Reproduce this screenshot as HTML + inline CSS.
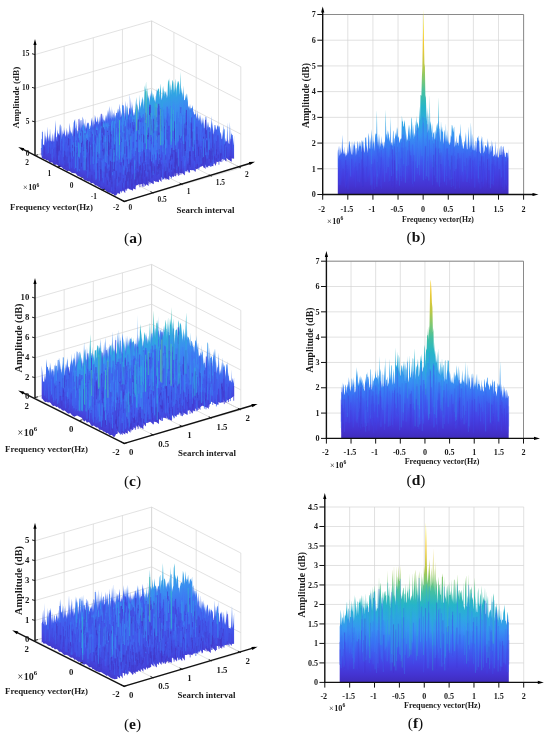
<!DOCTYPE html>
<html><head><meta charset="utf-8"><title>Figure</title>
<style>html,body{margin:0;padding:0;background:#fff}svg{display:block}text{font-family:'Liberation Serif', serif}</style>
</head><body>
<svg width="550" height="736" viewBox="0 0 550 736">
<rect width="550" height="736" fill="#fff"/>
<defs>
<linearGradient id="gb" gradientUnits="userSpaceOnUse" x1="0" y1="194.50" x2="0" y2="14.50"><stop offset="0.000" stop-color="#3f2cbc"/><stop offset="0.050" stop-color="#4434d2"/><stop offset="0.114" stop-color="#4442e4"/><stop offset="0.186" stop-color="#4058ee"/><stop offset="0.257" stop-color="#3a76f4"/><stop offset="0.329" stop-color="#3794f2"/><stop offset="0.400" stop-color="#2ea8e2"/><stop offset="0.486" stop-color="#26b5c8"/><stop offset="0.571" stop-color="#45c0a0"/><stop offset="0.643" stop-color="#80c870"/><stop offset="0.714" stop-color="#b8c848"/><stop offset="0.786" stop-color="#e0c838"/><stop offset="0.857" stop-color="#f5cc30"/><stop offset="1.000" stop-color="#f8f020"/></linearGradient>
<linearGradient id="gd" gradientUnits="userSpaceOnUse" x1="0" y1="438.40" x2="0" y2="261.20"><stop offset="0.000" stop-color="#3f2cbc"/><stop offset="0.050" stop-color="#4434d2"/><stop offset="0.114" stop-color="#4442e4"/><stop offset="0.186" stop-color="#4058ee"/><stop offset="0.257" stop-color="#3a76f4"/><stop offset="0.329" stop-color="#3794f2"/><stop offset="0.400" stop-color="#2ea8e2"/><stop offset="0.486" stop-color="#26b5c8"/><stop offset="0.571" stop-color="#45c0a0"/><stop offset="0.643" stop-color="#80c870"/><stop offset="0.714" stop-color="#b8c848"/><stop offset="0.786" stop-color="#e0c838"/><stop offset="0.857" stop-color="#f5cc30"/><stop offset="1.000" stop-color="#f8f020"/></linearGradient>
<linearGradient id="gf" gradientUnits="userSpaceOnUse" x1="0" y1="682.40" x2="0" y2="522.59"><stop offset="0.000" stop-color="#3f2cbc"/><stop offset="0.050" stop-color="#4434d2"/><stop offset="0.114" stop-color="#4442e4"/><stop offset="0.186" stop-color="#4058ee"/><stop offset="0.257" stop-color="#3a76f4"/><stop offset="0.329" stop-color="#3794f2"/><stop offset="0.400" stop-color="#2ea8e2"/><stop offset="0.486" stop-color="#26b5c8"/><stop offset="0.571" stop-color="#45c0a0"/><stop offset="0.643" stop-color="#80c870"/><stop offset="0.714" stop-color="#b8c848"/><stop offset="0.786" stop-color="#e0c838"/><stop offset="0.857" stop-color="#f5cc30"/><stop offset="1.000" stop-color="#f8f020"/></linearGradient>
<linearGradient id="ga" gradientUnits="userSpaceOnUse" x1="0" y1="0.00" x2="0" y2="-90.90"><stop offset="0.000" stop-color="#4238c8"/><stop offset="0.080" stop-color="#4444dc"/><stop offset="0.220" stop-color="#4259ec"/><stop offset="0.360" stop-color="#3e74f2"/><stop offset="0.500" stop-color="#3a8ef0"/><stop offset="0.650" stop-color="#30a6e2"/><stop offset="0.800" stop-color="#30b8cc"/><stop offset="1.000" stop-color="#60c8a0"/></linearGradient>
<linearGradient id="gc" gradientUnits="userSpaceOnUse" x1="0" y1="0.00" x2="0" y2="-89.55"><stop offset="0.000" stop-color="#4238c8"/><stop offset="0.080" stop-color="#4444dc"/><stop offset="0.220" stop-color="#4259ec"/><stop offset="0.360" stop-color="#3e74f2"/><stop offset="0.500" stop-color="#3a8ef0"/><stop offset="0.650" stop-color="#30a6e2"/><stop offset="0.800" stop-color="#30b8cc"/><stop offset="1.000" stop-color="#60c8a0"/></linearGradient>
<linearGradient id="ge" gradientUnits="userSpaceOnUse" x1="0" y1="0.00" x2="0" y2="-95.62"><stop offset="0.000" stop-color="#4238c8"/><stop offset="0.080" stop-color="#4444dc"/><stop offset="0.220" stop-color="#4259ec"/><stop offset="0.360" stop-color="#3e74f2"/><stop offset="0.500" stop-color="#3a8ef0"/><stop offset="0.650" stop-color="#30a6e2"/><stop offset="0.800" stop-color="#30b8cc"/><stop offset="1.000" stop-color="#60c8a0"/></linearGradient>
</defs>
<line x1="347.81" y1="14.50" x2="347.81" y2="194.50" stroke="#d4d4d4" stroke-width="0.7"/>
<line x1="372.93" y1="14.50" x2="372.93" y2="194.50" stroke="#d4d4d4" stroke-width="0.7"/>
<line x1="398.04" y1="14.50" x2="398.04" y2="194.50" stroke="#d4d4d4" stroke-width="0.7"/>
<line x1="423.15" y1="14.50" x2="423.15" y2="194.50" stroke="#d4d4d4" stroke-width="0.7"/>
<line x1="448.26" y1="14.50" x2="448.26" y2="194.50" stroke="#d4d4d4" stroke-width="0.7"/>
<line x1="473.38" y1="14.50" x2="473.38" y2="194.50" stroke="#d4d4d4" stroke-width="0.7"/>
<line x1="498.49" y1="14.50" x2="498.49" y2="194.50" stroke="#d4d4d4" stroke-width="0.7"/>
<line x1="523.60" y1="14.50" x2="523.60" y2="194.50" stroke="#d4d4d4" stroke-width="0.7"/>
<line x1="322.70" y1="168.79" x2="523.60" y2="168.79" stroke="#d4d4d4" stroke-width="0.7"/>
<line x1="322.70" y1="143.07" x2="523.60" y2="143.07" stroke="#d4d4d4" stroke-width="0.7"/>
<line x1="322.70" y1="117.36" x2="523.60" y2="117.36" stroke="#d4d4d4" stroke-width="0.7"/>
<line x1="322.70" y1="91.64" x2="523.60" y2="91.64" stroke="#d4d4d4" stroke-width="0.7"/>
<line x1="322.70" y1="65.93" x2="523.60" y2="65.93" stroke="#d4d4d4" stroke-width="0.7"/>
<line x1="322.70" y1="40.21" x2="523.60" y2="40.21" stroke="#d4d4d4" stroke-width="0.7"/>
<line x1="322.70" y1="14.50" x2="523.60" y2="14.50" stroke="#d4d4d4" stroke-width="0.7"/>
<line x1="322.70" y1="14.50" x2="523.60" y2="14.50" stroke="#8a8a8a" stroke-width="1.0"/>
<line x1="523.60" y1="14.50" x2="523.60" y2="194.50" stroke="#8a8a8a" stroke-width="1.0"/>
<polygon points="337.8,194.5 337.8,153.2 338.3,145.7 338.7,158.7 339.2,145.3 339.7,155.9 340.2,153.9 340.7,146.9 341.2,153.9 341.7,151.4 342.2,134.5 342.7,147.6 343.1,151.1 343.6,154.5 344.1,146.4 344.6,154.6 345.1,152.0 345.6,157.0 346.1,152.5 346.6,155.7 347.1,154.6 347.6,146.0 348.0,154.0 348.5,150.4 349.0,141.2 349.5,141.4 350.0,145.6 350.5,148.8 351.0,153.3 351.5,155.1 352.0,140.3 352.4,148.7 352.9,155.4 353.4,146.4 353.9,143.3 354.4,146.3 354.9,140.3 355.4,155.9 355.9,147.4 356.4,148.5 356.9,155.2 357.3,144.8 357.8,140.5 358.3,145.4 358.8,151.4 359.3,140.2 359.8,146.5 360.3,146.3 360.8,141.5 361.3,152.7 361.7,139.8 362.2,142.4 362.7,140.1 363.2,151.4 363.7,139.5 364.2,151.1 364.7,152.9 365.2,137.9 365.7,137.6 366.1,137.1 366.6,145.2 367.1,148.8 367.6,153.3 368.1,141.2 368.6,132.7 369.1,136.9 369.6,148.0 370.1,149.1 370.6,140.6 371.0,136.9 371.5,129.0 372.0,149.8 372.5,143.2 373.0,134.3 373.5,144.1 374.0,140.5 374.5,151.3 375.0,138.4 375.4,132.9 375.9,134.7 376.4,133.3 376.9,109.6 377.4,146.5 377.9,135.4 378.4,146.9 378.9,133.6 379.4,149.4 379.8,133.4 380.3,147.3 380.8,142.9 381.3,144.0 381.8,135.8 382.3,146.5 382.8,141.9 383.3,149.3 383.8,144.4 384.3,140.9 384.7,147.2 385.2,136.0 385.7,109.6 386.2,133.5 386.7,135.0 387.2,139.8 387.7,129.7 388.2,135.0 388.7,130.7 389.1,141.2 389.6,136.6 390.1,144.0 390.6,116.6 391.1,142.8 391.6,142.4 392.1,146.0 392.6,142.1 393.1,130.3 393.5,131.7 394.0,144.4 394.5,138.9 395.0,137.7 395.5,131.9 396.0,136.7 396.5,133.4 397.0,127.1 397.5,129.8 398.0,138.2 398.4,136.1 398.9,137.8 399.4,143.3 399.9,141.2 400.4,139.3 400.9,138.5 401.4,138.4 401.9,115.6 402.4,121.9 402.8,120.5 403.3,126.2 403.8,126.8 404.3,120.0 404.8,122.4 405.3,128.1 405.8,132.6 406.3,142.2 406.8,132.6 407.2,139.0 407.7,140.7 408.2,131.7 408.7,124.5 409.2,136.6 409.7,124.6 410.2,130.6 410.7,139.5 411.2,118.9 411.7,117.1 412.1,135.7 412.6,121.5 413.1,139.4 413.6,124.1 414.1,137.6 414.6,132.5 415.1,136.2 415.6,120.3 416.1,131.7 416.5,115.7 417.0,124.5 417.5,121.7 418.0,125.0 418.5,128.7 419.0,124.1 419.5,106.3 420.0,121.7 420.5,95.4 420.9,94.7 421.4,96.0 421.9,76.4 422.4,66.9 422.9,37.2 423.4,9.5 423.9,37.2 424.4,63.6 424.9,67.0 425.4,97.8 425.8,94.9 426.3,110.2 426.8,121.5 427.3,107.4 427.8,133.1 428.3,128.9 428.8,112.2 429.3,132.9 429.8,94.2 430.2,125.8 430.7,121.0 431.2,126.0 431.7,133.2 432.2,123.1 432.7,141.3 433.2,131.7 433.7,133.7 434.2,131.2 434.6,139.7 435.1,137.7 435.6,129.6 436.1,134.1 436.6,124.0 437.1,128.9 437.6,122.5 438.1,126.0 438.6,96.8 439.1,137.3 439.5,125.2 440.0,138.4 440.5,142.4 441.0,121.1 441.5,132.0 442.0,126.3 442.5,132.5 443.0,130.7 443.5,143.9 443.9,140.9 444.4,129.6 444.9,132.3 445.4,141.9 445.9,123.1 446.4,142.3 446.9,134.3 447.4,142.8 447.9,129.6 448.3,140.2 448.8,143.3 449.3,145.2 449.8,142.8 450.3,142.5 450.8,134.9 451.3,137.1 451.8,125.1 452.3,125.4 452.8,129.4 453.2,132.5 453.7,128.5 454.2,126.4 454.7,147.0 455.2,145.3 455.7,140.4 456.2,146.1 456.7,135.3 457.2,143.0 457.6,143.0 458.1,142.6 458.6,146.6 459.1,132.8 459.6,135.1 460.1,136.2 460.6,123.3 461.1,140.5 461.6,134.9 462.0,146.4 462.5,141.8 463.0,149.1 463.5,148.2 464.0,145.7 464.5,141.8 465.0,140.9 465.5,131.7 466.0,144.3 466.5,150.0 466.9,133.6 467.4,149.6 467.9,149.1 468.4,126.5 468.9,135.9 469.4,144.8 469.9,148.9 470.4,144.1 470.9,122.0 471.3,134.0 471.8,143.9 472.3,150.5 472.8,133.4 473.3,140.1 473.8,150.2 474.3,150.4 474.8,143.8 475.3,151.0 475.7,140.7 476.2,141.2 476.7,152.4 477.2,137.5 477.7,138.1 478.2,135.6 478.7,140.9 479.2,140.6 479.7,151.0 480.2,153.4 480.6,152.9 481.1,135.6 481.6,142.3 482.1,136.3 482.6,148.4 483.1,140.6 483.6,153.6 484.1,152.1 484.6,150.3 485.0,145.3 485.5,145.3 486.0,146.6 486.5,148.1 487.0,145.4 487.5,137.9 488.0,147.9 488.5,140.8 489.0,155.2 489.4,149.7 489.9,146.6 490.4,145.6 490.9,152.5 491.4,150.0 491.9,139.9 492.4,145.7 492.9,147.1 493.4,156.1 493.9,156.5 494.3,154.1 494.8,155.4 495.3,140.4 495.8,157.6 496.3,152.0 496.8,157.1 497.3,147.5 497.8,157.5 498.3,157.4 498.7,157.3 499.2,154.4 499.7,149.4 500.2,145.5 500.7,154.9 501.2,154.8 501.7,145.6 502.2,147.2 502.7,157.6 503.2,146.5 503.6,146.2 504.1,157.3 504.6,150.1 505.1,157.2 505.6,156.7 506.1,152.8 506.6,152.5 507.1,153.3 507.6,152.5 508.0,157.8 508.5,148.8 508.5,194.5" fill="url(#gb)"/>
<path d="M423.4,122.7V170.5M502.2,152.1V178.4M486.5,153.0V180.2M451.3,161.1V187.2M438.1,140.9V184.5M444.4,139.3V182.3M467.4,166.3V177.4M477.7,147.4V166.9M451.3,157.5V174.1M474.8,165.2V187.8M379.8,156.3V170.4M393.5,158.4V174.0M453.2,139.6V186.0M462.0,153.5V169.4M412.6,144.7V183.9M455.2,161.4V188.9M378.9,153.7V178.8M417.5,148.3V173.8M504.6,153.0V180.1M506.6,160.6V185.5M339.2,163.6V185.0M478.2,140.4V165.2M478.7,162.2V182.3M394.0,155.4V169.3M481.6,152.7V180.9M389.6,159.5V181.1M401.4,142.3V181.2M366.1,149.0V181.9M403.3,151.2V177.5M391.6,145.7V168.8M481.6,157.1V182.0M427.3,124.2V165.7M432.7,159.3V185.2M401.4,147.7V164.1M453.2,153.5V168.2M449.3,154.4V180.3M479.2,151.8V183.6M504.1,164.8V189.7M402.8,134.8V171.1M417.5,128.0V164.0M368.1,151.5V175.9M435.6,152.6V178.1M493.4,166.2V185.4M465.0,150.4V170.5M396.5,140.1V184.3M486.0,154.9V170.2M357.8,154.8V181.6M359.3,157.0V182.2M379.4,151.8V174.4M374.5,164.2V176.7M466.5,161.7V173.9M463.5,152.9V174.8M398.9,152.1V174.1M409.7,150.6V166.3M446.4,154.9V185.3M491.9,156.0V184.0M467.9,158.7V178.8M376.9,142.0V184.4M450.8,144.5V179.6M471.3,157.8V178.9M454.2,147.8V164.9M372.0,165.2V189.9M372.0,159.2V182.8M463.0,162.1V181.9M493.4,164.8V181.0M478.7,164.9V178.3M481.6,154.5V179.9M440.0,148.6V182.8M474.3,159.3V179.0M410.2,152.2V167.8M461.1,158.1V175.5M471.3,152.0V170.7M451.3,155.2V184.9" stroke="#4059ee" stroke-width="0.7" fill="none" opacity="0.5"/>
<path d="M392.1,160.3V186.5M457.2,159.3V183.2M346.6,173.0V186.6M435.6,139.7V176.9M427.8,156.3V183.3M343.1,168.8V184.0M363.2,167.5V185.5M441.0,152.7V183.1M454.7,155.9V186.5M494.8,165.8V183.3M394.5,146.4V186.0M502.2,157.1V187.1M492.9,157.7V185.0M345.6,160.1V185.0M506.1,161.5V185.4M458.1,153.1V179.1M440.0,155.5V184.3M410.7,155.4V183.3M479.7,166.4V180.4M345.6,170.8V187.4M409.2,141.0V181.0M451.3,162.1V177.2M497.3,156.6V182.7M481.6,156.9V188.5M472.8,160.3V187.0M392.6,149.3V187.3M470.4,158.2V186.3M414.1,155.1V184.4M481.6,155.5V182.4M396.5,152.7V188.2M361.7,159.5V181.1M466.5,158.2V186.1M397.5,146.7V179.1M338.7,169.8V181.7M425.4,146.1V179.7M356.9,170.6V181.3M489.0,170.8V180.6M503.2,149.5V182.2M425.8,146.4V186.6M359.3,163.1V179.4M392.1,159.5V185.1M502.7,170.9V190.9M366.6,166.9V182.1M435.1,161.3V185.3M489.0,170.1V185.1" stroke="#4437d6" stroke-width="0.7" fill="none" opacity="0.5"/>
<path d="M466.9,143.8V182.2M371.0,141.5V185.4M396.5,151.1V178.2M436.6,146.5V164.9M419.5,141.5V175.3M462.5,149.6V171.9M377.9,144.4V165.6M386.2,151.9V173.0M408.7,146.5V165.0M434.2,151.3V175.5M454.7,152.8V171.0M415.6,125.3V161.4M455.7,148.0V169.2M425.8,138.6V179.4M427.8,142.2V177.3M350.5,151.8V176.5M451.8,137.4V179.2M377.4,156.2V176.7M399.4,148.1V185.7M398.4,140.1V163.9M403.3,134.9V166.1M449.3,148.5V166.3M396.5,154.5V170.8M417.0,134.8V168.2M391.6,153.9V176.1M432.2,137.0V162.1M354.9,148.9V167.5M439.5,147.9V186.7M450.3,151.7V169.5M456.7,147.1V168.7M338.3,149.9V167.2M376.9,151.2V186.8M444.9,149.7V166.4M444.4,146.4V181.5M427.3,135.2V161.2M400.9,149.2V176.0M446.9,145.1V176.1M465.0,144.8V166.1M422.9,116.8V152.9M501.7,155.4V177.2M400.4,151.2V167.8M490.4,154.2V188.3M384.7,155.6V181.9M478.2,152.4V178.7" stroke="#3b73f3" stroke-width="0.7" fill="none" opacity="0.5"/>
<path d="M474.8,157.6V186.9M373.5,163.8V175.0M493.9,160.0V173.7M339.2,159.9V174.4M477.2,142.9V173.8M355.9,166.1V178.8M355.4,162.5V187.6M374.5,159.4V189.1M448.3,160.3V178.3M505.6,165.2V180.2M447.4,148.2V178.1M487.5,149.4V176.2M438.1,132.1V168.5M497.3,161.7V175.4M392.6,149.5V181.3M436.1,147.6V165.5M485.5,153.6V177.2M435.6,148.5V166.9M440.5,159.5V176.1M429.3,139.7V176.8M377.4,162.0V173.7M400.9,158.5V179.1M480.2,161.1V188.8M474.3,167.0V178.6M467.4,165.6V182.0M501.7,160.3V176.6M413.1,161.8V186.9M472.8,150.3V171.0M492.4,162.5V184.3M372.0,167.1V184.3M351.5,158.8V177.3M439.1,147.9V186.0M346.6,165.1V184.6M407.7,150.4V170.4M340.2,171.1V183.0M391.1,145.5V170.0M493.4,164.5V180.2M348.0,169.8V189.5M483.6,162.1V173.8M483.6,163.9V181.0M491.9,164.0V175.5M505.6,168.7V183.9M345.6,160.9V187.7M457.6,164.4V181.6M403.3,147.7V177.2M464.0,162.0V180.7M377.9,148.7V170.1M372.5,164.6V184.5M404.8,138.8V170.4M469.9,156.0V172.6M469.4,160.1V183.1M502.2,154.9V187.2M340.7,159.7V185.0M352.0,159.8V174.5M362.7,148.7V186.3M380.3,167.9V186.3M405.8,146.8V168.5M381.3,150.1V175.4M385.2,148.0V170.9M486.5,168.1V182.7M381.3,157.5V188.8M388.7,157.3V182.1M489.0,158.6V183.7M440.5,160.1V177.6M433.7,143.5V169.6M483.1,156.2V186.6M446.9,148.8V175.3M367.6,155.7V177.5M346.6,171.1V180.9M459.6,158.2V188.2M483.6,168.5V184.4" stroke="#4345e6" stroke-width="0.7" fill="none" opacity="0.5"/>
<path d="M397.0,145.0V180.5M405.3,137.5V182.8M438.6,121.5V148.8M406.8,139.7V166.0M426.3,141.2V176.2M439.5,128.7V153.3M417.5,140.2V168.0M433.2,137.7V167.3M419.0,135.1V165.2M421.9,133.4V156.2M441.0,129.8V164.2M425.4,118.0V145.2M397.0,137.4V170.7M371.5,144.0V164.2M428.8,133.8V180.5M388.2,138.9V167.1M414.6,142.8V181.5M423.4,118.4V180.3M403.8,141.2V164.3M437.1,142.4V182.3" stroke="#388df2" stroke-width="0.7" fill="none" opacity="0.5"/>
<path d="M433.7,154.8V186.2M362.7,147.4V186.9M499.2,169.2V189.5M507.6,158.1V185.4M451.8,155.6V185.7M487.5,159.2V187.6M394.5,160.4V189.1" stroke="#412fc5" stroke-width="0.7" fill="none" opacity="0.5"/>
<line x1="322.70" y1="195.20" x2="322.70" y2="10.40" stroke="#111" stroke-width="1.4"/>
<polygon points="322.70,6.40 324.30,12.40 321.10,12.40" fill="#000"/>
<line x1="322.00" y1="194.50" x2="534.50" y2="194.50" stroke="#111" stroke-width="1.4"/>
<polygon points="538.50,194.50 532.50,196.10 532.50,192.90" fill="#000"/>
<line x1="322.70" y1="194.50" x2="322.70" y2="199.70" stroke="#111" stroke-width="1.0"/>
<text x="321.7" y="211.8" font-size="8.1" text-anchor="middle" font-weight="bold" fill="#1a1a1a">-2</text>
<line x1="347.81" y1="194.50" x2="347.81" y2="199.70" stroke="#111" stroke-width="1.0"/>
<text x="346.8" y="211.8" font-size="8.1" text-anchor="middle" font-weight="bold" fill="#1a1a1a">-1.5</text>
<line x1="372.93" y1="194.50" x2="372.93" y2="199.70" stroke="#111" stroke-width="1.0"/>
<text x="371.9" y="211.8" font-size="8.1" text-anchor="middle" font-weight="bold" fill="#1a1a1a">-1</text>
<line x1="398.04" y1="194.50" x2="398.04" y2="199.70" stroke="#111" stroke-width="1.0"/>
<text x="397.0" y="211.8" font-size="8.1" text-anchor="middle" font-weight="bold" fill="#1a1a1a">-0.5</text>
<line x1="423.15" y1="194.50" x2="423.15" y2="199.70" stroke="#111" stroke-width="1.0"/>
<text x="423.1" y="211.8" font-size="8.1" text-anchor="middle" font-weight="bold" fill="#1a1a1a">0</text>
<line x1="448.26" y1="194.50" x2="448.26" y2="199.70" stroke="#111" stroke-width="1.0"/>
<text x="448.3" y="211.8" font-size="8.1" text-anchor="middle" font-weight="bold" fill="#1a1a1a">0.5</text>
<line x1="473.38" y1="194.50" x2="473.38" y2="199.70" stroke="#111" stroke-width="1.0"/>
<text x="473.4" y="211.8" font-size="8.1" text-anchor="middle" font-weight="bold" fill="#1a1a1a">1</text>
<line x1="498.49" y1="194.50" x2="498.49" y2="199.70" stroke="#111" stroke-width="1.0"/>
<text x="498.5" y="211.8" font-size="8.1" text-anchor="middle" font-weight="bold" fill="#1a1a1a">1.5</text>
<line x1="523.60" y1="194.50" x2="523.60" y2="199.70" stroke="#111" stroke-width="1.0"/>
<text x="523.6" y="211.8" font-size="8.1" text-anchor="middle" font-weight="bold" fill="#1a1a1a">2</text>
<line x1="317.30" y1="194.50" x2="322.70" y2="194.50" stroke="#111" stroke-width="1.0"/>
<text x="315.9" y="197.2" font-size="8.1" text-anchor="end" font-weight="bold" fill="#1a1a1a">0</text>
<line x1="317.30" y1="168.79" x2="322.70" y2="168.79" stroke="#111" stroke-width="1.0"/>
<text x="315.9" y="171.5" font-size="8.1" text-anchor="end" font-weight="bold" fill="#1a1a1a">1</text>
<line x1="317.30" y1="143.07" x2="322.70" y2="143.07" stroke="#111" stroke-width="1.0"/>
<text x="315.9" y="145.7" font-size="8.1" text-anchor="end" font-weight="bold" fill="#1a1a1a">2</text>
<line x1="317.30" y1="117.36" x2="322.70" y2="117.36" stroke="#111" stroke-width="1.0"/>
<text x="315.9" y="120.0" font-size="8.1" text-anchor="end" font-weight="bold" fill="#1a1a1a">3</text>
<line x1="317.30" y1="91.64" x2="322.70" y2="91.64" stroke="#111" stroke-width="1.0"/>
<text x="315.9" y="94.3" font-size="8.1" text-anchor="end" font-weight="bold" fill="#1a1a1a">4</text>
<line x1="317.30" y1="65.93" x2="322.70" y2="65.93" stroke="#111" stroke-width="1.0"/>
<text x="315.9" y="68.6" font-size="8.1" text-anchor="end" font-weight="bold" fill="#1a1a1a">5</text>
<line x1="317.30" y1="40.21" x2="322.70" y2="40.21" stroke="#111" stroke-width="1.0"/>
<text x="315.9" y="42.9" font-size="8.1" text-anchor="end" font-weight="bold" fill="#1a1a1a">6</text>
<line x1="317.30" y1="14.50" x2="322.70" y2="14.50" stroke="#111" stroke-width="1.0"/>
<text x="315.9" y="17.2" font-size="8.1" text-anchor="end" font-weight="bold" fill="#1a1a1a">7</text>
<text x="438.0" y="221.5" font-size="7.7" text-anchor="middle" font-weight="bold" fill="#1a1a1a">Frequency vector(Hz)</text>
<text x="309.2" y="95.5" font-size="9.7" text-anchor="middle" font-weight="bold" transform="rotate(-90 309.2 95.5)" fill="#1a1a1a">Amplitude (dB)</text>
<text x="327.0" y="223.8" font-size="8.2" fill="#1a1a1a">×<tspan font-weight="bold" dx="0.6">10</tspan><tspan dy="-3.7" font-size="5.6" font-weight="bold">6</tspan></text>
<text x="416.0" y="242.0" font-size="15.5" text-anchor="middle" fill="#111">(<tspan font-weight="bold">b</tspan>)</text>
<line x1="351.04" y1="261.20" x2="351.04" y2="438.40" stroke="#d4d4d4" stroke-width="0.7"/>
<line x1="375.67" y1="261.20" x2="375.67" y2="438.40" stroke="#d4d4d4" stroke-width="0.7"/>
<line x1="400.31" y1="261.20" x2="400.31" y2="438.40" stroke="#d4d4d4" stroke-width="0.7"/>
<line x1="424.95" y1="261.20" x2="424.95" y2="438.40" stroke="#d4d4d4" stroke-width="0.7"/>
<line x1="449.59" y1="261.20" x2="449.59" y2="438.40" stroke="#d4d4d4" stroke-width="0.7"/>
<line x1="474.23" y1="261.20" x2="474.23" y2="438.40" stroke="#d4d4d4" stroke-width="0.7"/>
<line x1="498.86" y1="261.20" x2="498.86" y2="438.40" stroke="#d4d4d4" stroke-width="0.7"/>
<line x1="523.50" y1="261.20" x2="523.50" y2="438.40" stroke="#d4d4d4" stroke-width="0.7"/>
<line x1="326.40" y1="413.09" x2="523.50" y2="413.09" stroke="#d4d4d4" stroke-width="0.7"/>
<line x1="326.40" y1="387.77" x2="523.50" y2="387.77" stroke="#d4d4d4" stroke-width="0.7"/>
<line x1="326.40" y1="362.46" x2="523.50" y2="362.46" stroke="#d4d4d4" stroke-width="0.7"/>
<line x1="326.40" y1="337.14" x2="523.50" y2="337.14" stroke="#d4d4d4" stroke-width="0.7"/>
<line x1="326.40" y1="311.83" x2="523.50" y2="311.83" stroke="#d4d4d4" stroke-width="0.7"/>
<line x1="326.40" y1="286.51" x2="523.50" y2="286.51" stroke="#d4d4d4" stroke-width="0.7"/>
<line x1="326.40" y1="261.20" x2="523.50" y2="261.20" stroke="#d4d4d4" stroke-width="0.7"/>
<line x1="326.40" y1="261.20" x2="523.50" y2="261.20" stroke="#8a8a8a" stroke-width="1.0"/>
<line x1="523.50" y1="261.20" x2="523.50" y2="438.40" stroke="#8a8a8a" stroke-width="1.0"/>
<polygon points="341.2,438.4 341.2,392.6 341.7,391.8 342.1,382.1 342.6,395.0 343.1,386.0 343.6,383.4 344.1,393.2 344.5,395.2 345.0,391.4 345.5,384.2 346.0,385.9 346.5,393.3 346.9,388.1 347.4,383.5 347.9,388.1 348.4,383.9 348.9,377.1 349.3,382.7 349.8,388.2 350.3,391.8 350.8,388.8 351.3,385.6 351.7,377.9 352.2,380.1 352.7,388.9 353.2,376.8 353.7,385.7 354.1,381.2 354.6,392.2 355.1,392.2 355.6,390.3 356.1,376.8 356.5,367.1 357.0,377.2 357.5,370.4 358.0,385.9 358.5,383.6 358.9,382.0 359.4,376.3 359.9,384.9 360.4,375.3 360.9,381.1 361.3,376.4 361.8,383.2 362.3,379.0 362.8,386.1 363.3,382.3 363.7,388.3 364.2,390.2 364.7,391.2 365.2,378.1 365.7,383.1 366.1,373.6 366.6,374.8 367.1,384.2 367.6,371.5 368.1,379.6 368.5,375.8 369.0,383.3 369.5,387.3 370.0,387.7 370.5,369.9 370.9,368.7 371.4,388.5 371.9,390.0 372.4,373.2 372.9,388.4 373.3,381.3 373.8,380.4 374.3,377.4 374.8,379.8 375.3,370.0 375.7,374.1 376.2,377.9 376.7,376.9 377.2,379.2 377.7,368.7 378.1,384.8 378.6,374.7 379.1,377.6 379.6,356.1 380.1,382.9 380.5,368.7 381.0,371.9 381.5,388.1 382.0,382.5 382.5,387.9 382.9,370.4 383.4,385.9 383.9,386.8 384.4,364.5 384.9,378.6 385.3,357.2 385.8,386.5 386.3,379.5 386.8,379.9 387.3,376.2 387.7,386.8 388.2,384.1 388.7,382.8 389.2,377.6 389.7,358.7 390.1,373.4 390.6,380.7 391.1,366.1 391.6,364.7 392.1,385.0 392.5,381.9 393.0,373.9 393.5,368.8 394.0,384.5 394.5,382.0 394.9,375.9 395.4,347.3 395.9,364.9 396.4,365.6 396.9,367.3 397.3,351.4 397.8,362.5 398.3,371.3 398.8,354.6 399.3,358.3 399.7,370.7 400.2,376.2 400.7,374.7 401.2,365.8 401.7,365.2 402.1,371.9 402.6,365.7 403.1,375.0 403.6,360.8 404.1,370.0 404.5,360.7 405.0,382.6 405.5,362.6 406.0,370.6 406.5,366.7 406.9,379.1 407.4,356.0 407.9,376.6 408.4,380.6 408.9,382.5 409.3,355.1 409.8,366.8 410.3,378.0 410.8,376.7 411.3,371.6 411.7,362.5 412.2,379.5 412.7,358.3 413.2,358.8 413.7,376.3 414.1,366.4 414.6,348.0 415.1,364.7 415.6,379.4 416.1,370.2 416.5,367.1 417.0,365.9 417.5,364.0 418.0,358.6 418.5,375.0 418.9,376.9 419.4,371.0 419.9,366.2 420.4,355.5 420.9,361.8 421.3,360.7 421.8,353.8 422.3,371.7 422.8,371.1 423.3,366.2 423.7,368.3 424.2,344.7 424.7,348.0 425.2,366.8 425.7,355.5 426.2,348.5 426.6,350.2 427.1,335.0 427.6,335.4 428.1,326.2 428.6,340.1 429.0,330.9 429.5,325.3 430.0,295.4 430.5,279.5 431.0,282.7 431.4,289.5 431.9,302.8 432.4,307.6 432.9,332.6 433.4,327.9 433.8,346.0 434.3,354.7 434.8,342.1 435.3,363.2 435.8,350.1 436.2,363.3 436.7,360.4 437.2,351.6 437.7,369.9 438.2,347.8 438.6,369.5 439.1,374.3 439.6,368.1 440.1,375.8 440.6,360.9 441.0,366.1 441.5,374.7 442.0,357.5 442.5,373.8 443.0,366.0 443.4,364.6 443.9,376.4 444.4,382.0 444.9,361.2 445.4,359.7 445.8,379.3 446.3,379.8 446.8,373.5 447.3,369.7 447.8,359.9 448.2,360.8 448.7,360.4 449.2,378.7 449.7,370.5 450.2,374.6 450.6,379.5 451.1,383.1 451.6,381.1 452.1,377.1 452.6,383.1 453.0,381.9 453.5,384.2 454.0,371.5 454.5,374.8 455.0,380.6 455.4,374.3 455.9,376.8 456.4,371.5 456.9,365.1 457.4,378.9 457.8,372.4 458.3,382.1 458.8,365.7 459.3,373.5 459.8,383.8 460.2,381.9 460.7,384.1 461.2,383.8 461.7,381.3 462.2,369.8 462.6,378.4 463.1,382.4 463.6,379.5 464.1,382.9 464.6,372.8 465.0,387.3 465.5,360.9 466.0,382.4 466.5,385.4 467.0,373.6 467.4,385.7 467.9,364.2 468.4,388.3 468.9,373.9 469.4,382.6 469.8,376.5 470.3,385.9 470.8,389.6 471.3,384.1 471.8,374.5 472.2,373.4 472.7,384.0 473.2,373.6 473.7,390.0 474.2,380.9 474.6,386.5 475.1,383.0 475.6,387.5 476.1,373.7 476.6,386.2 477.0,372.9 477.5,390.1 478.0,384.1 478.5,384.0 479.0,378.7 479.4,386.3 479.9,383.5 480.4,391.6 480.9,387.4 481.4,379.3 481.8,391.5 482.3,384.9 482.8,389.4 483.3,390.9 483.8,391.8 484.2,378.5 484.7,381.3 485.2,387.5 485.7,387.5 486.2,381.0 486.6,383.7 487.1,377.6 487.6,377.7 488.1,386.5 488.6,383.3 489.0,385.7 489.5,390.2 490.0,387.7 490.5,382.8 491.0,386.2 491.4,384.8 491.9,387.8 492.4,379.0 492.9,382.6 493.4,394.5 493.8,382.2 494.3,380.4 494.8,382.6 495.3,391.5 495.8,391.2 496.2,393.5 496.7,396.6 497.2,389.8 497.7,383.0 498.2,384.8 498.6,386.9 499.1,383.7 499.6,387.3 500.1,360.9 500.6,385.0 501.0,393.0 501.5,383.8 502.0,394.0 502.5,397.8 503.0,387.3 503.4,397.9 503.9,385.1 504.4,393.3 504.9,387.1 505.4,399.2 505.8,391.6 506.3,389.5 506.8,398.6 507.3,391.0 507.8,398.6 508.2,396.3 508.7,395.5 508.7,438.4" fill="url(#gd)"/>
<path d="M434.3,374.7V426.7M367.1,388.5V409.0M433.4,363.4V405.0M356.1,388.8V420.7M422.8,391.4V409.5M341.7,411.1V429.3M367.6,397.4V422.8M417.0,384.0V417.5M344.5,409.5V432.1M420.9,386.0V421.1M465.5,383.3V408.3M418.5,402.4V417.6M505.8,403.4V417.4M367.6,391.9V415.4M508.7,406.3V426.5M455.9,390.3V424.7M420.4,385.2V423.7M407.4,362.6V410.2M394.5,394.8V418.7M429.0,375.8V414.3M466.5,408.6V420.3M461.7,388.4V420.1M493.4,401.0V416.3M410.3,404.9V418.0M372.4,401.1V425.6M364.7,405.9V426.9M384.4,383.9V409.9M469.4,399.0V427.5M395.9,388.7V407.6M371.9,396.0V413.2M399.7,387.1V406.8M372.9,395.5V418.1M388.7,405.2V422.6M368.1,399.4V418.1M410.8,400.1V417.7M448.2,390.8V424.1M360.9,396.1V429.7M498.6,405.7V420.1M455.9,385.3V428.6M466.0,387.9V423.3M362.8,398.2V427.2M381.0,397.1V426.8M485.7,400.7V432.1M418.9,393.9V429.0M485.7,390.2V414.1M457.8,385.6V412.6M343.1,408.4V423.3M461.2,388.4V411.1M358.5,405.0V417.0M499.1,388.7V421.8M369.0,389.6V430.8M492.9,405.8V421.2M361.3,383.6V424.2M357.5,398.3V419.4M497.2,402.1V417.1M490.0,402.5V423.9M392.5,390.8V425.0M394.5,387.4V411.8M483.8,395.6V423.7M346.0,400.3V422.3M378.1,395.1V417.8M384.4,382.7V429.9M364.7,401.3V419.1M360.4,396.0V420.4M389.2,390.8V421.4M360.4,391.4V428.2M445.8,403.2V415.6M448.7,373.3V422.8M368.1,405.5V423.0M396.9,393.2V416.7M463.1,398.2V420.3M474.2,387.4V408.2M424.2,384.1V405.6M478.5,396.1V415.7M459.8,397.8V421.7M353.2,394.5V427.5" stroke="#4059ee" stroke-width="0.7" fill="none" opacity="0.5"/>
<path d="M441.5,379.7V402.0M375.7,387.9V407.0M480.4,397.5V421.4M357.0,399.9V422.8M413.2,371.6V397.5M366.6,393.2V426.2M464.6,397.3V415.2M390.1,393.3V425.7M419.4,379.8V417.5M482.8,396.7V411.8M341.2,398.5V428.1M343.6,389.3V411.9M443.9,380.9V417.8M365.2,385.3V422.9M436.2,382.7V415.3M433.8,381.3V427.6M399.7,395.9V430.3M460.2,389.2V418.6M374.3,392.8V411.6M436.7,370.3V424.5M422.8,380.2V419.6M367.6,377.0V412.0M365.7,396.7V431.7M485.7,392.8V431.0M395.4,375.2V404.4M441.0,385.6V405.3M433.8,366.7V392.7M463.1,385.6V405.0M377.2,387.5V417.3M501.5,390.9V408.5M423.3,389.9V423.7M468.4,396.6V432.0M437.7,392.4V409.9M468.9,378.4V426.1M370.5,390.4V418.7M414.1,389.5V409.7M418.0,390.4V408.4M408.9,388.7V407.8M444.4,386.3V424.1M384.9,388.4V407.4M440.6,386.3V408.7M428.1,362.8V415.7M454.5,393.4V412.2M358.5,397.0V412.3M466.0,392.2V411.1M459.3,395.3V414.0M388.7,387.5V426.7M422.3,394.3V431.1M413.2,387.6V408.4M462.6,391.3V418.3M455.9,385.4V413.6M406.0,393.2V421.7M348.9,381.8V422.8M402.1,383.3V411.8M434.8,385.2V407.4" stroke="#3b73f3" stroke-width="0.7" fill="none" opacity="0.5"/>
<path d="M479.4,403.6V430.9M400.2,394.4V428.4M410.8,393.3V428.6M459.3,380.0V425.8M455.9,401.7V422.8M500.6,405.0V426.5M410.3,394.2V426.9M405.0,403.5V429.1M489.0,403.0V429.3M443.9,390.2V427.4M343.1,408.1V426.2M411.3,390.9V431.1M459.3,400.7V425.8M372.9,391.2V425.4M341.7,405.0V432.1M344.1,399.2V429.8M474.6,399.1V430.3M472.2,400.2V430.4M502.0,401.8V432.6M459.8,397.6V431.1M359.9,408.5V428.7M504.4,408.6V427.1M348.4,395.6V426.5M493.4,413.7V424.0M439.1,382.3V427.7M491.9,404.9V431.2M502.0,413.6V425.0M394.5,390.4V429.9M430.0,369.3V423.3M455.0,388.6V423.8M380.1,390.7V421.9M350.8,410.1V429.2M506.8,413.1V425.7M453.0,403.9V429.3M463.6,405.9V421.3" stroke="#4437d6" stroke-width="0.7" fill="none" opacity="0.5"/>
<path d="M396.4,378.0V408.2M456.4,384.6V419.9M455.4,384.1V421.3M436.2,377.5V418.0M403.1,384.1V420.6M410.8,380.9V404.1M428.6,374.0V420.1M433.4,384.1V407.2M403.6,365.8V392.7M455.9,382.3V417.3M490.5,385.9V422.6M429.5,352.9V413.9M384.9,384.7V423.8M367.6,377.0V406.9M464.1,386.5V424.3M347.4,391.0V417.1M419.4,380.9V424.5M427.1,372.1V399.5M401.2,370.4V427.4M382.9,374.7V409.9M397.8,372.5V396.6M498.2,390.1V421.6M476.1,382.6V411.8M418.0,376.8V427.1M416.5,377.2V399.2M443.0,387.5V428.6M403.6,375.4V412.5" stroke="#388df2" stroke-width="0.7" fill="none" opacity="0.5"/>
<path d="M380.5,381.4V425.2M500.6,394.8V418.5M387.7,404.3V427.3M491.4,403.9V424.0M494.3,396.0V415.0M423.7,380.0V414.3M387.3,386.2V414.0M342.1,387.7V414.7M376.2,405.1V430.5M350.8,402.5V421.9M366.6,400.6V422.0M480.9,407.8V419.8M421.3,367.3V420.0M393.0,393.1V427.6M370.9,384.5V414.9M437.7,400.2V432.0M366.1,383.6V410.0M446.8,383.7V417.8M371.4,404.1V422.8M431.4,387.3V412.0M506.8,405.1V431.6M394.9,403.5V417.0M439.1,393.5V416.7M376.2,394.5V423.4M425.7,388.8V408.7M378.6,396.9V422.4M501.5,400.1V430.8M397.3,367.8V412.8M341.2,400.0V421.8M378.6,393.9V415.4M358.5,386.4V427.0M467.4,401.2V428.5M473.7,410.5V433.3M375.7,385.5V414.5M381.5,408.0V426.9M416.1,399.4V417.9M430.5,371.2V411.0M413.7,403.6V428.5M508.2,413.6V432.7M505.4,415.2V423.8M417.0,386.3V417.8M369.5,390.0V415.7M347.4,393.2V413.0M451.6,394.4V413.9M433.8,365.3V425.5M472.2,377.7V414.3M380.5,395.9V427.2M406.0,383.0V420.6M487.1,401.5V417.9M397.8,392.8V414.2M496.7,410.3V430.5M341.7,403.5V421.0M443.4,397.7V414.7M373.8,403.4V432.9M360.4,402.8V420.7" stroke="#4345e6" stroke-width="0.7" fill="none" opacity="0.5"/>
<path d="M415.1,374.7V426.4M434.3,370.1V414.2M419.4,377.6V409.4M429.0,361.4V418.4M378.6,378.3V404.4M448.2,379.9V407.0M414.6,370.4V409.8" stroke="#31a1e8" stroke-width="0.7" fill="none" opacity="0.5"/>
<path d="M407.4,361.5V398.5M442.0,367.2V410.6M418.0,366.8V405.0" stroke="#2aaed7" stroke-width="0.7" fill="none" opacity="0.5"/>
<path d="M425.7,360.4V394.8" stroke="#2bb7c1" stroke-width="0.7" fill="none" opacity="0.5"/>
<path d="M360.9,387.0V430.5" stroke="#412fc5" stroke-width="0.7" fill="none" opacity="0.5"/>
<line x1="326.40" y1="439.10" x2="326.40" y2="255.00" stroke="#111" stroke-width="1.4"/>
<polygon points="326.40,251.00 328.00,257.00 324.80,257.00" fill="#000"/>
<line x1="325.70" y1="438.40" x2="536.00" y2="438.40" stroke="#111" stroke-width="1.4"/>
<polygon points="540.00,438.40 534.00,440.00 534.00,436.80" fill="#000"/>
<line x1="326.40" y1="438.40" x2="326.40" y2="443.60" stroke="#111" stroke-width="1.0"/>
<text x="325.4" y="455.2" font-size="8.1" text-anchor="middle" font-weight="bold" fill="#1a1a1a">-2</text>
<line x1="351.04" y1="438.40" x2="351.04" y2="443.60" stroke="#111" stroke-width="1.0"/>
<text x="350.0" y="455.2" font-size="8.1" text-anchor="middle" font-weight="bold" fill="#1a1a1a">-1.5</text>
<line x1="375.67" y1="438.40" x2="375.67" y2="443.60" stroke="#111" stroke-width="1.0"/>
<text x="374.7" y="455.2" font-size="8.1" text-anchor="middle" font-weight="bold" fill="#1a1a1a">-1</text>
<line x1="400.31" y1="438.40" x2="400.31" y2="443.60" stroke="#111" stroke-width="1.0"/>
<text x="399.3" y="455.2" font-size="8.1" text-anchor="middle" font-weight="bold" fill="#1a1a1a">-0.5</text>
<line x1="424.95" y1="438.40" x2="424.95" y2="443.60" stroke="#111" stroke-width="1.0"/>
<text x="424.9" y="455.2" font-size="8.1" text-anchor="middle" font-weight="bold" fill="#1a1a1a">0</text>
<line x1="449.59" y1="438.40" x2="449.59" y2="443.60" stroke="#111" stroke-width="1.0"/>
<text x="449.6" y="455.2" font-size="8.1" text-anchor="middle" font-weight="bold" fill="#1a1a1a">0.5</text>
<line x1="474.23" y1="438.40" x2="474.23" y2="443.60" stroke="#111" stroke-width="1.0"/>
<text x="474.2" y="455.2" font-size="8.1" text-anchor="middle" font-weight="bold" fill="#1a1a1a">1</text>
<line x1="498.86" y1="438.40" x2="498.86" y2="443.60" stroke="#111" stroke-width="1.0"/>
<text x="498.9" y="455.2" font-size="8.1" text-anchor="middle" font-weight="bold" fill="#1a1a1a">1.5</text>
<line x1="523.50" y1="438.40" x2="523.50" y2="443.60" stroke="#111" stroke-width="1.0"/>
<text x="523.5" y="455.2" font-size="8.1" text-anchor="middle" font-weight="bold" fill="#1a1a1a">2</text>
<line x1="321.00" y1="438.40" x2="326.40" y2="438.40" stroke="#111" stroke-width="1.0"/>
<text x="319.6" y="441.1" font-size="8.1" text-anchor="end" font-weight="bold" fill="#1a1a1a">0</text>
<line x1="321.00" y1="413.09" x2="326.40" y2="413.09" stroke="#111" stroke-width="1.0"/>
<text x="319.6" y="415.8" font-size="8.1" text-anchor="end" font-weight="bold" fill="#1a1a1a">1</text>
<line x1="321.00" y1="387.77" x2="326.40" y2="387.77" stroke="#111" stroke-width="1.0"/>
<text x="319.6" y="390.4" font-size="8.1" text-anchor="end" font-weight="bold" fill="#1a1a1a">2</text>
<line x1="321.00" y1="362.46" x2="326.40" y2="362.46" stroke="#111" stroke-width="1.0"/>
<text x="319.6" y="365.1" font-size="8.1" text-anchor="end" font-weight="bold" fill="#1a1a1a">3</text>
<line x1="321.00" y1="337.14" x2="326.40" y2="337.14" stroke="#111" stroke-width="1.0"/>
<text x="319.6" y="339.8" font-size="8.1" text-anchor="end" font-weight="bold" fill="#1a1a1a">4</text>
<line x1="321.00" y1="311.83" x2="326.40" y2="311.83" stroke="#111" stroke-width="1.0"/>
<text x="319.6" y="314.5" font-size="8.1" text-anchor="end" font-weight="bold" fill="#1a1a1a">5</text>
<line x1="321.00" y1="286.51" x2="326.40" y2="286.51" stroke="#111" stroke-width="1.0"/>
<text x="319.6" y="289.2" font-size="8.1" text-anchor="end" font-weight="bold" fill="#1a1a1a">6</text>
<line x1="321.00" y1="261.20" x2="326.40" y2="261.20" stroke="#111" stroke-width="1.0"/>
<text x="319.6" y="263.9" font-size="8.1" text-anchor="end" font-weight="bold" fill="#1a1a1a">7</text>
<text x="442.0" y="464.0" font-size="8.0" text-anchor="middle" font-weight="bold" fill="#1a1a1a">Frequency vector(Hz)</text>
<text x="312.6" y="340.0" font-size="9.7" text-anchor="middle" font-weight="bold" transform="rotate(-90 312.6 340.0)" fill="#1a1a1a">Amplitude (dB)</text>
<text x="330.0" y="467.8" font-size="8.2" fill="#1a1a1a">×<tspan font-weight="bold" dx="0.6">10</tspan><tspan dy="-3.7" font-size="5.6" font-weight="bold">6</tspan></text>
<text x="416.0" y="485.0" font-size="15.5" text-anchor="middle" fill="#111">(<tspan font-weight="bold">d</tspan>)</text>
<line x1="349.66" y1="507.00" x2="349.66" y2="682.40" stroke="#d4d4d4" stroke-width="0.7"/>
<line x1="374.53" y1="507.00" x2="374.53" y2="682.40" stroke="#d4d4d4" stroke-width="0.7"/>
<line x1="399.39" y1="507.00" x2="399.39" y2="682.40" stroke="#d4d4d4" stroke-width="0.7"/>
<line x1="424.25" y1="507.00" x2="424.25" y2="682.40" stroke="#d4d4d4" stroke-width="0.7"/>
<line x1="449.11" y1="507.00" x2="449.11" y2="682.40" stroke="#d4d4d4" stroke-width="0.7"/>
<line x1="473.98" y1="507.00" x2="473.98" y2="682.40" stroke="#d4d4d4" stroke-width="0.7"/>
<line x1="498.84" y1="507.00" x2="498.84" y2="682.40" stroke="#d4d4d4" stroke-width="0.7"/>
<line x1="523.70" y1="507.00" x2="523.70" y2="682.40" stroke="#d4d4d4" stroke-width="0.7"/>
<line x1="324.80" y1="662.91" x2="523.70" y2="662.91" stroke="#d4d4d4" stroke-width="0.7"/>
<line x1="324.80" y1="643.42" x2="523.70" y2="643.42" stroke="#d4d4d4" stroke-width="0.7"/>
<line x1="324.80" y1="623.93" x2="523.70" y2="623.93" stroke="#d4d4d4" stroke-width="0.7"/>
<line x1="324.80" y1="604.44" x2="523.70" y2="604.44" stroke="#d4d4d4" stroke-width="0.7"/>
<line x1="324.80" y1="584.96" x2="523.70" y2="584.96" stroke="#d4d4d4" stroke-width="0.7"/>
<line x1="324.80" y1="565.47" x2="523.70" y2="565.47" stroke="#d4d4d4" stroke-width="0.7"/>
<line x1="324.80" y1="545.98" x2="523.70" y2="545.98" stroke="#d4d4d4" stroke-width="0.7"/>
<line x1="324.80" y1="526.49" x2="523.70" y2="526.49" stroke="#d4d4d4" stroke-width="0.7"/>
<line x1="324.80" y1="507.00" x2="523.70" y2="507.00" stroke="#d4d4d4" stroke-width="0.7"/>
<polygon points="339.7,682.4 339.7,626.7 340.2,623.7 340.7,609.5 341.2,615.1 341.7,625.7 342.1,618.3 342.6,616.9 343.1,623.8 343.6,609.6 344.1,624.2 344.6,618.0 345.0,614.6 345.5,616.6 346.0,612.3 346.5,607.8 347.0,601.0 347.5,619.1 348.0,609.5 348.4,607.9 348.9,618.2 349.4,623.4 349.9,598.6 350.4,617.3 350.9,616.7 351.3,600.3 351.8,609.2 352.3,612.0 352.8,603.1 353.3,621.4 353.8,604.6 354.3,594.8 354.7,619.8 355.2,605.2 355.7,596.5 356.2,616.8 356.7,605.3 357.2,614.2 357.6,601.4 358.1,601.8 358.6,615.4 359.1,597.9 359.6,603.0 360.1,602.0 360.5,597.4 361.0,609.0 361.5,598.9 362.0,594.7 362.5,616.3 363.0,595.1 363.5,608.9 363.9,606.2 364.4,614.6 364.9,599.1 365.4,610.8 365.9,592.9 366.4,610.8 366.8,602.5 367.3,607.0 367.8,600.4 368.3,612.0 368.8,612.2 369.3,595.4 369.8,595.0 370.2,600.8 370.7,588.7 371.2,610.6 371.7,590.7 372.2,611.1 372.7,586.2 373.1,597.7 373.6,598.0 374.1,585.2 374.6,591.5 375.1,591.2 375.6,612.3 376.0,604.4 376.5,611.4 377.0,608.8 377.5,608.1 378.0,587.5 378.5,609.9 379.0,575.8 379.4,599.3 379.9,586.9 380.4,582.4 380.9,591.6 381.4,606.8 381.9,596.7 382.3,591.1 382.8,610.0 383.3,591.6 383.8,601.6 384.3,594.3 384.8,591.4 385.3,591.2 385.7,596.0 386.2,594.8 386.7,605.5 387.2,596.4 387.7,570.4 388.2,596.6 388.6,594.6 389.1,586.0 389.6,598.9 390.1,608.4 390.6,594.2 391.1,604.0 391.6,586.4 392.0,598.3 392.5,569.3 393.0,579.5 393.5,597.8 394.0,564.2 394.5,598.9 394.9,594.5 395.4,605.6 395.9,591.9 396.4,565.9 396.9,591.1 397.4,584.3 397.8,576.3 398.3,580.3 398.8,565.5 399.3,581.1 399.8,580.7 400.3,565.5 400.8,592.8 401.2,597.3 401.7,599.6 402.2,589.3 402.7,597.7 403.2,587.4 403.7,588.5 404.1,603.3 404.6,593.2 405.1,594.8 405.6,583.5 406.1,603.3 406.6,601.2 407.1,590.2 407.5,593.8 408.0,584.5 408.5,596.0 409.0,600.0 409.5,573.6 410.0,598.4 410.4,601.1 410.9,597.2 411.4,595.2 411.9,598.7 412.4,588.4 412.9,572.7 413.4,601.1 413.8,592.3 414.3,583.1 414.8,574.4 415.3,569.5 415.8,600.3 416.3,587.6 416.7,574.2 417.2,602.2 417.7,585.4 418.2,599.0 418.7,578.2 419.2,571.0 419.6,586.5 420.1,601.7 420.6,600.3 421.1,589.4 421.6,572.2 422.1,593.2 422.6,576.6 423.0,584.1 423.5,585.7 424.0,566.1 424.5,574.6 425.0,564.8 425.5,539.6 425.9,522.2 426.4,541.4 426.9,566.6 427.4,584.0 427.9,579.4 428.4,566.2 428.9,580.5 429.3,566.3 429.8,559.1 430.3,592.1 430.8,577.1 431.3,567.1 431.8,586.0 432.2,582.4 432.7,574.2 433.2,548.3 433.7,587.3 434.2,568.3 434.7,583.2 435.1,595.3 435.6,561.3 436.1,585.4 436.6,579.0 437.1,590.5 437.6,603.7 438.1,588.7 438.5,576.5 439.0,585.1 439.5,585.1 440.0,594.1 440.5,595.3 441.0,582.5 441.4,603.3 441.9,577.0 442.4,576.7 442.9,573.3 443.4,602.3 443.9,602.9 444.4,576.5 444.8,594.8 445.3,599.0 445.8,595.7 446.3,586.1 446.8,602.4 447.3,592.5 447.7,586.5 448.2,584.3 448.7,606.0 449.2,581.2 449.7,594.9 450.2,595.0 450.7,590.8 451.1,600.1 451.6,579.0 452.1,602.3 452.6,592.1 453.1,603.8 453.6,589.8 454.0,579.2 454.5,580.2 455.0,605.1 455.5,590.1 456.0,580.3 456.5,603.8 456.9,597.6 457.4,573.9 457.9,586.8 458.4,596.9 458.9,590.7 459.4,589.8 459.9,600.5 460.3,590.8 460.8,593.5 461.3,589.5 461.8,596.1 462.3,601.7 462.8,598.9 463.2,582.0 463.7,606.3 464.2,607.5 464.7,610.3 465.2,585.4 465.7,580.5 466.2,575.2 466.6,605.2 467.1,607.2 467.6,595.3 468.1,599.2 468.6,573.5 469.1,607.5 469.5,586.3 470.0,600.6 470.5,589.3 471.0,589.7 471.5,586.0 472.0,600.3 472.5,596.9 472.9,598.7 473.4,609.6 473.9,601.0 474.4,586.8 474.9,577.3 475.4,613.7 475.8,596.6 476.3,607.1 476.8,612.1 477.3,612.2 477.8,593.1 478.3,587.6 478.7,602.4 479.2,606.7 479.7,603.2 480.2,593.1 480.7,596.1 481.2,615.1 481.7,585.1 482.1,592.7 482.6,605.0 483.1,600.1 483.6,596.5 484.1,601.3 484.6,598.4 485.0,586.8 485.5,613.3 486.0,614.5 486.5,590.8 487.0,618.2 487.5,601.2 488.0,595.4 488.4,614.5 488.9,618.5 489.4,610.7 489.9,612.7 490.4,609.4 490.9,610.6 491.3,595.3 491.8,618.4 492.3,595.8 492.8,620.1 493.3,596.5 493.8,593.3 494.2,603.7 494.7,621.5 495.2,612.2 495.7,606.0 496.2,607.7 496.7,602.7 497.2,620.1 497.6,614.6 498.1,609.1 498.6,622.9 499.1,603.2 499.6,615.2 500.1,619.5 500.5,620.2 501.0,609.7 501.5,623.9 502.0,620.4 502.5,619.3 503.0,620.6 503.5,608.8 503.9,612.9 504.4,604.4 504.9,610.5 505.4,621.0 505.9,620.6 506.4,624.9 506.8,622.9 507.3,614.5 507.8,611.4 508.3,622.5 508.8,621.7 508.8,682.4" fill="url(#gf)"/>
<path d="M440.0,608.4V666.4M508.3,649.4V672.1M438.5,609.6V647.6M490.9,631.9V650.9M428.9,612.7V668.5M476.8,626.0V649.3M459.9,613.1V644.4M489.4,626.2V661.6M496.2,619.6V653.0M339.7,641.9V664.9M403.7,608.1V670.3M498.6,639.7V658.4M419.6,618.4V659.3M403.7,617.2V660.2M468.1,623.0V666.9M446.8,627.5V649.8M459.9,634.7V655.4M452.6,615.0V657.1M492.8,641.9V663.8M491.8,641.2V656.2M464.2,635.4V664.4M466.6,630.4V651.5M500.5,644.9V671.2M362.0,605.5V654.4M507.3,629.4V672.2M352.3,617.2V647.9M491.3,630.2V661.1M353.3,632.5V652.1M344.6,641.8V663.4M391.6,592.2V658.1M344.6,640.6V664.1M498.6,626.2V655.2M378.0,630.1V668.3M443.9,633.8V661.1M353.8,637.9V663.8M362.0,619.1V650.2M441.4,613.2V660.7M421.6,606.6V648.4M348.0,619.6V669.7M500.1,641.6V656.9M472.5,631.3V656.9M473.9,617.5V646.3M423.5,616.5V672.3M492.8,644.0V674.1M428.4,601.5V662.3M476.8,616.8V662.0M413.4,622.8V664.3" stroke="#4059ee" stroke-width="0.7" fill="none" opacity="0.5"/>
<path d="M451.6,619.4V653.7M369.3,606.9V641.0M452.6,626.8V647.5M395.9,632.4V653.3M439.0,622.4V658.5M390.1,637.0V663.6M419.2,578.0V637.4M342.1,641.5V656.3M483.6,610.3V667.7M351.8,627.9V654.1M402.2,628.0V657.8M372.2,631.9V651.5M502.0,638.0V666.6M441.4,632.0V655.0M476.8,628.7V670.3M344.6,639.7V665.5M366.8,608.1V654.8M349.4,635.5V653.4M401.7,624.5V659.2M381.4,630.8V659.5M402.2,617.9V654.2M382.3,597.7V661.6M502.0,643.2V667.0M353.8,628.3V650.8M341.2,624.8V668.1M500.5,645.7V666.4M449.2,618.2V647.9M349.9,610.8V644.2M486.5,603.2V645.0M354.3,627.2V662.4M376.5,636.1V653.5M381.9,604.0V641.1M490.9,616.7V643.6M482.1,619.6V652.3M340.7,637.1V664.1M373.1,621.3V664.4M376.5,640.7V673.0M467.6,602.6V653.7M480.2,609.1V638.8M381.9,634.0V656.7M489.9,628.7V664.6M342.1,635.4V656.4M383.3,620.1V672.0M352.8,638.7V658.0M344.1,632.9V667.0M468.6,584.9V644.4M417.2,636.3V653.7M374.6,601.8V652.2M363.5,627.5V651.1M505.4,629.0V664.4M374.1,592.1V643.1M438.5,613.3V652.8" stroke="#3b73f3" stroke-width="0.7" fill="none" opacity="0.5"/>
<path d="M409.5,611.0V648.7M487.0,622.9V652.0M417.7,595.1V635.8M471.5,593.4V630.1M386.2,607.5V635.1M412.4,611.5V642.8M498.1,627.0V660.2M464.7,626.3V655.0M444.8,619.7V670.5M396.4,586.6V625.8M393.5,619.4V655.1M374.1,592.7V630.2M365.9,610.6V645.4M441.9,608.7V666.7M405.1,601.9V654.8M394.5,618.0V665.7M489.4,617.7V668.7M429.3,586.5V637.9M392.5,617.9V662.5M420.6,610.8V641.9M416.3,629.0V660.4M475.4,628.9V672.9M424.5,603.7V632.0M426.4,584.2V641.2M472.0,611.3V642.8M474.9,617.6V643.7M353.8,625.3V668.9M395.9,615.8V670.5M394.9,601.0V637.1M493.3,621.3V643.9M486.5,625.2V663.0M478.3,623.6V667.1M394.9,601.8V631.4M357.6,618.5V642.0M391.1,615.9V670.6M398.3,612.7V642.2M408.0,628.3V658.2M494.2,617.5V668.4M432.7,608.0V645.5M363.9,615.5V661.5M401.2,611.4V661.3M388.2,605.0V640.7" stroke="#31a1e8" stroke-width="0.7" fill="none" opacity="0.5"/>
<path d="M449.2,612.1V644.9M445.3,627.0V658.1M435.1,619.7V658.1M457.4,584.5V644.5M493.8,600.3V641.7M387.2,620.6V661.4M362.5,631.1V652.4M498.1,620.0V671.6M457.4,602.1V644.0M485.0,600.9V646.2M378.0,623.4V663.6M436.1,621.8V654.9M384.8,625.7V650.5M385.3,620.8V648.8M503.9,637.0V662.7M469.5,628.9V649.4M508.8,634.6V660.4M492.3,601.9V650.8M381.9,603.0V645.4M363.0,613.5V643.2M507.8,615.5V643.0M469.1,620.8V644.1M439.0,600.2V630.6M473.4,637.3V663.6M351.3,619.0V642.4M449.7,607.2V652.9M427.9,620.3V668.4M444.4,586.6V664.0M370.7,593.5V630.8M488.4,632.0V657.6M391.1,615.1V662.3M343.6,629.8V649.0M399.3,625.9V654.1M396.9,605.4V647.6M379.0,616.8V643.0M420.6,613.5V641.3M382.3,612.3V643.7M375.1,600.6V669.4M404.6,629.1V674.0M370.7,599.4V659.8M472.0,611.5V636.4M366.4,629.3V649.7M365.9,629.1V660.0M468.1,632.8V661.2M369.3,608.1V663.2M400.3,578.9V655.0" stroke="#388df2" stroke-width="0.7" fill="none" opacity="0.5"/>
<path d="M487.0,644.4V673.8M488.9,640.8V662.7M398.3,623.7V654.5M340.2,649.6V661.3M357.2,641.2V669.2M468.1,631.3V671.4M361.5,630.5V659.2M507.8,619.7V671.9M496.2,613.1V665.2M395.9,629.7V661.3M496.7,609.5V663.9M365.4,635.7V657.5M345.0,642.4V670.4M452.6,611.7V655.7M480.7,603.9V658.7M363.5,640.1V672.6M473.4,622.0V663.1M370.2,622.8V671.7" stroke="#4345e6" stroke-width="0.7" fill="none" opacity="0.5"/>
<path d="M379.0,589.0V663.7M503.0,645.5V675.2M448.2,626.0V667.7M442.9,620.3V662.6M456.9,627.6V667.4M485.0,600.8V668.0M344.6,632.5V668.8M425.5,608.1V668.5M502.5,641.1V669.4M488.9,646.7V668.3M383.8,634.8V669.2M358.6,639.0V669.8M508.8,640.2V664.7M436.6,602.6V669.0" stroke="#4437d6" stroke-width="0.7" fill="none" opacity="0.5"/>
<path d="M397.4,600.7V647.2M391.6,602.4V654.0M369.3,615.9V646.5M451.6,605.7V634.0M447.3,603.1V643.8M411.9,604.9V640.7M449.2,611.2V650.5M445.3,612.6V656.4M396.4,600.3V661.2M386.2,602.8V633.9M431.8,604.3V633.5M454.5,619.1V651.1M380.9,602.8V644.9M409.5,589.3V656.6M468.6,597.2V645.1M466.6,618.9V663.7M387.7,582.7V620.1M488.0,618.3V658.1M423.5,609.0V655.1M440.5,601.2V648.2M406.6,619.4V644.0M386.2,617.9V646.6M399.3,610.6V646.7M404.6,604.1V638.3M481.7,605.7V670.3M435.1,615.6V645.6" stroke="#2aaed7" stroke-width="0.7" fill="none" opacity="0.5"/>
<path d="M402.2,595.8V667.6M394.0,595.8V666.9M432.7,607.3V670.5M417.2,606.3V656.0M369.8,611.8V658.1M360.5,603.6V640.1M402.2,604.3V638.8M369.8,603.3V637.4M410.9,609.1V649.9M410.9,612.7V654.6" stroke="#2bb7c1" stroke-width="0.7" fill="none" opacity="0.5"/>
<path d="M493.3,602.4V643.5M389.1,596.8V634.7M447.7,596.2V631.9" stroke="#42bfa4" stroke-width="0.7" fill="none" opacity="0.5"/>
<path d="M393.5,624.4V672.8M364.9,618.5V672.3" stroke="#412fc5" stroke-width="0.7" fill="none" opacity="0.5"/>
<line x1="324.80" y1="683.10" x2="324.80" y2="497.00" stroke="#111" stroke-width="1.4"/>
<polygon points="324.80,493.00 326.40,499.00 323.20,499.00" fill="#000"/>
<line x1="324.10" y1="682.40" x2="539.80" y2="682.40" stroke="#111" stroke-width="1.4"/>
<polygon points="543.80,682.40 537.80,684.00 537.80,680.80" fill="#000"/>
<line x1="324.80" y1="682.40" x2="324.80" y2="687.60" stroke="#111" stroke-width="1.0"/>
<text x="323.8" y="699.2" font-size="8.1" text-anchor="middle" font-weight="bold" fill="#1a1a1a">-2</text>
<line x1="349.66" y1="682.40" x2="349.66" y2="687.60" stroke="#111" stroke-width="1.0"/>
<text x="348.7" y="699.2" font-size="8.1" text-anchor="middle" font-weight="bold" fill="#1a1a1a">-1.5</text>
<line x1="374.53" y1="682.40" x2="374.53" y2="687.60" stroke="#111" stroke-width="1.0"/>
<text x="373.5" y="699.2" font-size="8.1" text-anchor="middle" font-weight="bold" fill="#1a1a1a">-1</text>
<line x1="399.39" y1="682.40" x2="399.39" y2="687.60" stroke="#111" stroke-width="1.0"/>
<text x="398.4" y="699.2" font-size="8.1" text-anchor="middle" font-weight="bold" fill="#1a1a1a">-0.5</text>
<line x1="424.25" y1="682.40" x2="424.25" y2="687.60" stroke="#111" stroke-width="1.0"/>
<text x="424.2" y="699.2" font-size="8.1" text-anchor="middle" font-weight="bold" fill="#1a1a1a">0</text>
<line x1="449.11" y1="682.40" x2="449.11" y2="687.60" stroke="#111" stroke-width="1.0"/>
<text x="449.1" y="699.2" font-size="8.1" text-anchor="middle" font-weight="bold" fill="#1a1a1a">0.5</text>
<line x1="473.98" y1="682.40" x2="473.98" y2="687.60" stroke="#111" stroke-width="1.0"/>
<text x="474.0" y="699.2" font-size="8.1" text-anchor="middle" font-weight="bold" fill="#1a1a1a">1</text>
<line x1="498.84" y1="682.40" x2="498.84" y2="687.60" stroke="#111" stroke-width="1.0"/>
<text x="498.8" y="699.2" font-size="8.1" text-anchor="middle" font-weight="bold" fill="#1a1a1a">1.5</text>
<line x1="523.70" y1="682.40" x2="523.70" y2="687.60" stroke="#111" stroke-width="1.0"/>
<text x="523.7" y="699.2" font-size="8.1" text-anchor="middle" font-weight="bold" fill="#1a1a1a">2</text>
<line x1="319.40" y1="682.40" x2="324.80" y2="682.40" stroke="#111" stroke-width="1.0"/>
<text x="318.0" y="685.1" font-size="8.1" text-anchor="end" font-weight="bold" fill="#1a1a1a">0</text>
<line x1="319.40" y1="662.91" x2="324.80" y2="662.91" stroke="#111" stroke-width="1.0"/>
<text x="318.0" y="665.6" font-size="8.1" text-anchor="end" font-weight="bold" fill="#1a1a1a">0.5</text>
<line x1="319.40" y1="643.42" x2="324.80" y2="643.42" stroke="#111" stroke-width="1.0"/>
<text x="318.0" y="646.1" font-size="8.1" text-anchor="end" font-weight="bold" fill="#1a1a1a">1</text>
<line x1="319.40" y1="623.93" x2="324.80" y2="623.93" stroke="#111" stroke-width="1.0"/>
<text x="318.0" y="626.6" font-size="8.1" text-anchor="end" font-weight="bold" fill="#1a1a1a">1.5</text>
<line x1="319.40" y1="604.44" x2="324.80" y2="604.44" stroke="#111" stroke-width="1.0"/>
<text x="318.0" y="607.1" font-size="8.1" text-anchor="end" font-weight="bold" fill="#1a1a1a">2</text>
<line x1="319.40" y1="584.96" x2="324.80" y2="584.96" stroke="#111" stroke-width="1.0"/>
<text x="318.0" y="587.6" font-size="8.1" text-anchor="end" font-weight="bold" fill="#1a1a1a">2.5</text>
<line x1="319.40" y1="565.47" x2="324.80" y2="565.47" stroke="#111" stroke-width="1.0"/>
<text x="318.0" y="568.1" font-size="8.1" text-anchor="end" font-weight="bold" fill="#1a1a1a">3</text>
<line x1="319.40" y1="545.98" x2="324.80" y2="545.98" stroke="#111" stroke-width="1.0"/>
<text x="318.0" y="548.7" font-size="8.1" text-anchor="end" font-weight="bold" fill="#1a1a1a">3.5</text>
<line x1="319.40" y1="526.49" x2="324.80" y2="526.49" stroke="#111" stroke-width="1.0"/>
<text x="318.0" y="529.2" font-size="8.1" text-anchor="end" font-weight="bold" fill="#1a1a1a">4</text>
<line x1="319.40" y1="507.00" x2="324.80" y2="507.00" stroke="#111" stroke-width="1.0"/>
<text x="318.0" y="509.7" font-size="8.1" text-anchor="end" font-weight="bold" fill="#1a1a1a">4.5</text>
<text x="442.2" y="708.0" font-size="8.2" text-anchor="middle" font-weight="bold" fill="#1a1a1a">Frequency vector(Hz)</text>
<text x="304.6" y="584.8" font-size="9.8" text-anchor="middle" font-weight="bold" transform="rotate(-90 304.6 584.8)" fill="#1a1a1a">Amplitude (dB)</text>
<text x="329.0" y="710.8" font-size="8.2" fill="#1a1a1a">×<tspan font-weight="bold" dx="0.6">10</tspan><tspan dy="-3.7" font-size="5.6" font-weight="bold">6</tspan></text>
<text x="415.5" y="728.2" font-size="15.5" text-anchor="middle" fill="#111">(<tspan font-weight="bold">f</tspan>)</text>
<line x1="35.00" y1="155.60" x2="35.00" y2="54.60" stroke="#d6d6d6" stroke-width="0.7"/>
<line x1="64.15" y1="147.18" x2="64.15" y2="46.18" stroke="#d6d6d6" stroke-width="0.7"/>
<line x1="93.30" y1="138.75" x2="93.30" y2="37.75" stroke="#d6d6d6" stroke-width="0.7"/>
<line x1="122.45" y1="130.32" x2="122.45" y2="29.32" stroke="#d6d6d6" stroke-width="0.7"/>
<line x1="151.60" y1="121.90" x2="151.60" y2="20.90" stroke="#d6d6d6" stroke-width="0.7"/>
<line x1="151.60" y1="121.90" x2="151.60" y2="20.90" stroke="#d6d6d6" stroke-width="0.7"/>
<line x1="173.90" y1="133.38" x2="173.90" y2="32.38" stroke="#d6d6d6" stroke-width="0.7"/>
<line x1="196.20" y1="144.85" x2="196.20" y2="43.85" stroke="#d6d6d6" stroke-width="0.7"/>
<line x1="218.50" y1="156.33" x2="218.50" y2="55.33" stroke="#d6d6d6" stroke-width="0.7"/>
<line x1="240.80" y1="167.80" x2="240.80" y2="66.80" stroke="#d6d6d6" stroke-width="0.7"/>
<line x1="35.00" y1="155.60" x2="151.60" y2="121.90" stroke="#c4c4c4" stroke-width="0.7"/>
<line x1="151.60" y1="121.90" x2="240.80" y2="167.80" stroke="#c4c4c4" stroke-width="0.7"/>
<line x1="35.00" y1="121.93" x2="151.60" y2="88.23" stroke="#d6d6d6" stroke-width="0.7"/>
<line x1="151.60" y1="88.23" x2="240.80" y2="134.13" stroke="#d6d6d6" stroke-width="0.7"/>
<line x1="35.00" y1="88.27" x2="151.60" y2="54.57" stroke="#d6d6d6" stroke-width="0.7"/>
<line x1="151.60" y1="54.57" x2="240.80" y2="100.47" stroke="#d6d6d6" stroke-width="0.7"/>
<line x1="35.00" y1="54.60" x2="151.60" y2="20.90" stroke="#d6d6d6" stroke-width="0.7"/>
<line x1="151.60" y1="20.90" x2="240.80" y2="66.80" stroke="#d6d6d6" stroke-width="0.7"/>
<line x1="35.00" y1="155.60" x2="124.20" y2="201.50" stroke="#d6d6d6" stroke-width="0.7"/>
<line x1="64.15" y1="147.18" x2="153.35" y2="193.07" stroke="#d6d6d6" stroke-width="0.7"/>
<line x1="93.30" y1="138.75" x2="182.50" y2="184.65" stroke="#d6d6d6" stroke-width="0.7"/>
<line x1="122.45" y1="130.32" x2="211.65" y2="176.23" stroke="#d6d6d6" stroke-width="0.7"/>
<line x1="151.60" y1="121.90" x2="240.80" y2="167.80" stroke="#d6d6d6" stroke-width="0.7"/>
<line x1="35.00" y1="155.60" x2="151.60" y2="121.90" stroke="#d6d6d6" stroke-width="0.7"/>
<line x1="57.30" y1="167.07" x2="173.90" y2="133.38" stroke="#d6d6d6" stroke-width="0.7"/>
<line x1="79.60" y1="178.55" x2="196.20" y2="144.85" stroke="#d6d6d6" stroke-width="0.7"/>
<line x1="101.90" y1="190.03" x2="218.50" y2="156.33" stroke="#d6d6d6" stroke-width="0.7"/>
<line x1="124.20" y1="201.50" x2="240.80" y2="167.80" stroke="#d6d6d6" stroke-width="0.7"/>
<path transform="matrix(1,0.5146,0,1,158.29,125.34)" d="M0,-4.7L0,-19.3 0.7,-29.5 1.4,-20.3 2.1,-32.3 2.8,-20.9 3.5,-29.5 4.2,-29.1 4.9,-20.4 5.6,-19.1 6.3,-37.0 7.0,-17.5 7.7,-17.7 8.3,-18.3 9.0,-18.1 9.7,-25.0 10.4,-17.7 11.1,-18.5 11.8,-20.0 12.5,-18.4 13.2,-17.7 13.9,-17.5 14.6,-18.6 15.3,-17.5 16.0,-18.0 16.7,-19.2 17.4,-23.2 18.1,-22.5 18.8,-22.2 19.5,-27.4 20.2,-19.5 20.9,-21.7 21.6,-17.7 22.3,-18.1 23.0,-18.0 23.7,-32.6 24.3,-18.6 25.0,-18.3 25.7,-19.8 26.4,-32.4 27.1,-24.7 27.8,-21.5 28.5,-20.9 29.2,-19.9 29.9,-23.5 30.6,-31.6 31.3,-29.8 32.0,-21.2 32.7,-29.5 33.4,-22.9 34.1,-23.6 34.8,-28.6 35.5,-27.8 36.2,-29.4 36.9,-30.1 37.6,-30.7 38.3,-26.0 39.0,-32.3 39.6,-27.1 40.3,-23.8 41.0,-26.2 41.7,-22.5 42.4,-32.8 43.1,-22.4 43.8,-23.4 44.5,-21.8 45.2,-20.3 45.9,-21.0 46.6,-20.0 47.3,-33.1 48.0,-33.0 48.7,-19.7 49.4,-18.5 50.1,-21.9 50.8,-24.1 51.5,-25.1 52.2,-23.7 52.9,-18.0 53.6,-17.8 54.3,-19.4 55.0,-18.8 55.6,-19.6 56.3,-29.2 57.0,-29.7 57.7,-25.4 58.4,-26.2 59.1,-31.1 59.8,-28.9 60.5,-17.5 61.2,-19.3 61.9,-23.4 62.6,-25.7 63.3,-19.5 64.0,-17.9 64.7,-29.4 65.4,-18.5 66.1,-17.6 66.8,-21.7 67.5,-18.3 68.2,-19.6 68.9,-18.2 69.6,-22.3 70.3,-18.3 71.0,-18.0 71.6,-40.5 72.3,-20.6 73.0,-29.7 73.7,-28.5 74.4,-28.7 75.1,-18.4 75.8,-28.5 75.8,-5.5 71.6,-4.1 67.5,-4.4 63.3,-4.6 59.1,-2.9 55.0,-5.0 50.8,-3.4 46.6,-5.5 42.4,-8.1 38.3,-2.7 34.1,-7.1 29.9,-5.6 25.7,-5.8 21.6,-7.3 17.4,-4.7 13.2,-4.7 9.0,-4.4 4.9,-3.7 0.7,-3.9Z" fill="url(#ga)"/>
<path transform="matrix(1,0.5146,0,1,155.70,126.09)" d="M0,-6.1L0,-17.4 0.7,-38.8 1.4,-20.0 2.1,-17.7 2.8,-17.6 3.5,-35.2 4.2,-19.0 4.9,-33.4 5.6,-24.1 6.3,-27.9 7.0,-28.0 7.7,-17.5 8.3,-21.4 9.0,-17.7 9.7,-17.6 10.4,-20.1 11.1,-41.7 11.8,-26.4 12.5,-20.7 13.2,-18.2 13.9,-17.5 14.6,-26.7 15.3,-17.7 16.0,-18.9 16.7,-40.2 17.4,-17.6 18.1,-26.4 18.8,-17.7 19.5,-29.5 20.2,-18.1 20.9,-34.6 21.6,-25.4 22.3,-21.8 23.0,-25.2 23.7,-18.9 24.3,-25.4 25.0,-18.5 25.7,-32.7 26.4,-26.6 27.1,-19.0 27.8,-19.6 28.5,-22.1 29.2,-21.4 29.9,-23.3 30.6,-21.0 31.3,-22.3 32.0,-22.2 32.7,-32.4 33.4,-27.6 34.1,-35.8 34.8,-33.3 35.5,-28.2 36.2,-35.5 36.9,-32.1 37.6,-34.2 38.3,-31.9 39.0,-30.7 39.6,-30.0 40.3,-27.1 41.0,-26.8 41.7,-27.4 42.4,-25.3 43.1,-30.8 43.8,-29.0 44.5,-27.5 45.2,-22.7 45.9,-24.1 46.6,-27.9 47.3,-33.5 48.0,-20.7 48.7,-23.7 49.4,-21.2 50.1,-18.5 50.8,-18.7 51.5,-18.7 52.2,-23.4 52.9,-31.7 53.6,-20.0 54.3,-20.1 55.0,-17.8 55.6,-38.9 56.3,-24.9 57.0,-33.6 57.7,-18.1 58.4,-17.6 59.1,-18.6 59.8,-17.7 60.5,-17.6 61.2,-18.2 61.9,-24.5 62.6,-31.5 63.3,-33.2 64.0,-31.6 64.7,-22.1 65.4,-17.5 66.1,-20.0 66.8,-22.1 67.5,-28.2 68.2,-36.6 68.9,-19.3 69.6,-19.9 70.3,-17.4 71.0,-18.7 71.6,-40.4 72.3,-17.6 73.0,-17.6 73.7,-18.4 74.4,-17.9 75.1,-17.7 75.8,-34.5 75.8,-3.0 71.6,-4.7 67.5,-4.8 63.3,-7.3 59.1,-4.6 55.0,-3.2 50.8,-7.1 46.6,-7.3 42.4,-3.4 38.3,-8.4 34.1,-4.6 29.9,-4.8 25.7,-4.1 21.6,-4.4 17.4,-7.0 13.2,-7.6 9.0,-5.7 4.9,-4.7 0.7,-7.2Z" fill="url(#ga)"/>
<path transform="matrix(1,0.5146,0,1,153.11,126.84)" d="M0,-3.5L0,-33.4 0.7,-19.0 1.4,-18.1 2.1,-19.5 2.8,-18.5 3.5,-18.5 4.2,-17.6 4.9,-19.6 5.6,-32.0 6.3,-18.0 7.0,-38.4 7.7,-25.3 8.3,-19.2 9.0,-19.6 9.7,-28.6 10.4,-28.5 11.1,-19.5 11.8,-24.2 12.5,-17.6 13.2,-32.2 13.9,-20.6 14.6,-17.5 15.3,-27.4 16.0,-17.6 16.7,-19.3 17.4,-17.7 18.1,-24.7 18.8,-21.7 19.5,-17.6 20.2,-17.7 20.9,-23.0 21.6,-18.0 22.3,-29.7 23.0,-18.1 23.7,-18.2 24.3,-42.4 25.0,-19.8 25.7,-18.9 26.4,-19.8 27.1,-23.1 27.8,-19.7 28.5,-20.2 29.2,-20.6 29.9,-23.4 30.6,-22.1 31.3,-30.0 32.0,-28.8 32.7,-30.9 33.4,-40.7 34.1,-31.9 34.8,-36.0 35.5,-39.5 36.2,-33.4 36.9,-42.2 37.6,-35.5 38.3,-38.5 39.0,-39.2 39.6,-42.3 40.3,-33.7 41.0,-34.0 41.7,-27.5 42.4,-39.8 43.1,-25.0 43.8,-24.4 44.5,-31.0 45.2,-24.8 45.9,-21.2 46.6,-26.0 47.3,-20.2 48.0,-19.9 48.7,-19.4 49.4,-24.6 50.1,-19.6 50.8,-35.0 51.5,-18.8 52.2,-31.6 52.9,-25.0 53.6,-19.7 54.3,-33.3 55.0,-26.6 55.6,-25.9 56.3,-24.9 57.0,-18.6 57.7,-25.1 58.4,-36.3 59.1,-18.8 59.8,-17.5 60.5,-17.6 61.2,-25.9 61.9,-21.9 62.6,-23.0 63.3,-20.7 64.0,-19.8 64.7,-33.6 65.4,-17.4 66.1,-22.8 66.8,-20.6 67.5,-25.5 68.2,-17.4 68.9,-17.4 69.6,-19.9 70.3,-23.8 71.0,-33.9 71.6,-19.6 72.3,-18.5 73.0,-17.8 73.7,-17.4 74.4,-19.5 75.1,-19.9 75.8,-17.7 75.8,-5.6 71.6,-8.0 67.5,-3.3 63.3,-7.6 59.1,-4.5 55.0,-4.7 50.8,-4.9 46.6,-5.8 42.4,-3.6 38.3,-7.9 34.1,-4.4 29.9,-9.0 25.7,-4.3 21.6,-4.7 17.4,-8.3 13.2,-7.0 9.0,-5.5 4.9,-4.5 0.7,-8.1Z" fill="url(#ga)"/>
<path transform="matrix(1,0.5146,0,1,150.52,127.59)" d="M0,-7.4L0,-17.3 0.7,-37.5 1.4,-29.5 2.1,-22.9 2.8,-17.3 3.5,-19.0 4.2,-25.3 4.9,-19.2 5.6,-17.7 6.3,-17.8 7.0,-28.0 7.7,-21.1 8.3,-17.8 9.0,-17.8 9.7,-28.4 10.4,-34.4 11.1,-23.5 11.8,-17.9 12.5,-18.3 13.2,-17.5 13.9,-17.8 14.6,-20.3 15.3,-22.9 16.0,-31.4 16.7,-19.9 17.4,-18.8 18.1,-22.8 18.8,-24.6 19.5,-17.7 20.2,-17.9 20.9,-32.3 21.6,-21.4 22.3,-33.7 23.0,-18.9 23.7,-20.2 24.3,-24.9 25.0,-26.5 25.7,-30.5 26.4,-31.6 27.1,-23.1 27.8,-27.4 28.5,-27.5 29.2,-27.0 29.9,-35.6 30.6,-38.5 31.3,-48.7 32.0,-36.0 32.7,-41.1 33.4,-41.3 34.1,-28.8 34.8,-32.8 35.5,-42.4 36.2,-35.1 36.9,-53.2 37.6,-40.5 38.3,-37.5 39.0,-35.4 39.6,-39.7 40.3,-39.8 41.0,-30.6 41.7,-32.3 42.4,-28.8 43.1,-30.9 43.8,-31.8 44.5,-33.4 45.2,-30.9 45.9,-30.9 46.6,-22.3 47.3,-42.3 48.0,-28.3 48.7,-38.0 49.4,-29.7 50.1,-19.3 50.8,-21.7 51.5,-19.4 52.2,-19.1 52.9,-33.9 53.6,-20.4 54.3,-18.9 55.0,-18.1 55.6,-17.8 56.3,-22.8 57.0,-27.2 57.7,-19.7 58.4,-17.6 59.1,-28.0 59.8,-17.7 60.5,-35.6 61.2,-17.5 61.9,-20.1 62.6,-17.8 63.3,-17.5 64.0,-19.8 64.7,-21.9 65.4,-18.6 66.1,-17.4 66.8,-21.3 67.5,-17.3 68.2,-17.3 68.9,-33.3 69.6,-28.5 70.3,-18.9 71.0,-18.7 71.6,-17.4 72.3,-23.3 73.0,-29.4 73.7,-17.3 74.4,-17.3 75.1,-17.3 75.8,-17.4 75.8,-4.9 71.6,-7.7 67.5,-7.5 63.3,-8.2 59.1,-7.1 55.0,-3.8 50.8,-3.5 46.6,-7.2 42.4,-4.2 38.3,-8.9 34.1,-9.6 29.9,-4.0 25.7,-6.0 21.6,-5.5 17.4,-5.7 13.2,-4.3 9.0,-5.6 4.9,-5.1 0.7,-4.1Z" fill="url(#ga)"/>
<path transform="matrix(1,0.5146,0,1,147.93,128.34)" d="M0,-6.6L0,-22.5 0.7,-34.1 1.4,-17.6 2.1,-36.3 2.8,-32.5 3.5,-19.4 4.2,-17.3 4.9,-17.7 5.6,-22.5 6.3,-17.3 7.0,-32.2 7.7,-27.8 8.3,-29.1 9.0,-23.0 9.7,-17.7 10.4,-30.6 11.1,-39.4 11.8,-17.4 12.5,-40.3 13.2,-19.4 13.9,-18.2 14.6,-25.5 15.3,-17.5 16.0,-24.9 16.7,-18.4 17.4,-17.5 18.1,-18.0 18.8,-23.0 19.5,-17.9 20.2,-24.8 20.9,-19.8 21.6,-22.2 22.3,-24.4 23.0,-22.6 23.7,-18.4 24.3,-23.4 25.0,-19.4 25.7,-30.1 26.4,-21.2 27.1,-35.9 27.8,-20.6 28.5,-21.5 29.2,-25.0 29.9,-22.8 30.6,-23.7 31.3,-40.2 32.0,-32.6 32.7,-40.8 33.4,-42.8 34.1,-31.9 34.8,-43.0 35.5,-61.0 36.2,-47.0 36.9,-47.0 37.6,-51.0 38.3,-54.8 39.0,-50.4 39.6,-46.8 40.3,-41.6 41.0,-37.9 41.7,-44.4 42.4,-34.4 43.1,-30.6 43.8,-27.9 44.5,-25.7 45.2,-27.5 45.9,-26.5 46.6,-24.8 47.3,-31.6 48.0,-35.6 48.7,-22.4 49.4,-33.7 50.1,-21.9 50.8,-19.8 51.5,-29.2 52.2,-28.7 52.9,-28.1 53.6,-33.3 54.3,-18.1 55.0,-22.5 55.6,-17.7 56.3,-34.8 57.0,-19.2 57.7,-37.8 58.4,-21.8 59.1,-18.3 59.8,-25.5 60.5,-17.4 61.2,-20.0 61.9,-20.9 62.6,-19.2 63.3,-18.8 64.0,-18.2 64.7,-22.6 65.4,-28.7 66.1,-23.4 66.8,-22.3 67.5,-17.5 68.2,-32.7 68.9,-18.8 69.6,-17.7 70.3,-17.3 71.0,-19.4 71.6,-26.0 72.3,-27.4 73.0,-17.3 73.7,-17.3 74.4,-31.1 75.1,-17.9 75.8,-17.2 75.8,-8.2 71.6,-7.0 67.5,-7.3 63.3,-2.9 59.1,-5.2 55.0,-5.7 50.8,-8.0 46.6,-3.3 42.4,-7.0 38.3,-5.1 34.1,-8.4 29.9,-3.7 25.7,-7.9 21.6,-7.1 17.4,-5.3 13.2,-3.7 9.0,-5.8 4.9,-5.3 0.7,-6.7Z" fill="url(#ga)"/>
<path transform="matrix(1,0.5146,0,1,145.33,129.09)" d="M0,-7.1L0,-26.4 0.7,-17.4 1.4,-25.8 2.1,-17.2 2.8,-18.1 3.5,-17.3 4.2,-17.3 4.9,-18.3 5.6,-21.6 6.3,-17.3 7.0,-17.3 7.7,-17.4 8.3,-25.3 9.0,-21.8 9.7,-17.3 10.4,-22.8 11.1,-19.2 11.8,-17.7 12.5,-17.6 13.2,-17.4 13.9,-19.4 14.6,-17.5 15.3,-19.3 16.0,-17.9 16.7,-21.1 17.4,-21.5 18.1,-28.9 18.8,-28.5 19.5,-20.1 20.2,-19.2 20.9,-24.1 21.6,-23.4 22.3,-27.7 23.0,-21.4 23.7,-22.3 24.3,-20.1 25.0,-41.5 25.7,-32.0 26.4,-20.3 27.1,-20.9 27.8,-34.8 28.5,-32.7 29.2,-22.6 29.9,-34.0 30.6,-27.0 31.3,-34.2 32.0,-28.5 32.7,-34.9 33.4,-32.8 34.1,-33.1 34.8,-52.9 35.5,-37.9 36.2,-45.9 36.9,-55.8 37.6,-50.8 38.3,-44.3 39.0,-42.3 39.6,-49.6 40.3,-40.1 41.0,-41.1 41.7,-33.8 42.4,-43.6 43.1,-29.9 43.8,-46.0 44.5,-25.9 45.2,-27.9 45.9,-45.0 46.6,-29.1 47.3,-31.3 48.0,-24.7 48.7,-28.8 49.4,-20.2 50.1,-19.8 50.8,-22.5 51.5,-18.9 52.2,-23.9 52.9,-19.3 53.6,-19.6 54.3,-18.2 55.0,-34.4 55.6,-27.0 56.3,-40.3 57.0,-21.1 57.7,-17.5 58.4,-21.9 59.1,-23.9 59.8,-17.4 60.5,-25.8 61.2,-17.4 61.9,-22.4 62.6,-17.6 63.3,-26.2 64.0,-17.7 64.7,-26.3 65.4,-25.2 66.1,-24.1 66.8,-17.7 67.5,-25.6 68.2,-35.2 68.9,-17.7 69.6,-21.2 70.3,-17.5 71.0,-26.5 71.6,-22.1 72.3,-25.1 73.0,-18.4 73.7,-17.2 74.4,-24.2 75.1,-19.2 75.8,-17.4 75.8,-7.1 71.6,-4.0 67.5,-7.2 63.3,-7.7 59.1,-4.3 55.0,-4.2 50.8,-7.4 46.6,-6.6 42.4,-11.2 38.3,-11.0 34.1,-7.8 29.9,-9.8 25.7,-8.9 21.6,-8.1 17.4,-7.4 13.2,-4.1 9.0,-5.8 4.9,-5.7 0.7,-8.0Z" fill="url(#ga)"/>
<path transform="matrix(1,0.5146,0,1,142.74,129.84)" d="M0,-4.6L0,-23.1 0.7,-18.2 1.4,-17.8 2.1,-19.0 2.8,-17.9 3.5,-23.4 4.2,-18.9 4.9,-27.6 5.6,-19.5 6.3,-18.8 7.0,-17.6 7.7,-17.7 8.3,-22.7 9.0,-31.4 9.7,-17.7 10.4,-25.2 11.1,-32.8 11.8,-21.7 12.5,-19.9 13.2,-26.4 13.9,-23.7 14.6,-20.0 15.3,-17.4 16.0,-26.5 16.7,-17.5 17.4,-19.3 18.1,-28.3 18.8,-25.0 19.5,-21.9 20.2,-22.9 20.9,-21.9 21.6,-19.1 22.3,-18.4 23.0,-26.0 23.7,-42.7 24.3,-19.0 25.0,-24.3 25.7,-20.9 26.4,-30.9 27.1,-37.3 27.8,-27.5 28.5,-22.5 29.2,-31.2 29.9,-26.9 30.6,-26.8 31.3,-31.5 32.0,-29.9 32.7,-30.6 33.4,-39.4 34.1,-36.2 34.8,-46.6 35.5,-46.1 36.2,-42.5 36.9,-45.7 37.6,-77.5 38.3,-56.1 39.0,-62.7 39.6,-49.6 40.3,-45.3 41.0,-37.2 41.7,-40.7 42.4,-36.4 43.1,-30.9 43.8,-35.5 44.5,-41.2 45.2,-27.9 45.9,-24.4 46.6,-34.8 47.3,-45.8 48.0,-24.8 48.7,-21.0 49.4,-36.2 50.1,-24.0 50.8,-34.1 51.5,-20.6 52.2,-19.4 52.9,-19.5 53.6,-24.0 54.3,-34.5 55.0,-19.4 55.6,-19.1 56.3,-18.4 57.0,-19.2 57.7,-17.5 58.4,-24.5 59.1,-17.9 59.8,-18.9 60.5,-38.5 61.2,-18.2 61.9,-19.7 62.6,-17.3 63.3,-28.6 64.0,-26.8 64.7,-18.8 65.4,-17.5 66.1,-19.6 66.8,-32.4 67.5,-18.2 68.2,-17.4 68.9,-29.0 69.6,-17.3 70.3,-28.2 71.0,-19.6 71.6,-18.9 72.3,-17.2 73.0,-17.2 73.7,-18.5 74.4,-17.2 75.1,-27.2 75.8,-17.1 75.8,-6.8 71.6,-6.9 67.5,-3.6 63.3,-7.6 59.1,-6.1 55.0,-6.9 50.8,-4.4 46.6,-4.1 42.4,-9.5 38.3,-12.1 34.1,-8.5 29.9,-8.8 25.7,-7.6 21.6,-5.1 17.4,-4.6 13.2,-2.7 9.0,-5.3 4.9,-4.6 0.7,-8.0Z" fill="url(#ga)"/>
<path transform="matrix(1,0.5146,0,1,140.15,130.58)" d="M0,-7.4L0,-20.5 0.7,-17.2 1.4,-22.3 2.1,-17.5 2.8,-17.2 3.5,-21.3 4.2,-25.1 4.9,-24.2 5.6,-22.9 6.3,-19.4 7.0,-17.8 7.7,-18.2 8.3,-18.4 9.0,-17.3 9.7,-22.6 10.4,-18.7 11.1,-17.8 11.8,-21.4 12.5,-19.0 13.2,-21.7 13.9,-23.4 14.6,-39.0 15.3,-18.8 16.0,-24.1 16.7,-17.5 17.4,-17.6 18.1,-18.0 18.8,-29.7 19.5,-17.9 20.2,-18.1 20.9,-18.5 21.6,-18.1 22.3,-37.9 23.0,-18.9 23.7,-35.7 24.3,-28.7 25.0,-21.5 25.7,-20.0 26.4,-21.4 27.1,-21.2 27.8,-24.0 28.5,-38.5 29.2,-31.9 29.9,-25.4 30.6,-32.4 31.3,-28.5 32.0,-47.3 32.7,-40.4 33.4,-60.1 34.1,-39.8 34.8,-40.6 35.5,-55.4 36.2,-51.2 36.9,-63.4 37.6,-68.5 38.3,-69.0 39.0,-66.5 39.6,-57.8 40.3,-53.5 41.0,-42.2 41.7,-37.3 42.4,-62.5 43.1,-32.1 43.8,-35.8 44.5,-36.9 45.2,-46.0 45.9,-31.8 46.6,-39.3 47.3,-24.9 48.0,-29.5 48.7,-26.4 49.4,-20.5 50.1,-32.6 50.8,-19.5 51.5,-19.5 52.2,-28.1 52.9,-32.2 53.6,-18.6 54.3,-18.5 55.0,-21.8 55.6,-24.7 56.3,-27.0 57.0,-29.8 57.7,-24.8 58.4,-30.0 59.1,-21.1 59.8,-30.4 60.5,-17.4 61.2,-23.5 61.9,-23.9 62.6,-29.8 63.3,-25.3 64.0,-17.3 64.7,-19.4 65.4,-17.7 66.1,-23.0 66.8,-27.7 67.5,-17.4 68.2,-18.0 68.9,-20.6 69.6,-33.4 70.3,-18.9 71.0,-18.5 71.6,-27.8 72.3,-22.6 73.0,-17.3 73.7,-21.1 74.4,-17.1 75.1,-33.9 75.8,-17.0 75.8,-3.6 71.6,-8.0 67.5,-4.1 63.3,-5.6 59.1,-5.2 55.0,-8.3 50.8,-5.8 46.6,-8.8 42.4,-9.0 38.3,-8.1 34.1,-6.2 29.9,-10.0 25.7,-5.8 21.6,-3.9 17.4,-6.8 13.2,-6.6 9.0,-4.2 4.9,-6.5 0.7,-5.5Z" fill="url(#ga)"/>
<path transform="matrix(1,0.5146,0,1,137.56,131.33)" d="M0,-3.7L0,-25.5 0.7,-17.7 1.4,-17.7 2.1,-17.6 2.8,-21.0 3.5,-17.5 4.2,-19.8 4.9,-19.2 5.6,-19.4 6.3,-18.1 7.0,-21.1 7.7,-19.8 8.3,-28.8 9.0,-29.5 9.7,-21.2 10.4,-20.6 11.1,-32.7 11.8,-21.0 12.5,-20.2 13.2,-20.5 13.9,-17.3 14.6,-17.7 15.3,-17.8 16.0,-17.7 16.7,-32.9 17.4,-20.6 18.1,-17.8 18.8,-23.5 19.5,-17.7 20.2,-18.3 20.9,-18.1 21.6,-19.5 22.3,-18.4 23.0,-23.1 23.7,-40.0 24.3,-29.4 25.0,-27.7 25.7,-20.4 26.4,-21.3 27.1,-22.8 27.8,-39.6 28.5,-25.9 29.2,-31.4 29.9,-32.3 30.6,-28.0 31.3,-29.2 32.0,-44.5 32.7,-34.9 33.4,-51.7 34.1,-52.8 34.8,-62.5 35.5,-49.5 36.2,-49.9 36.9,-59.9 37.6,-72.2 38.3,-62.2 39.0,-52.1 39.6,-69.2 40.3,-54.4 41.0,-54.3 41.7,-40.3 42.4,-37.3 43.1,-48.6 43.8,-46.7 44.5,-43.1 45.2,-40.5 45.9,-30.8 46.6,-31.3 47.3,-26.3 48.0,-29.6 48.7,-37.8 49.4,-36.4 50.1,-39.1 50.8,-25.6 51.5,-19.3 52.2,-34.4 52.9,-32.2 53.6,-18.6 54.3,-18.2 55.0,-28.1 55.6,-20.9 56.3,-21.6 57.0,-22.4 57.7,-17.6 58.4,-27.3 59.1,-19.4 59.8,-17.5 60.5,-31.7 61.2,-17.3 61.9,-27.0 62.6,-19.8 63.3,-17.9 64.0,-18.5 64.7,-19.0 65.4,-21.2 66.1,-20.6 66.8,-31.0 67.5,-17.2 68.2,-17.2 68.9,-27.5 69.6,-18.6 70.3,-19.6 71.0,-36.5 71.6,-19.3 72.3,-17.3 73.0,-17.1 73.7,-18.8 74.4,-19.1 75.1,-20.4 75.8,-28.7 75.8,-4.2 71.6,-3.0 67.5,-7.3 63.3,-5.9 59.1,-7.6 55.0,-6.7 50.8,-4.5 46.6,-9.0 42.4,-13.2 38.3,-17.1 34.1,-9.7 29.9,-4.3 25.7,-6.2 21.6,-7.6 17.4,-3.6 13.2,-4.2 9.0,-5.0 4.9,-5.5 0.7,-6.5Z" fill="url(#ga)"/>
<path transform="matrix(1,0.5146,0,1,134.97,132.08)" d="M0,-3.5L0,-26.7 0.7,-17.5 1.4,-27.5 2.1,-29.9 2.8,-20.5 3.5,-17.9 4.2,-17.4 4.9,-17.9 5.6,-30.2 6.3,-22.1 7.0,-32.4 7.7,-33.9 8.3,-18.0 9.0,-21.6 9.7,-23.7 10.4,-17.7 11.1,-24.1 11.8,-26.0 12.5,-29.6 13.2,-17.7 13.9,-29.1 14.6,-17.6 15.3,-30.2 16.0,-17.7 16.7,-19.0 17.4,-17.7 18.1,-24.4 18.8,-32.0 19.5,-18.9 20.2,-35.2 20.9,-32.1 21.6,-18.6 22.3,-30.6 23.0,-23.5 23.7,-27.2 24.3,-19.7 25.0,-45.1 25.7,-21.7 26.4,-21.5 27.1,-22.0 27.8,-48.3 28.5,-40.2 29.2,-26.3 29.9,-26.2 30.6,-28.8 31.3,-29.5 32.0,-31.8 32.7,-54.6 33.4,-38.6 34.1,-43.2 34.8,-72.2 35.5,-60.7 36.2,-55.6 36.9,-65.5 37.6,-71.7 38.3,-69.9 39.0,-58.8 39.6,-61.6 40.3,-65.0 41.0,-50.8 41.7,-68.4 42.4,-57.9 43.1,-33.9 43.8,-31.7 44.5,-34.5 45.2,-27.7 45.9,-41.8 46.6,-34.6 47.3,-23.9 48.0,-23.2 48.7,-23.1 49.4,-26.1 50.1,-20.3 50.8,-21.8 51.5,-19.3 52.2,-19.8 52.9,-21.9 53.6,-37.4 54.3,-18.4 55.0,-19.7 55.6,-31.3 56.3,-31.2 57.0,-19.1 57.7,-29.1 58.4,-18.9 59.1,-18.0 59.8,-23.7 60.5,-17.8 61.2,-17.8 61.9,-17.5 62.6,-27.6 63.3,-17.2 64.0,-19.3 64.7,-17.1 65.4,-29.2 66.1,-29.3 66.8,-19.2 67.5,-18.3 68.2,-36.6 68.9,-32.8 69.6,-18.4 70.3,-30.6 71.0,-17.7 71.6,-32.8 72.3,-21.0 73.0,-20.7 73.7,-21.9 74.4,-34.1 75.1,-18.2 75.8,-23.6 75.8,-5.7 71.6,-2.8 67.5,-7.3 63.3,-4.4 59.1,-4.6 55.0,-4.6 50.8,-5.6 46.6,-10.4 42.4,-8.3 38.3,-7.2 34.1,-8.4 29.9,-3.5 25.7,-3.6 21.6,-7.9 17.4,-5.5 13.2,-4.5 9.0,-7.6 4.9,-6.9 0.7,-6.2Z" fill="url(#ga)"/>
<path transform="matrix(1,0.5146,0,1,132.38,132.83)" d="M0,-3.8L0,-31.4 0.7,-17.3 1.4,-17.4 2.1,-19.1 2.8,-17.9 3.5,-20.8 4.2,-18.0 4.9,-19.8 5.6,-17.4 6.3,-17.8 7.0,-18.4 7.7,-30.5 8.3,-17.5 9.0,-17.9 9.7,-22.4 10.4,-17.5 11.1,-17.9 11.8,-18.2 12.5,-21.3 13.2,-18.3 13.9,-18.2 14.6,-17.4 15.3,-22.8 16.0,-20.4 16.7,-19.1 17.4,-17.5 18.1,-33.2 18.8,-35.0 19.5,-29.8 20.2,-27.3 20.9,-41.4 21.6,-18.5 22.3,-19.3 23.0,-30.7 23.7,-20.6 24.3,-19.4 25.0,-24.5 25.7,-23.3 26.4,-26.4 27.1,-33.3 27.8,-38.2 28.5,-31.0 29.2,-24.9 29.9,-34.2 30.6,-45.4 31.3,-29.4 32.0,-31.5 32.7,-41.4 33.4,-41.6 34.1,-46.8 34.8,-55.6 35.5,-51.6 36.2,-63.9 36.9,-55.3 37.6,-55.0 38.3,-68.6 39.0,-53.0 39.6,-58.6 40.3,-54.3 41.0,-42.4 41.7,-49.9 42.4,-38.6 43.1,-41.9 43.8,-48.1 44.5,-30.9 45.2,-32.6 45.9,-46.0 46.6,-25.3 47.3,-23.7 48.0,-22.5 48.7,-23.0 49.4,-24.1 50.1,-33.4 50.8,-22.3 51.5,-19.3 52.2,-30.9 52.9,-20.0 53.6,-23.8 54.3,-25.6 55.0,-18.3 55.6,-26.0 56.3,-31.2 57.0,-27.9 57.7,-36.3 58.4,-22.8 59.1,-34.4 59.8,-17.3 60.5,-23.1 61.2,-30.5 61.9,-18.6 62.6,-17.4 63.3,-18.0 64.0,-17.3 64.7,-26.7 65.4,-23.0 66.1,-17.0 66.8,-24.8 67.5,-17.7 68.2,-23.9 68.9,-17.4 69.6,-17.0 70.3,-17.4 71.0,-18.1 71.6,-19.4 72.3,-18.0 73.0,-21.0 73.7,-18.0 74.4,-19.7 75.1,-16.9 75.8,-16.9 75.8,-4.2 71.6,-6.8 67.5,-4.9 63.3,-3.8 59.1,-5.9 55.0,-4.9 50.8,-8.2 46.6,-10.6 42.4,-11.4 38.3,-6.9 34.1,-8.4 29.9,-8.7 25.7,-9.2 21.6,-5.0 17.4,-6.4 13.2,-3.2 9.0,-6.3 4.9,-3.5 0.7,-5.0Z" fill="url(#ga)"/>
<path transform="matrix(1,0.5146,0,1,129.79,133.58)" d="M0,-3.0L0,-39.9 0.7,-28.9 1.4,-18.2 2.1,-17.5 2.8,-18.4 3.5,-17.6 4.2,-17.5 4.9,-20.7 5.6,-17.7 6.3,-30.3 7.0,-24.1 7.7,-19.3 8.3,-17.6 9.0,-22.6 9.7,-24.0 10.4,-20.4 11.1,-17.4 11.8,-41.7 12.5,-23.0 13.2,-22.7 13.9,-31.7 14.6,-17.6 15.3,-20.3 16.0,-35.5 16.7,-17.8 17.4,-23.9 18.1,-23.5 18.8,-22.2 19.5,-18.8 20.2,-17.8 20.9,-37.3 21.6,-41.3 22.3,-23.0 23.0,-30.8 23.7,-27.9 24.3,-29.6 25.0,-30.8 25.7,-20.6 26.4,-26.2 27.1,-22.1 27.8,-22.5 28.5,-39.6 29.2,-26.8 29.9,-36.6 30.6,-36.5 31.3,-50.7 32.0,-35.0 32.7,-55.2 33.4,-51.5 34.1,-39.4 34.8,-42.4 35.5,-55.0 36.2,-54.8 36.9,-53.8 37.6,-56.0 38.3,-74.0 39.0,-71.8 39.6,-64.7 40.3,-50.4 41.0,-42.7 41.7,-41.5 42.4,-40.5 43.1,-43.0 43.8,-38.7 44.5,-31.6 45.2,-27.5 45.9,-27.1 46.6,-24.9 47.3,-31.1 48.0,-22.5 48.7,-27.2 49.4,-21.1 50.1,-24.4 50.8,-30.5 51.5,-19.4 52.2,-24.2 52.9,-28.3 53.6,-32.5 54.3,-18.1 55.0,-27.9 55.6,-28.6 56.3,-18.9 57.0,-24.9 57.7,-17.7 58.4,-38.6 59.1,-19.2 59.8,-20.3 60.5,-18.5 61.2,-19.6 61.9,-19.0 62.6,-18.7 63.3,-20.9 64.0,-24.9 64.7,-18.0 65.4,-28.2 66.1,-17.1 66.8,-22.8 67.5,-18.0 68.2,-19.8 68.9,-20.3 69.6,-19.9 70.3,-19.2 71.0,-17.3 71.6,-23.2 72.3,-16.9 73.0,-22.4 73.7,-22.3 74.4,-16.8 75.1,-17.1 75.8,-17.2 75.8,-3.5 71.6,-6.0 67.5,-7.8 63.3,-3.0 59.1,-6.7 55.0,-7.9 50.8,-4.5 46.6,-7.0 42.4,-12.6 38.3,-6.6 34.1,-9.3 29.9,-7.1 25.7,-7.2 21.6,-3.9 17.4,-4.9 13.2,-7.6 9.0,-6.5 4.9,-3.8 0.7,-4.5Z" fill="url(#ga)"/>
<path transform="matrix(1,0.5146,0,1,127.20,134.33)" d="M0,-2.7L0,-32.3 0.7,-21.6 1.4,-18.7 2.1,-27.9 2.8,-26.7 3.5,-18.2 4.2,-17.7 4.9,-31.9 5.6,-17.7 6.3,-25.7 7.0,-17.6 7.7,-18.4 8.3,-23.2 9.0,-17.9 9.7,-20.6 10.4,-27.9 11.1,-18.8 11.8,-33.9 12.5,-30.9 13.2,-17.6 13.9,-34.9 14.6,-17.5 15.3,-25.7 16.0,-22.4 16.7,-17.5 17.4,-19.3 18.1,-18.0 18.8,-20.0 19.5,-22.1 20.2,-23.1 20.9,-18.0 21.6,-22.0 22.3,-18.3 23.0,-34.3 23.7,-33.2 24.3,-20.4 25.0,-19.7 25.7,-20.2 26.4,-20.8 27.1,-22.6 27.8,-23.0 28.5,-23.4 29.2,-26.2 29.9,-26.3 30.6,-29.0 31.3,-35.8 32.0,-45.3 32.7,-47.0 33.4,-50.5 34.1,-40.5 34.8,-45.2 35.5,-53.7 36.2,-67.5 36.9,-56.6 37.6,-62.9 38.3,-62.0 39.0,-59.7 39.6,-56.8 40.3,-48.9 41.0,-59.6 41.7,-39.9 42.4,-36.6 43.1,-39.4 43.8,-39.7 44.5,-46.1 45.2,-27.9 45.9,-40.4 46.6,-42.7 47.3,-39.1 48.0,-24.2 48.7,-24.3 49.4,-35.8 50.1,-28.8 50.8,-25.8 51.5,-22.0 52.2,-25.8 52.9,-19.3 53.6,-19.8 54.3,-21.4 55.0,-19.6 55.6,-17.8 56.3,-27.6 57.0,-17.5 57.7,-19.7 58.4,-19.3 59.1,-18.0 59.8,-17.3 60.5,-26.9 61.2,-19.3 61.9,-22.1 62.6,-17.1 63.3,-21.3 64.0,-31.5 64.7,-17.0 65.4,-17.5 66.1,-16.9 66.8,-16.9 67.5,-16.9 68.2,-18.1 68.9,-21.7 69.6,-18.9 70.3,-16.9 71.0,-28.9 71.6,-21.6 72.3,-19.6 73.0,-16.9 73.7,-16.9 74.4,-16.8 75.1,-16.8 75.8,-23.7 75.8,-7.5 71.6,-3.9 67.5,-7.2 63.3,-3.7 59.1,-3.5 55.0,-6.8 50.8,-8.6 46.6,-8.9 42.4,-8.3 38.3,-12.7 34.1,-6.8 29.9,-7.1 25.7,-2.9 21.6,-4.1 17.4,-5.4 13.2,-3.7 9.0,-2.8 4.9,-7.1 0.7,-5.7Z" fill="url(#ga)"/>
<path transform="matrix(1,0.5146,0,1,124.61,135.08)" d="M0,-4.0L0,-21.5 0.7,-34.8 1.4,-18.0 2.1,-21.0 2.8,-18.2 3.5,-18.8 4.2,-22.7 4.9,-17.8 5.6,-21.0 6.3,-23.2 7.0,-25.6 7.7,-29.7 8.3,-27.4 9.0,-18.0 9.7,-19.0 10.4,-17.6 11.1,-19.0 11.8,-33.4 12.5,-17.6 13.2,-17.7 13.9,-23.9 14.6,-18.6 15.3,-17.5 16.0,-20.2 16.7,-36.4 17.4,-21.3 18.1,-17.9 18.8,-21.3 19.5,-19.7 20.2,-18.4 20.9,-18.0 21.6,-32.3 22.3,-18.8 23.0,-19.7 23.7,-43.2 24.3,-26.4 25.0,-43.9 25.7,-21.0 26.4,-31.1 27.1,-28.3 27.8,-22.3 28.5,-29.3 29.2,-40.7 29.9,-44.3 30.6,-27.7 31.3,-33.0 32.0,-55.4 32.7,-37.1 33.4,-47.4 34.1,-39.5 34.8,-41.9 35.5,-54.6 36.2,-54.3 36.9,-54.1 37.6,-56.4 38.3,-68.0 39.0,-55.7 39.6,-56.7 40.3,-59.8 41.0,-52.5 41.7,-45.1 42.4,-37.2 43.1,-34.6 43.8,-38.8 44.5,-42.4 45.2,-27.7 45.9,-26.7 46.6,-29.0 47.3,-31.6 48.0,-35.2 48.7,-29.9 49.4,-38.3 50.1,-21.0 50.8,-24.8 51.5,-27.7 52.2,-28.5 52.9,-18.5 53.6,-22.4 54.3,-18.6 55.0,-18.5 55.6,-23.9 56.3,-23.9 57.0,-21.0 57.7,-23.4 58.4,-30.6 59.1,-19.5 59.8,-20.8 60.5,-21.3 61.2,-18.0 61.9,-27.9 62.6,-18.2 63.3,-23.2 64.0,-20.3 64.7,-27.2 65.4,-23.2 66.1,-17.9 66.8,-20.3 67.5,-23.8 68.2,-17.3 68.9,-31.1 69.6,-21.7 70.3,-27.8 71.0,-21.2 71.6,-22.0 72.3,-17.2 73.0,-16.7 73.7,-28.7 74.4,-22.1 75.1,-16.7 75.8,-16.7 75.8,-7.0 71.6,-2.6 67.5,-5.3 63.3,-7.2 59.1,-7.0 55.0,-4.8 50.8,-4.7 46.6,-9.7 42.4,-12.3 38.3,-15.6 34.1,-12.6 29.9,-4.7 25.7,-4.0 21.6,-8.5 17.4,-8.2 13.2,-4.6 9.0,-3.9 4.9,-8.2 0.7,-5.9Z" fill="url(#ga)"/>
<path transform="matrix(1,0.5146,0,1,122.01,135.83)" d="M0,-7.4L0,-34.8 0.7,-22.7 1.4,-20.4 2.1,-18.0 2.8,-18.0 3.5,-20.9 4.2,-18.4 4.9,-18.3 5.6,-31.3 6.3,-19.6 7.0,-19.8 7.7,-27.8 8.3,-21.3 9.0,-32.6 9.7,-22.2 10.4,-21.1 11.1,-19.6 11.8,-18.2 12.5,-19.9 13.2,-34.6 13.9,-23.0 14.6,-19.0 15.3,-19.1 16.0,-27.8 16.7,-28.8 17.4,-28.8 18.1,-17.6 18.8,-19.4 19.5,-20.9 20.2,-18.2 20.9,-26.5 21.6,-18.8 22.3,-18.4 23.0,-19.9 23.7,-22.6 24.3,-19.2 25.0,-36.2 25.7,-28.0 26.4,-22.0 27.1,-22.3 27.8,-32.7 28.5,-23.5 29.2,-24.6 29.9,-25.8 30.6,-27.8 31.3,-30.3 32.0,-40.1 32.7,-41.3 33.4,-44.6 34.1,-50.1 34.8,-60.7 35.5,-45.5 36.2,-51.8 36.9,-56.4 37.6,-53.8 38.3,-72.3 39.0,-64.4 39.6,-50.2 40.3,-56.6 41.0,-46.1 41.7,-49.8 42.4,-51.2 43.1,-35.0 43.8,-31.2 44.5,-33.0 45.2,-27.6 45.9,-45.2 46.6,-24.5 47.3,-26.5 48.0,-25.1 48.7,-21.7 49.4,-36.7 50.1,-21.4 50.8,-30.3 51.5,-34.7 52.2,-33.9 52.9,-18.7 53.6,-30.9 54.3,-18.4 55.0,-22.2 55.6,-20.7 56.3,-21.2 57.0,-21.4 57.7,-17.3 58.4,-30.1 59.1,-24.2 59.8,-17.1 60.5,-17.3 61.2,-31.7 61.9,-36.4 62.6,-18.2 63.3,-17.0 64.0,-17.2 64.7,-16.9 65.4,-26.5 66.1,-35.3 66.8,-16.9 67.5,-30.3 68.2,-17.9 68.9,-20.0 69.6,-22.2 70.3,-16.7 71.0,-32.0 71.6,-16.7 72.3,-17.3 73.0,-32.9 73.7,-21.6 74.4,-17.5 75.1,-20.9 75.8,-18.7 75.8,-7.3 71.6,-6.2 67.5,-3.6 63.3,-4.3 59.1,-4.7 55.0,-6.3 50.8,-7.4 46.6,-6.9 42.4,-9.0 38.3,-10.5 34.1,-14.1 29.9,-5.0 25.7,-5.6 21.6,-7.5 17.4,-2.6 13.2,-6.8 9.0,-3.7 4.9,-3.8 0.7,-7.0Z" fill="url(#ga)"/>
<path transform="matrix(1,0.5146,0,1,119.42,136.58)" d="M0,-7.9L0,-33.0 0.7,-28.6 1.4,-19.6 2.1,-24.9 2.8,-18.2 3.5,-33.7 4.2,-32.8 4.9,-18.4 5.6,-21.1 6.3,-19.4 7.0,-18.1 7.7,-20.8 8.3,-23.8 9.0,-18.0 9.7,-22.4 10.4,-17.9 11.1,-18.9 11.8,-21.2 12.5,-41.9 13.2,-24.5 13.9,-26.4 14.6,-25.4 15.3,-23.7 16.0,-24.8 16.7,-23.5 17.4,-18.8 18.1,-19.5 18.8,-17.9 19.5,-18.4 20.2,-20.5 20.9,-30.2 21.6,-21.8 22.3,-18.3 23.0,-23.8 23.7,-20.5 24.3,-19.2 25.0,-22.2 25.7,-20.6 26.4,-27.2 27.1,-21.5 27.8,-31.5 28.5,-37.1 29.2,-35.1 29.9,-32.3 30.6,-27.9 31.3,-36.8 32.0,-31.6 32.7,-49.8 33.4,-38.6 34.1,-54.1 34.8,-46.6 35.5,-46.0 36.2,-53.1 36.9,-55.1 37.6,-67.0 38.3,-64.7 39.0,-68.4 39.6,-68.0 40.3,-57.7 41.0,-59.2 41.7,-39.2 42.4,-56.5 43.1,-45.5 43.8,-44.0 44.5,-39.7 45.2,-44.8 45.9,-35.9 46.6,-48.4 47.3,-24.6 48.0,-26.3 48.7,-21.4 49.4,-20.9 50.1,-33.2 50.8,-21.2 51.5,-19.4 52.2,-19.2 52.9,-18.5 53.6,-41.5 54.3,-21.0 55.0,-19.0 55.6,-33.8 56.3,-19.6 57.0,-19.8 57.7,-33.2 58.4,-23.1 59.1,-32.2 59.8,-18.1 60.5,-18.6 61.2,-17.1 61.9,-20.7 62.6,-17.6 63.3,-16.9 64.0,-16.9 64.7,-19.1 65.4,-25.1 66.1,-19.3 66.8,-17.9 67.5,-17.0 68.2,-29.6 68.9,-32.9 69.6,-22.0 70.3,-18.5 71.0,-18.3 71.6,-16.7 72.3,-16.7 73.0,-16.6 73.7,-26.0 74.4,-18.1 75.1,-17.6 75.8,-17.0 75.8,-5.5 71.6,-3.3 67.5,-4.5 63.3,-5.2 59.1,-3.2 55.0,-7.9 50.8,-8.4 46.6,-8.4 42.4,-10.0 38.3,-9.2 34.1,-10.4 29.9,-4.5 25.7,-9.1 21.6,-4.5 17.4,-3.7 13.2,-3.3 9.0,-7.2 4.9,-4.3 0.7,-5.5Z" fill="url(#ga)"/>
<path transform="matrix(1,0.5146,0,1,116.83,137.32)" d="M0,-3.3L0,-21.3 0.7,-20.1 1.4,-26.6 2.1,-18.4 2.8,-18.4 3.5,-18.4 4.2,-19.5 4.9,-18.3 5.6,-35.8 6.3,-20.0 7.0,-19.4 7.7,-23.1 8.3,-27.2 9.0,-20.1 9.7,-18.7 10.4,-23.5 11.1,-19.6 11.8,-29.6 12.5,-17.9 13.2,-17.8 13.9,-19.0 14.6,-18.5 15.3,-19.6 16.0,-27.1 16.7,-17.8 17.4,-33.4 18.1,-17.7 18.8,-18.3 19.5,-25.1 20.2,-33.1 20.9,-27.6 21.6,-18.1 22.3,-18.3 23.0,-18.5 23.7,-30.6 24.3,-20.4 25.0,-28.8 25.7,-20.0 26.4,-26.8 27.1,-32.0 27.8,-37.1 28.5,-23.8 29.2,-25.8 29.9,-26.2 30.6,-29.2 31.3,-28.9 32.0,-31.2 32.7,-41.7 33.4,-55.2 34.1,-39.2 34.8,-45.9 35.5,-62.9 36.2,-57.0 36.9,-58.3 37.6,-54.9 38.3,-61.9 39.0,-53.4 39.6,-58.3 40.3,-56.0 41.0,-41.3 41.7,-38.7 42.4,-52.0 43.1,-47.9 43.8,-30.9 44.5,-45.2 45.2,-27.8 45.9,-29.1 46.6,-32.0 47.3,-24.0 48.0,-24.0 48.7,-22.5 49.4,-35.2 50.1,-27.0 50.8,-39.5 51.5,-21.0 52.2,-26.3 52.9,-43.1 53.6,-19.2 54.3,-33.5 55.0,-19.6 55.6,-34.1 56.3,-23.5 57.0,-27.0 57.7,-18.5 58.4,-17.2 59.1,-17.6 59.8,-19.9 60.5,-17.0 61.2,-17.9 61.9,-24.8 62.6,-16.9 63.3,-16.9 64.0,-16.9 64.7,-16.9 65.4,-25.5 66.1,-26.0 66.8,-18.7 67.5,-26.8 68.2,-24.6 68.9,-17.2 69.6,-19.7 70.3,-19.2 71.0,-17.9 71.6,-16.6 72.3,-16.7 73.0,-29.8 73.7,-16.8 74.4,-21.9 75.1,-17.1 75.8,-16.7 75.8,-6.7 71.6,-3.8 67.5,-7.5 63.3,-4.6 59.1,-2.6 55.0,-6.2 50.8,-5.7 46.6,-3.6 42.4,-10.3 38.3,-9.2 34.1,-13.6 29.9,-3.5 25.7,-6.0 21.6,-4.3 17.4,-2.6 13.2,-2.6 9.0,-6.9 4.9,-3.6 0.7,-4.0Z" fill="url(#ga)"/>
<path transform="matrix(1,0.5146,0,1,114.24,138.07)" d="M0,-7.1L0,-28.7 0.7,-19.1 1.4,-18.7 2.1,-19.9 2.8,-25.0 3.5,-20.5 4.2,-18.5 4.9,-19.1 5.6,-18.5 6.3,-18.6 7.0,-22.0 7.7,-18.9 8.3,-27.5 9.0,-19.1 9.7,-18.2 10.4,-18.8 11.1,-18.3 11.8,-19.9 12.5,-38.1 13.2,-17.9 13.9,-17.9 14.6,-24.7 15.3,-17.8 16.0,-18.7 16.7,-32.7 17.4,-40.3 18.1,-22.0 18.8,-20.1 19.5,-17.9 20.2,-18.2 20.9,-18.0 21.6,-25.6 22.3,-41.1 23.0,-23.7 23.7,-19.6 24.3,-22.6 25.0,-25.1 25.7,-24.4 26.4,-28.9 27.1,-21.3 27.8,-27.9 28.5,-23.3 29.2,-31.9 29.9,-40.2 30.6,-29.2 31.3,-29.8 32.0,-50.7 32.7,-33.0 33.4,-41.1 34.1,-48.2 34.8,-44.2 35.5,-56.0 36.2,-61.4 36.9,-55.4 37.6,-68.9 38.3,-57.3 39.0,-60.7 39.6,-65.0 40.3,-46.3 41.0,-44.2 41.7,-54.4 42.4,-40.1 43.1,-41.3 43.8,-32.0 44.5,-33.3 45.2,-31.8 45.9,-31.0 46.6,-28.0 47.3,-40.3 48.0,-22.8 48.7,-35.6 49.4,-20.6 50.1,-20.0 50.8,-25.4 51.5,-20.0 52.2,-18.7 52.9,-35.2 53.6,-30.3 54.3,-17.9 55.0,-17.7 55.6,-19.1 56.3,-18.5 57.0,-17.5 57.7,-20.6 58.4,-17.8 59.1,-25.4 59.8,-17.9 60.5,-20.7 61.2,-27.2 61.9,-36.6 62.6,-29.2 63.3,-18.4 64.0,-17.0 64.7,-28.4 65.4,-25.8 66.1,-19.9 66.8,-30.6 67.5,-26.0 68.2,-17.8 68.9,-26.7 69.6,-18.5 70.3,-19.6 71.0,-17.1 71.6,-24.1 72.3,-16.6 73.0,-24.2 73.7,-23.3 74.4,-17.5 75.1,-19.3 75.8,-17.3 75.8,-4.0 71.6,-6.8 67.5,-3.7 63.3,-4.5 59.1,-7.0 55.0,-7.0 50.8,-4.1 46.6,-4.8 42.4,-5.5 38.3,-9.3 34.1,-10.9 29.9,-6.6 25.7,-7.1 21.6,-7.7 17.4,-4.1 13.2,-3.4 9.0,-7.3 4.9,-3.7 0.7,-4.8Z" fill="url(#ga)"/>
<path transform="matrix(1,0.5146,0,1,111.65,138.82)" d="M0,-5.7L0,-32.7 0.7,-18.6 1.4,-18.7 2.1,-27.5 2.8,-20.1 3.5,-20.4 4.2,-25.9 4.9,-23.7 5.6,-31.5 6.3,-23.9 7.0,-34.0 7.7,-18.8 8.3,-23.6 9.0,-18.3 9.7,-18.5 10.4,-34.5 11.1,-18.1 11.8,-18.1 12.5,-18.1 13.2,-23.2 13.9,-29.4 14.6,-18.1 15.3,-28.9 16.0,-21.9 16.7,-19.0 17.4,-17.8 18.1,-17.9 18.8,-19.0 19.5,-20.6 20.2,-26.0 20.9,-31.6 21.6,-18.1 22.3,-38.9 23.0,-18.9 23.7,-18.7 24.3,-36.3 25.0,-19.5 25.7,-21.1 26.4,-20.5 27.1,-38.4 27.8,-22.7 28.5,-37.1 29.2,-28.3 29.9,-36.0 30.6,-30.8 31.3,-42.3 32.0,-31.0 32.7,-39.4 33.4,-55.2 34.1,-39.6 34.8,-51.3 35.5,-45.0 36.2,-60.1 36.9,-59.5 37.6,-56.9 38.3,-53.9 39.0,-52.0 39.6,-66.2 40.3,-58.2 41.0,-56.7 41.7,-41.7 42.4,-36.2 43.1,-50.3 43.8,-32.4 44.5,-28.9 45.2,-28.9 45.9,-25.5 46.6,-40.0 47.3,-29.0 48.0,-26.0 48.7,-21.2 49.4,-33.7 50.1,-24.3 50.8,-19.5 51.5,-20.2 52.2,-22.6 52.9,-22.7 53.6,-31.5 54.3,-17.8 55.0,-32.0 55.6,-26.7 56.3,-17.4 57.0,-20.2 57.7,-26.9 58.4,-35.7 59.1,-19.1 59.8,-17.0 60.5,-23.9 61.2,-16.9 61.9,-18.3 62.6,-17.1 63.3,-17.0 64.0,-21.4 64.7,-16.7 65.4,-26.8 66.1,-19.7 66.8,-16.8 67.5,-17.1 68.2,-23.7 68.9,-24.9 69.6,-16.6 70.3,-16.5 71.0,-18.6 71.6,-20.1 72.3,-19.3 73.0,-18.3 73.7,-30.1 74.4,-30.5 75.1,-25.7 75.8,-24.3 75.8,-6.1 71.6,-5.5 67.5,-5.2 63.3,-3.2 59.1,-3.6 55.0,-4.4 50.8,-8.8 46.6,-8.9 42.4,-9.5 38.3,-12.1 34.1,-14.0 29.9,-4.6 25.7,-3.4 21.6,-3.7 17.4,-3.7 13.2,-6.9 9.0,-6.7 4.9,-3.5 0.7,-5.4Z" fill="url(#ga)"/>
<path transform="matrix(1,0.5146,0,1,109.06,139.57)" d="M0,-3.2L0,-19.6 0.7,-19.7 1.4,-19.1 2.1,-18.7 2.8,-21.4 3.5,-24.6 4.2,-19.4 4.9,-19.4 5.6,-18.6 6.3,-22.4 7.0,-19.7 7.7,-22.1 8.3,-26.8 9.0,-18.4 9.7,-36.0 10.4,-34.4 11.1,-18.2 11.8,-21.8 12.5,-21.4 13.2,-24.6 13.9,-34.9 14.6,-19.0 15.3,-24.2 16.0,-25.8 16.7,-17.8 17.4,-18.5 18.1,-29.3 18.8,-26.3 19.5,-19.9 20.2,-17.9 20.9,-37.6 21.6,-26.3 22.3,-18.2 23.0,-19.1 23.7,-19.2 24.3,-23.7 25.0,-19.5 25.7,-20.6 26.4,-20.6 27.1,-35.5 27.8,-31.5 28.5,-29.5 29.2,-24.6 29.9,-25.7 30.6,-30.4 31.3,-31.1 32.0,-33.1 32.7,-38.5 33.4,-50.4 34.1,-58.1 34.8,-47.9 35.5,-54.6 36.2,-59.2 36.9,-69.8 37.6,-54.7 38.3,-72.1 39.0,-59.3 39.6,-64.5 40.3,-43.9 41.0,-51.6 41.7,-58.1 42.4,-39.9 43.1,-36.7 43.8,-37.6 44.5,-30.6 45.2,-39.5 45.9,-29.5 46.6,-25.4 47.3,-23.5 48.0,-22.3 48.7,-30.2 49.4,-20.8 50.1,-23.8 50.8,-24.3 51.5,-23.6 52.2,-30.4 52.9,-25.2 53.6,-21.0 54.3,-20.8 55.0,-19.8 55.6,-20.3 56.3,-33.0 57.0,-17.8 57.7,-17.2 58.4,-26.2 59.1,-21.9 59.8,-18.5 60.5,-22.8 61.2,-17.6 61.9,-16.9 62.6,-16.8 63.3,-16.7 64.0,-30.1 64.7,-28.2 65.4,-16.6 66.1,-34.9 66.8,-25.3 67.5,-28.1 68.2,-27.4 68.9,-19.8 69.6,-19.9 70.3,-16.6 71.0,-16.5 71.6,-16.4 72.3,-22.5 73.0,-18.3 73.7,-23.1 74.4,-17.6 75.1,-17.7 75.8,-19.8 75.8,-3.2 71.6,-5.0 67.5,-7.3 63.3,-6.5 59.1,-6.9 55.0,-7.5 50.8,-8.8 46.6,-9.5 42.4,-6.8 38.3,-6.4 34.1,-7.6 29.9,-8.6 25.7,-4.0 21.6,-5.1 17.4,-2.6 13.2,-7.0 9.0,-3.5 4.9,-7.3 0.7,-4.5Z" fill="url(#ga)"/>
<path transform="matrix(1,0.5146,0,1,106.47,140.32)" d="M0,-8.6L0,-24.9 0.7,-18.8 1.4,-18.7 2.1,-28.3 2.8,-35.7 3.5,-19.1 4.2,-18.9 4.9,-18.6 5.6,-18.6 6.3,-18.6 7.0,-18.5 7.7,-18.5 8.3,-31.3 9.0,-18.6 9.7,-33.2 10.4,-29.0 11.1,-20.2 11.8,-19.4 12.5,-34.2 13.2,-29.8 13.9,-22.2 14.6,-17.9 15.3,-30.0 16.0,-21.3 16.7,-22.7 17.4,-18.3 18.1,-33.7 18.8,-26.5 19.5,-18.2 20.2,-18.0 20.9,-18.4 21.6,-24.6 22.3,-21.9 23.0,-23.3 23.7,-22.8 24.3,-20.7 25.0,-27.6 25.7,-26.4 26.4,-23.8 27.1,-21.5 27.8,-23.5 28.5,-34.9 29.2,-34.4 29.9,-36.2 30.6,-26.7 31.3,-35.6 32.0,-35.4 32.7,-42.1 33.4,-34.7 34.1,-50.5 34.8,-40.8 35.5,-58.9 36.2,-62.4 36.9,-49.0 37.6,-55.8 38.3,-74.9 39.0,-67.9 39.6,-79.4 40.3,-54.1 41.0,-40.5 41.7,-40.9 42.4,-50.6 43.1,-45.4 43.8,-45.6 44.5,-53.4 45.2,-33.3 45.9,-28.7 46.6,-27.2 47.3,-22.7 48.0,-26.7 48.7,-22.1 49.4,-23.6 50.1,-26.6 50.8,-20.1 51.5,-34.9 52.2,-18.8 52.9,-33.3 53.6,-27.6 54.3,-18.2 55.0,-29.5 55.6,-26.1 56.3,-17.3 57.0,-18.3 57.7,-17.1 58.4,-28.6 59.1,-17.7 59.8,-20.5 60.5,-28.4 61.2,-16.8 61.9,-16.8 62.6,-18.0 63.3,-18.2 64.0,-21.7 64.7,-16.6 65.4,-18.0 66.1,-16.8 66.8,-16.5 67.5,-29.5 68.2,-27.4 68.9,-21.5 69.6,-16.4 70.3,-19.7 71.0,-16.5 71.6,-16.4 72.3,-16.5 73.0,-16.3 73.7,-35.3 74.4,-17.8 75.1,-29.0 75.8,-18.4 75.8,-5.9 71.6,-4.6 67.5,-3.6 63.3,-6.6 59.1,-6.6 55.0,-6.8 50.8,-4.3 46.6,-6.9 42.4,-9.5 38.3,-6.2 34.1,-8.9 29.9,-7.9 25.7,-9.0 21.6,-7.3 17.4,-3.1 13.2,-6.3 9.0,-6.8 4.9,-3.8 0.7,-7.1Z" fill="url(#ga)"/>
<path transform="matrix(1,0.5146,0,1,103.88,141.07)" d="M0,-8.2L0,-21.8 0.7,-20.6 1.4,-19.0 2.1,-27.3 2.8,-21.0 3.5,-33.1 4.2,-19.5 4.9,-32.7 5.6,-22.1 6.3,-35.1 7.0,-26.5 7.7,-24.3 8.3,-36.4 9.0,-18.3 9.7,-22.6 10.4,-19.7 11.1,-18.1 11.8,-32.7 12.5,-23.1 13.2,-24.2 13.9,-39.9 14.6,-33.6 15.3,-18.1 16.0,-18.3 16.7,-23.1 17.4,-18.6 18.1,-20.0 18.8,-17.9 19.5,-30.0 20.2,-21.1 20.9,-17.8 21.6,-19.0 22.3,-31.5 23.0,-18.8 23.7,-19.7 24.3,-19.9 25.0,-19.3 25.7,-22.1 26.4,-20.1 27.1,-21.5 27.8,-34.3 28.5,-38.4 29.2,-23.5 29.9,-28.0 30.6,-36.4 31.3,-37.7 32.0,-30.2 32.7,-32.0 33.4,-34.3 34.1,-44.1 34.8,-42.6 35.5,-65.1 36.2,-44.5 36.9,-53.1 37.6,-58.7 38.3,-55.3 39.0,-54.2 39.6,-44.3 40.3,-44.2 41.0,-51.4 41.7,-55.9 42.4,-42.6 43.1,-42.9 43.8,-29.4 44.5,-28.4 45.2,-31.2 45.9,-25.3 46.6,-29.6 47.3,-30.1 48.0,-31.6 48.7,-24.2 49.4,-20.8 50.1,-19.7 50.8,-23.1 51.5,-28.5 52.2,-20.4 52.9,-19.4 53.6,-18.0 54.3,-17.7 55.0,-19.3 55.6,-29.0 56.3,-19.8 57.0,-22.8 57.7,-18.3 58.4,-19.2 59.1,-18.7 59.8,-19.8 60.5,-30.0 61.2,-17.8 61.9,-29.2 62.6,-25.1 63.3,-23.2 64.0,-16.6 64.7,-26.8 65.4,-28.3 66.1,-18.9 66.8,-18.1 67.5,-19.5 68.2,-17.3 68.9,-16.5 69.6,-17.3 70.3,-16.6 71.0,-17.3 71.6,-16.3 72.3,-25.6 73.0,-16.3 73.7,-20.9 74.4,-30.2 75.1,-16.2 75.8,-31.0 75.8,-4.7 71.6,-7.5 67.5,-5.1 63.3,-5.7 59.1,-7.4 55.0,-6.6 50.8,-3.5 46.6,-5.4 42.4,-4.6 38.3,-7.9 34.1,-7.1 29.9,-6.0 25.7,-6.1 21.6,-6.3 17.4,-6.7 13.2,-6.7 9.0,-5.3 4.9,-7.4 0.7,-6.5Z" fill="url(#ga)"/>
<path transform="matrix(1,0.5146,0,1,101.29,141.82)" d="M0,-5.7L0,-28.8 0.7,-18.4 1.4,-29.1 2.1,-19.2 2.8,-19.1 3.5,-18.5 4.2,-18.4 4.9,-30.6 5.6,-19.0 6.3,-22.6 7.0,-18.9 7.7,-18.3 8.3,-27.4 9.0,-26.9 9.7,-23.6 10.4,-32.5 11.1,-26.6 11.8,-36.0 12.5,-24.3 13.2,-32.4 13.9,-26.1 14.6,-17.7 15.3,-18.1 16.0,-23.6 16.7,-17.7 17.4,-18.3 18.1,-17.6 18.8,-17.6 19.5,-23.9 20.2,-17.9 20.9,-22.8 21.6,-23.4 22.3,-26.9 23.0,-22.4 23.7,-28.1 24.3,-18.9 25.0,-19.0 25.7,-22.4 26.4,-20.0 27.1,-22.3 27.8,-27.5 28.5,-24.5 29.2,-23.7 29.9,-51.2 30.6,-40.1 31.3,-41.9 32.0,-43.6 32.7,-30.8 33.4,-35.7 34.1,-36.2 34.8,-47.6 35.5,-55.2 36.2,-43.6 36.9,-52.3 37.6,-48.2 38.3,-61.7 39.0,-50.6 39.6,-57.8 40.3,-44.8 41.0,-43.9 41.7,-41.9 42.4,-33.1 43.1,-41.9 43.8,-32.7 44.5,-28.2 45.2,-28.0 45.9,-24.5 46.6,-29.8 47.3,-28.2 48.0,-23.6 48.7,-33.8 49.4,-24.8 50.1,-19.8 50.8,-25.0 51.5,-18.6 52.2,-34.1 52.9,-34.2 53.6,-20.2 54.3,-31.5 55.0,-17.5 55.6,-27.4 56.3,-20.5 57.0,-17.3 57.7,-19.2 58.4,-17.6 59.1,-17.0 59.8,-18.8 60.5,-20.9 61.2,-22.3 61.9,-16.7 62.6,-16.6 63.3,-17.5 64.0,-19.5 64.7,-16.9 65.4,-26.2 66.1,-16.5 66.8,-16.8 67.5,-16.8 68.2,-16.4 68.9,-22.3 69.6,-26.3 70.3,-16.5 71.0,-16.3 71.6,-16.5 72.3,-19.7 73.0,-17.0 73.7,-16.2 74.4,-16.8 75.1,-30.0 75.8,-24.1 75.8,-7.3 71.6,-6.6 67.5,-6.6 63.3,-7.6 59.1,-2.7 55.0,-7.9 50.8,-8.1 46.6,-7.2 42.4,-6.3 38.3,-7.9 34.1,-11.2 29.9,-7.6 25.7,-5.3 21.6,-8.4 17.4,-3.7 13.2,-8.5 9.0,-8.4 4.9,-8.6 0.7,-7.3Z" fill="url(#ga)"/>
<path transform="matrix(1,0.5146,0,1,98.69,142.57)" d="M0,-6.4L0,-20.5 0.7,-21.7 1.4,-19.1 2.1,-22.6 2.8,-25.2 3.5,-18.2 4.2,-24.1 4.9,-25.6 5.6,-18.2 6.3,-18.7 7.0,-26.5 7.7,-18.9 8.3,-18.3 9.0,-18.0 9.7,-26.0 10.4,-18.2 11.1,-18.2 11.8,-21.1 12.5,-23.3 13.2,-17.7 13.9,-17.7 14.6,-29.3 15.3,-21.8 16.0,-17.5 16.7,-17.8 17.4,-34.2 18.1,-17.5 18.8,-18.5 19.5,-26.2 20.2,-24.2 20.9,-19.5 21.6,-18.1 22.3,-26.4 23.0,-18.0 23.7,-20.3 24.3,-20.7 25.0,-32.3 25.7,-19.2 26.4,-22.1 27.1,-20.3 27.8,-26.3 28.5,-21.7 29.2,-31.0 29.9,-25.5 30.6,-27.5 31.3,-26.2 32.0,-28.3 32.7,-32.8 33.4,-32.0 34.1,-36.7 34.8,-35.9 35.5,-49.0 36.2,-42.5 36.9,-56.5 37.6,-64.9 38.3,-49.9 39.0,-58.3 39.6,-49.7 40.3,-46.8 41.0,-51.2 41.7,-41.7 42.4,-31.3 43.1,-30.3 43.8,-27.7 44.5,-31.9 45.2,-25.3 45.9,-35.9 46.6,-30.6 47.3,-29.5 48.0,-21.8 48.7,-20.3 49.4,-20.1 50.1,-31.9 50.8,-19.9 51.5,-27.1 52.2,-18.2 52.9,-23.6 53.6,-20.3 54.3,-26.5 55.0,-17.4 55.6,-19.1 56.3,-27.5 57.0,-22.0 57.7,-17.1 58.4,-17.7 59.1,-22.4 59.8,-20.0 60.5,-21.0 61.2,-17.0 61.9,-26.4 62.6,-19.1 63.3,-16.8 64.0,-19.0 64.7,-25.9 65.4,-36.6 66.1,-23.1 66.8,-17.6 67.5,-17.2 68.2,-32.2 68.9,-16.3 69.6,-35.3 70.3,-23.7 71.0,-16.3 71.6,-16.2 72.3,-23.8 73.0,-16.2 73.7,-17.3 74.4,-16.1 75.1,-21.6 75.8,-16.1 75.8,-5.6 71.6,-2.9 67.5,-5.1 63.3,-7.9 59.1,-7.1 55.0,-5.9 50.8,-3.8 46.6,-3.1 42.4,-8.1 38.3,-14.2 34.1,-9.5 29.9,-8.7 25.7,-5.2 21.6,-5.8 17.4,-4.2 13.2,-7.6 9.0,-4.3 4.9,-4.0 0.7,-3.3Z" fill="url(#ga)"/>
<path transform="matrix(1,0.5146,0,1,96.10,143.32)" d="M0,-4.6L0,-17.9 0.7,-18.1 1.4,-27.8 2.1,-17.9 2.8,-21.3 3.5,-18.0 4.2,-18.3 4.9,-32.6 5.6,-24.9 6.3,-28.5 7.0,-17.9 7.7,-22.4 8.3,-17.9 9.0,-27.0 9.7,-22.4 10.4,-17.7 11.1,-19.7 11.8,-18.7 12.5,-28.1 13.2,-29.2 13.9,-20.5 14.6,-18.8 15.3,-18.0 16.0,-20.5 16.7,-32.4 17.4,-21.1 18.1,-21.4 18.8,-28.3 19.5,-17.6 20.2,-22.5 20.9,-26.2 21.6,-21.5 22.3,-30.2 23.0,-32.6 23.7,-20.1 24.3,-18.3 25.0,-25.0 25.7,-19.2 26.4,-23.3 27.1,-25.3 27.8,-20.6 28.5,-21.3 29.2,-37.7 29.9,-23.4 30.6,-30.9 31.3,-36.6 32.0,-32.5 32.7,-33.8 33.4,-44.2 34.1,-33.2 34.8,-38.6 35.5,-54.5 36.2,-43.2 36.9,-43.0 37.6,-42.0 38.3,-43.1 39.0,-44.7 39.6,-53.4 40.3,-43.4 41.0,-49.8 41.7,-33.5 42.4,-35.5 43.1,-44.1 43.8,-35.4 44.5,-25.1 45.2,-24.5 45.9,-22.9 46.6,-37.7 47.3,-45.6 48.0,-20.7 48.7,-21.4 49.4,-26.7 50.1,-35.4 50.8,-18.7 51.5,-27.0 52.2,-18.2 52.9,-17.8 53.6,-18.1 54.3,-19.8 55.0,-25.2 55.6,-19.2 56.3,-17.1 57.0,-17.6 57.7,-21.8 58.4,-31.4 59.1,-16.9 59.8,-34.6 60.5,-22.7 61.2,-16.6 61.9,-19.7 62.6,-17.0 63.3,-16.7 64.0,-16.5 64.7,-18.4 65.4,-16.4 66.1,-21.6 66.8,-18.9 67.5,-27.2 68.2,-17.9 68.9,-23.3 69.6,-24.7 70.3,-22.8 71.0,-18.6 71.6,-16.2 72.3,-16.2 73.0,-18.3 73.7,-29.4 74.4,-19.3 75.1,-16.0 75.8,-17.5 75.8,-4.6 71.6,-5.9 67.5,-3.0 63.3,-5.8 59.1,-4.2 55.0,-7.4 50.8,-6.4 46.6,-6.0 42.4,-9.7 38.3,-7.1 34.1,-8.3 29.9,-8.6 25.7,-3.1 21.6,-5.7 17.4,-5.2 13.2,-7.4 9.0,-7.7 4.9,-7.4 0.7,-2.8Z" fill="url(#ga)"/>
<path transform="matrix(1,0.5146,0,1,93.51,144.06)" d="M0,-4.3L0,-17.6 0.7,-17.6 1.4,-29.7 2.1,-27.0 2.8,-23.1 3.5,-24.9 4.2,-24.0 4.9,-20.5 5.6,-30.5 6.3,-17.8 7.0,-34.1 7.7,-17.7 8.3,-19.1 9.0,-19.2 9.7,-17.5 10.4,-34.9 11.1,-17.9 11.8,-17.5 12.5,-17.4 13.2,-25.7 13.9,-17.4 14.6,-32.3 15.3,-25.4 16.0,-17.3 16.7,-24.7 17.4,-17.7 18.1,-18.6 18.8,-25.7 19.5,-39.6 20.2,-20.1 20.9,-32.9 21.6,-27.9 22.3,-18.8 23.0,-17.8 23.7,-18.4 24.3,-31.8 25.0,-20.2 25.7,-39.2 26.4,-21.2 27.1,-41.5 27.8,-20.1 28.5,-21.0 29.2,-31.9 29.9,-31.7 30.6,-30.7 31.3,-41.2 32.0,-33.2 32.7,-31.4 33.4,-39.7 34.1,-32.9 34.8,-41.1 35.5,-48.0 36.2,-42.9 36.9,-49.3 37.6,-50.2 38.3,-39.5 39.0,-48.3 39.6,-43.7 40.3,-36.1 41.0,-54.2 41.7,-35.9 42.4,-42.8 43.1,-36.6 43.8,-32.7 44.5,-26.6 45.2,-23.9 45.9,-29.1 46.6,-24.1 47.3,-21.4 48.0,-37.4 48.7,-20.6 49.4,-36.0 50.1,-19.2 50.8,-24.7 51.5,-20.9 52.2,-22.6 52.9,-17.7 53.6,-22.4 54.3,-31.3 55.0,-32.4 55.6,-20.1 56.3,-39.0 57.0,-27.8 57.7,-37.4 58.4,-18.0 59.1,-20.6 59.8,-19.7 60.5,-18.0 61.2,-16.8 61.9,-19.8 62.6,-38.5 63.3,-18.0 64.0,-23.6 64.7,-16.4 65.4,-16.9 66.1,-16.7 66.8,-16.4 67.5,-18.9 68.2,-16.7 68.9,-23.7 69.6,-17.2 70.3,-28.5 71.0,-16.4 71.6,-18.8 72.3,-24.0 73.0,-16.0 73.7,-19.9 74.4,-18.1 75.1,-17.6 75.8,-16.8 75.8,-3.1 71.6,-3.0 67.5,-3.1 63.3,-6.7 59.1,-2.9 55.0,-8.1 50.8,-3.0 46.6,-3.6 42.4,-8.2 38.3,-8.6 34.1,-8.0 29.9,-7.7 25.7,-6.8 21.6,-5.2 17.4,-3.7 13.2,-7.4 9.0,-6.6 4.9,-4.2 0.7,-4.9Z" fill="url(#ga)"/>
<path transform="matrix(1,0.5146,0,1,90.92,144.81)" d="M0,-2.7L0,-20.3 0.7,-27.6 1.4,-21.1 2.1,-17.3 2.8,-26.6 3.5,-19.9 4.2,-18.0 4.9,-17.8 5.6,-18.0 6.3,-23.4 7.0,-26.5 7.7,-21.7 8.3,-19.1 9.0,-18.9 9.7,-27.5 10.4,-17.3 11.1,-18.4 11.8,-17.8 12.5,-17.9 13.2,-29.2 13.9,-22.2 14.6,-37.5 15.3,-18.8 16.0,-32.9 16.7,-30.8 17.4,-29.5 18.1,-17.5 18.8,-20.9 19.5,-29.1 20.2,-17.3 20.9,-31.6 21.6,-19.3 22.3,-17.6 23.0,-18.2 23.7,-18.5 24.3,-26.5 25.0,-20.0 25.7,-18.7 26.4,-23.2 27.1,-31.4 27.8,-21.5 28.5,-35.4 29.2,-21.7 29.9,-23.2 30.6,-25.0 31.3,-24.6 32.0,-39.5 32.7,-43.5 33.4,-31.1 34.1,-43.7 34.8,-42.0 35.5,-45.8 36.2,-50.1 36.9,-42.1 37.6,-42.8 38.3,-40.5 39.0,-39.4 39.6,-47.3 40.3,-40.3 41.0,-40.5 41.7,-40.9 42.4,-52.2 43.1,-43.7 43.8,-35.3 44.5,-32.4 45.2,-23.5 45.9,-22.4 46.6,-24.9 47.3,-33.1 48.0,-26.2 48.7,-20.4 49.4,-20.0 50.1,-35.0 50.8,-19.4 51.5,-24.3 52.2,-17.9 52.9,-37.6 53.6,-17.5 54.3,-19.8 55.0,-30.2 55.6,-29.6 56.3,-17.0 57.0,-26.3 57.7,-16.9 58.4,-18.4 59.1,-18.4 59.8,-22.7 60.5,-17.8 61.2,-19.3 61.9,-20.6 62.6,-30.2 63.3,-16.6 64.0,-17.1 64.7,-16.6 65.4,-32.1 66.1,-16.3 66.8,-21.7 67.5,-21.3 68.2,-25.5 68.9,-16.2 69.6,-16.2 70.3,-18.5 71.0,-23.2 71.6,-16.1 72.3,-16.0 73.0,-16.5 73.7,-24.6 74.4,-19.7 75.1,-15.9 75.8,-18.2 75.8,-7.1 71.6,-3.4 67.5,-6.1 63.3,-3.7 59.1,-5.8 55.0,-7.8 50.8,-8.3 46.6,-6.9 42.4,-8.1 38.3,-12.7 34.1,-5.6 29.9,-7.6 25.7,-8.6 21.6,-6.9 17.4,-6.3 13.2,-6.1 9.0,-8.0 4.9,-3.1 0.7,-7.3Z" fill="url(#ga)"/>
<path transform="matrix(1,0.5146,0,1,88.33,145.56)" d="M0,-4.0L0,-18.0 0.7,-17.1 1.4,-17.0 2.1,-18.4 2.8,-20.1 3.5,-17.1 4.2,-18.1 4.9,-17.3 5.6,-23.5 6.3,-18.5 7.0,-18.4 7.7,-20.3 8.3,-17.0 9.0,-33.5 9.7,-20.2 10.4,-23.9 11.1,-17.1 11.8,-18.0 12.5,-19.3 13.2,-17.8 13.9,-22.0 14.6,-17.0 15.3,-18.3 16.0,-28.7 16.7,-17.5 17.4,-17.1 18.1,-18.8 18.8,-17.8 19.5,-17.2 20.2,-17.7 20.9,-20.5 21.6,-23.0 22.3,-20.4 23.0,-19.5 23.7,-17.9 24.3,-18.7 25.0,-34.1 25.7,-26.9 26.4,-19.3 27.1,-35.7 27.8,-29.1 28.5,-23.1 29.2,-29.8 29.9,-22.3 30.6,-23.2 31.3,-24.6 32.0,-25.4 32.7,-34.7 33.4,-29.3 34.1,-37.8 34.8,-34.3 35.5,-52.9 36.2,-41.7 36.9,-42.4 37.6,-41.1 38.3,-59.7 39.0,-57.7 39.6,-37.2 40.3,-43.5 41.0,-34.4 41.7,-40.7 42.4,-28.3 43.1,-26.8 43.8,-29.2 44.5,-28.1 45.2,-23.2 45.9,-46.4 46.6,-24.9 47.3,-25.9 48.0,-24.8 48.7,-19.6 49.4,-25.1 50.1,-18.7 50.8,-18.7 51.5,-18.8 52.2,-18.0 52.9,-25.2 53.6,-21.3 54.3,-17.3 55.0,-17.5 55.6,-25.4 56.3,-17.3 57.0,-19.4 57.7,-17.4 58.4,-16.7 59.1,-16.8 59.8,-24.1 60.5,-31.7 61.2,-21.1 61.9,-17.3 62.6,-16.6 63.3,-23.0 64.0,-22.0 64.7,-19.3 65.4,-16.3 66.1,-17.7 66.8,-16.7 67.5,-28.5 68.2,-16.5 68.9,-16.2 69.6,-19.1 70.3,-18.2 71.0,-37.0 71.6,-16.0 72.3,-30.4 73.0,-38.0 73.7,-21.3 74.4,-19.2 75.1,-22.2 75.8,-15.8 75.8,-4.8 71.6,-6.6 67.5,-3.3 63.3,-5.8 59.1,-5.9 55.0,-4.3 50.8,-3.2 46.6,-5.1 42.4,-5.4 38.3,-4.7 34.1,-7.7 29.9,-6.9 25.7,-2.6 21.6,-3.3 17.4,-6.6 13.2,-6.6 9.0,-5.3 4.9,-7.2 0.7,-6.4Z" fill="url(#ga)"/>
<path transform="matrix(1,0.5146,0,1,85.74,146.31)" d="M0,-4.5L0,-28.2 0.7,-18.0 1.4,-23.1 2.1,-24.7 2.8,-24.3 3.5,-16.7 4.2,-19.3 4.9,-23.8 5.6,-22.1 6.3,-21.2 7.0,-18.3 7.7,-18.7 8.3,-17.5 9.0,-16.8 9.7,-18.4 10.4,-24.7 11.1,-17.6 11.8,-16.8 12.5,-16.9 13.2,-16.8 13.9,-37.6 14.6,-18.7 15.3,-28.9 16.0,-17.5 16.7,-16.9 17.4,-26.8 18.1,-22.6 18.8,-17.3 19.5,-24.3 20.2,-17.2 20.9,-33.5 21.6,-17.4 22.3,-25.2 23.0,-30.9 23.7,-17.8 24.3,-31.3 25.0,-19.5 25.7,-28.0 26.4,-24.0 27.1,-25.9 27.8,-20.1 28.5,-21.3 29.2,-23.9 29.9,-31.9 30.6,-23.6 31.3,-29.1 32.0,-25.5 32.7,-27.9 33.4,-35.5 34.1,-30.0 34.8,-47.3 35.5,-35.4 36.2,-49.7 36.9,-50.7 37.6,-47.2 38.3,-53.2 39.0,-40.1 39.6,-44.9 40.3,-44.4 41.0,-43.4 41.7,-38.2 42.4,-28.9 43.1,-26.8 43.8,-32.0 44.5,-24.4 45.2,-30.4 45.9,-24.1 46.6,-21.8 47.3,-21.4 48.0,-23.6 48.7,-24.4 49.4,-20.9 50.1,-25.3 50.8,-23.7 51.5,-21.5 52.2,-38.1 52.9,-17.8 53.6,-17.4 54.3,-17.4 55.0,-19.7 55.6,-32.2 56.3,-17.0 57.0,-20.3 57.7,-16.8 58.4,-20.4 59.1,-19.1 59.8,-16.9 60.5,-18.1 61.2,-23.5 61.9,-17.2 62.6,-21.7 63.3,-17.3 64.0,-16.3 64.7,-16.3 65.4,-21.2 66.1,-16.2 66.8,-16.4 67.5,-28.4 68.2,-19.8 68.9,-26.0 69.6,-16.9 70.3,-16.6 71.0,-22.9 71.6,-18.9 72.3,-27.6 73.0,-16.9 73.7,-18.8 74.4,-15.8 75.1,-15.7 75.8,-17.6 75.8,-3.4 71.6,-5.7 67.5,-7.2 63.3,-4.2 59.1,-7.0 55.0,-6.4 50.8,-3.3 46.6,-8.8 42.4,-8.0 38.3,-8.9 34.1,-3.9 29.9,-8.6 25.7,-6.9 21.6,-4.9 17.4,-7.1 13.2,-2.7 9.0,-2.5 4.9,-7.4 0.7,-4.6Z" fill="url(#ga)"/>
<path transform="matrix(1,0.5146,0,1,83.15,147.06)" d="M0,-5.5L0,-16.6 0.7,-16.4 1.4,-25.6 2.1,-19.5 2.8,-16.6 3.5,-18.8 4.2,-16.7 4.9,-16.8 5.6,-16.7 6.3,-16.6 7.0,-19.7 7.7,-18.2 8.3,-31.4 9.0,-21.7 9.7,-35.5 10.4,-19.6 11.1,-17.9 11.8,-24.8 12.5,-18.4 13.2,-17.5 13.9,-16.7 14.6,-22.8 15.3,-17.0 16.0,-17.9 16.7,-25.0 17.4,-19.8 18.1,-19.4 18.8,-17.0 19.5,-27.1 20.2,-18.3 20.9,-26.0 21.6,-20.7 22.3,-17.5 23.0,-25.7 23.7,-29.6 24.3,-25.8 25.0,-18.3 25.7,-27.6 26.4,-20.0 27.1,-23.3 27.8,-37.1 28.5,-30.7 29.2,-23.8 29.9,-45.4 30.6,-24.4 31.3,-24.2 32.0,-25.7 32.7,-28.1 33.4,-33.8 34.1,-45.0 34.8,-33.8 35.5,-34.6 36.2,-38.5 36.9,-48.0 37.6,-45.3 38.3,-42.9 39.0,-46.2 39.6,-36.4 40.3,-43.8 41.0,-32.1 41.7,-31.0 42.4,-28.2 43.1,-30.8 43.8,-37.9 44.5,-40.7 45.2,-28.7 45.9,-37.0 46.6,-23.3 47.3,-24.7 48.0,-20.2 48.7,-20.8 49.4,-20.7 50.1,-19.5 50.8,-28.0 51.5,-18.6 52.2,-17.9 52.9,-17.9 53.6,-18.8 54.3,-17.3 55.0,-20.2 55.6,-26.8 56.3,-25.7 57.0,-18.3 57.7,-21.8 58.4,-20.7 59.1,-22.5 59.8,-25.5 60.5,-18.9 61.2,-17.9 61.9,-16.5 62.6,-25.7 63.3,-19.8 64.0,-17.8 64.7,-16.5 65.4,-16.8 66.1,-16.5 66.8,-17.2 67.5,-22.4 68.2,-18.3 68.9,-25.9 69.6,-16.0 70.3,-27.1 71.0,-18.5 71.6,-18.2 72.3,-17.1 73.0,-15.8 73.7,-16.9 74.4,-29.3 75.1,-17.3 75.8,-20.7 75.8,-3.9 71.6,-2.8 67.5,-5.8 63.3,-6.6 59.1,-6.3 55.0,-3.7 50.8,-6.5 46.6,-4.8 42.4,-7.4 38.3,-5.1 34.1,-7.6 29.9,-2.9 25.7,-4.5 21.6,-5.4 17.4,-5.4 13.2,-2.7 9.0,-5.7 4.9,-2.6 0.7,-7.3Z" fill="url(#ga)"/>
<path transform="matrix(1,0.5146,0,1,80.56,147.81)" d="M0,-7.3L0,-27.3 0.7,-28.2 1.4,-16.2 2.1,-32.5 2.8,-29.5 3.5,-16.6 4.2,-16.4 4.9,-17.8 5.6,-20.0 6.3,-18.0 7.0,-16.4 7.7,-28.3 8.3,-16.5 9.0,-18.7 9.7,-16.6 10.4,-22.7 11.1,-16.5 11.8,-29.3 12.5,-16.5 13.2,-25.5 13.9,-16.7 14.6,-16.8 15.3,-35.9 16.0,-17.9 16.7,-27.6 17.4,-16.8 18.1,-20.9 18.8,-28.3 19.5,-26.8 20.2,-25.6 20.9,-17.1 21.6,-23.7 22.3,-33.3 23.0,-20.9 23.7,-34.0 24.3,-19.6 25.0,-26.2 25.7,-30.8 26.4,-35.4 27.1,-41.9 27.8,-20.7 28.5,-29.0 29.2,-21.5 29.9,-36.1 30.6,-36.4 31.3,-24.2 32.0,-39.1 32.7,-26.8 33.4,-29.1 34.1,-40.7 34.8,-36.1 35.5,-36.8 36.2,-50.7 36.9,-47.5 37.6,-48.1 38.3,-47.7 39.0,-44.1 39.6,-47.0 40.3,-49.4 41.0,-43.5 41.7,-34.9 42.4,-28.2 43.1,-26.7 43.8,-28.6 44.5,-25.5 45.2,-27.5 45.9,-23.3 46.6,-24.5 47.3,-21.8 48.0,-27.2 48.7,-20.1 49.4,-19.1 50.1,-29.3 50.8,-18.3 51.5,-18.7 52.2,-19.0 52.9,-18.2 53.6,-24.4 54.3,-17.2 55.0,-17.4 55.6,-17.3 56.3,-16.9 57.0,-26.0 57.7,-17.2 58.4,-16.8 59.1,-25.6 59.8,-16.8 60.5,-16.4 61.2,-16.4 61.9,-20.5 62.6,-23.6 63.3,-19.1 64.0,-17.9 64.7,-24.3 65.4,-31.8 66.1,-24.3 66.8,-21.3 67.5,-28.3 68.2,-21.8 68.9,-16.0 69.6,-22.3 70.3,-21.7 71.0,-17.0 71.6,-21.4 72.3,-25.0 73.0,-16.8 73.7,-20.2 74.4,-29.7 75.1,-15.6 75.8,-16.4 75.8,-4.9 71.6,-4.7 67.5,-2.9 63.3,-7.6 59.1,-6.7 55.0,-2.8 50.8,-6.9 46.6,-3.2 42.4,-8.0 38.3,-12.0 34.1,-7.0 29.9,-5.7 25.7,-7.5 21.6,-2.6 17.4,-5.4 13.2,-3.2 9.0,-2.6 4.9,-2.9 0.7,-3.4Z" fill="url(#ga)"/>
<path transform="matrix(1,0.5146,0,1,77.97,148.56)" d="M0,-4.6L0,-26.9 0.7,-15.9 1.4,-31.7 2.1,-16.0 2.8,-16.1 3.5,-17.5 4.2,-19.0 4.9,-16.2 5.6,-21.2 6.3,-21.4 7.0,-17.5 7.7,-28.4 8.3,-18.4 9.0,-17.9 9.7,-16.3 10.4,-17.6 11.1,-17.2 11.8,-16.5 12.5,-19.8 13.2,-32.3 13.9,-17.1 14.6,-16.9 15.3,-16.8 16.0,-16.6 16.7,-16.8 17.4,-17.3 18.1,-20.0 18.8,-31.9 19.5,-17.0 20.2,-22.9 20.9,-32.1 21.6,-18.0 22.3,-19.8 23.0,-26.2 23.7,-17.9 24.3,-20.8 25.0,-21.0 25.7,-19.9 26.4,-20.4 27.1,-20.9 27.8,-20.0 28.5,-30.8 29.2,-23.2 29.9,-22.2 30.6,-23.2 31.3,-24.2 32.0,-27.7 32.7,-38.2 33.4,-35.3 34.1,-29.7 34.8,-39.4 35.5,-41.9 36.2,-50.3 36.9,-37.9 37.6,-52.1 38.3,-44.0 39.0,-40.9 39.6,-49.1 40.3,-35.1 41.0,-31.5 41.7,-40.3 42.4,-39.8 43.1,-29.6 43.8,-39.5 44.5,-25.3 45.2,-23.2 45.9,-32.8 46.6,-21.6 47.3,-20.7 48.0,-29.7 48.7,-20.0 49.4,-19.3 50.1,-24.3 50.8,-20.0 51.5,-18.0 52.2,-20.2 52.9,-19.2 53.6,-21.3 54.3,-21.6 55.0,-19.7 55.6,-19.7 56.3,-21.7 57.0,-29.9 57.7,-17.9 58.4,-16.7 59.1,-37.3 59.8,-17.0 60.5,-30.0 61.2,-19.4 61.9,-25.4 62.6,-31.5 63.3,-27.4 64.0,-16.2 64.7,-17.6 65.4,-16.4 66.1,-16.7 66.8,-28.3 67.5,-16.0 68.2,-18.7 68.9,-15.9 69.6,-16.7 70.3,-19.1 71.0,-20.3 71.6,-20.1 72.3,-16.0 73.0,-18.5 73.7,-19.5 74.4,-19.2 75.1,-16.5 75.8,-15.5 75.8,-3.2 71.6,-3.4 67.5,-4.4 63.3,-4.5 59.1,-5.2 55.0,-3.4 50.8,-3.3 46.6,-6.4 42.4,-6.3 38.3,-6.3 34.1,-8.9 29.9,-6.5 25.7,-3.2 21.6,-4.6 17.4,-6.0 13.2,-3.2 9.0,-4.5 4.9,-3.3 0.7,-7.5Z" fill="url(#ga)"/>
<path transform="matrix(1,0.5146,0,1,75.37,149.31)" d="M0,-7.3L0,-18.5 0.7,-16.1 1.4,-21.4 2.1,-15.9 2.8,-18.8 3.5,-18.0 4.2,-24.8 4.9,-20.6 5.6,-24.0 6.3,-25.5 7.0,-17.0 7.7,-19.7 8.3,-16.8 9.0,-26.6 9.7,-26.2 10.4,-20.8 11.1,-17.1 11.8,-17.7 12.5,-24.6 13.2,-16.3 13.9,-17.4 14.6,-17.3 15.3,-24.9 16.0,-18.5 16.7,-16.7 17.4,-25.4 18.1,-20.6 18.8,-22.4 19.5,-16.8 20.2,-16.9 20.9,-32.2 21.6,-22.9 22.3,-17.5 23.0,-17.5 23.7,-26.5 24.3,-28.3 25.0,-20.3 25.7,-18.6 26.4,-20.1 27.1,-25.2 27.8,-20.0 28.5,-32.1 29.2,-34.8 29.9,-29.2 30.6,-31.1 31.3,-28.0 32.0,-34.3 32.7,-28.5 33.4,-31.9 34.1,-30.3 34.8,-39.9 35.5,-40.9 36.2,-44.3 36.9,-47.7 37.6,-47.3 38.3,-41.0 39.0,-38.1 39.6,-45.3 40.3,-54.4 41.0,-43.7 41.7,-29.7 42.4,-29.9 43.1,-38.9 43.8,-28.6 44.5,-30.1 45.2,-26.4 45.9,-34.3 46.6,-21.6 47.3,-33.6 48.0,-28.5 48.7,-24.1 49.4,-21.1 50.1,-18.6 50.8,-22.3 51.5,-18.0 52.2,-18.2 52.9,-25.8 53.6,-20.5 54.3,-30.1 55.0,-30.8 55.6,-18.7 56.3,-29.7 57.0,-18.5 57.7,-28.5 58.4,-37.8 59.1,-17.0 59.8,-16.5 60.5,-18.0 61.2,-26.3 61.9,-16.3 62.6,-16.4 63.3,-25.1 64.0,-17.7 64.7,-16.5 65.4,-20.5 66.1,-16.4 66.8,-21.6 67.5,-24.7 68.2,-19.0 68.9,-29.0 69.6,-23.1 70.3,-32.6 71.0,-15.8 71.6,-16.0 72.3,-15.6 73.0,-15.6 73.7,-15.6 74.4,-27.2 75.1,-17.9 75.8,-15.5 75.8,-7.1 71.6,-5.4 67.5,-3.5 63.3,-4.2 59.1,-3.0 55.0,-5.0 50.8,-5.4 46.6,-2.9 42.4,-5.7 38.3,-9.6 34.1,-10.6 29.9,-8.3 25.7,-6.1 21.6,-4.3 17.4,-5.5 13.2,-4.7 9.0,-5.8 4.9,-2.4 0.7,-5.4Z" fill="url(#ga)"/>
<path transform="matrix(1,0.5146,0,1,72.78,150.06)" d="M0,-7.1L0,-15.9 0.7,-15.6 1.4,-19.3 2.1,-27.9 2.8,-16.2 3.5,-30.9 4.2,-16.0 4.9,-16.3 5.6,-19.0 6.3,-15.9 7.0,-15.9 7.7,-27.7 8.3,-35.1 9.0,-16.1 9.7,-17.5 10.4,-17.4 11.1,-18.0 11.8,-16.4 12.5,-16.6 13.2,-20.6 13.9,-16.3 14.6,-22.6 15.3,-16.6 16.0,-16.4 16.7,-16.6 17.4,-16.6 18.1,-16.9 18.8,-17.3 19.5,-33.1 20.2,-25.3 20.9,-20.5 21.6,-17.3 22.3,-18.1 23.0,-21.5 23.7,-19.3 24.3,-18.3 25.0,-24.7 25.7,-18.7 26.4,-30.7 27.1,-20.0 27.8,-33.7 28.5,-31.9 29.2,-21.4 29.9,-23.9 30.6,-23.0 31.3,-32.9 32.0,-25.4 32.7,-29.9 33.4,-29.2 34.1,-39.8 34.8,-43.1 35.5,-46.2 36.2,-39.8 36.9,-43.2 37.6,-42.9 38.3,-44.1 39.0,-50.2 39.6,-35.1 40.3,-48.4 41.0,-33.9 41.7,-39.5 42.4,-42.4 43.1,-36.7 43.8,-35.9 44.5,-37.8 45.2,-24.8 45.9,-24.3 46.6,-35.9 47.3,-20.9 48.0,-22.0 48.7,-20.0 49.4,-19.4 50.1,-18.6 50.8,-18.2 51.5,-22.5 52.2,-18.8 52.9,-33.7 53.6,-22.8 54.3,-24.5 55.0,-18.5 55.6,-18.3 56.3,-25.4 57.0,-16.7 57.7,-18.0 58.4,-23.0 59.1,-21.0 59.8,-21.4 60.5,-17.9 61.2,-25.6 61.9,-16.5 62.6,-29.8 63.3,-31.2 64.0,-16.1 64.7,-17.6 65.4,-20.1 66.1,-16.0 66.8,-17.0 67.5,-27.7 68.2,-15.9 68.9,-16.0 69.6,-15.8 70.3,-15.9 71.0,-17.3 71.6,-22.4 72.3,-22.8 73.0,-18.2 73.7,-15.6 74.4,-15.5 75.1,-16.1 75.8,-26.9 75.8,-3.0 71.6,-3.8 67.5,-4.6 63.3,-5.3 59.1,-5.1 55.0,-3.2 50.8,-3.3 46.6,-5.4 42.4,-8.3 38.3,-5.1 34.1,-7.1 29.9,-4.2 25.7,-7.5 21.6,-3.6 17.4,-7.3 13.2,-7.7 9.0,-5.5 4.9,-3.7 0.7,-5.6Z" fill="url(#ga)"/>
<path transform="matrix(1,0.5146,0,1,70.19,150.80)" d="M0,-4.5L0,-16.4 0.7,-15.7 1.4,-19.2 2.1,-15.6 2.8,-15.6 3.5,-29.8 4.2,-32.2 4.9,-34.2 5.6,-15.8 6.3,-20.6 7.0,-19.0 7.7,-15.9 8.3,-20.3 9.0,-16.0 9.7,-16.0 10.4,-27.2 11.1,-16.2 11.8,-31.0 12.5,-18.8 13.2,-20.2 13.9,-16.2 14.6,-25.7 15.3,-33.2 16.0,-16.5 16.7,-21.8 17.4,-17.9 18.1,-17.8 18.8,-16.9 19.5,-17.6 20.2,-18.7 20.9,-17.9 21.6,-17.4 22.3,-19.2 23.0,-24.1 23.7,-17.8 24.3,-33.9 25.0,-18.3 25.7,-21.5 26.4,-33.6 27.1,-19.4 27.8,-23.5 28.5,-23.3 29.2,-21.8 29.9,-25.9 30.6,-24.9 31.3,-24.7 32.0,-40.0 32.7,-27.2 33.4,-30.3 34.1,-30.1 34.8,-33.8 35.5,-40.6 36.2,-41.5 36.9,-40.3 37.6,-39.7 38.3,-44.7 39.0,-46.3 39.6,-45.8 40.3,-41.5 41.0,-43.7 41.7,-44.6 42.4,-28.1 43.1,-27.6 43.8,-29.9 44.5,-24.1 45.2,-26.0 45.9,-34.3 46.6,-29.4 47.3,-20.6 48.0,-33.4 48.7,-28.5 49.4,-39.6 50.1,-27.9 50.8,-18.7 51.5,-22.8 52.2,-25.1 52.9,-32.2 53.6,-17.5 54.3,-22.9 55.0,-18.2 55.6,-19.2 56.3,-33.0 57.0,-17.3 57.7,-32.9 58.4,-30.3 59.1,-22.0 59.8,-23.0 60.5,-17.7 61.2,-23.4 61.9,-16.8 62.6,-21.9 63.3,-17.5 64.0,-17.7 64.7,-23.3 65.4,-16.6 66.1,-25.1 66.8,-16.0 67.5,-18.8 68.2,-20.1 68.9,-20.9 69.6,-16.1 70.3,-22.6 71.0,-15.7 71.6,-18.9 72.3,-15.6 73.0,-35.5 73.7,-20.5 74.4,-15.5 75.1,-18.7 75.8,-15.3 75.8,-4.0 71.6,-6.1 67.5,-4.7 63.3,-3.0 59.1,-4.1 55.0,-4.5 50.8,-4.2 46.6,-6.6 42.4,-10.6 38.3,-10.5 34.1,-6.5 29.9,-5.9 25.7,-6.5 21.6,-3.1 17.4,-3.6 13.2,-4.5 9.0,-4.2 4.9,-7.5 0.7,-5.0Z" fill="url(#ga)"/>
<path transform="matrix(1,0.5146,0,1,67.60,151.55)" d="M0,-5.9L0,-15.8 0.7,-17.8 1.4,-15.8 2.1,-29.9 2.8,-22.0 3.5,-15.9 4.2,-15.8 4.9,-17.6 5.6,-15.7 6.3,-25.5 7.0,-21.3 7.7,-15.8 8.3,-16.8 9.0,-15.9 9.7,-20.4 10.4,-26.9 11.1,-16.6 11.8,-16.5 12.5,-16.1 13.2,-16.3 13.9,-27.4 14.6,-16.6 15.3,-19.6 16.0,-19.1 16.7,-16.4 17.4,-20.4 18.1,-27.7 18.8,-16.6 19.5,-17.0 20.2,-22.8 20.9,-27.4 21.6,-21.2 22.3,-18.6 23.0,-23.1 23.7,-30.4 24.3,-25.1 25.0,-18.7 25.7,-27.6 26.4,-18.9 27.1,-24.4 27.8,-20.0 28.5,-21.3 29.2,-21.7 29.9,-36.3 30.6,-23.0 31.3,-24.1 32.0,-36.3 32.7,-35.9 33.4,-44.1 34.1,-42.5 34.8,-40.9 35.5,-49.1 36.2,-46.4 36.9,-45.5 37.6,-49.7 38.3,-47.5 39.0,-49.3 39.6,-39.6 40.3,-33.4 41.0,-32.1 41.7,-37.6 42.4,-36.2 43.1,-33.8 43.8,-36.0 44.5,-26.2 45.2,-24.7 45.9,-24.8 46.6,-21.4 47.3,-22.3 48.0,-33.2 48.7,-28.0 49.4,-25.6 50.1,-18.6 50.8,-30.0 51.5,-31.0 52.2,-22.2 52.9,-19.2 53.6,-25.0 54.3,-22.6 55.0,-17.5 55.6,-16.8 56.3,-16.7 57.0,-26.1 57.7,-23.8 58.4,-16.5 59.1,-16.8 59.8,-16.3 60.5,-16.3 61.2,-29.6 61.9,-31.2 62.6,-21.6 63.3,-17.9 64.0,-20.5 64.7,-28.2 65.4,-18.0 66.1,-16.1 66.8,-29.1 67.5,-15.9 68.2,-15.7 68.9,-22.8 69.6,-15.9 70.3,-28.8 71.0,-18.8 71.6,-18.2 72.3,-17.1 73.0,-16.5 73.7,-20.2 74.4,-24.8 75.1,-22.1 75.8,-23.0 75.8,-6.9 71.6,-3.8 67.5,-6.2 63.3,-4.7 59.1,-5.3 55.0,-2.9 50.8,-6.1 46.6,-3.6 42.4,-6.3 38.3,-11.5 34.1,-6.1 29.9,-5.3 25.7,-7.0 21.6,-5.7 17.4,-7.4 13.2,-2.6 9.0,-7.3 4.9,-7.3 0.7,-7.3Z" fill="url(#ga)"/>
<path transform="matrix(1,0.5146,0,1,65.01,152.30)" d="M0,-2.9L0,-15.3 0.7,-15.6 1.4,-25.4 2.1,-15.6 2.8,-16.5 3.5,-15.6 4.2,-18.6 4.9,-19.9 5.6,-15.6 6.3,-19.2 7.0,-20.0 7.7,-19.2 8.3,-19.4 9.0,-19.2 9.7,-16.2 10.4,-15.9 11.1,-34.2 11.8,-16.2 12.5,-16.0 13.2,-29.3 13.9,-16.2 14.6,-16.2 15.3,-26.9 16.0,-17.2 16.7,-17.7 17.4,-16.4 18.1,-16.5 18.8,-16.6 19.5,-30.3 20.2,-19.2 20.9,-16.9 21.6,-21.4 22.3,-21.5 23.0,-17.4 23.7,-17.9 24.3,-19.1 25.0,-27.8 25.7,-27.0 26.4,-19.2 27.1,-26.5 27.8,-23.6 28.5,-32.1 29.2,-28.8 29.9,-23.4 30.6,-23.1 31.3,-34.3 32.0,-37.0 32.7,-27.7 33.4,-28.7 34.1,-31.4 34.8,-33.0 35.5,-40.4 36.2,-38.9 36.9,-39.8 37.6,-50.0 38.3,-45.3 39.0,-50.7 39.6,-46.2 40.3,-36.8 41.0,-35.6 41.7,-44.9 42.4,-29.0 43.1,-26.8 43.8,-26.4 44.5,-36.0 45.2,-24.5 45.9,-23.3 46.6,-22.8 47.3,-20.6 48.0,-20.4 48.7,-32.5 49.4,-18.9 50.1,-18.6 50.8,-33.3 51.5,-18.9 52.2,-20.8 52.9,-27.9 53.6,-21.6 54.3,-19.3 55.0,-17.9 55.6,-20.0 56.3,-18.4 57.0,-16.8 57.7,-17.5 58.4,-17.6 59.1,-21.7 59.8,-38.4 60.5,-32.1 61.2,-19.8 61.9,-17.2 62.6,-16.5 63.3,-31.4 64.0,-17.5 64.7,-16.1 65.4,-24.7 66.1,-18.1 66.8,-18.9 67.5,-15.7 68.2,-15.7 68.9,-24.7 69.6,-16.9 70.3,-26.9 71.0,-29.6 71.6,-33.6 72.3,-15.4 73.0,-15.4 73.7,-24.6 74.4,-21.5 75.1,-15.9 75.8,-21.7 75.8,-7.3 71.6,-4.6 67.5,-4.4 63.3,-3.9 59.1,-6.0 55.0,-6.2 50.8,-8.2 46.6,-4.2 42.4,-9.6 38.3,-11.8 34.1,-6.1 29.9,-6.7 25.7,-3.9 21.6,-6.8 17.4,-7.5 13.2,-7.4 9.0,-4.7 4.9,-7.0 0.7,-2.7Z" fill="url(#ga)"/>
<path transform="matrix(1,0.5146,0,1,62.42,153.05)" d="M0,-4.3L0,-15.2 0.7,-20.0 1.4,-19.4 2.1,-24.7 2.8,-16.0 3.5,-20.4 4.2,-15.6 4.9,-25.8 5.6,-16.3 6.3,-22.6 7.0,-15.7 7.7,-16.2 8.3,-17.9 9.0,-16.3 9.7,-15.8 10.4,-15.8 11.1,-16.2 11.8,-23.1 12.5,-16.0 13.2,-22.0 13.9,-24.4 14.6,-17.7 15.3,-21.2 16.0,-18.1 16.7,-21.3 17.4,-19.3 18.1,-16.6 18.8,-19.8 19.5,-19.3 20.2,-22.1 20.9,-22.3 21.6,-23.5 22.3,-28.8 23.0,-30.0 23.7,-17.8 24.3,-31.4 25.0,-21.2 25.7,-19.4 26.4,-29.5 27.1,-33.4 27.8,-20.4 28.5,-22.3 29.2,-29.1 29.9,-23.0 30.6,-23.3 31.3,-33.2 32.0,-36.7 32.7,-30.5 33.4,-31.3 34.1,-29.6 34.8,-46.2 35.5,-37.6 36.2,-45.3 36.9,-37.3 37.6,-46.2 38.3,-42.8 39.0,-43.2 39.6,-35.0 40.3,-45.0 41.0,-44.7 41.7,-46.3 42.4,-29.0 43.1,-30.9 43.8,-27.7 44.5,-26.0 45.2,-48.1 45.9,-28.8 46.6,-22.3 47.3,-28.2 48.0,-21.0 48.7,-19.4 49.4,-19.9 50.1,-18.5 50.8,-23.1 51.5,-19.1 52.2,-28.5 52.9,-17.5 53.6,-17.9 54.3,-19.8 55.0,-22.2 55.6,-23.5 56.3,-23.7 57.0,-25.2 57.7,-19.7 58.4,-16.7 59.1,-16.4 59.8,-16.3 60.5,-22.9 61.2,-16.2 61.9,-18.7 62.6,-16.0 63.3,-18.6 64.0,-16.0 64.7,-15.8 65.4,-16.4 66.1,-16.1 66.8,-26.2 67.5,-16.1 68.2,-27.1 68.9,-22.4 69.6,-16.8 70.3,-23.6 71.0,-28.4 71.6,-15.6 72.3,-15.4 73.0,-15.3 73.7,-19.9 74.4,-29.0 75.1,-30.3 75.8,-15.7 75.8,-7.2 71.6,-4.0 67.5,-5.5 63.3,-2.9 59.1,-3.3 55.0,-6.2 50.8,-3.9 46.6,-6.8 42.4,-8.8 38.3,-12.0 34.1,-8.4 29.9,-3.7 25.7,-3.3 21.6,-7.1 17.4,-3.6 13.2,-4.8 9.0,-7.3 4.9,-6.1 0.7,-3.3Z" fill="url(#ga)"/>
<path transform="matrix(1,0.5146,0,1,59.83,153.80)" d="M0,-4.3L0,-15.1 0.7,-30.1 1.4,-28.0 2.1,-15.4 2.8,-25.6 3.5,-15.8 4.2,-29.3 4.9,-19.3 5.6,-21.5 6.3,-15.5 7.0,-16.8 7.7,-20.5 8.3,-22.4 9.0,-27.1 9.7,-20.6 10.4,-26.0 11.1,-28.0 11.8,-18.1 12.5,-16.2 13.2,-17.7 13.9,-29.4 14.6,-17.0 15.3,-16.4 16.0,-18.5 16.7,-16.6 17.4,-16.8 18.1,-17.9 18.8,-20.6 19.5,-16.6 20.2,-17.9 20.9,-21.4 21.6,-17.0 22.3,-18.5 23.0,-24.0 23.7,-25.9 24.3,-19.1 25.0,-18.6 25.7,-18.5 26.4,-34.9 27.1,-22.3 27.8,-23.1 28.5,-21.8 29.2,-30.9 29.9,-34.0 30.6,-22.9 31.3,-28.7 32.0,-25.4 32.7,-29.1 33.4,-34.7 34.1,-33.5 34.8,-40.1 35.5,-33.5 36.2,-49.2 36.9,-41.1 37.6,-40.0 38.3,-46.9 39.0,-46.4 39.6,-41.5 40.3,-33.7 41.0,-38.5 41.7,-29.8 42.4,-29.8 43.1,-29.4 43.8,-46.1 44.5,-25.4 45.2,-23.6 45.9,-22.1 46.6,-21.8 47.3,-27.0 48.0,-24.2 48.7,-23.3 49.4,-21.0 50.1,-19.1 50.8,-19.0 51.5,-21.6 52.2,-17.8 52.9,-21.3 53.6,-17.4 54.3,-31.1 55.0,-16.8 55.6,-18.3 56.3,-18.1 57.0,-16.7 57.7,-16.4 58.4,-19.8 59.1,-16.3 59.8,-16.6 60.5,-16.2 61.2,-20.9 61.9,-18.9 62.6,-16.1 63.3,-17.4 64.0,-17.6 64.7,-15.8 65.4,-19.9 66.1,-16.3 66.8,-18.3 67.5,-19.5 68.2,-17.7 68.9,-18.5 69.6,-20.0 70.3,-15.6 71.0,-30.4 71.6,-18.7 72.3,-26.8 73.0,-17.6 73.7,-17.7 74.4,-15.5 75.1,-25.4 75.8,-15.1 75.8,-3.2 71.6,-2.7 67.5,-3.1 63.3,-3.9 59.1,-4.0 55.0,-7.8 50.8,-6.3 46.6,-3.1 42.4,-10.7 38.3,-5.2 34.1,-10.2 29.9,-5.8 25.7,-3.5 21.6,-3.0 17.4,-3.2 13.2,-3.5 9.0,-6.6 4.9,-7.3 0.7,-5.1Z" fill="url(#ga)"/>
<path transform="matrix(1,0.5146,0,1,57.24,154.55)" d="M0,-6.4L0,-17.9 0.7,-17.9 1.4,-22.8 2.1,-15.2 2.8,-23.7 3.5,-18.3 4.2,-16.7 4.9,-15.3 5.6,-17.0 6.3,-15.8 7.0,-15.7 7.7,-21.9 8.3,-15.9 9.0,-22.6 9.7,-16.6 10.4,-15.7 11.1,-15.8 11.8,-15.8 12.5,-17.0 13.2,-15.9 13.9,-16.9 14.6,-16.0 15.3,-36.3 16.0,-19.5 16.7,-19.4 17.4,-20.5 18.1,-16.6 18.8,-16.5 19.5,-16.6 20.2,-16.7 20.9,-16.8 21.6,-18.0 22.3,-20.5 23.0,-18.0 23.7,-20.7 24.3,-25.0 25.0,-30.9 25.7,-18.5 26.4,-22.4 27.1,-28.8 27.8,-23.1 28.5,-20.7 29.2,-30.0 29.9,-22.9 30.6,-22.9 31.3,-32.3 32.0,-32.5 32.7,-26.6 33.4,-30.6 34.1,-30.7 34.8,-37.3 35.5,-44.9 36.2,-37.3 36.9,-49.6 37.6,-44.1 38.3,-40.9 39.0,-48.2 39.6,-45.8 40.3,-47.0 41.0,-33.2 41.7,-50.7 42.4,-34.6 43.1,-40.7 43.8,-34.3 44.5,-27.6 45.2,-41.7 45.9,-23.7 46.6,-26.0 47.3,-24.6 48.0,-31.0 48.7,-43.0 49.4,-19.8 50.1,-20.2 50.8,-18.2 51.5,-18.2 52.2,-17.5 52.9,-27.6 53.6,-17.5 54.3,-26.9 55.0,-17.2 55.6,-20.9 56.3,-18.1 57.0,-38.4 57.7,-16.4 58.4,-16.9 59.1,-26.7 59.8,-16.3 60.5,-21.8 61.2,-33.1 61.9,-16.7 62.6,-29.8 63.3,-16.3 64.0,-21.1 64.7,-16.1 65.4,-15.9 66.1,-26.1 66.8,-25.9 67.5,-16.4 68.2,-29.8 68.9,-24.9 69.6,-15.8 70.3,-15.4 71.0,-16.4 71.6,-17.0 72.3,-20.7 73.0,-15.8 73.7,-15.8 74.4,-17.5 75.1,-17.4 75.8,-15.0 75.8,-2.7 71.6,-2.9 67.5,-4.0 63.3,-5.9 59.1,-5.6 55.0,-5.9 50.8,-6.5 46.6,-5.4 42.4,-5.8 38.3,-9.8 34.1,-4.5 29.9,-3.8 25.7,-7.4 21.6,-4.6 17.4,-7.6 13.2,-7.5 9.0,-6.2 4.9,-5.9 0.7,-4.8Z" fill="url(#ga)"/>
<path transform="matrix(1,0.5146,0,1,54.65,155.30)" d="M0,-6.4L0,-17.3 0.7,-35.6 1.4,-20.2 2.1,-15.4 2.8,-27.5 3.5,-22.4 4.2,-24.2 4.9,-18.6 5.6,-15.4 6.3,-16.5 7.0,-15.8 7.7,-22.1 8.3,-21.2 9.0,-25.2 9.7,-15.6 10.4,-15.7 11.1,-16.4 11.8,-16.2 12.5,-19.3 13.2,-15.9 13.9,-21.3 14.6,-23.0 15.3,-19.3 16.0,-33.4 16.7,-31.3 17.4,-19.2 18.1,-19.3 18.8,-16.6 19.5,-16.6 20.2,-28.7 20.9,-19.1 21.6,-20.0 22.3,-22.6 23.0,-17.6 23.7,-17.5 24.3,-23.4 25.0,-19.0 25.7,-20.1 26.4,-18.8 27.1,-19.3 27.8,-20.1 28.5,-27.6 29.2,-33.3 29.9,-24.8 30.6,-23.2 31.3,-24.8 32.0,-25.2 32.7,-26.9 33.4,-30.4 34.1,-37.3 34.8,-36.3 35.5,-34.8 36.2,-36.8 36.9,-37.1 37.6,-40.0 38.3,-40.8 39.0,-38.6 39.6,-35.3 40.3,-33.6 41.0,-46.1 41.7,-36.5 42.4,-31.5 43.1,-26.9 43.8,-33.3 44.5,-25.5 45.2,-46.6 45.9,-22.6 46.6,-21.2 47.3,-22.5 48.0,-23.5 48.7,-19.3 49.4,-20.8 50.1,-27.1 50.8,-18.2 51.5,-25.4 52.2,-17.5 52.9,-17.3 53.6,-20.6 54.3,-23.6 55.0,-21.1 55.6,-30.3 56.3,-25.5 57.0,-30.7 57.7,-23.2 58.4,-19.7 59.1,-16.5 59.8,-16.1 60.5,-16.0 61.2,-18.0 61.9,-16.4 62.6,-16.9 63.3,-25.5 64.0,-15.8 64.7,-18.4 65.4,-30.7 66.1,-27.5 66.8,-22.2 67.5,-29.2 68.2,-30.4 68.9,-21.7 69.6,-15.5 70.3,-15.5 71.0,-26.0 71.6,-15.2 72.3,-24.3 73.0,-31.6 73.7,-27.1 74.4,-15.4 75.1,-15.1 75.8,-27.2 75.8,-4.2 71.6,-5.4 67.5,-4.2 63.3,-6.0 59.1,-3.0 55.0,-3.3 50.8,-3.7 46.6,-4.8 42.4,-9.6 38.3,-3.9 34.1,-5.2 29.9,-5.4 25.7,-3.0 21.6,-3.4 17.4,-4.1 13.2,-4.2 9.0,-4.2 4.9,-4.0 0.7,-3.6Z" fill="url(#ga)"/>
<path transform="matrix(1,0.5146,0,1,52.05,156.05)" d="M0,-5.0L0,-15.5 0.7,-15.0 1.4,-15.3 2.1,-25.3 2.8,-15.4 3.5,-18.7 4.2,-16.7 4.9,-16.9 5.6,-16.6 6.3,-15.3 7.0,-15.8 7.7,-35.9 8.3,-28.9 9.0,-18.1 9.7,-15.6 10.4,-15.6 11.1,-30.0 11.8,-19.5 12.5,-21.4 13.2,-25.4 13.9,-19.8 14.6,-16.5 15.3,-26.8 16.0,-17.4 16.7,-27.7 17.4,-16.3 18.1,-24.9 18.8,-18.6 19.5,-31.6 20.2,-21.6 20.9,-29.6 21.6,-21.3 22.3,-17.1 23.0,-22.4 23.7,-23.2 24.3,-21.5 25.0,-20.8 25.7,-18.5 26.4,-20.6 27.1,-35.4 27.8,-20.7 28.5,-33.5 29.2,-30.5 29.9,-26.5 30.6,-36.4 31.3,-40.3 32.0,-48.6 32.7,-26.4 33.4,-32.1 34.1,-30.9 34.8,-42.5 35.5,-42.1 36.2,-41.4 36.9,-39.3 37.6,-51.3 38.3,-40.7 39.0,-50.8 39.6,-45.0 40.3,-41.2 41.0,-44.1 41.7,-29.6 42.4,-27.9 43.1,-26.4 43.8,-36.6 44.5,-25.3 45.2,-24.2 45.9,-26.4 46.6,-22.1 47.3,-21.2 48.0,-20.1 48.7,-19.8 49.4,-18.8 50.1,-21.3 50.8,-19.1 51.5,-26.8 52.2,-24.5 52.9,-18.9 53.6,-21.3 54.3,-17.7 55.0,-30.1 55.6,-16.6 56.3,-16.6 57.0,-16.4 57.7,-17.1 58.4,-16.4 59.1,-16.2 59.8,-16.1 60.5,-30.3 61.2,-27.5 61.9,-31.1 62.6,-24.5 63.3,-16.1 64.0,-27.4 64.7,-17.3 65.4,-20.4 66.1,-15.6 66.8,-15.7 67.5,-19.4 68.2,-16.8 68.9,-21.2 69.6,-20.8 70.3,-18.1 71.0,-22.2 71.6,-27.8 72.3,-15.2 73.0,-29.3 73.7,-18.2 74.4,-24.8 75.1,-15.4 75.8,-27.8 75.8,-6.3 71.6,-3.7 67.5,-3.0 63.3,-6.8 59.1,-3.3 55.0,-6.4 50.8,-4.4 46.6,-8.3 42.4,-4.2 38.3,-7.8 34.1,-10.8 29.9,-4.3 25.7,-2.8 21.6,-5.1 17.4,-6.0 13.2,-5.2 9.0,-3.6 4.9,-3.6 0.7,-5.1Z" fill="url(#ga)"/>
<path transform="matrix(1,0.5146,0,1,49.46,156.80)" d="M0,-4.5L0,-15.1 0.7,-15.1 1.4,-16.5 2.1,-16.4 2.8,-25.6 3.5,-15.8 4.2,-17.1 4.9,-15.7 5.6,-17.3 6.3,-18.7 7.0,-19.4 7.7,-15.9 8.3,-17.6 9.0,-15.6 9.7,-29.3 10.4,-18.2 11.1,-24.7 11.8,-15.7 12.5,-19.6 13.2,-19.5 13.9,-15.9 14.6,-26.6 15.3,-24.4 16.0,-18.2 16.7,-17.6 17.4,-16.2 18.1,-24.6 18.8,-17.4 19.5,-29.4 20.2,-17.5 20.9,-17.7 21.6,-35.4 22.3,-30.6 23.0,-23.3 23.7,-19.5 24.3,-21.1 25.0,-18.8 25.7,-19.5 26.4,-24.6 27.1,-37.9 27.8,-26.2 28.5,-33.0 29.2,-21.2 29.9,-24.0 30.6,-32.4 31.3,-42.8 32.0,-33.2 32.7,-36.1 33.4,-28.5 34.1,-30.3 34.8,-38.6 35.5,-44.3 36.2,-44.7 36.9,-41.2 37.6,-41.8 38.3,-50.6 39.0,-54.0 39.6,-37.5 40.3,-35.4 41.0,-45.1 41.7,-30.7 42.4,-27.9 43.1,-28.9 43.8,-25.2 44.5,-25.8 45.2,-23.9 45.9,-26.5 46.6,-22.0 47.3,-20.7 48.0,-35.6 48.7,-19.3 49.4,-28.2 50.1,-18.4 50.8,-18.3 51.5,-17.7 52.2,-17.9 52.9,-26.8 53.6,-17.5 54.3,-18.0 55.0,-22.0 55.6,-22.8 56.3,-16.7 57.0,-16.4 57.7,-21.3 58.4,-16.2 59.1,-23.2 59.8,-18.2 60.5,-17.3 61.2,-21.1 61.9,-17.0 62.6,-15.9 63.3,-15.7 64.0,-15.7 64.7,-27.7 65.4,-24.2 66.1,-28.5 66.8,-21.9 67.5,-26.3 68.2,-15.5 68.9,-16.6 69.6,-19.6 70.3,-34.6 71.0,-28.5 71.6,-21.5 72.3,-18.7 73.0,-17.6 73.7,-15.0 74.4,-15.8 75.1,-15.3 75.8,-15.7 75.8,-2.6 71.6,-5.7 67.5,-7.0 63.3,-3.2 59.1,-3.9 55.0,-4.8 50.8,-2.8 46.6,-4.0 42.4,-6.6 38.3,-6.9 34.1,-4.5 29.9,-6.0 25.7,-6.2 21.6,-7.3 17.4,-6.7 13.2,-4.4 9.0,-3.0 4.9,-4.9 0.7,-2.3Z" fill="url(#ga)"/>
<path transform="matrix(1,0.5146,0,1,46.87,157.54)" d="M0,-7.0L0,-14.8 0.7,-31.3 1.4,-15.0 2.1,-15.6 2.8,-25.4 3.5,-17.7 4.2,-15.6 4.9,-15.9 5.6,-15.2 6.3,-15.2 7.0,-15.4 7.7,-18.6 8.3,-15.4 9.0,-15.4 9.7,-23.0 10.4,-16.6 11.1,-25.7 11.8,-18.0 12.5,-18.9 13.2,-15.7 13.9,-15.9 14.6,-20.4 15.3,-16.7 16.0,-17.3 16.7,-22.0 17.4,-17.8 18.1,-16.2 18.8,-16.6 19.5,-24.8 20.2,-16.6 20.9,-17.8 21.6,-17.9 22.3,-19.5 23.0,-19.1 23.7,-26.1 24.3,-31.5 25.0,-30.9 25.7,-30.9 26.4,-21.5 27.1,-23.1 27.8,-21.1 28.5,-20.4 29.2,-21.2 29.9,-23.7 30.6,-27.9 31.3,-24.2 32.0,-48.8 32.7,-30.4 33.4,-42.7 34.1,-30.1 34.8,-36.3 35.5,-34.0 36.2,-49.5 36.9,-53.9 37.6,-44.8 38.3,-47.7 39.0,-40.4 39.6,-44.8 40.3,-35.5 41.0,-32.2 41.7,-32.4 42.4,-35.8 43.1,-32.3 43.8,-41.0 44.5,-36.4 45.2,-36.3 45.9,-22.0 46.6,-23.3 47.3,-33.9 48.0,-29.4 48.7,-24.8 49.4,-18.8 50.1,-21.9 50.8,-18.1 51.5,-18.6 52.2,-24.5 52.9,-18.4 53.6,-30.3 54.3,-28.4 55.0,-17.5 55.6,-29.1 56.3,-27.3 57.0,-17.9 57.7,-16.2 58.4,-16.2 59.1,-19.7 59.8,-22.5 60.5,-16.9 61.2,-16.0 61.9,-15.8 62.6,-15.8 63.3,-17.7 64.0,-16.4 64.7,-15.6 65.4,-15.5 66.1,-29.6 66.8,-21.6 67.5,-16.4 68.2,-16.6 68.9,-22.1 69.6,-25.1 70.3,-15.4 71.0,-15.5 71.6,-17.5 72.3,-20.5 73.0,-15.1 73.7,-16.0 74.4,-14.9 75.1,-17.1 75.8,-29.1 75.8,-5.3 71.6,-2.8 67.5,-3.9 63.3,-3.2 59.1,-7.1 55.0,-3.3 50.8,-7.8 46.6,-3.7 42.4,-5.8 38.3,-8.8 34.1,-7.4 29.9,-5.5 25.7,-2.8 21.6,-2.4 17.4,-2.8 13.2,-3.9 9.0,-3.8 4.9,-5.5 0.7,-2.4Z" fill="url(#ga)"/>
<path transform="matrix(1,0.5146,0,1,44.28,158.29)" d="M0,-3.5L0,-14.7 0.7,-28.4 1.4,-16.2 2.1,-14.9 2.8,-14.9 3.5,-15.0 4.2,-24.6 4.9,-17.1 5.6,-15.1 6.3,-17.0 7.0,-17.5 7.7,-16.3 8.3,-18.9 9.0,-15.4 9.7,-25.0 10.4,-16.7 11.1,-17.0 11.8,-19.3 12.5,-15.7 13.2,-16.5 13.9,-26.3 14.6,-15.8 15.3,-26.7 16.0,-17.9 16.7,-24.3 17.4,-21.8 18.1,-24.9 18.8,-19.1 19.5,-16.4 20.2,-19.5 20.9,-18.2 21.6,-24.8 22.3,-20.0 23.0,-24.2 23.7,-23.1 24.3,-29.1 25.0,-18.0 25.7,-19.5 26.4,-26.3 27.1,-20.1 27.8,-25.0 28.5,-21.1 29.2,-29.5 29.9,-35.2 30.6,-28.7 31.3,-41.3 32.0,-35.6 32.7,-26.7 33.4,-27.8 34.1,-35.2 34.8,-33.8 35.5,-33.3 36.2,-49.7 36.9,-39.4 37.6,-45.0 38.3,-47.3 39.0,-43.9 39.6,-39.5 40.3,-44.3 41.0,-33.3 41.7,-39.1 42.4,-30.2 43.1,-32.9 43.8,-25.8 44.5,-29.3 45.2,-28.1 45.9,-22.7 46.6,-24.0 47.3,-21.8 48.0,-19.8 48.7,-19.6 49.4,-35.8 50.1,-18.7 50.8,-25.7 51.5,-26.6 52.2,-23.8 52.9,-34.1 53.6,-17.0 54.3,-18.5 55.0,-16.7 55.6,-21.8 56.3,-24.9 57.0,-36.7 57.7,-21.8 58.4,-28.1 59.1,-30.3 59.8,-18.8 60.5,-15.9 61.2,-15.9 61.9,-27.7 62.6,-16.7 63.3,-16.1 64.0,-15.6 64.7,-16.2 65.4,-19.6 66.1,-16.0 66.8,-19.3 67.5,-17.9 68.2,-15.3 68.9,-15.2 69.6,-15.3 70.3,-18.6 71.0,-15.1 71.6,-16.9 72.3,-15.0 73.0,-18.7 73.7,-24.6 74.4,-14.8 75.1,-15.4 75.8,-14.9 75.8,-3.2 71.6,-3.0 67.5,-4.3 63.3,-5.1 59.1,-5.1 55.0,-4.9 50.8,-5.9 46.6,-3.1 42.4,-3.7 38.3,-4.7 34.1,-9.4 29.9,-4.1 25.7,-7.1 21.6,-3.6 17.4,-5.8 13.2,-6.0 9.0,-5.3 4.9,-4.5 0.7,-4.7Z" fill="url(#ga)"/>
<path transform="matrix(1,0.5146,0,1,41.69,159.04)" d="M0,-0.9L0,-14.7 0.7,-29.8 1.4,-14.8 2.1,-15.5 2.8,-14.8 3.5,-21.4 4.2,-25.7 4.9,-22.3 5.6,-16.4 6.3,-15.2 7.0,-18.9 7.7,-15.3 8.3,-35.6 9.0,-22.6 9.7,-20.5 10.4,-19.9 11.1,-18.0 11.8,-21.9 12.5,-25.0 13.2,-15.9 13.9,-16.8 14.6,-15.8 15.3,-15.9 16.0,-22.5 16.7,-16.5 17.4,-17.4 18.1,-16.8 18.8,-29.7 19.5,-31.5 20.2,-16.8 20.9,-17.2 21.6,-17.0 22.3,-27.3 23.0,-19.3 23.7,-24.0 24.3,-18.1 25.0,-17.9 25.7,-18.3 26.4,-18.9 27.1,-28.6 27.8,-19.7 28.5,-33.1 29.2,-25.7 29.9,-21.9 30.6,-23.1 31.3,-32.5 32.0,-25.2 32.7,-30.0 33.4,-39.8 34.1,-29.3 34.8,-32.0 35.5,-33.2 36.2,-38.0 36.9,-40.1 37.6,-46.0 38.3,-49.9 39.0,-36.4 39.6,-34.8 40.3,-42.1 41.0,-35.7 41.7,-45.8 42.4,-28.3 43.1,-26.3 43.8,-26.7 44.5,-31.4 45.2,-36.3 45.9,-24.5 46.6,-22.2 47.3,-20.6 48.0,-19.7 48.7,-19.4 49.4,-31.3 50.1,-18.5 50.8,-23.4 51.5,-17.7 52.2,-18.8 52.9,-29.1 53.6,-17.0 54.3,-17.2 55.0,-18.4 55.6,-16.5 56.3,-27.0 57.0,-24.6 57.7,-16.4 58.4,-19.4 59.1,-16.7 59.8,-17.7 60.5,-18.6 61.2,-15.9 61.9,-30.5 62.6,-18.3 63.3,-24.1 64.0,-17.6 64.7,-20.2 65.4,-23.0 66.1,-15.4 66.8,-15.6 67.5,-19.7 68.2,-17.2 68.9,-15.9 69.6,-18.7 70.3,-27.9 71.0,-15.0 71.6,-15.0 72.3,-26.8 73.0,-14.9 73.7,-14.8 74.4,-17.9 75.1,-16.5 75.8,-14.7 75.8,-4.2 74.4,-2.2 73.0,-0.8 71.6,-1.8 70.3,-1.3 68.9,-1.7 67.5,-1.1 66.1,-0.7 64.7,-1.1 63.3,-1.5 61.9,-1.7 60.5,-1.1 59.1,-0.9 57.7,-1.4 56.3,-1.4 55.0,-1.8 53.6,-1.1 52.2,-2.2 50.8,-2.3 49.4,-1.0 48.0,-2.2 46.6,-1.5 45.2,-1.6 43.8,-1.1 42.4,-1.1 41.0,-2.4 39.6,-2.1 38.3,-2.1 36.9,-1.8 35.5,-1.9 34.1,-3.1 32.7,-2.7 31.3,-2.1 29.9,-1.7 28.5,-2.3 27.1,-2.3 25.7,-1.1 24.3,-1.2 23.0,-1.4 21.6,-1.1 20.2,-2.2 18.8,-1.8 17.4,-0.9 16.0,-2.0 14.6,-2.0 13.2,-0.9 11.8,-0.9 10.4,-2.2 9.0,-0.9 7.7,-1.1 6.3,-2.0 4.9,-1.1 3.5,-1.7 2.1,-1.1 0.7,-1.2Z" fill="url(#ga)"/>
<path d="M191.6,139.4v10.8M102.6,167.5v10.1M88.8,153.1v10.9M118.8,132.8v11.3M156.9,120.1v4.4M127.3,148.8v18.3M126.9,149.7v7.1M185.0,128.9v26.3M196.0,139.9v15.5M149.7,119.1v34.2M171.4,129.6v8.6M86.2,158.9v15.3M119.1,122.0v16.0M99.6,143.8v11.8M113.6,129.4v14.8M108.6,168.0v8.5M117.9,140.6v15.3M120.4,163.9v10.7M110.7,177.5v13.7M117.2,173.1v10.6M212.7,142.2v11.3M80.5,147.8v11.3M99.6,167.4v12.9M151.3,161.3v14.8M180.8,143.1v18.0M85.0,133.0v16.5M138.6,119.8v8.1M129.3,168.2v13.2M100.4,176.3v9.4M106.7,164.3v21.1M171.9,120.6v20.3M181.1,125.6v14.2M126.0,159.9v11.3M212.4,143.7v9.7M130.8,161.9v17.2M101.7,170.3v13.5M56.7,144.0v10.9M216.2,141.0v9.9M89.7,146.0v18.5M91.3,131.8v15.3M156.3,165.5v11.3M153.0,118.5v8.1M112.8,140.9v18.4M137.1,166.3v14.5M165.9,124.4v14.8M94.8,124.3v16.2M72.6,148.9v5.8M131.2,129.0v20.0M96.2,147.3v12.8M195.6,154.2v8.4M128.3,119.4v7.2M191.4,127.2v11.1M143.9,179.7v7.2M221.4,151.5v8.5M230.6,150.1v10.1M152.3,125.4v9.3M132.9,129.9v15.8M151.0,164.6v10.0M57.3,149.7v8.1M152.7,158.0v19.2M183.2,126.4v7.6M91.9,146.9v14.7M169.4,159.3v8.2M119.6,137.2v16.1M145.1,172.5v8.8M70.1,139.1v16.0M99.8,174.4v10.5M123.4,155.8v11.6M133.1,162.1v7.2M128.4,172.4v15.1M126.5,149.5v8.3M117.1,119.3v22.0M87.8,140.0v25.1M194.3,152.1v7.0M126.4,141.5v20.2M149.9,170.8v9.0M140.6,157.2v12.9M72.6,156.3v6.1M128.7,140.2v16.0M117.2,136.7v6.9M152.6,166.2v9.3M50.2,140.9v17.1M117.9,151.7v11.6M133.7,143.6v4.4M87.5,140.1v5.1M166.5,127.3v12.0M78.6,139.8v14.4M133.2,164.9v14.0M70.8,159.3v4.3M132.4,122.0v12.4M153.6,164.8v10.6M107.1,138.1v6.4M156.6,154.2v12.0M99.7,143.5v22.3M165.9,119.8v13.6M125.3,141.2v13.1M122.6,125.1v14.7M49.1,147.4v11.6M179.8,132.7v16.2M61.0,151.5v13.6M221.2,145.4v12.0M126.6,177.1v13.5M96.7,129.9v18.0M123.6,133.5v4.8M114.9,141.7v15.0M127.5,132.0v10.8M116.6,134.3v15.3M197.7,140.5v19.6M152.1,120.9v7.3M119.5,140.0v19.7M136.0,160.6v10.3M138.5,119.1v8.8M97.6,133.7v16.8M131.5,126.6v14.9M111.4,144.4v12.7M217.9,135.3v16.6M197.2,153.2v12.9M78.9,119.2v10.9M109.4,147.0v9.0M193.1,130.1v10.2M167.1,129.3v10.4M104.9,148.4v17.3M150.4,153.3v16.1M97.5,170.1v14.0M169.0,116.6v28.2M157.4,153.3v15.7M160.7,157.6v8.5M123.3,157.1v7.7M162.5,118.1v11.8M143.1,116.9v33.1M130.1,159.2v14.0M109.0,141.6v14.8M200.1,154.1v7.2M116.0,123.6v13.2M187.6,145.6v10.0M211.1,155.9v8.9M57.0,148.7v10.4M80.7,132.9v11.0M135.0,146.4v14.0M190.3,155.6v11.3M153.1,156.7v5.2M131.9,132.9v8.7M52.8,149.1v5.9M143.2,165.6v14.6M158.9,127.7v8.2M179.2,122.2v13.9M201.1,146.4v9.4M106.6,153.5v14.2M145.3,174.2v11.6M87.2,148.5v9.5M142.9,167.9v10.1M173.1,135.7v22.1M166.8,133.5v10.6M151.3,170.9v6.6M174.3,160.1v9.1M87.3,154.9v18.1M150.5,152.5v9.0M61.4,149.5v5.3M142.2,170.4v16.1M121.8,160.4v8.3M82.3,139.7v7.1M127.0,140.2v21.0M160.8,119.7v9.2M92.1,162.5v10.7M129.0,132.5v19.7M122.5,179.1v8.0M177.0,164.0v11.1M57.7,151.7v11.8M191.6,117.4v15.1M127.5,135.1v15.4M91.5,142.6v7.2M161.7,150.8v9.2M193.7,138.7v8.6M166.4,157.5v9.9M147.3,114.2v11.8M54.8,147.5v8.4M70.1,147.6v9.6M120.0,157.6v6.8M135.4,178.8v4.0M123.4,137.3v20.3M153.0,123.8v23.1M214.3,146.4v12.1M117.7,122.4v15.2M145.2,162.0v14.2M176.0,157.9v10.2M206.7,145.1v15.3M198.8,150.8v11.9M147.9,149.0v14.0M110.5,131.8v24.5M125.0,126.1v13.4M118.4,164.6v13.5M120.8,165.2v10.3M183.8,135.9v9.1M129.5,159.9v11.9M140.8,156.3v14.2M57.5,155.1v4.1M120.6,155.5v10.0M138.3,170.7v7.0M99.3,171.9v8.8M171.4,121.9v10.1M138.2,133.2v17.3M94.4,159.1v16.2M176.6,148.5v9.0M166.3,156.4v17.3M114.0,131.6v12.4M147.0,151.9v7.9M171.7,156.9v12.5M192.5,137.7v8.3M189.0,162.8v9.6M89.4,148.6v21.4M92.5,133.9v9.7M142.0,164.2v15.7M98.6,168.9v13.4M158.4,157.5v11.5M105.8,141.7v10.2M82.6,130.6v14.3M129.3,123.5v13.1M146.5,123.2v22.8M231.2,139.0v21.9M159.3,111.4v33.9M100.3,175.3v8.1M166.0,130.9v19.8M104.8,147.0v10.8" stroke="#4441d8" stroke-width="0.9" fill="none" opacity="0.85"/>
<path d="M111.9,142.9v13.4M146.3,142.3v16.8M101.3,145.5v13.1M130.0,132.4v7.5M163.8,128.7v15.1M136.6,127.9v11.2M93.9,140.6v12.7M167.1,141.4v16.3M150.6,133.4v8.1M192.6,122.8v19.2M176.5,145.9v13.5M139.6,137.8v14.2M178.7,126.6v9.1M204.0,145.6v9.4M146.1,162.6v10.9M207.2,145.6v13.4M77.2,130.7v15.5M223.7,143.0v15.8M109.6,130.9v9.5M130.2,137.7v19.0M184.9,115.3v19.8M74.4,151.6v17.7M113.2,164.6v12.3M154.2,129.0v11.2M142.4,143.8v15.7M128.0,172.8v12.4M108.2,154.7v16.6M152.4,144.6v10.7M107.3,158.2v10.0M211.9,129.1v21.4M65.4,144.6v10.5M154.4,124.7v12.5M147.2,140.4v17.3M104.7,163.3v8.9M196.8,123.9v7.7M144.9,124.0v11.1M113.9,143.3v14.6M78.1,154.4v15.9M152.2,139.8v14.8M159.1,106.0v8.0M54.7,142.6v13.4M114.0,118.5v15.2M136.6,118.8v8.9M184.1,153.9v14.1M144.4,118.7v13.9M189.5,129.8v11.9M67.4,151.4v12.2M104.3,130.4v9.9M155.9,107.2v14.0M83.0,144.1v9.3M155.7,149.8v12.6M154.6,115.8v11.3M108.7,126.1v13.8M213.5,151.8v12.3M142.3,119.5v16.1M148.8,120.8v7.0M84.7,147.1v8.9M177.0,128.2v11.9M117.9,159.3v14.2M121.1,166.9v10.0M162.6,169.1v10.6M92.6,152.3v11.4M156.4,151.1v7.7M125.0,143.3v8.4M139.8,115.4v11.0M116.4,146.2v18.5M138.5,155.5v11.9M182.6,128.9v14.6M163.2,154.9v12.9M90.7,158.4v10.6M102.6,142.8v19.4M206.6,152.0v8.4M139.9,157.2v9.5M116.3,133.2v11.9M147.4,152.5v17.6M128.3,116.8v20.8M107.0,167.4v10.0M160.2,110.6v12.2M139.9,116.9v9.2M126.8,119.6v15.2M158.3,121.5v13.3M186.8,130.5v18.8M117.2,130.6v9.4M139.4,136.3v11.9M113.7,147.4v10.6M166.4,141.9v13.9M154.2,118.5v17.2M109.0,140.1v11.8M78.5,137.6v11.9M207.6,137.3v8.9M193.0,135.1v11.5M187.4,153.9v7.1M203.2,133.7v7.7M149.5,104.8v10.1M65.6,147.5v13.8M151.2,138.4v16.2M143.2,137.6v19.8M89.6,137.2v13.1M187.6,135.6v12.2M151.7,137.5v8.0M206.9,155.6v11.5M99.0,123.9v15.4M205.1,150.4v15.9M149.5,141.8v20.4M42.6,145.9v10.3M188.3,134.6v13.6M48.5,141.7v11.3M127.5,122.6v13.6M167.2,106.7v21.3M98.5,126.7v11.5M130.9,177.5v6.7M65.2,139.8v12.8M223.6,134.9v19.5M92.6,136.1v6.8M127.5,132.1v10.3M123.6,177.0v10.5M86.6,161.7v9.3M213.0,140.6v14.6M205.8,143.7v11.9M75.6,141.9v9.8M206.1,135.5v12.1M102.0,156.4v13.9M122.4,120.5v11.4M178.9,137.0v19.8M162.4,107.3v11.7M97.8,152.7v9.8M122.4,123.4v14.6M131.0,116.4v13.8M103.4,164.8v17.8M202.9,129.0v10.8M143.3,114.5v13.7M123.1,137.8v13.0M114.8,164.7v9.1M65.5,151.6v6.7M50.5,141.7v12.2M100.4,143.2v15.8M150.4,135.3v8.6M65.4,145.8v6.4M140.0,116.5v10.9M141.9,149.4v12.5M96.1,170.5v8.1M152.0,129.3v9.3M117.8,139.2v17.0M177.4,112.2v18.9M82.1,152.5v8.3M148.9,132.8v7.6M187.0,148.1v7.5M133.3,126.3v15.0M164.8,116.4v8.3M131.8,161.8v10.6M87.9,150.2v16.7M129.2,165.0v12.0M162.4,125.7v15.4M169.5,118.7v14.4M116.8,136.9v20.6M77.5,144.8v17.9M205.4,131.6v18.2M162.1,132.6v11.1M211.9,156.5v9.0M137.3,124.6v12.0M171.7,155.1v8.6M172.6,114.1v16.8M162.3,141.5v13.4M167.9,115.8v14.7M159.6,124.1v16.2M129.7,162.5v17.5M177.0,118.0v22.0M125.5,153.4v12.4M187.7,145.7v13.4M69.6,155.5v13.5M72.5,148.0v10.9M167.0,150.0v10.6M58.5,148.9v11.0M150.0,112.1v11.3M178.6,118.0v14.5M176.8,154.5v15.6M166.5,158.5v17.1M161.0,108.9v17.7M87.4,169.6v8.4M156.5,134.5v7.9M134.6,161.0v12.6M65.0,151.9v10.2M155.6,139.9v10.0M145.0,116.2v14.5M117.4,177.1v8.9M129.2,134.2v9.7M140.8,161.7v15.5" stroke="#415fed" stroke-width="0.9" fill="none" opacity="0.85"/>
<path d="M156.1,103.7v36.2" stroke="#51c3ae" stroke-width="0.9" fill="none" opacity="0.85"/>
<path d="M170.8,159.1v10.5M210.8,147.1v9.3M115.7,169.8v6.6M105.5,146.8v7.5M116.4,141.6v8.0M81.3,130.9v12.7M62.7,156.3v7.8M58.8,146.9v12.9M210.0,151.7v8.3M106.2,126.7v11.3M120.2,141.4v5.9M171.2,154.2v11.0M106.6,129.7v10.2M146.2,126.2v8.4M132.7,141.1v14.3M159.9,130.0v13.5M100.2,140.5v7.1M145.2,137.3v9.6M153.1,165.1v5.4M130.7,156.1v8.1M105.9,156.8v9.8M138.0,133.8v15.4M179.4,145.0v6.5M124.5,120.8v11.2M112.7,162.5v10.0M148.8,127.1v12.3M104.2,150.3v11.1M169.1,125.2v9.7M61.1,150.1v14.7M111.5,171.0v9.3M78.6,138.1v14.1M150.7,121.3v10.5M164.5,149.3v9.9M117.7,165.1v12.2M174.3,153.2v7.4M96.8,130.6v8.1M95.4,136.9v12.6M113.8,145.5v7.3M113.3,175.0v10.6M113.6,131.7v5.5M131.2,152.4v12.8M181.8,129.4v10.7M95.8,152.4v8.3M59.5,150.8v13.4M79.7,151.7v16.0M83.9,153.7v10.1M196.9,149.5v14.3M114.7,145.0v13.4M130.7,132.9v13.9M196.3,151.0v8.4M181.6,123.4v7.3M194.2,157.3v13.6M138.3,123.1v4.5M163.2,124.7v7.0M82.1,154.4v8.5M144.7,162.7v7.9M175.3,147.2v11.8M71.2,151.1v10.7M130.8,120.3v11.6M104.0,162.2v11.7M158.9,146.9v11.2M124.7,157.5v8.3M108.1,128.2v12.5M161.2,145.9v7.7M136.7,129.4v5.4M166.1,120.4v10.9M111.5,180.8v10.4M115.2,170.1v10.3M150.5,165.5v12.4M214.0,140.6v17.2M128.3,137.7v7.7M107.7,163.6v12.9M99.0,167.2v11.2M163.6,111.2v12.5M103.2,135.7v11.1M141.8,154.1v14.5M175.7,143.0v11.1M144.3,131.0v8.1M120.7,165.2v11.8M209.5,139.9v9.5M117.1,135.5v10.4M79.9,152.7v13.3M149.2,159.9v6.4M102.0,128.1v9.7M129.9,130.8v11.2M108.3,133.1v7.9M174.2,158.1v11.7M82.2,156.4v12.0M60.6,148.3v6.5M173.7,167.6v9.0M123.1,138.3v9.6M168.5,114.1v12.4M177.1,163.1v9.8M135.7,156.9v8.4M132.5,140.6v6.8M155.9,157.8v9.8M137.0,139.1v13.9M198.3,147.0v10.8M118.5,167.9v7.4M203.0,128.5v15.9M185.8,129.7v10.2M91.6,152.9v10.6M198.5,143.4v9.4M205.0,147.4v10.5M189.7,151.2v9.0M178.0,139.2v15.1M149.6,128.9v10.5M124.4,153.5v11.7M171.3,166.0v12.5M88.0,159.7v15.6M141.6,118.1v10.8M198.8,162.0v7.4M227.5,147.5v9.8M120.4,131.2v5.7M118.2,164.0v9.1M94.4,162.0v10.2M171.1,115.6v12.0M173.9,122.4v11.0M53.9,149.9v7.1M197.0,148.9v13.2M121.7,141.3v8.7M206.8,156.7v10.4M139.3,119.8v8.5M113.3,169.3v10.2M114.2,136.2v10.4M120.7,130.0v5.1M57.4,146.0v6.8M210.3,143.3v13.1M76.8,147.1v7.5M68.8,148.6v14.3M209.4,134.7v13.0M118.2,132.2v11.3M130.7,139.8v12.0M94.9,148.7v12.7M142.6,122.1v10.2M166.2,119.9v11.3M139.6,123.4v8.8M120.7,165.3v7.4M210.3,159.8v6.9M91.7,127.6v13.4M109.4,160.8v9.0M181.9,128.9v11.2M174.2,121.0v9.7M65.1,151.3v13.8M211.0,151.6v15.4M103.8,141.7v12.0M173.0,159.1v11.2M129.6,119.7v15.7M111.1,151.8v11.0M110.0,124.0v9.7M149.2,157.9v6.4M101.8,127.7v10.1M124.4,139.5v11.8M191.3,143.4v9.3M121.7,136.9v15.0M121.1,177.7v12.4M86.5,148.8v6.4M81.5,153.3v7.6M96.0,129.9v9.9M138.1,158.6v8.1M182.1,150.7v7.7M126.9,160.5v11.1M138.7,135.9v8.2M152.9,134.8v9.6M103.7,145.6v13.2M100.3,148.4v13.3M133.5,138.0v10.4M118.0,171.3v7.0M164.4,125.0v11.6M167.3,153.5v8.5M152.4,122.3v8.0M106.9,133.5v6.8M190.5,161.0v5.9M203.1,146.7v12.4M162.8,128.0v5.9M149.8,138.2v5.5M148.2,171.5v7.6M73.2,152.2v11.0M203.7,136.1v8.7M65.7,152.2v9.5M138.0,120.8v12.5M179.4,149.1v7.7M166.1,156.7v5.8M149.0,116.7v14.0M130.6,166.8v7.1M138.0,151.3v17.7M134.4,122.0v7.7M116.8,164.6v10.0M134.2,179.9v6.6M133.8,125.2v14.6M198.4,152.0v11.4M168.4,113.4v12.8M173.8,151.3v11.2M159.7,141.4v14.3M136.0,123.2v9.5M139.6,168.3v7.8M120.5,131.8v11.4M159.6,119.0v9.3M123.7,137.6v7.7M132.0,139.8v7.2M212.3,149.2v6.0M92.0,156.5v14.5M119.5,136.4v10.9M163.7,156.4v7.1M182.0,160.5v8.3M160.3,108.7v9.4M111.5,155.0v14.5M132.6,133.5v13.9M163.2,117.6v12.3M96.9,135.5v12.2M122.2,159.5v13.6M161.6,162.0v8.8M130.1,159.1v9.8M102.8,135.1v16.1M173.7,156.5v14.5M76.4,148.3v11.6M98.3,160.0v12.8M68.4,147.8v15.1M129.1,140.3v9.2M140.0,119.5v8.8M218.9,155.4v9.3M202.7,139.2v12.8M225.1,143.8v12.4M122.0,173.4v10.6M118.5,162.1v6.4M171.2,118.9v9.0M121.0,125.7v7.2M194.7,161.5v9.7M118.7,120.4v13.3M203.8,150.9v7.3M129.4,121.7v9.3M136.4,131.5v13.4M47.2,147.1v6.9M138.2,122.5v7.2M197.2,151.5v8.7M91.9,141.6v6.1M129.5,177.0v9.5M223.2,151.0v9.5M160.1,123.8v15.9M70.7,148.0v5.2M136.7,163.8v8.0M155.7,118.1v7.8M149.3,126.8v11.5M129.7,171.5v10.3M122.6,176.2v12.7M148.8,127.6v9.6M105.4,153.8v15.7M71.5,155.0v12.9M111.8,173.4v5.4M102.7,141.4v9.5M170.7,128.6v12.1M180.0,142.4v14.8M111.9,165.4v6.3M52.4,143.8v9.0M74.7,152.2v8.4M142.8,137.4v6.9M103.8,168.9v7.5M118.9,163.9v11.9M168.6,144.5v10.0M146.0,115.6v14.0M172.3,116.8v11.4M77.2,147.2v11.6M170.2,115.4v11.8M148.7,120.7v14.4M132.3,154.2v11.4M56.2,137.1v12.8M174.9,127.4v11.8M224.4,146.9v12.3M207.3,142.4v12.6M177.5,151.9v8.4M90.1,131.1v13.3M170.3,146.1v14.5M73.6,138.9v13.9M198.8,145.5v6.8M169.3,164.6v7.6M65.4,142.0v12.8M124.5,135.8v11.8M215.3,139.5v11.5" stroke="#4254e8" stroke-width="0.9" fill="none" opacity="0.85"/>
<path d="M194.9,141.4v8.5M135.0,172.6v8.0M87.1,154.4v7.5M55.0,147.2v10.6M90.8,147.8v7.6M123.1,141.5v5.1M75.0,150.3v9.3M74.5,135.8v11.5M78.3,148.4v8.7M128.1,181.7v5.6M227.0,149.8v7.6M137.3,133.9v7.7M113.1,172.8v4.5M221.8,154.7v7.4M112.1,181.4v6.1M147.7,156.6v9.4M105.9,143.9v6.6M112.3,179.2v3.8M55.6,152.6v7.7M60.2,157.3v5.4M113.3,183.7v8.6M81.1,140.3v6.2M111.7,184.4v5.0M179.4,143.1v16.4M96.1,156.0v5.7M115.7,132.3v6.4M148.2,123.4v6.9M133.8,136.5v9.1M171.7,147.7v9.2M157.1,117.0v7.5M119.1,130.4v5.7M95.7,147.6v6.3M51.4,153.2v5.0M133.8,160.9v7.6M126.1,168.4v7.0M180.9,152.0v5.5M110.8,165.2v10.5M154.7,164.6v11.4M173.8,160.6v6.4M151.8,119.0v9.6M156.5,127.2v8.6M101.4,113.8v12.0M98.9,136.4v10.4M51.2,148.7v9.5M117.1,124.8v8.1M69.6,147.2v6.0M144.2,130.8v7.2M55.0,154.6v3.6M180.0,154.1v7.0M136.0,166.8v5.6M193.2,163.7v5.0M81.2,154.6v6.2M156.2,127.8v6.8M133.7,129.3v4.4M140.4,120.3v6.5M102.0,129.1v10.8M65.9,155.2v6.0M133.6,125.0v4.0M121.5,181.3v6.9M63.8,154.5v9.9M102.2,180.5v5.9M124.7,127.1v9.5M136.3,139.8v7.4M133.8,119.3v10.1M114.6,129.2v11.0M151.2,137.4v8.2M124.4,142.5v5.1M133.9,156.5v7.5M162.5,125.6v8.3M143.7,117.8v10.5M117.6,128.9v10.9M177.9,152.6v5.4M75.6,154.4v7.9M145.5,112.8v35.8M125.7,145.8v8.0M67.7,151.8v6.5M161.6,123.2v7.7M75.1,150.9v6.9M202.3,148.5v5.8M112.3,166.5v7.7M130.3,131.8v6.2M125.6,142.7v9.2M123.2,126.1v10.0M74.8,158.2v9.2M196.5,151.4v6.2M132.4,140.8v6.3M135.0,167.4v8.4M211.2,151.2v7.3M74.9,151.8v6.0M88.9,156.2v4.5M216.4,154.8v7.0M138.5,162.6v7.8M95.5,136.5v6.3M79.1,154.0v7.9M172.3,162.6v5.5M198.1,154.6v7.8M97.5,145.0v7.7M167.6,121.6v10.3M63.2,160.3v5.9M157.4,136.6v6.3M130.6,128.3v5.4M180.8,107.1v22.0M105.3,174.7v10.9M183.9,147.9v7.0M191.7,144.5v5.7M81.2,149.5v11.4M179.0,140.3v8.0M107.6,147.7v5.6M135.0,132.1v10.3M90.9,137.5v7.7M133.2,176.0v5.8M192.5,150.7v7.5M77.8,151.1v5.9M199.2,144.5v8.2M122.2,171.6v4.2M65.3,151.7v6.5M121.7,173.4v6.2M215.0,154.2v6.9M79.0,140.1v5.0M134.7,175.3v6.8M218.5,147.2v9.2M88.8,155.3v5.4M141.0,127.9v5.4M139.9,168.0v6.7M87.5,140.7v4.9M123.9,130.8v7.9M129.4,176.0v5.8M75.3,147.1v8.9M84.3,139.7v6.3M120.1,131.2v7.8M113.8,185.7v4.7M179.1,165.9v5.5M129.2,124.2v9.1M99.1,175.7v9.2M53.4,149.0v4.2M198.7,146.1v8.1M204.6,145.7v7.8M213.2,147.1v6.7M137.2,168.3v4.5M180.0,160.0v7.7M180.3,130.0v6.4M60.6,142.9v9.5M219.6,151.3v5.8M196.1,147.7v9.5M119.6,129.1v25.0M165.1,118.2v8.3M140.7,128.1v6.7M135.2,173.7v8.8M152.2,168.4v8.0M155.9,166.0v5.9M61.7,146.6v4.6M76.6,140.3v5.6M83.3,144.6v7.0M57.1,148.6v8.4M130.6,166.1v9.7M149.3,123.6v7.5M166.5,170.1v5.9M74.2,145.2v6.1M111.7,170.0v6.5M108.2,135.6v21.8M143.7,123.2v6.9M145.3,129.4v19.8M112.2,130.7v8.0M102.2,151.7v4.9M113.8,176.1v5.8M134.8,169.8v6.4M155.2,131.3v17.5M95.5,152.4v7.0M96.8,130.0v33.0M166.3,123.8v9.7M184.2,166.1v6.3M73.4,156.1v11.1M134.5,127.5v4.1M92.8,169.4v9.2M183.0,129.4v8.3M80.2,157.7v6.3M105.2,179.6v4.2M113.3,180.9v9.6M101.5,139.9v20.2M188.5,139.9v8.4M58.8,145.5v10.1M95.3,135.0v10.1M150.0,179.6v4.6M67.9,143.7v4.6M158.0,155.5v11.6M68.2,150.4v5.7M189.0,163.5v8.9M181.8,158.4v4.1M168.1,121.7v6.6M150.9,170.7v9.8M150.3,114.8v21.9M84.6,143.6v4.6M96.3,137.2v8.6M101.2,181.8v4.2M160.1,169.7v7.0M133.7,168.3v11.2M63.1,161.8v4.1M110.8,179.8v5.0M86.6,138.3v8.3M171.1,168.2v7.7M136.9,133.4v8.2M194.5,151.3v9.6M102.3,163.1v9.4M191.8,131.9v6.8M176.8,120.4v10.4M70.5,159.1v4.5M138.8,166.9v7.0M73.5,140.6v7.8M151.6,167.3v8.8M128.5,134.0v4.8M200.9,160.7v5.3M129.2,144.8v6.8M190.5,165.4v4.1M121.4,185.2v7.4M122.5,166.4v9.4M94.8,144.4v6.6M162.9,162.5v6.8M209.0,146.0v9.6M144.2,159.7v8.6M111.1,140.9v8.0M104.5,129.1v7.5M111.6,146.2v7.3M61.4,140.7v10.2M123.8,169.6v9.2M195.1,149.9v7.0M134.1,158.2v8.3M120.3,135.1v7.2M95.1,145.6v7.9M110.3,132.5v9.6M41.4,148.0v7.5" stroke="#434be1" stroke-width="0.9" fill="none" opacity="0.85"/>
<path d="M90.4,145.1v19.6M112.8,125.4v28.1M176.9,124.0v22.9M106.6,146.3v16.7M166.1,129.0v13.1M104.0,152.5v19.2M75.4,128.2v7.6M150.1,121.2v28.5M178.5,149.1v18.2M162.4,123.7v17.2M111.3,146.8v14.8M131.5,133.3v16.8M212.6,148.0v7.8M125.3,139.7v15.7M79.6,143.4v27.7M118.9,132.9v18.0M176.7,135.2v14.4M142.3,123.3v9.0M117.3,136.9v15.4M82.4,125.4v16.0M123.2,162.6v12.1M175.7,124.3v11.7M164.6,148.0v16.1M117.8,137.8v12.8M183.0,118.9v21.6M98.0,136.3v18.6M154.0,118.7v17.9M134.4,137.2v18.9M129.9,117.3v26.0M136.5,141.6v18.9M99.7,130.7v20.0M127.3,137.3v22.0M95.9,158.6v21.3M168.8,108.8v17.0M107.8,134.0v15.7M112.6,164.6v10.5M119.9,111.3v9.5M109.0,141.9v25.0M142.8,122.8v15.6M96.6,144.8v16.7M205.8,141.6v13.5M162.0,121.0v17.7M118.5,120.5v7.7M142.9,128.6v20.4M134.8,138.8v14.0M171.6,131.8v16.0M118.3,143.8v13.4M183.4,125.4v18.6M116.6,132.5v28.1M102.7,151.0v19.8M153.4,147.8v14.4M138.4,116.9v17.1M172.9,115.0v15.5M166.5,122.7v23.7M153.1,160.3v14.7M166.7,140.6v7.4M128.7,152.6v15.4M157.9,164.6v7.0M188.0,137.2v12.7M111.7,132.5v13.4M140.5,122.1v29.9M93.4,143.5v10.1M140.6,122.4v29.6M139.4,150.5v13.3M155.7,139.2v19.2M117.1,120.2v14.9M170.3,135.7v17.5M187.4,121.1v18.2" stroke="#3e77f2" stroke-width="0.9" fill="none" opacity="0.85"/>
<path d="M200.6,149.5v8.1M102.7,136.9v5.7M165.0,123.1v10.0M97.6,163.1v7.4M57.2,147.3v16.1M142.4,162.6v13.1M185.5,141.6v16.4M125.7,180.9v9.5M44.2,146.6v8.2M205.6,156.6v7.9M81.5,142.0v24.7M102.9,150.5v8.3M142.7,178.7v7.8M165.9,129.5v9.7M129.8,171.8v9.3M167.0,167.3v4.6M194.3,154.8v5.8M125.4,166.4v8.7M105.1,141.9v12.5M172.2,154.2v5.2M58.8,135.3v16.1M169.4,163.3v5.2M128.8,164.0v11.7M175.7,168.6v7.7M98.3,154.4v4.6M132.2,174.3v11.2M207.0,158.6v8.8M137.0,147.7v13.2M57.1,141.1v12.0M134.1,173.5v10.9M114.1,162.6v8.3M141.2,173.5v7.8M109.6,170.6v11.3M89.8,146.9v24.8M137.8,172.4v7.1M144.5,170.2v6.6M123.5,157.4v8.1M123.8,128.7v7.9M143.8,150.0v13.5M184.8,149.5v11.7M130.0,174.9v9.5M175.0,150.2v10.7M132.0,158.3v7.4M174.3,128.4v10.8M86.4,141.2v7.8M210.8,150.6v12.1M126.4,174.8v13.3M194.8,149.7v4.5M79.6,158.5v10.7M100.3,150.2v7.3M172.8,130.4v6.5M194.0,144.1v10.2M103.2,144.6v10.9M190.4,151.2v4.9M145.7,164.5v6.4M168.7,172.6v4.4M67.1,156.8v9.3M147.7,130.4v8.8M124.5,146.8v15.6M164.2,135.6v18.5M74.5,129.6v15.1M203.6,136.9v10.9M148.4,129.4v7.5M102.2,122.1v10.8M128.3,171.7v6.7M76.3,152.8v13.4M59.4,135.3v15.2M186.4,109.9v15.3M165.1,166.7v12.2M216.5,149.4v5.9M214.5,144.7v9.8M133.9,127.5v6.2M135.1,181.3v5.7M102.2,150.3v10.2M111.0,139.4v9.6M129.3,179.2v9.0M154.5,124.4v17.5M130.3,161.8v7.1M205.5,119.9v19.8M114.4,143.3v9.1M105.3,166.3v11.0M110.9,161.5v18.5M171.6,164.7v5.3M158.3,161.0v8.1M115.3,187.8v5.2M65.1,155.4v11.7M164.9,154.4v9.6M107.5,130.8v5.8M180.9,169.5v5.2M108.7,145.9v18.7M164.9,172.1v4.9M132.1,183.3v6.0M150.3,104.9v36.0M111.2,134.1v8.1M187.9,163.9v6.3M165.1,121.8v6.9M127.4,172.2v9.1M112.7,161.6v10.5M138.4,119.7v16.3M189.4,151.3v4.4M148.9,169.5v11.4M136.3,132.3v8.7M176.0,143.8v21.7M112.2,148.7v13.0M183.1,141.3v15.1M178.0,167.3v6.8M162.6,127.8v4.3M218.3,154.6v3.9M57.8,145.8v9.4M123.3,124.8v7.1M74.5,143.1v8.3M135.5,177.1v5.7M230.2,156.2v4.0M110.4,160.9v16.3M110.4,173.9v4.1M191.3,123.4v14.9M220.6,152.8v9.0M161.3,125.0v6.3M157.1,171.2v3.7M195.4,167.1v4.5M152.0,125.3v5.4M166.0,163.4v7.7M161.0,116.0v10.9M192.1,131.4v14.3M110.1,125.8v9.7M211.1,148.4v6.5M118.8,177.1v5.5M141.5,133.9v7.7M106.7,144.0v7.2M225.9,147.0v13.3M206.8,140.3v8.0M94.0,151.9v12.6M116.2,170.9v8.0M100.9,161.6v19.3M82.0,130.5v12.2M138.9,135.6v15.1M184.0,118.6v16.1M146.5,118.7v8.8M197.5,164.2v4.4M154.4,166.2v7.3M186.2,122.0v13.5M175.8,149.0v15.5M198.5,146.9v9.2M111.9,181.8v5.3M173.3,168.3v8.7M214.5,147.9v4.4M151.9,166.2v12.1M159.4,149.0v9.1M135.1,164.3v5.1M123.3,178.2v4.4M72.5,144.8v3.4M137.1,170.5v6.7M100.2,155.8v15.7M155.4,120.3v5.6M157.4,166.2v4.6M174.8,161.4v5.6M177.7,157.9v8.7M141.8,175.2v8.8M210.9,155.2v7.4M160.1,118.9v5.2M144.5,152.6v8.1M149.7,106.8v41.1M108.6,141.5v13.2M207.0,140.5v11.8M150.4,151.6v8.3M178.5,166.3v9.5M206.4,130.2v7.8M214.5,143.5v10.6M114.4,155.8v15.1M192.5,131.9v15.0M150.1,152.7v13.6M148.8,179.5v3.6M136.1,172.9v12.5M138.3,172.1v5.5M174.6,168.9v4.7M190.3,160.5v6.4M162.8,113.7v11.8M196.9,126.7v14.1M153.6,119.2v13.8M115.2,178.6v9.9M170.5,155.6v5.1M97.8,146.1v10.9M201.3,152.4v14.0M153.0,163.4v7.6M83.8,150.2v5.6M175.4,163.8v12.1M181.3,161.0v11.9M202.8,158.0v6.9M209.4,149.6v9.4M154.2,136.3v7.1M175.8,128.9v5.6M108.1,134.9v8.0M140.4,164.9v5.6M109.0,142.9v7.1M137.3,161.2v7.4M160.1,162.4v8.0M166.0,172.2v7.5M184.8,127.9v8.9M205.3,155.2v6.7M159.3,160.1v7.7M158.7,162.4v11.4M204.0,156.1v11.7M115.1,128.8v5.6M68.5,138.2v7.2M113.7,127.9v9.4M189.8,154.6v10.0M214.5,156.3v4.1M153.2,120.8v12.4M103.5,127.3v11.5M131.6,178.8v8.2M91.9,174.7v5.9M184.5,132.7v16.3M121.2,138.9v13.0M130.7,163.0v11.4M143.7,134.3v8.3M57.2,141.8v9.2M138.4,174.4v9.9M111.8,176.5v7.4M209.4,132.0v9.5M130.5,123.2v13.0M130.3,134.3v5.5M100.5,166.5v7.7M212.7,150.6v9.1M158.7,103.8v21.7M64.3,150.7v9.8M164.9,119.4v34.7M174.8,171.0v4.5M70.2,151.8v10.3M203.4,139.0v16.8M86.5,157.5v12.8M149.7,127.5v7.9M157.4,126.9v10.2M106.9,167.7v5.5M225.0,143.4v7.1M194.7,148.6v7.8M151.5,162.2v10.5M114.2,132.6v13.6M114.5,133.1v15.4M120.8,132.8v6.3M146.2,177.3v7.0M103.1,135.5v7.1M135.8,176.6v4.0M175.8,154.9v12.8M203.8,142.7v20.7M87.3,139.9v12.4M146.7,119.6v12.6M129.4,134.6v11.1M122.6,182.8v7.9M221.0,149.3v6.2M165.6,171.2v5.9M89.5,141.5v14.0M201.9,155.3v5.2M107.5,180.4v4.5M212.8,133.6v17.7M204.6,148.1v7.7M176.4,158.4v5.3M158.8,126.2v9.2M106.6,137.4v7.0M147.9,164.3v7.7M139.7,166.0v10.1M197.0,133.9v9.9M224.8,150.0v7.3M139.9,171.2v12.8M84.0,157.5v4.7M171.9,171.8v4.8M189.7,151.8v13.2M216.2,158.1v5.5M147.0,176.5v4.0M139.9,182.7v4.6M120.1,172.7v8.0M72.5,151.2v5.3M173.9,121.6v9.9M171.8,148.1v8.9M145.8,141.0v5.9M92.7,143.9v12.5M161.2,164.2v12.9M174.2,130.7v21.4" stroke="#4238c8" stroke-width="0.9" fill="none" opacity="0.85"/>
<path d="M174.0,141.1v8.8M101.0,145.6v23.6M113.6,155.2v13.8M164.2,128.3v12.1M94.1,146.5v23.1M165.8,159.7v11.4M122.8,105.6v22.4M139.4,136.4v17.8M131.6,119.2v11.3M95.7,143.5v22.8M115.7,128.5v10.2M185.1,113.1v9.9M105.1,121.8v8.4M132.0,133.7v13.4M162.7,123.7v11.9M132.3,129.0v24.8M119.2,133.5v24.6M183.7,139.3v17.8M77.2,153.7v17.8M176.2,133.9v18.3M158.7,152.6v11.5M187.4,129.9v11.8M164.1,144.4v14.4M187.0,140.7v12.4M126.2,156.8v11.4M96.5,165.3v13.4M163.7,109.9v19.4M188.3,150.2v7.8M118.1,112.7v13.9M185.0,159.9v12.5M195.7,121.9v18.4M130.8,127.5v18.8M74.1,136.2v10.5M122.1,121.3v16.7M220.9,139.2v14.1M63.5,140.2v8.2M134.8,154.9v12.4M71.3,133.9v19.0M209.4,138.5v11.1M106.0,127.4v13.3M145.5,129.4v13.8M113.2,122.9v12.5M88.6,126.6v17.1M109.5,130.2v12.0M84.1,137.6v9.8M150.2,116.8v23.1M102.7,151.3v14.3M119.0,128.8v18.5M60.7,134.9v15.7M124.8,157.2v13.2M170.4,119.7v21.9M149.9,148.6v10.8M135.1,127.0v11.4M200.6,127.5v13.0M100.9,144.7v13.6M208.4,143.1v12.2M116.5,145.1v12.4M198.2,121.2v18.7M176.5,124.5v16.3M99.6,143.3v23.1M115.0,118.4v21.8M155.6,123.6v22.5M156.1,141.2v17.1M154.0,120.9v24.0M201.1,148.1v15.7M42.4,131.9v18.6M193.4,124.9v17.5M163.6,125.2v18.6M114.1,137.5v11.0M85.0,137.4v12.7M170.7,139.2v14.5M150.2,124.0v25.7M98.4,142.8v17.9M106.4,137.8v15.2M118.1,131.3v10.7M142.2,134.8v17.7M176.2,130.3v18.8M99.4,167.1v13.6M116.5,113.0v24.3M71.3,136.7v20.9M176.1,115.5v16.8M95.9,148.3v15.1M202.1,132.6v8.3M139.0,139.4v12.5M131.0,116.8v17.3M42.0,139.1v9.8M52.2,148.9v11.8M143.0,122.3v12.4M110.9,149.0v11.2M195.4,136.4v18.6M155.4,115.3v13.0M154.3,132.3v16.1M113.2,135.4v12.5M160.7,136.3v17.4M129.1,149.2v14.0M214.8,137.7v16.8M173.1,122.2v19.3M185.3,151.0v10.6M63.3,135.8v21.1M88.1,122.7v11.7M81.1,147.0v15.9M120.0,117.5v18.7M139.7,112.5v13.9M120.1,140.6v21.6M120.1,120.7v13.7M167.0,117.5v12.6M148.9,119.8v13.0M98.5,142.6v10.5M164.0,148.3v15.4M107.7,154.8v14.0M102.4,165.6v12.4M111.9,136.3v25.7M194.5,133.1v11.4M184.8,156.1v10.0M119.1,144.4v18.2M128.5,142.0v17.9M157.6,107.9v13.1M124.4,153.7v16.7M85.6,143.9v14.8M205.1,134.2v13.0M183.0,115.4v9.9M225.4,145.5v12.6M195.4,140.5v16.7M77.4,156.7v14.8M134.4,132.2v24.0M114.7,124.6v11.2M140.4,129.0v8.5" stroke="#3f6bf0" stroke-width="0.9" fill="none" opacity="0.85"/>
<path d="M114.0,149.7v12.0M152.7,110.1v31.6M161.9,101.9v43.4M171.3,89.8v38.0M162.3,101.4v24.2M119.4,132.7v26.9M78.6,142.4v14.5" stroke="#32a2e4" stroke-width="0.9" fill="none" opacity="0.85"/>
<path d="M155.1,115.1v30.2M79.5,148.3v8.6M96.5,146.0v17.3M208.8,130.2v19.7M170.5,106.1v25.6M124.0,113.4v19.7M224.3,129.3v15.1M138.5,130.1v22.1M123.9,130.8v28.8M122.6,136.8v20.9M107.3,132.0v23.8M121.6,142.0v20.2M152.4,115.8v12.7M134.7,159.6v19.9M179.4,117.0v18.5M99.8,142.8v15.4M152.5,137.2v17.5M169.1,109.0v16.8M159.2,114.8v17.8M177.1,111.8v30.8M128.8,130.2v27.9M73.3,142.4v14.2M116.5,127.8v28.1M142.0,121.9v26.9M129.9,128.4v11.4M143.2,115.3v11.1M80.5,135.7v17.0M96.9,134.7v19.9M83.9,150.8v19.6M171.8,119.7v18.2M151.8,144.1v16.9M203.5,138.6v18.3M173.1,120.7v18.2M145.8,124.2v31.6M133.0,130.7v11.2M81.5,131.3v11.6M103.8,135.1v13.6M173.3,138.5v11.6M162.8,135.8v16.4M189.8,127.8v19.0M93.3,141.5v22.7M134.7,160.9v8.4M181.3,109.0v15.1M120.8,132.5v9.3M117.1,134.4v26.2" stroke="#3c82f1" stroke-width="0.9" fill="none" opacity="0.85"/>
<path d="M105.3,135.5v26.7M135.3,129.6v21.6M175.6,116.7v23.5M190.7,111.9v10.3M181.4,115.9v20.4M123.1,125.3v29.2M136.3,112.7v27.1M127.2,129.2v16.9M159.0,134.9v19.5M119.4,121.1v18.4M165.4,125.5v29.2M136.1,115.5v25.1M193.2,129.0v22.0M142.3,135.2v16.0M180.6,113.1v25.2M175.5,109.8v18.1M154.9,128.7v25.8M97.2,137.6v14.3M139.7,139.6v12.7M147.7,108.7v26.2M116.5,134.5v20.9M194.6,118.9v21.2M144.7,109.5v26.0M75.7,141.9v26.0M165.5,115.0v33.5M194.2,117.3v14.0M183.8,116.5v27.6M122.5,105.3v26.9M155.8,152.3v7.9M149.6,114.9v34.8M156.9,121.9v28.2M164.1,109.7v16.7" stroke="#3a8ef0" stroke-width="0.9" fill="none" opacity="0.85"/>
<path d="M151.0,112.8v22.3M155.0,102.9v27.7M171.4,107.5v34.0" stroke="#33b9c9" stroke-width="0.9" fill="none" opacity="0.85"/>
<path d="M171.8,100.6v23.3M175.6,123.3v22.1M130.9,136.2v23.4M178.1,95.4v46.1M114.4,121.2v23.2M139.3,121.7v12.3M184.2,106.3v17.4M145.0,120.1v23.3M99.2,133.5v20.1M163.2,110.6v33.9M85.0,135.2v35.1M162.1,111.9v33.5M175.6,97.0v41.1M156.8,120.1v10.7" stroke="#3698ea" stroke-width="0.9" fill="none" opacity="0.85"/>
<path d="M160.4,109.0v36.3M119.5,120.0v25.1" stroke="#42bebc" stroke-width="0.9" fill="none" opacity="0.85"/>
<path d="M171.1,118.6v26.2" stroke="#30aadc" stroke-width="0.9" fill="none" opacity="0.85"/>
<path d="M146.1,91.0v32.2M136.7,105.6v25.1" stroke="#60c8a0" stroke-width="0.9" fill="none" opacity="0.85"/>
<path d="M146.5,117.4v31.8M173.3,109.5v21.7M148.3,102.1v25.3" stroke="#30b2d3" stroke-width="0.9" fill="none" opacity="0.85"/>
<line x1="35.00" y1="156.10" x2="35.00" y2="43.00" stroke="#111" stroke-width="1.4"/>
<polygon points="35.00,39.00 36.60,45.00 33.40,45.00" fill="#000"/>
<line x1="124.64" y1="201.73" x2="21.76" y2="148.73" stroke="#111" stroke-width="1.4"/>
<polygon points="18.20,146.90 24.27,148.23 22.80,151.07" fill="#000"/>
<line x1="123.72" y1="201.65" x2="251.17" y2="162.96" stroke="#111" stroke-width="1.4"/>
<polygon points="255.00,161.80 249.72,165.07 248.79,162.01" fill="#000"/>
<text x="29.4" y="156.2" font-size="7.4" text-anchor="end" font-weight="bold" fill="#1a1a1a">0</text>
<line x1="32.00" y1="121.03" x2="35.00" y2="121.93" stroke="#111" stroke-width="0.9"/>
<text x="29.4" y="123.6" font-size="7.4" text-anchor="end" font-weight="bold" fill="#1a1a1a">5</text>
<line x1="32.00" y1="87.37" x2="35.00" y2="88.27" stroke="#111" stroke-width="0.9"/>
<text x="29.4" y="89.9" font-size="7.4" text-anchor="end" font-weight="bold" fill="#1a1a1a">10</text>
<line x1="32.00" y1="53.70" x2="35.00" y2="54.60" stroke="#111" stroke-width="0.9"/>
<text x="29.4" y="56.2" font-size="7.4" text-anchor="end" font-weight="bold" fill="#1a1a1a">15</text>
<line x1="35.00" y1="155.60" x2="37.91" y2="154.76" stroke="#111" stroke-width="0.9"/>
<text x="27.0" y="164.5" font-size="7.4" text-anchor="middle" font-weight="bold" fill="#1a1a1a">2</text>
<line x1="57.30" y1="167.07" x2="60.21" y2="166.23" stroke="#111" stroke-width="0.9"/>
<text x="49.3" y="176.0" font-size="7.4" text-anchor="middle" font-weight="bold" fill="#1a1a1a">1</text>
<line x1="79.60" y1="178.55" x2="82.52" y2="177.71" stroke="#111" stroke-width="0.9"/>
<text x="71.6" y="187.5" font-size="7.4" text-anchor="middle" font-weight="bold" fill="#1a1a1a">0</text>
<line x1="101.90" y1="190.03" x2="104.82" y2="189.18" stroke="#111" stroke-width="0.9"/>
<text x="93.9" y="199.0" font-size="7.4" text-anchor="middle" font-weight="bold" fill="#1a1a1a">-1</text>
<line x1="124.20" y1="201.50" x2="127.12" y2="200.66" stroke="#111" stroke-width="0.9"/>
<text x="116.2" y="210.4" font-size="7.4" text-anchor="middle" font-weight="bold" fill="#1a1a1a">-2</text>
<line x1="124.20" y1="201.50" x2="121.30" y2="200.01" stroke="#111" stroke-width="0.9"/>
<text x="128.4" y="210.4" font-size="7.4" text-anchor="start" font-weight="bold" fill="#1a1a1a">0</text>
<line x1="153.35" y1="193.07" x2="150.45" y2="191.58" stroke="#111" stroke-width="0.9"/>
<text x="157.5" y="202.0" font-size="7.4" text-anchor="start" font-weight="bold" fill="#1a1a1a">0.5</text>
<line x1="182.50" y1="184.65" x2="179.60" y2="183.16" stroke="#111" stroke-width="0.9"/>
<text x="186.7" y="193.6" font-size="7.4" text-anchor="start" font-weight="bold" fill="#1a1a1a">1</text>
<line x1="211.65" y1="176.23" x2="208.75" y2="174.73" stroke="#111" stroke-width="0.9"/>
<text x="215.8" y="185.2" font-size="7.4" text-anchor="start" font-weight="bold" fill="#1a1a1a">1.5</text>
<line x1="240.80" y1="167.80" x2="237.90" y2="166.31" stroke="#111" stroke-width="0.9"/>
<text x="245.0" y="176.7" font-size="7.4" text-anchor="start" font-weight="bold" fill="#1a1a1a">2</text>
<text x="51.5" y="209.8" font-size="8.9" text-anchor="middle" font-weight="bold" fill="#1a1a1a">Frequency vector(Hz)</text>
<text x="205.5" y="212.6" font-size="8.9" text-anchor="middle" font-weight="bold" fill="#1a1a1a">Search interval</text>
<text x="19.0" y="97.5" font-size="9.2" text-anchor="middle" font-weight="bold" transform="rotate(-90 19.0 97.5)" fill="#1a1a1a">Amplitude (dB)</text>
<text x="23.0" y="190.3" font-size="8.2" fill="#1a1a1a">×<tspan font-weight="bold" dx="0.6">10</tspan><tspan dy="-3.7" font-size="5.6" font-weight="bold">6</tspan></text>
<text x="133.0" y="242.5" font-size="15.5" text-anchor="middle" fill="#111">(<tspan font-weight="bold">a</tspan>)</text>
<line x1="35.00" y1="397.60" x2="35.00" y2="298.10" stroke="#d6d6d6" stroke-width="0.7"/>
<line x1="64.15" y1="389.18" x2="64.15" y2="289.68" stroke="#d6d6d6" stroke-width="0.7"/>
<line x1="93.30" y1="380.75" x2="93.30" y2="281.25" stroke="#d6d6d6" stroke-width="0.7"/>
<line x1="122.45" y1="372.33" x2="122.45" y2="272.83" stroke="#d6d6d6" stroke-width="0.7"/>
<line x1="151.60" y1="363.90" x2="151.60" y2="264.40" stroke="#d6d6d6" stroke-width="0.7"/>
<line x1="151.60" y1="363.90" x2="151.60" y2="264.40" stroke="#d6d6d6" stroke-width="0.7"/>
<line x1="196.20" y1="386.85" x2="196.20" y2="287.35" stroke="#d6d6d6" stroke-width="0.7"/>
<line x1="240.80" y1="409.80" x2="240.80" y2="310.30" stroke="#d6d6d6" stroke-width="0.7"/>
<line x1="35.00" y1="397.60" x2="151.60" y2="363.90" stroke="#c4c4c4" stroke-width="0.7"/>
<line x1="151.60" y1="363.90" x2="240.80" y2="409.80" stroke="#c4c4c4" stroke-width="0.7"/>
<line x1="35.00" y1="377.70" x2="151.60" y2="344.00" stroke="#d6d6d6" stroke-width="0.7"/>
<line x1="151.60" y1="344.00" x2="240.80" y2="389.90" stroke="#d6d6d6" stroke-width="0.7"/>
<line x1="35.00" y1="357.80" x2="151.60" y2="324.10" stroke="#d6d6d6" stroke-width="0.7"/>
<line x1="151.60" y1="324.10" x2="240.80" y2="370.00" stroke="#d6d6d6" stroke-width="0.7"/>
<line x1="35.00" y1="337.90" x2="151.60" y2="304.20" stroke="#d6d6d6" stroke-width="0.7"/>
<line x1="151.60" y1="304.20" x2="240.80" y2="350.10" stroke="#d6d6d6" stroke-width="0.7"/>
<line x1="35.00" y1="318.00" x2="151.60" y2="284.30" stroke="#d6d6d6" stroke-width="0.7"/>
<line x1="151.60" y1="284.30" x2="240.80" y2="330.20" stroke="#d6d6d6" stroke-width="0.7"/>
<line x1="35.00" y1="298.10" x2="151.60" y2="264.40" stroke="#d6d6d6" stroke-width="0.7"/>
<line x1="151.60" y1="264.40" x2="240.80" y2="310.30" stroke="#d6d6d6" stroke-width="0.7"/>
<line x1="35.00" y1="397.60" x2="124.20" y2="443.50" stroke="#d6d6d6" stroke-width="0.7"/>
<line x1="64.15" y1="389.18" x2="153.35" y2="435.07" stroke="#d6d6d6" stroke-width="0.7"/>
<line x1="93.30" y1="380.75" x2="182.50" y2="426.65" stroke="#d6d6d6" stroke-width="0.7"/>
<line x1="122.45" y1="372.33" x2="211.65" y2="418.23" stroke="#d6d6d6" stroke-width="0.7"/>
<line x1="151.60" y1="363.90" x2="240.80" y2="409.80" stroke="#d6d6d6" stroke-width="0.7"/>
<line x1="35.00" y1="397.60" x2="151.60" y2="363.90" stroke="#d6d6d6" stroke-width="0.7"/>
<line x1="79.60" y1="420.55" x2="196.20" y2="386.85" stroke="#d6d6d6" stroke-width="0.7"/>
<line x1="124.20" y1="443.50" x2="240.80" y2="409.80" stroke="#d6d6d6" stroke-width="0.7"/>
<path transform="matrix(1,0.5146,0,1,158.29,367.34)" d="M0,-7.5L0,-51.7 0.7,-29.1 1.4,-22.3 2.1,-39.1 2.8,-37.6 3.5,-22.9 4.2,-22.4 4.9,-42.8 5.6,-25.3 6.3,-23.8 7.0,-22.5 7.7,-22.4 8.3,-33.9 9.0,-22.4 9.7,-40.6 10.4,-40.2 11.1,-29.8 11.8,-29.3 12.5,-29.3 13.2,-44.3 13.9,-52.5 14.6,-33.3 15.3,-26.7 16.0,-28.4 16.7,-27.0 17.4,-30.5 18.1,-32.0 18.8,-28.0 19.5,-27.6 20.2,-23.3 20.9,-25.8 21.6,-31.5 22.3,-23.6 23.0,-43.0 23.7,-25.0 24.3,-24.9 25.0,-23.3 25.7,-33.4 26.4,-48.0 27.1,-37.3 27.8,-23.7 28.5,-30.5 29.2,-24.0 29.9,-33.7 30.6,-24.5 31.3,-24.9 32.0,-27.9 32.7,-26.5 33.4,-35.0 34.1,-36.8 34.8,-35.1 35.5,-31.3 36.2,-35.4 36.9,-45.0 37.6,-46.7 38.3,-37.7 39.0,-38.9 39.6,-31.6 40.3,-30.2 41.0,-33.6 41.7,-32.0 42.4,-36.8 43.1,-35.1 43.8,-29.6 44.5,-27.8 45.2,-24.5 45.9,-26.2 46.6,-24.0 47.3,-23.9 48.0,-23.8 48.7,-43.0 49.4,-30.7 50.1,-23.5 50.8,-23.3 51.5,-46.8 52.2,-25.0 52.9,-32.2 53.6,-23.3 54.3,-23.1 55.0,-44.6 55.6,-38.5 56.3,-48.1 57.0,-23.2 57.7,-35.6 58.4,-22.7 59.1,-30.3 59.8,-31.1 60.5,-45.8 61.2,-22.6 61.9,-22.6 62.6,-26.8 63.3,-22.8 64.0,-43.3 64.7,-24.1 65.4,-22.3 66.1,-30.4 66.8,-23.1 67.5,-29.2 68.2,-38.1 68.9,-38.4 69.6,-27.9 70.3,-27.3 71.0,-22.3 71.6,-23.9 72.3,-24.1 73.0,-22.3 73.7,-23.6 74.4,-27.9 75.1,-22.3 75.8,-29.2 75.8,-10.4 71.6,-5.1 67.5,-10.3 63.3,-8.5 59.1,-4.9 55.0,-9.1 50.8,-4.1 46.6,-6.4 42.4,-4.7 38.3,-10.8 34.1,-8.3 29.9,-11.0 25.7,-7.2 21.6,-5.3 17.4,-9.8 13.2,-6.5 9.0,-4.2 4.9,-10.0 0.7,-5.3Z" fill="url(#gc)"/>
<path transform="matrix(1,0.5146,0,1,155.70,368.09)" d="M0,-9.5L0,-23.4 0.7,-39.2 1.4,-23.0 2.1,-23.9 2.8,-39.6 3.5,-33.3 4.2,-22.9 4.9,-27.8 5.6,-31.7 6.3,-41.2 7.0,-38.1 7.7,-22.5 8.3,-28.5 9.0,-25.5 9.7,-22.7 10.4,-35.2 11.1,-22.3 11.8,-28.2 12.5,-23.8 13.2,-30.3 13.9,-23.6 14.6,-23.1 15.3,-28.4 16.0,-28.7 16.7,-26.0 17.4,-34.4 18.1,-36.6 18.8,-30.1 19.5,-26.7 20.2,-23.1 20.9,-23.0 21.6,-33.5 22.3,-27.6 23.0,-23.4 23.7,-26.9 24.3,-39.2 25.0,-40.6 25.7,-44.2 26.4,-23.8 27.1,-24.6 27.8,-25.7 28.5,-37.8 29.2,-32.0 29.9,-26.2 30.6,-24.5 31.3,-55.4 32.0,-25.3 32.7,-41.8 33.4,-31.2 34.1,-34.0 34.8,-28.8 35.5,-44.8 36.2,-45.9 36.9,-41.1 37.6,-41.0 38.3,-35.2 39.0,-33.1 39.6,-36.3 40.3,-34.0 41.0,-54.1 41.7,-39.0 42.4,-47.2 43.1,-28.1 43.8,-28.4 44.5,-26.2 45.2,-24.5 45.9,-24.2 46.6,-25.3 47.3,-24.8 48.0,-25.5 48.7,-23.5 49.4,-38.3 50.1,-23.4 50.8,-37.9 51.5,-28.7 52.2,-23.3 52.9,-26.2 53.6,-26.4 54.3,-45.2 55.0,-27.8 55.6,-24.0 56.3,-25.2 57.0,-22.9 57.7,-22.9 58.4,-24.8 59.1,-33.2 59.8,-39.1 60.5,-25.6 61.2,-26.5 61.9,-24.2 62.6,-23.0 63.3,-26.6 64.0,-22.9 64.7,-32.6 65.4,-25.2 66.1,-22.3 66.8,-22.3 67.5,-40.7 68.2,-35.8 68.9,-38.7 69.6,-29.6 70.3,-25.1 71.0,-26.7 71.6,-44.3 72.3,-23.7 73.0,-33.7 73.7,-22.3 74.4,-24.0 75.1,-22.3 75.8,-37.9 75.8,-9.5 71.6,-4.7 67.5,-6.2 63.3,-9.2 59.1,-3.4 55.0,-9.8 50.8,-10.7 46.6,-4.6 42.4,-10.8 38.3,-7.6 34.1,-7.4 29.9,-4.4 25.7,-9.5 21.6,-9.1 17.4,-6.7 13.2,-3.8 9.0,-9.7 4.9,-8.5 0.7,-6.9Z" fill="url(#gc)"/>
<path transform="matrix(1,0.5146,0,1,153.11,368.84)" d="M0,-9.0L0,-32.3 0.7,-31.5 1.4,-22.3 2.1,-33.1 2.8,-30.4 3.5,-37.7 4.2,-24.0 4.9,-22.3 5.6,-41.3 6.3,-35.4 7.0,-33.4 7.7,-28.5 8.3,-22.3 9.0,-36.1 9.7,-25.9 10.4,-22.8 11.1,-30.6 11.8,-24.6 12.5,-22.6 13.2,-42.9 13.9,-28.8 14.6,-41.8 15.3,-52.7 16.0,-22.6 16.7,-23.4 17.4,-22.7 18.1,-24.2 18.8,-22.9 19.5,-22.8 20.2,-28.9 20.9,-23.0 21.6,-23.1 22.3,-33.7 23.0,-23.7 23.7,-55.0 24.3,-29.2 25.0,-45.5 25.7,-23.6 26.4,-28.8 27.1,-49.7 27.8,-31.3 28.5,-37.0 29.2,-30.4 29.9,-26.3 30.6,-46.3 31.3,-26.1 32.0,-27.6 32.7,-28.1 33.4,-43.9 34.1,-28.2 34.8,-29.4 35.5,-35.4 36.2,-36.5 36.9,-38.5 37.6,-35.8 38.3,-41.0 39.0,-46.7 39.6,-32.2 40.3,-32.0 41.0,-29.4 41.7,-30.6 42.4,-28.9 43.1,-36.7 43.8,-27.0 44.5,-27.0 45.2,-31.7 45.9,-24.5 46.6,-24.8 47.3,-28.4 48.0,-48.7 48.7,-23.5 49.4,-23.4 50.1,-25.0 50.8,-23.3 51.5,-23.2 52.2,-25.7 52.9,-24.0 53.6,-23.0 54.3,-54.7 55.0,-53.5 55.6,-34.7 56.3,-25.4 57.0,-23.6 57.7,-24.4 58.4,-40.3 59.1,-22.6 59.8,-24.3 60.5,-41.9 61.2,-38.4 61.9,-24.6 62.6,-52.8 63.3,-26.4 64.0,-25.5 64.7,-29.4 65.4,-38.9 66.1,-27.6 66.8,-32.6 67.5,-23.4 68.2,-34.2 68.9,-42.6 69.6,-22.8 70.3,-25.4 71.0,-25.5 71.6,-22.9 72.3,-29.2 73.0,-22.6 73.7,-24.4 74.4,-23.9 75.1,-22.7 75.8,-30.8 75.8,-7.8 71.6,-9.0 67.5,-6.2 63.3,-8.1 59.1,-9.6 55.0,-6.8 50.8,-5.8 46.6,-5.3 42.4,-9.8 38.3,-6.1 34.1,-6.1 29.9,-5.0 25.7,-5.6 21.6,-6.9 17.4,-5.2 13.2,-7.2 9.0,-7.0 4.9,-6.6 0.7,-10.1Z" fill="url(#gc)"/>
<path transform="matrix(1,0.5146,0,1,150.52,369.59)" d="M0,-5.0L0,-22.6 0.7,-24.0 1.4,-31.7 2.1,-22.7 2.8,-30.5 3.5,-23.0 4.2,-28.1 4.9,-24.3 5.6,-22.2 6.3,-22.2 7.0,-24.2 7.7,-43.7 8.3,-40.2 9.0,-24.7 9.7,-23.1 10.4,-22.3 11.1,-48.3 11.8,-24.8 12.5,-22.3 13.2,-35.8 13.9,-22.9 14.6,-41.0 15.3,-26.8 16.0,-39.1 16.7,-24.9 17.4,-24.9 18.1,-38.7 18.8,-44.1 19.5,-22.8 20.2,-22.8 20.9,-22.9 21.6,-25.5 22.3,-38.5 23.0,-31.2 23.7,-23.6 24.3,-23.2 25.0,-26.9 25.7,-46.8 26.4,-25.2 27.1,-24.5 27.8,-40.7 28.5,-23.8 29.2,-31.2 29.9,-26.8 30.6,-24.8 31.3,-46.4 32.0,-27.0 32.7,-35.8 33.4,-28.2 34.1,-29.6 34.8,-33.4 35.5,-40.8 36.2,-44.5 36.9,-52.1 37.6,-52.2 38.3,-51.3 39.0,-49.3 39.6,-43.9 40.3,-45.0 41.0,-45.9 41.7,-31.9 42.4,-30.7 43.1,-44.9 43.8,-45.4 44.5,-25.5 45.2,-25.5 45.9,-52.0 46.6,-41.5 47.3,-44.5 48.0,-38.9 48.7,-34.0 49.4,-32.8 50.1,-24.7 50.8,-25.6 51.5,-45.5 52.2,-44.0 52.9,-27.2 53.6,-23.0 54.3,-24.5 55.0,-24.9 55.6,-22.8 56.3,-23.4 57.0,-25.2 57.7,-41.1 58.4,-31.8 59.1,-26.1 59.8,-30.2 60.5,-44.3 61.2,-44.7 61.9,-40.3 62.6,-30.8 63.3,-24.9 64.0,-23.3 64.7,-30.4 65.4,-22.3 66.1,-22.3 66.8,-39.4 67.5,-23.5 68.2,-23.1 68.9,-23.0 69.6,-27.6 70.3,-24.2 71.0,-22.9 71.6,-23.3 72.3,-32.6 73.0,-32.1 73.7,-34.7 74.4,-29.9 75.1,-22.2 75.8,-43.5 75.8,-5.4 71.6,-8.0 67.5,-3.6 63.3,-9.2 59.1,-6.8 55.0,-6.4 50.8,-5.9 46.6,-4.6 42.4,-9.1 38.3,-12.1 34.1,-10.3 29.9,-5.5 25.7,-8.1 21.6,-5.7 17.4,-10.7 13.2,-8.0 9.0,-4.3 4.9,-6.5 0.7,-7.9Z" fill="url(#gc)"/>
<path transform="matrix(1,0.5146,0,1,147.93,370.34)" d="M0,-9.7L0,-32.5 0.7,-22.5 1.4,-22.3 2.1,-29.2 2.8,-23.3 3.5,-37.8 4.2,-39.7 4.9,-33.3 5.6,-22.1 6.3,-34.6 7.0,-48.2 7.7,-41.9 8.3,-22.2 9.0,-22.2 9.7,-22.1 10.4,-28.3 11.1,-22.2 11.8,-43.0 12.5,-23.8 13.2,-25.4 13.9,-25.6 14.6,-32.0 15.3,-53.3 16.0,-22.8 16.7,-22.5 17.4,-35.0 18.1,-22.7 18.8,-24.1 19.5,-35.8 20.2,-23.2 20.9,-23.7 21.6,-22.9 22.3,-25.8 23.0,-32.5 23.7,-37.1 24.3,-35.2 25.0,-24.2 25.7,-35.0 26.4,-30.5 27.1,-25.7 27.8,-38.9 28.5,-28.8 29.2,-27.3 29.9,-39.8 30.6,-25.2 31.3,-34.0 32.0,-27.3 32.7,-28.4 33.4,-32.1 34.1,-31.9 34.8,-56.5 35.5,-39.0 36.2,-49.1 36.9,-47.7 37.6,-61.4 38.3,-77.6 39.0,-50.8 39.6,-43.9 40.3,-39.0 41.0,-35.6 41.7,-33.9 42.4,-60.0 43.1,-31.3 43.8,-26.9 44.5,-25.9 45.2,-30.3 45.9,-24.7 46.6,-36.7 47.3,-24.5 48.0,-46.1 48.7,-44.1 49.4,-31.2 50.1,-23.9 50.8,-24.3 51.5,-32.0 52.2,-23.0 52.9,-23.0 53.6,-39.3 54.3,-33.1 55.0,-23.0 55.6,-23.0 56.3,-36.6 57.0,-36.8 57.7,-22.7 58.4,-23.0 59.1,-44.7 59.8,-34.9 60.5,-23.0 61.2,-22.7 61.9,-22.3 62.6,-33.8 63.3,-22.3 64.0,-22.9 64.7,-22.2 65.4,-23.5 66.1,-25.4 66.8,-22.3 67.5,-22.1 68.2,-35.3 68.9,-22.6 69.6,-23.3 70.3,-30.5 71.0,-24.9 71.6,-22.3 72.3,-28.7 73.0,-37.7 73.7,-22.5 74.4,-22.9 75.1,-28.2 75.8,-22.8 75.8,-7.0 71.6,-4.5 67.5,-6.9 63.3,-8.9 59.1,-3.4 55.0,-6.2 50.8,-10.1 46.6,-7.5 42.4,-12.0 38.3,-5.4 34.1,-7.3 29.9,-9.2 25.7,-5.1 21.6,-8.8 17.4,-9.0 13.2,-5.5 9.0,-5.8 4.9,-8.6 0.7,-9.3Z" fill="url(#gc)"/>
<path transform="matrix(1,0.5146,0,1,145.33,371.09)" d="M0,-5.2L0,-28.6 0.7,-22.1 1.4,-23.9 2.1,-22.1 2.8,-24.9 3.5,-24.1 4.2,-23.1 4.9,-37.9 5.6,-26.1 6.3,-43.5 7.0,-26.1 7.7,-47.3 8.3,-24.0 9.0,-37.7 9.7,-37.8 10.4,-25.1 11.1,-22.1 11.8,-23.2 12.5,-29.2 13.2,-26.7 13.9,-27.0 14.6,-51.2 15.3,-32.5 16.0,-28.6 16.7,-22.8 17.4,-35.0 18.1,-22.6 18.8,-22.7 19.5,-26.2 20.2,-22.9 20.9,-25.3 21.6,-26.0 22.3,-23.2 23.0,-30.1 23.7,-33.1 24.3,-35.4 25.0,-23.7 25.7,-29.0 26.4,-30.8 27.1,-23.7 27.8,-29.5 28.5,-34.6 29.2,-26.1 29.9,-28.8 30.6,-44.2 31.3,-28.2 32.0,-49.3 32.7,-49.6 33.4,-43.8 34.1,-37.5 34.8,-39.4 35.5,-46.1 36.2,-41.6 36.9,-49.4 37.6,-52.0 38.3,-62.5 39.0,-55.8 39.6,-43.0 40.3,-48.1 41.0,-54.6 41.7,-49.6 42.4,-31.0 43.1,-28.4 43.8,-45.6 44.5,-28.8 45.2,-25.2 45.9,-24.7 46.6,-24.3 47.3,-24.1 48.0,-23.7 48.7,-44.5 49.4,-23.4 50.1,-32.3 50.8,-27.9 51.5,-23.2 52.2,-28.0 52.9,-43.3 53.6,-35.8 54.3,-22.9 55.0,-28.8 55.6,-37.7 56.3,-25.2 57.0,-34.4 57.7,-25.3 58.4,-45.0 59.1,-22.8 59.8,-25.0 60.5,-26.6 61.2,-25.3 61.9,-25.0 62.6,-48.0 63.3,-23.2 64.0,-29.7 64.7,-22.1 65.4,-40.6 66.1,-22.4 66.8,-22.1 67.5,-22.1 68.2,-22.1 68.9,-22.1 69.6,-22.2 70.3,-31.7 71.0,-34.1 71.6,-22.7 72.3,-22.3 73.0,-24.9 73.7,-22.7 74.4,-22.8 75.1,-23.2 75.8,-25.5 75.8,-8.7 71.6,-5.5 67.5,-4.1 63.3,-5.0 59.1,-5.3 55.0,-9.5 50.8,-9.4 46.6,-8.3 42.4,-9.8 38.3,-5.4 34.1,-4.8 29.9,-4.2 25.7,-5.4 21.6,-9.3 17.4,-4.9 13.2,-6.8 9.0,-3.9 4.9,-4.9 0.7,-4.1Z" fill="url(#gc)"/>
<path transform="matrix(1,0.5146,0,1,142.74,371.84)" d="M0,-10.1L0,-26.6 0.7,-22.4 1.4,-24.6 2.1,-24.6 2.8,-26.5 3.5,-41.3 4.2,-22.1 4.9,-22.2 5.6,-35.0 6.3,-23.0 7.0,-30.6 7.7,-22.2 8.3,-27.5 9.0,-22.5 9.7,-22.0 10.4,-27.6 11.1,-42.8 11.8,-29.1 12.5,-32.5 13.2,-29.6 13.9,-25.9 14.6,-26.5 15.3,-31.5 16.0,-23.9 16.7,-36.9 17.4,-26.0 18.1,-31.7 18.8,-22.9 19.5,-22.8 20.2,-23.3 20.9,-36.1 21.6,-38.4 22.3,-22.9 23.0,-28.1 23.7,-27.5 24.3,-23.9 25.0,-24.0 25.7,-25.6 26.4,-31.6 27.1,-38.3 27.8,-39.8 28.5,-41.0 29.2,-24.5 29.9,-27.8 30.6,-37.5 31.3,-27.4 32.0,-35.2 32.7,-28.6 33.4,-30.9 34.1,-32.7 34.8,-47.4 35.5,-51.6 36.2,-57.5 36.9,-62.9 37.6,-68.8 38.3,-66.7 39.0,-59.8 39.6,-52.8 40.3,-40.9 41.0,-53.3 41.7,-33.1 42.4,-33.9 43.1,-34.9 43.8,-27.2 44.5,-48.4 45.2,-36.5 45.9,-31.5 46.6,-24.3 47.3,-46.7 48.0,-35.0 48.7,-23.5 49.4,-32.1 50.1,-30.6 50.8,-27.1 51.5,-23.0 52.2,-23.0 52.9,-23.3 53.6,-24.4 54.3,-22.8 55.0,-22.7 55.6,-23.5 56.3,-22.6 57.0,-28.6 57.7,-31.4 58.4,-29.2 59.1,-39.5 59.8,-30.3 60.5,-23.1 61.2,-22.3 61.9,-22.3 62.6,-22.2 63.3,-22.2 64.0,-22.5 64.7,-23.5 65.4,-24.8 66.1,-22.3 66.8,-22.6 67.5,-22.1 68.2,-22.6 68.9,-24.8 69.6,-37.8 70.3,-27.9 71.0,-22.1 71.6,-39.4 72.3,-24.4 73.0,-28.9 73.7,-22.0 74.4,-30.3 75.1,-36.0 75.8,-23.3 75.8,-6.1 71.6,-4.9 67.5,-8.5 63.3,-10.3 59.1,-6.6 55.0,-6.8 50.8,-5.7 46.6,-9.2 42.4,-8.6 38.3,-8.6 34.1,-5.3 29.9,-10.0 25.7,-4.0 21.6,-4.0 17.4,-5.2 13.2,-4.0 9.0,-7.4 4.9,-5.9 0.7,-7.5Z" fill="url(#gc)"/>
<path transform="matrix(1,0.5146,0,1,140.15,372.58)" d="M0,-9.5L0,-22.1 0.7,-26.4 1.4,-22.2 2.1,-25.6 2.8,-26.2 3.5,-34.3 4.2,-29.5 4.9,-25.3 5.6,-41.3 6.3,-37.6 7.0,-22.1 7.7,-25.0 8.3,-25.2 9.0,-24.2 9.7,-38.1 10.4,-22.7 11.1,-22.1 11.8,-22.3 12.5,-22.6 13.2,-25.0 13.9,-42.4 14.6,-23.8 15.3,-40.3 16.0,-23.3 16.7,-22.4 17.4,-26.5 18.1,-33.5 18.8,-23.5 19.5,-25.3 20.2,-25.1 20.9,-30.9 21.6,-39.0 22.3,-36.2 23.0,-35.3 23.7,-23.8 24.3,-43.0 25.0,-26.8 25.7,-23.3 26.4,-24.0 27.1,-30.0 27.8,-41.1 28.5,-31.0 29.2,-31.5 29.9,-42.3 30.6,-46.3 31.3,-43.3 32.0,-46.5 32.7,-49.2 33.4,-30.8 34.1,-33.0 34.8,-36.5 35.5,-60.3 36.2,-62.0 36.9,-61.2 37.6,-53.3 38.3,-72.2 39.0,-69.1 39.6,-55.0 40.3,-59.8 41.0,-36.7 41.7,-34.3 42.4,-33.5 43.1,-29.0 43.8,-36.6 44.5,-34.3 45.2,-25.4 45.9,-26.5 46.6,-45.4 47.3,-28.5 48.0,-39.3 48.7,-43.7 49.4,-23.3 50.1,-45.7 50.8,-27.6 51.5,-23.1 52.2,-33.1 52.9,-25.5 53.6,-24.0 54.3,-38.8 55.0,-34.2 55.6,-35.4 56.3,-22.6 57.0,-26.2 57.7,-22.5 58.4,-24.8 59.1,-28.2 59.8,-23.3 60.5,-22.3 61.2,-22.3 61.9,-38.8 62.6,-34.2 63.3,-41.3 64.0,-42.6 64.7,-33.5 65.4,-23.6 66.1,-42.8 66.8,-32.2 67.5,-36.1 68.2,-35.6 68.9,-22.0 69.6,-24.0 70.3,-24.2 71.0,-22.5 71.6,-22.1 72.3,-35.4 73.0,-22.8 73.7,-22.0 74.4,-23.3 75.1,-24.4 75.8,-22.0 75.8,-9.8 71.6,-7.7 67.5,-5.0 63.3,-5.6 59.1,-4.8 55.0,-4.3 50.8,-11.1 46.6,-9.9 42.4,-5.3 38.3,-6.2 34.1,-11.5 29.9,-8.8 25.7,-7.6 21.6,-8.7 17.4,-4.6 13.2,-8.0 9.0,-6.0 4.9,-7.0 0.7,-4.0Z" fill="url(#gc)"/>
<path transform="matrix(1,0.5146,0,1,137.56,373.33)" d="M0,-9.0L0,-58.7 0.7,-22.0 1.4,-36.6 2.1,-25.0 2.8,-40.9 3.5,-38.6 4.2,-23.0 4.9,-22.5 5.6,-22.7 6.3,-23.0 7.0,-32.8 7.7,-22.3 8.3,-22.1 9.0,-38.3 9.7,-29.1 10.4,-22.1 11.1,-22.7 11.8,-25.3 12.5,-30.0 13.2,-22.1 13.9,-42.3 14.6,-38.0 15.3,-27.9 16.0,-22.3 16.7,-24.4 17.4,-38.5 18.1,-22.5 18.8,-23.1 19.5,-30.4 20.2,-22.6 20.9,-39.9 21.6,-24.5 22.3,-28.1 23.0,-38.3 23.7,-40.0 24.3,-32.5 25.0,-24.4 25.7,-41.0 26.4,-37.7 27.1,-23.5 27.8,-23.7 28.5,-33.7 29.2,-41.2 29.9,-28.2 30.6,-33.1 31.3,-26.4 32.0,-41.4 32.7,-36.5 33.4,-63.4 34.1,-33.6 34.8,-36.9 35.5,-45.5 36.2,-45.0 36.9,-51.5 37.6,-62.9 38.3,-55.2 39.0,-56.7 39.6,-66.8 40.3,-44.5 41.0,-46.0 41.7,-37.0 42.4,-32.9 43.1,-30.5 43.8,-51.4 44.5,-30.6 45.2,-30.9 45.9,-25.3 46.6,-33.9 47.3,-26.2 48.0,-24.7 48.7,-23.5 49.4,-36.7 50.1,-45.1 50.8,-24.6 51.5,-30.4 52.2,-23.0 52.9,-22.8 53.6,-23.2 54.3,-22.9 55.0,-40.1 55.6,-42.6 56.3,-22.7 57.0,-22.5 57.7,-22.5 58.4,-30.8 59.1,-23.8 59.8,-25.2 60.5,-35.8 61.2,-41.4 61.9,-22.9 62.6,-29.2 63.3,-38.0 64.0,-23.8 64.7,-35.2 65.4,-22.2 66.1,-22.3 66.8,-41.9 67.5,-23.2 68.2,-24.7 68.9,-22.7 69.6,-23.6 70.3,-39.8 71.0,-22.1 71.6,-42.8 72.3,-38.0 73.0,-22.2 73.7,-31.4 74.4,-37.5 75.1,-37.9 75.8,-40.0 75.8,-9.7 71.6,-10.5 67.5,-10.5 63.3,-8.0 59.1,-7.7 55.0,-9.7 50.8,-5.6 46.6,-5.3 42.4,-8.6 38.3,-6.2 34.1,-10.8 29.9,-9.9 25.7,-5.6 21.6,-7.3 17.4,-4.9 13.2,-5.4 9.0,-8.6 4.9,-6.7 0.7,-6.3Z" fill="url(#gc)"/>
<path transform="matrix(1,0.5146,0,1,134.97,374.08)" d="M0,-7.5L0,-30.6 0.7,-21.9 1.4,-32.2 2.1,-23.5 2.8,-31.8 3.5,-28.9 4.2,-21.9 4.9,-23.0 5.6,-25.0 6.3,-22.0 7.0,-21.9 7.7,-22.1 8.3,-22.2 9.0,-31.2 9.7,-22.4 10.4,-28.0 11.1,-43.3 11.8,-23.1 12.5,-28.1 13.2,-33.3 13.9,-42.0 14.6,-25.0 15.3,-25.9 16.0,-38.4 16.7,-22.9 17.4,-31.7 18.1,-25.8 18.8,-25.1 19.5,-24.9 20.2,-30.8 20.9,-23.8 21.6,-23.5 22.3,-38.1 23.0,-30.0 23.7,-29.7 24.3,-25.4 25.0,-23.0 25.7,-34.2 26.4,-24.8 27.1,-26.3 27.8,-23.6 28.5,-47.5 29.2,-26.7 29.9,-25.0 30.6,-28.6 31.3,-26.5 32.0,-27.8 32.7,-53.4 33.4,-32.4 34.1,-36.0 34.8,-48.0 35.5,-45.1 36.2,-48.3 36.9,-74.1 37.6,-58.3 38.3,-75.5 39.0,-58.6 39.6,-50.3 40.3,-42.7 41.0,-43.6 41.7,-34.2 42.4,-54.1 43.1,-34.9 43.8,-39.2 44.5,-26.5 45.2,-41.4 45.9,-45.9 46.6,-28.4 47.3,-31.3 48.0,-23.9 48.7,-27.6 49.4,-33.9 50.1,-43.2 50.8,-36.3 51.5,-23.5 52.2,-47.6 52.9,-49.0 53.6,-26.1 54.3,-25.0 55.0,-30.6 55.6,-29.5 56.3,-31.8 57.0,-33.9 57.7,-36.0 58.4,-24.7 59.1,-23.3 59.8,-47.6 60.5,-35.4 61.2,-33.5 61.9,-32.5 62.6,-22.1 63.3,-22.6 64.0,-22.0 64.7,-27.4 65.4,-33.8 66.1,-24.5 66.8,-30.5 67.5,-23.4 68.2,-42.4 68.9,-25.2 69.6,-23.8 70.3,-32.5 71.0,-37.5 71.6,-35.8 72.3,-24.2 73.0,-37.0 73.7,-30.6 74.4,-36.9 75.1,-40.9 75.8,-32.9 75.8,-9.9 71.6,-3.8 67.5,-6.4 63.3,-4.2 59.1,-3.4 55.0,-9.9 50.8,-10.7 46.6,-10.2 42.4,-9.6 38.3,-17.4 34.1,-12.4 29.9,-5.8 25.7,-6.5 21.6,-7.6 17.4,-4.8 13.2,-6.8 9.0,-9.3 4.9,-10.3 0.7,-7.6Z" fill="url(#gc)"/>
<path transform="matrix(1,0.5146,0,1,132.38,374.83)" d="M0,-6.7L0,-33.3 0.7,-32.6 1.4,-34.6 2.1,-29.8 2.8,-22.3 3.5,-34.2 4.2,-21.9 4.9,-30.1 5.6,-43.5 6.3,-29.2 7.0,-31.6 7.7,-37.6 8.3,-21.9 9.0,-43.1 9.7,-21.9 10.4,-32.0 11.1,-22.0 11.8,-23.0 12.5,-39.2 13.2,-25.1 13.9,-33.8 14.6,-26.0 15.3,-23.6 16.0,-30.0 16.7,-22.4 17.4,-36.9 18.1,-22.4 18.8,-22.4 19.5,-35.4 20.2,-23.2 20.9,-24.4 21.6,-22.6 22.3,-22.7 23.0,-31.4 23.7,-30.6 24.3,-23.0 25.0,-29.5 25.7,-42.1 26.4,-24.2 27.1,-23.5 27.8,-25.3 28.5,-24.0 29.2,-24.9 29.9,-29.3 30.6,-31.3 31.3,-50.3 32.0,-31.2 32.7,-42.3 33.4,-63.6 34.1,-63.5 34.8,-41.3 35.5,-43.7 36.2,-56.1 36.9,-59.1 37.6,-75.8 38.3,-69.4 39.0,-88.0 39.6,-47.3 40.3,-47.0 41.0,-53.7 41.7,-38.0 42.4,-47.5 43.1,-35.2 43.8,-30.3 44.5,-31.0 45.2,-28.9 45.9,-33.7 46.6,-49.3 47.3,-36.4 48.0,-23.6 48.7,-23.4 49.4,-41.3 50.1,-26.9 50.8,-23.2 51.5,-26.6 52.2,-43.0 52.9,-23.3 53.6,-23.4 54.3,-28.1 55.0,-22.6 55.6,-22.6 56.3,-23.1 57.0,-22.8 57.7,-23.3 58.4,-22.4 59.1,-22.3 59.8,-23.3 60.5,-23.2 61.2,-23.4 61.9,-38.5 62.6,-26.6 63.3,-35.9 64.0,-26.5 64.7,-37.0 65.4,-24.5 66.1,-22.0 66.8,-22.2 67.5,-38.8 68.2,-21.9 68.9,-24.7 69.6,-43.7 70.3,-21.9 71.0,-21.9 71.6,-36.8 72.3,-25.1 73.0,-23.9 73.7,-37.3 74.4,-38.4 75.1,-22.2 75.8,-24.3 75.8,-5.8 71.6,-5.2 67.5,-6.5 63.3,-9.5 59.1,-6.2 55.0,-4.4 50.8,-7.1 46.6,-10.6 42.4,-11.1 38.3,-9.2 34.1,-4.4 29.9,-8.1 25.7,-7.6 21.6,-4.9 17.4,-8.0 13.2,-4.3 9.0,-9.6 4.9,-9.5 0.7,-4.8Z" fill="url(#gc)"/>
<path transform="matrix(1,0.5146,0,1,129.79,375.58)" d="M0,-6.1L0,-39.9 0.7,-22.7 1.4,-24.3 2.1,-31.3 2.8,-23.0 3.5,-21.9 4.2,-21.8 4.9,-33.7 5.6,-24.7 6.3,-24.6 7.0,-23.2 7.7,-24.6 8.3,-31.3 9.0,-27.6 9.7,-28.4 10.4,-22.7 11.1,-24.1 11.8,-36.8 12.5,-30.9 13.2,-22.0 13.9,-22.3 14.6,-43.5 15.3,-23.2 16.0,-30.6 16.7,-35.9 17.4,-29.1 18.1,-39.1 18.8,-31.0 19.5,-22.5 20.2,-22.5 20.9,-29.6 21.6,-25.5 22.3,-22.7 23.0,-40.2 23.7,-39.1 24.3,-35.8 25.0,-32.2 25.7,-51.4 26.4,-23.2 27.1,-24.9 27.8,-25.5 28.5,-24.9 29.2,-25.7 29.9,-27.8 30.6,-27.9 31.3,-26.4 32.0,-44.3 32.7,-32.5 33.4,-46.8 34.1,-39.0 34.8,-39.7 35.5,-41.5 36.2,-63.0 36.9,-51.6 37.6,-65.9 38.3,-78.1 39.0,-51.4 39.6,-57.9 40.3,-60.6 41.0,-58.6 41.7,-34.5 42.4,-36.2 43.1,-48.3 43.8,-27.6 44.5,-48.5 45.2,-46.1 45.9,-25.8 46.6,-24.4 47.3,-29.2 48.0,-25.6 48.7,-23.4 49.4,-25.1 50.1,-26.6 50.8,-33.0 51.5,-28.4 52.2,-22.8 52.9,-24.8 53.6,-34.2 54.3,-24.0 55.0,-29.4 55.6,-35.2 56.3,-23.3 57.0,-28.9 57.7,-35.7 58.4,-32.2 59.1,-31.6 59.8,-28.4 60.5,-32.1 61.2,-23.2 61.9,-34.4 62.6,-22.8 63.3,-24.9 64.0,-22.6 64.7,-21.8 65.4,-28.9 66.1,-21.9 66.8,-39.1 67.5,-22.8 68.2,-36.5 68.9,-30.1 69.6,-25.7 70.3,-23.1 71.0,-22.2 71.6,-24.3 72.3,-32.6 73.0,-27.1 73.7,-25.5 74.4,-29.6 75.1,-22.3 75.8,-30.6 75.8,-9.9 71.6,-7.2 67.5,-7.1 63.3,-5.2 59.1,-10.1 55.0,-6.7 50.8,-4.2 46.6,-3.6 42.4,-4.4 38.3,-17.5 34.1,-7.3 29.9,-7.7 25.7,-6.7 21.6,-4.3 17.4,-4.3 13.2,-4.6 9.0,-7.6 4.9,-9.2 0.7,-5.5Z" fill="url(#gc)"/>
<path transform="matrix(1,0.5146,0,1,127.20,376.33)" d="M0,-4.8L0,-28.5 0.7,-22.0 1.4,-21.8 2.1,-34.5 2.8,-38.9 3.5,-39.7 4.2,-29.7 4.9,-22.9 5.6,-37.5 6.3,-22.7 7.0,-22.1 7.7,-38.0 8.3,-22.6 9.0,-43.5 9.7,-22.4 10.4,-22.4 11.1,-34.1 11.8,-22.3 12.5,-27.0 13.2,-22.1 13.9,-34.2 14.6,-30.9 15.3,-39.6 16.0,-32.9 16.7,-22.2 17.4,-22.5 18.1,-22.3 18.8,-36.7 19.5,-22.4 20.2,-23.3 20.9,-40.2 21.6,-22.9 22.3,-22.6 23.0,-22.7 23.7,-29.7 24.3,-42.8 25.0,-38.0 25.7,-41.0 26.4,-41.2 27.1,-36.5 27.8,-27.8 28.5,-35.2 29.2,-29.8 29.9,-25.6 30.6,-25.4 31.3,-26.3 32.0,-27.7 32.7,-34.4 33.4,-34.8 34.1,-42.8 34.8,-40.7 35.5,-43.9 36.2,-46.2 36.9,-70.6 37.6,-63.2 38.3,-76.6 39.0,-71.8 39.6,-46.4 40.3,-56.3 41.0,-42.1 41.7,-34.1 42.4,-50.3 43.1,-44.2 43.8,-49.5 44.5,-34.0 45.2,-25.4 45.9,-47.6 46.6,-24.2 47.3,-24.0 48.0,-32.8 48.7,-31.7 49.4,-23.4 50.1,-28.0 50.8,-23.4 51.5,-26.0 52.2,-26.2 52.9,-22.9 53.6,-32.5 54.3,-22.8 55.0,-35.0 55.6,-23.4 56.3,-22.6 57.0,-25.6 57.7,-46.0 58.4,-37.4 59.1,-36.3 59.8,-22.2 60.5,-22.1 61.2,-25.5 61.9,-23.3 62.6,-25.1 63.3,-23.5 64.0,-43.2 64.7,-21.8 65.4,-32.2 66.1,-28.4 66.8,-42.1 67.5,-28.0 68.2,-51.3 68.9,-28.8 69.6,-21.8 70.3,-21.8 71.0,-21.9 71.6,-35.4 72.3,-21.9 73.0,-22.3 73.7,-21.8 74.4,-28.8 75.1,-37.9 75.8,-22.1 75.8,-10.2 71.6,-5.3 67.5,-7.0 63.3,-10.1 59.1,-9.6 55.0,-7.0 50.8,-4.7 46.6,-7.8 42.4,-4.3 38.3,-8.5 34.1,-10.7 29.9,-7.7 25.7,-8.3 21.6,-3.9 17.4,-7.9 13.2,-8.9 9.0,-7.2 4.9,-5.9 0.7,-5.3Z" fill="url(#gc)"/>
<path transform="matrix(1,0.5146,0,1,124.61,377.08)" d="M0,-4.0L0,-24.3 0.7,-22.8 1.4,-42.4 2.1,-21.8 2.8,-43.2 3.5,-22.1 4.2,-21.9 4.9,-21.8 5.6,-22.0 6.3,-26.9 7.0,-22.6 7.7,-22.3 8.3,-38.5 9.0,-40.8 9.7,-23.8 10.4,-25.6 11.1,-43.5 11.8,-22.5 12.5,-36.0 13.2,-40.4 13.9,-21.9 14.6,-24.6 15.3,-49.7 16.0,-22.4 16.7,-22.2 17.4,-22.2 18.1,-22.5 18.8,-23.3 19.5,-24.4 20.2,-22.4 20.9,-30.2 21.6,-25.7 22.3,-27.9 23.0,-40.1 23.7,-24.0 24.3,-22.9 25.0,-23.3 25.7,-37.8 26.4,-23.1 27.1,-26.3 27.8,-23.6 28.5,-27.7 29.2,-32.5 29.9,-57.4 30.6,-25.4 31.3,-36.6 32.0,-27.7 32.7,-29.7 33.4,-38.2 34.1,-52.3 34.8,-38.0 35.5,-41.5 36.2,-62.7 36.9,-55.0 37.6,-60.8 38.3,-62.6 39.0,-59.2 39.6,-65.5 40.3,-42.2 41.0,-48.0 41.7,-36.5 42.4,-32.3 43.1,-29.2 43.8,-27.8 44.5,-27.4 45.2,-32.7 45.9,-29.7 46.6,-46.7 47.3,-23.8 48.0,-24.6 48.7,-24.4 49.4,-43.3 50.1,-28.5 50.8,-23.3 51.5,-23.0 52.2,-40.9 52.9,-22.8 53.6,-22.6 54.3,-28.5 55.0,-24.9 55.6,-22.4 56.3,-22.7 57.0,-23.3 57.7,-42.3 58.4,-42.8 59.1,-23.8 59.8,-22.4 60.5,-23.1 61.2,-22.1 61.9,-22.0 62.6,-39.7 63.3,-36.0 64.0,-37.1 64.7,-31.8 65.4,-22.7 66.1,-22.4 66.8,-23.5 67.5,-29.5 68.2,-22.3 68.9,-22.6 69.6,-22.0 70.3,-24.3 71.0,-22.6 71.6,-35.8 72.3,-29.1 73.0,-36.7 73.7,-22.5 74.4,-27.2 75.1,-29.8 75.8,-50.0 75.8,-6.0 71.6,-9.7 67.5,-7.4 63.3,-3.5 59.1,-5.7 55.0,-5.0 50.8,-3.9 46.6,-8.0 42.4,-5.4 38.3,-14.7 34.1,-14.1 29.9,-10.2 25.7,-8.1 21.6,-7.6 17.4,-4.3 13.2,-10.2 9.0,-3.8 4.9,-7.2 0.7,-5.7Z" fill="url(#gc)"/>
<path transform="matrix(1,0.5146,0,1,122.01,377.83)" d="M0,-10.4L0,-39.2 0.7,-45.2 1.4,-23.6 2.1,-29.2 2.8,-21.9 3.5,-21.7 4.2,-22.4 4.9,-39.3 5.6,-29.6 6.3,-35.9 7.0,-21.7 7.7,-21.7 8.3,-21.7 9.0,-34.7 9.7,-25.9 10.4,-28.3 11.1,-38.7 11.8,-24.4 12.5,-27.0 13.2,-40.4 13.9,-21.9 14.6,-22.3 15.3,-24.1 16.0,-44.0 16.7,-31.9 17.4,-23.2 18.1,-26.5 18.8,-27.7 19.5,-23.9 20.2,-23.4 20.9,-30.8 21.6,-23.9 22.3,-28.8 23.0,-44.1 23.7,-24.2 24.3,-22.8 25.0,-45.9 25.7,-23.7 26.4,-32.6 27.1,-39.7 27.8,-26.0 28.5,-23.7 29.2,-34.3 29.9,-32.6 30.6,-32.4 31.3,-28.9 32.0,-34.6 32.7,-30.8 33.4,-40.8 34.1,-50.5 34.8,-48.6 35.5,-56.5 36.2,-50.5 36.9,-60.4 37.6,-59.1 38.3,-56.4 39.0,-56.0 39.6,-66.3 40.3,-41.8 41.0,-53.8 41.7,-34.1 42.4,-32.4 43.1,-36.2 43.8,-38.2 44.5,-40.1 45.2,-25.4 45.9,-24.8 46.6,-27.4 47.3,-28.7 48.0,-33.8 48.7,-52.1 49.4,-30.9 50.1,-31.6 50.8,-24.3 51.5,-26.4 52.2,-24.5 52.9,-36.3 53.6,-24.9 54.3,-43.3 55.0,-24.1 55.6,-31.2 56.3,-31.2 57.0,-24.5 57.7,-27.9 58.4,-30.9 59.1,-23.6 59.8,-23.1 60.5,-23.1 61.2,-26.2 61.9,-24.6 62.6,-27.1 63.3,-26.0 64.0,-26.4 64.7,-21.9 65.4,-22.2 66.1,-27.7 66.8,-23.9 67.5,-27.3 68.2,-23.5 68.9,-21.7 69.6,-28.8 70.3,-32.5 71.0,-28.9 71.6,-32.5 72.3,-28.2 73.0,-22.6 73.7,-24.0 74.4,-22.1 75.1,-21.7 75.8,-40.9 75.8,-6.2 71.6,-7.6 67.5,-10.1 63.3,-5.7 59.1,-4.3 55.0,-5.6 50.8,-10.7 46.6,-7.8 42.4,-10.7 38.3,-7.5 34.1,-6.2 29.9,-10.9 25.7,-6.6 21.6,-8.4 17.4,-7.8 13.2,-3.2 9.0,-7.6 4.9,-9.2 0.7,-6.8Z" fill="url(#gc)"/>
<path transform="matrix(1,0.5146,0,1,119.42,378.58)" d="M0,-7.9L0,-21.9 0.7,-22.9 1.4,-42.9 2.1,-26.3 2.8,-24.1 3.5,-43.6 4.2,-34.4 4.9,-21.9 5.6,-21.9 6.3,-23.0 7.0,-21.7 7.7,-26.3 8.3,-21.7 9.0,-33.8 9.7,-22.3 10.4,-22.0 11.1,-21.8 11.8,-25.8 12.5,-21.8 13.2,-21.9 13.9,-24.8 14.6,-21.9 15.3,-24.8 16.0,-26.3 16.7,-32.6 17.4,-23.3 18.1,-22.2 18.8,-23.8 19.5,-24.5 20.2,-37.6 20.9,-23.6 21.6,-23.2 22.3,-22.6 23.0,-22.7 23.7,-22.8 24.3,-35.1 25.0,-32.4 25.7,-31.7 26.4,-31.1 27.1,-26.8 27.8,-26.5 28.5,-30.0 29.2,-30.2 29.9,-32.7 30.6,-48.6 31.3,-35.8 32.0,-34.6 32.7,-37.4 33.4,-33.4 34.1,-36.8 34.8,-50.8 35.5,-43.1 36.2,-56.2 36.9,-68.1 37.6,-78.1 38.3,-72.2 39.0,-52.1 39.6,-65.0 40.3,-57.4 41.0,-38.4 41.7,-34.1 42.4,-33.1 43.1,-30.2 43.8,-30.3 44.5,-36.6 45.2,-25.9 45.9,-24.9 46.6,-24.1 47.3,-47.5 48.0,-33.9 48.7,-31.6 49.4,-38.5 50.1,-23.2 50.8,-36.0 51.5,-23.1 52.2,-22.6 52.9,-23.3 53.6,-32.5 54.3,-22.9 55.0,-31.4 55.6,-41.0 56.3,-37.1 57.0,-27.7 57.7,-23.0 58.4,-25.3 59.1,-23.8 59.8,-38.0 60.5,-22.1 61.2,-41.7 61.9,-23.3 62.6,-21.8 63.3,-32.1 64.0,-36.8 64.7,-23.0 65.4,-22.8 66.1,-39.2 66.8,-25.7 67.5,-36.5 68.2,-32.0 68.9,-34.1 69.6,-21.9 70.3,-21.7 71.0,-33.3 71.6,-22.1 72.3,-27.5 73.0,-28.9 73.7,-42.2 74.4,-39.8 75.1,-21.8 75.8,-27.0 75.8,-6.1 71.6,-6.1 67.5,-3.4 63.3,-7.7 59.1,-6.2 55.0,-8.9 50.8,-5.7 46.6,-7.4 42.4,-13.1 38.3,-15.1 34.1,-9.5 29.9,-7.7 25.7,-4.5 21.6,-7.0 17.4,-8.3 13.2,-5.4 9.0,-4.0 4.9,-3.7 0.7,-10.4Z" fill="url(#gc)"/>
<path transform="matrix(1,0.5146,0,1,116.83,379.32)" d="M0,-9.3L0,-21.7 0.7,-25.6 1.4,-21.7 2.1,-50.9 2.8,-28.2 3.5,-39.3 4.2,-21.7 4.9,-22.0 5.6,-26.2 6.3,-21.7 7.0,-26.1 7.7,-23.1 8.3,-31.7 9.0,-38.2 9.7,-21.6 10.4,-22.6 11.1,-25.6 11.8,-23.6 12.5,-26.7 13.2,-21.8 13.9,-36.5 14.6,-41.8 15.3,-22.0 16.0,-24.8 16.7,-27.4 17.4,-24.5 18.1,-28.1 18.8,-22.2 19.5,-32.2 20.2,-25.1 20.9,-23.6 21.6,-52.4 22.3,-29.3 23.0,-22.5 23.7,-43.3 24.3,-22.8 25.0,-22.8 25.7,-34.4 26.4,-22.9 27.1,-27.4 27.8,-45.3 28.5,-23.8 29.2,-45.9 29.9,-28.4 30.6,-31.0 31.3,-41.3 32.0,-40.8 32.7,-47.5 33.4,-31.2 34.1,-34.2 34.8,-44.0 35.5,-53.9 36.2,-67.7 36.9,-88.0 37.6,-61.3 38.3,-71.2 39.0,-58.9 39.6,-48.3 40.3,-41.6 41.0,-49.9 41.7,-34.0 42.4,-32.6 43.1,-31.3 43.8,-57.9 44.5,-35.4 45.2,-25.8 45.9,-25.9 46.6,-36.4 47.3,-42.5 48.0,-24.3 48.7,-23.2 49.4,-24.2 50.1,-25.3 50.8,-38.9 51.5,-31.8 52.2,-22.6 52.9,-22.8 53.6,-22.4 54.3,-43.7 55.0,-22.3 55.6,-22.3 56.3,-26.6 57.0,-34.1 57.7,-44.9 58.4,-22.1 59.1,-35.0 59.8,-22.8 60.5,-23.0 61.2,-39.8 61.9,-30.8 62.6,-25.3 63.3,-35.8 64.0,-29.1 64.7,-21.8 65.4,-27.0 66.1,-32.6 66.8,-24.3 67.5,-21.7 68.2,-25.7 68.9,-22.8 69.6,-21.7 70.3,-37.0 71.0,-36.4 71.6,-21.7 72.3,-21.7 73.0,-28.3 73.7,-29.1 74.4,-21.7 75.1,-35.8 75.8,-31.2 75.8,-4.8 71.6,-7.4 67.5,-3.3 63.3,-7.3 59.1,-3.5 55.0,-5.9 50.8,-3.3 46.6,-5.7 42.4,-12.4 38.3,-16.4 34.1,-7.3 29.9,-5.7 25.7,-5.9 21.6,-7.5 17.4,-8.3 13.2,-3.7 9.0,-6.6 4.9,-7.9 0.7,-9.5Z" fill="url(#gc)"/>
<path transform="matrix(1,0.5146,0,1,114.24,380.07)" d="M0,-8.8L0,-26.2 0.7,-21.6 1.4,-37.9 2.1,-22.5 2.8,-25.1 3.5,-49.4 4.2,-38.7 4.9,-23.5 5.6,-23.5 6.3,-21.7 7.0,-21.7 7.7,-24.5 8.3,-47.2 9.0,-23.1 9.7,-21.6 10.4,-25.4 11.1,-33.8 11.8,-30.8 12.5,-49.3 13.2,-25.0 13.9,-21.8 14.6,-24.1 15.3,-24.0 16.0,-32.7 16.7,-28.3 17.4,-33.4 18.1,-22.1 18.8,-22.3 19.5,-24.6 20.2,-22.8 20.9,-25.4 21.6,-31.4 22.3,-28.7 23.0,-23.0 23.7,-23.1 24.3,-22.6 25.0,-22.8 25.7,-32.3 26.4,-24.9 27.1,-38.3 27.8,-23.3 28.5,-23.6 29.2,-33.7 29.9,-30.3 30.6,-25.2 31.3,-26.8 32.0,-37.3 32.7,-30.2 33.4,-51.4 34.1,-39.8 34.8,-37.5 35.5,-48.3 36.2,-46.6 36.9,-52.1 37.6,-63.3 38.3,-61.0 39.0,-51.7 39.6,-49.6 40.3,-48.9 41.0,-38.7 41.7,-33.9 42.4,-37.3 43.1,-37.3 43.8,-35.3 44.5,-26.6 45.2,-50.0 45.9,-30.3 46.6,-24.6 47.3,-24.4 48.0,-23.3 48.7,-34.8 49.4,-47.8 50.1,-29.4 50.8,-23.0 51.5,-27.1 52.2,-22.8 52.9,-25.6 53.6,-33.9 54.3,-38.8 55.0,-29.2 55.6,-26.4 56.3,-23.2 57.0,-40.0 57.7,-25.1 58.4,-22.3 59.1,-22.0 59.8,-25.8 60.5,-29.9 61.2,-41.9 61.9,-23.9 62.6,-31.0 63.3,-22.1 64.0,-30.2 64.7,-22.3 65.4,-26.0 66.1,-29.9 66.8,-26.1 67.5,-29.6 68.2,-21.7 68.9,-21.7 69.6,-23.1 70.3,-21.8 71.0,-36.6 71.6,-21.7 72.3,-21.9 73.0,-22.7 73.7,-22.8 74.4,-47.5 75.1,-31.8 75.8,-27.4 75.8,-9.8 71.6,-5.7 67.5,-4.1 63.3,-7.6 59.1,-8.3 55.0,-7.8 50.8,-10.2 46.6,-8.8 42.4,-11.7 38.3,-16.1 34.1,-8.6 29.9,-3.9 25.7,-5.3 21.6,-9.8 17.4,-4.4 13.2,-7.3 9.0,-9.1 4.9,-8.5 0.7,-7.8Z" fill="url(#gc)"/>
<path transform="matrix(1,0.5146,0,1,111.65,380.82)" d="M0,-7.2L0,-24.6 0.7,-50.0 1.4,-22.2 2.1,-34.6 2.8,-22.1 3.5,-46.5 4.2,-27.2 4.9,-21.8 5.6,-21.7 6.3,-25.1 7.0,-22.7 7.7,-30.1 8.3,-42.7 9.0,-23.1 9.7,-30.0 10.4,-41.7 11.1,-23.5 11.8,-45.4 12.5,-27.3 13.2,-21.7 13.9,-24.7 14.6,-25.6 15.3,-21.8 16.0,-25.2 16.7,-25.4 17.4,-22.0 18.1,-22.0 18.8,-22.2 19.5,-52.4 20.2,-42.7 20.9,-23.2 21.6,-22.5 22.3,-32.0 23.0,-43.0 23.7,-23.1 24.3,-25.5 25.0,-31.0 25.7,-35.5 26.4,-23.3 27.1,-32.1 27.8,-40.1 28.5,-23.6 29.2,-29.9 29.9,-24.9 30.6,-54.2 31.3,-26.1 32.0,-46.4 32.7,-30.3 33.4,-42.3 34.1,-47.0 34.8,-48.9 35.5,-56.0 36.2,-61.5 36.9,-53.2 37.6,-60.0 38.3,-78.2 39.0,-58.8 39.6,-52.5 40.3,-48.8 41.0,-47.9 41.7,-38.2 42.4,-35.8 43.1,-32.4 43.8,-28.2 44.5,-28.6 45.2,-42.0 45.9,-24.5 46.6,-35.1 47.3,-32.7 48.0,-28.0 48.7,-29.0 49.4,-29.1 50.1,-35.8 50.8,-26.1 51.5,-22.8 52.2,-26.7 52.9,-27.7 53.6,-22.8 54.3,-25.0 55.0,-23.0 55.6,-26.5 56.3,-22.3 57.0,-22.2 57.7,-22.1 58.4,-25.0 59.1,-21.9 59.8,-22.4 60.5,-22.1 61.2,-29.2 61.9,-22.2 62.6,-26.7 63.3,-27.6 64.0,-21.9 64.7,-34.9 65.4,-21.5 66.1,-21.8 66.8,-32.2 67.5,-22.2 68.2,-35.9 68.9,-32.8 69.6,-26.0 70.3,-21.5 71.0,-21.6 71.6,-24.3 72.3,-24.0 73.0,-21.8 73.7,-21.7 74.4,-24.4 75.1,-21.5 75.8,-29.4 75.8,-5.2 71.6,-4.9 67.5,-8.2 63.3,-8.4 59.1,-8.2 55.0,-8.6 50.8,-6.6 46.6,-9.5 42.4,-7.3 38.3,-8.1 34.1,-5.0 29.9,-8.6 25.7,-9.1 21.6,-3.7 17.4,-9.0 13.2,-10.1 9.0,-8.7 4.9,-9.0 0.7,-4.5Z" fill="url(#gc)"/>
<path transform="matrix(1,0.5146,0,1,109.06,381.57)" d="M0,-6.7L0,-21.5 0.7,-35.5 1.4,-36.4 2.1,-21.5 2.8,-39.9 3.5,-29.7 4.2,-21.7 4.9,-30.5 5.6,-21.6 6.3,-22.2 7.0,-21.6 7.7,-27.8 8.3,-23.8 9.0,-21.6 9.7,-28.5 10.4,-21.9 11.1,-29.8 11.8,-30.3 12.5,-21.6 13.2,-42.2 13.9,-22.2 14.6,-31.7 15.3,-28.6 16.0,-21.9 16.7,-26.8 17.4,-47.0 18.1,-33.5 18.8,-24.0 19.5,-22.2 20.2,-48.1 20.9,-40.0 21.6,-29.0 22.3,-22.3 23.0,-40.3 23.7,-22.4 24.3,-22.5 25.0,-24.6 25.7,-34.7 26.4,-24.2 27.1,-33.3 27.8,-25.7 28.5,-24.1 29.2,-48.5 29.9,-24.4 30.6,-35.1 31.3,-42.7 32.0,-34.9 32.7,-29.4 33.4,-50.2 34.1,-33.9 34.8,-40.8 35.5,-43.6 36.2,-67.7 36.9,-53.0 37.6,-62.2 38.3,-56.3 39.0,-54.6 39.6,-66.6 40.3,-56.9 41.0,-49.8 41.7,-43.5 42.4,-43.4 43.1,-63.2 43.8,-27.3 44.5,-35.8 45.2,-27.4 45.9,-44.9 46.6,-28.5 47.3,-33.1 48.0,-44.7 48.7,-36.6 49.4,-24.7 50.1,-34.2 50.8,-22.6 51.5,-29.8 52.2,-34.9 52.9,-36.7 53.6,-48.7 54.3,-38.3 55.0,-22.2 55.6,-23.5 56.3,-24.2 57.0,-23.6 57.7,-22.0 58.4,-22.0 59.1,-22.2 59.8,-35.5 60.5,-28.1 61.2,-26.9 61.9,-51.0 62.6,-45.1 63.3,-21.6 64.0,-21.6 64.7,-22.9 65.4,-46.7 66.1,-28.9 66.8,-22.5 67.5,-28.2 68.2,-35.2 68.9,-27.7 69.6,-22.1 70.3,-27.2 71.0,-32.5 71.6,-41.1 72.3,-22.0 73.0,-32.0 73.7,-50.3 74.4,-28.5 75.1,-38.7 75.8,-21.5 75.8,-10.0 71.6,-7.2 67.5,-9.4 63.3,-7.4 59.1,-4.4 55.0,-8.2 50.8,-8.7 46.6,-9.5 42.4,-9.7 38.3,-6.8 34.1,-9.7 29.9,-5.5 25.7,-3.6 21.6,-8.8 17.4,-5.1 13.2,-6.1 9.0,-3.2 4.9,-10.0 0.7,-9.3Z" fill="url(#gc)"/>
<path transform="matrix(1,0.5146,0,1,106.47,382.32)" d="M0,-5.3L0,-26.2 0.7,-34.9 1.4,-21.6 2.1,-21.5 2.8,-32.2 3.5,-40.6 4.2,-29.4 4.9,-22.1 5.6,-23.6 6.3,-23.3 7.0,-21.5 7.7,-21.5 8.3,-22.2 9.0,-22.4 9.7,-32.2 10.4,-29.8 11.1,-30.6 11.8,-25.3 12.5,-22.6 13.2,-42.5 13.9,-21.7 14.6,-38.5 15.3,-35.2 16.0,-24.3 16.7,-22.3 17.4,-41.2 18.1,-33.0 18.8,-22.0 19.5,-31.4 20.2,-42.9 20.9,-26.1 21.6,-22.3 22.3,-22.3 23.0,-23.0 23.7,-22.9 24.3,-26.5 25.0,-24.8 25.7,-25.1 26.4,-23.4 27.1,-22.9 27.8,-28.3 28.5,-24.7 29.2,-24.7 29.9,-25.4 30.6,-35.8 31.3,-47.9 32.0,-29.8 32.7,-63.1 33.4,-45.6 34.1,-35.5 34.8,-40.2 35.5,-63.3 36.2,-52.8 36.9,-52.8 37.6,-67.0 38.3,-70.3 39.0,-54.0 39.6,-58.4 40.3,-56.3 41.0,-37.5 41.7,-38.3 42.4,-51.3 43.1,-28.9 43.8,-31.8 44.5,-48.1 45.2,-28.1 45.9,-36.5 46.6,-30.6 47.3,-45.8 48.0,-25.5 48.7,-29.1 49.4,-22.9 50.1,-24.1 50.8,-22.7 51.5,-22.5 52.2,-36.1 52.9,-22.3 53.6,-22.3 54.3,-22.3 55.0,-22.3 55.6,-22.2 56.3,-28.1 57.0,-22.8 57.7,-22.1 58.4,-38.0 59.1,-26.2 59.8,-27.3 60.5,-25.6 61.2,-21.7 61.9,-22.9 62.6,-21.6 63.3,-22.8 64.0,-26.8 64.7,-41.0 65.4,-34.7 66.1,-22.5 66.8,-21.6 67.5,-23.6 68.2,-27.3 68.9,-34.3 69.6,-31.8 70.3,-21.5 71.0,-21.6 71.6,-21.7 72.3,-31.9 73.0,-21.5 73.7,-41.1 74.4,-21.5 75.1,-33.7 75.8,-24.8 75.8,-6.3 71.6,-8.3 67.5,-6.5 63.3,-9.0 59.1,-4.7 55.0,-10.1 50.8,-4.8 46.6,-9.9 42.4,-6.3 38.3,-15.2 34.1,-5.3 29.9,-10.1 25.7,-4.3 21.6,-10.5 17.4,-3.2 13.2,-4.7 9.0,-7.2 4.9,-5.9 0.7,-9.3Z" fill="url(#gc)"/>
<path transform="matrix(1,0.5146,0,1,103.88,383.07)" d="M0,-3.5L0,-21.9 0.7,-31.3 1.4,-46.5 2.1,-24.9 2.8,-23.7 3.5,-22.3 4.2,-21.5 4.9,-23.7 5.6,-39.3 6.3,-35.5 7.0,-21.8 7.7,-25.4 8.3,-34.1 9.0,-39.0 9.7,-31.6 10.4,-22.6 11.1,-23.6 11.8,-35.6 12.5,-36.0 13.2,-30.2 13.9,-30.8 14.6,-49.2 15.3,-23.9 16.0,-41.4 16.7,-25.0 17.4,-22.1 18.1,-31.9 18.8,-35.2 19.5,-22.3 20.2,-34.7 20.9,-32.2 21.6,-22.2 22.3,-22.3 23.0,-35.1 23.7,-24.9 24.3,-29.9 25.0,-24.8 25.7,-32.4 26.4,-25.4 27.1,-30.6 27.8,-27.9 28.5,-24.0 29.2,-42.2 29.9,-46.0 30.6,-25.0 31.3,-25.9 32.0,-27.5 32.7,-32.5 33.4,-41.5 34.1,-46.8 34.8,-48.4 35.5,-49.0 36.2,-77.7 36.9,-71.8 37.6,-67.1 38.3,-54.7 39.0,-52.3 39.6,-46.6 40.3,-50.3 41.0,-53.4 41.7,-38.7 42.4,-36.0 43.1,-28.7 43.8,-28.5 44.5,-43.1 45.2,-28.0 45.9,-24.4 46.6,-23.8 47.3,-23.7 48.0,-36.4 48.7,-22.9 49.4,-26.2 50.1,-23.7 50.8,-36.1 51.5,-27.9 52.2,-39.8 52.9,-40.8 53.6,-40.2 54.3,-22.3 55.0,-24.1 55.6,-22.1 56.3,-36.3 57.0,-36.9 57.7,-36.9 58.4,-27.4 59.1,-21.8 59.8,-28.9 60.5,-22.4 61.2,-28.3 61.9,-41.2 62.6,-41.1 63.3,-23.1 64.0,-21.5 64.7,-21.7 65.4,-21.9 66.1,-28.3 66.8,-50.2 67.5,-25.5 68.2,-24.6 68.9,-23.4 69.6,-23.3 70.3,-21.5 71.0,-35.7 71.6,-21.4 72.3,-22.1 73.0,-34.4 73.7,-29.1 74.4,-24.6 75.1,-24.7 75.8,-21.7 75.8,-9.1 71.6,-3.6 67.5,-5.0 63.3,-6.3 59.1,-10.0 55.0,-5.5 50.8,-9.4 46.6,-3.8 42.4,-11.8 38.3,-6.7 34.1,-10.4 29.9,-10.6 25.7,-4.0 21.6,-6.2 17.4,-8.9 13.2,-4.4 9.0,-4.6 4.9,-4.4 0.7,-7.1Z" fill="url(#gc)"/>
<path transform="matrix(1,0.5146,0,1,101.29,383.82)" d="M0,-5.0L0,-38.8 0.7,-21.4 1.4,-21.4 2.1,-25.1 2.8,-43.8 3.5,-21.9 4.2,-21.5 4.9,-21.4 5.6,-40.4 6.3,-29.9 7.0,-21.4 7.7,-27.1 8.3,-21.4 9.0,-30.4 9.7,-21.4 10.4,-25.2 11.1,-24.8 11.8,-25.9 12.5,-22.4 13.2,-21.5 13.9,-23.3 14.6,-37.1 15.3,-34.4 16.0,-22.0 16.7,-36.2 17.4,-29.1 18.1,-22.7 18.8,-21.9 19.5,-29.3 20.2,-22.5 20.9,-26.2 21.6,-22.1 22.3,-25.3 23.0,-29.2 23.7,-22.6 24.3,-24.7 25.0,-23.3 25.7,-22.6 26.4,-23.0 27.1,-35.2 27.8,-26.0 28.5,-25.0 29.2,-24.2 29.9,-24.8 30.6,-34.0 31.3,-27.4 32.0,-34.0 32.7,-37.4 33.4,-42.7 34.1,-33.1 34.8,-41.4 35.5,-57.8 36.2,-51.4 36.9,-58.1 37.6,-62.7 38.3,-62.9 39.0,-54.5 39.6,-44.1 40.3,-41.2 41.0,-42.4 41.7,-45.7 42.4,-30.6 43.1,-30.6 43.8,-45.4 44.5,-29.6 45.2,-25.1 45.9,-26.7 46.6,-24.1 47.3,-23.3 48.0,-26.0 48.7,-25.6 49.4,-23.7 50.1,-23.9 50.8,-46.4 51.5,-43.7 52.2,-25.1 52.9,-22.3 53.6,-29.3 54.3,-30.4 55.0,-30.3 55.6,-25.3 56.3,-32.0 57.0,-22.2 57.7,-25.9 58.4,-31.7 59.1,-22.2 59.8,-33.9 60.5,-41.5 61.2,-27.1 61.9,-28.8 62.6,-28.2 63.3,-30.8 64.0,-22.4 64.7,-21.4 65.4,-46.6 66.1,-21.4 66.8,-24.9 67.5,-27.6 68.2,-30.2 68.9,-25.1 69.6,-26.1 70.3,-36.1 71.0,-33.2 71.6,-39.6 72.3,-21.6 73.0,-36.2 73.7,-36.4 74.4,-21.6 75.1,-21.8 75.8,-38.8 75.8,-9.0 71.6,-8.0 67.5,-3.3 63.3,-3.7 59.1,-8.3 55.0,-6.5 50.8,-3.3 46.6,-8.0 42.4,-10.7 38.3,-10.2 34.1,-7.1 29.9,-4.4 25.7,-6.7 21.6,-4.5 17.4,-8.4 13.2,-5.7 9.0,-7.1 4.9,-7.2 0.7,-6.9Z" fill="url(#gc)"/>
<path transform="matrix(1,0.5146,0,1,98.69,384.57)" d="M0,-6.5L0,-21.5 0.7,-22.5 1.4,-30.6 2.1,-21.3 2.8,-29.1 3.5,-25.4 4.2,-21.3 4.9,-21.4 5.6,-21.6 6.3,-27.7 7.0,-24.3 7.7,-21.9 8.3,-21.9 9.0,-21.5 9.7,-21.3 10.4,-26.5 11.1,-28.3 11.8,-22.4 12.5,-41.8 13.2,-21.5 13.9,-33.5 14.6,-21.6 15.3,-32.8 16.0,-21.7 16.7,-22.0 17.4,-38.4 18.1,-40.9 18.8,-23.0 19.5,-24.6 20.2,-22.1 20.9,-23.0 21.6,-45.5 22.3,-22.3 23.0,-22.4 23.7,-39.5 24.3,-26.6 25.0,-23.1 25.7,-22.7 26.4,-36.8 27.1,-41.9 27.8,-41.7 28.5,-28.4 29.2,-35.0 29.9,-38.5 30.6,-25.0 31.3,-25.6 32.0,-30.4 32.7,-34.2 33.4,-46.0 34.1,-32.6 34.8,-42.1 35.5,-53.3 36.2,-47.4 36.9,-51.5 37.6,-54.5 38.3,-57.7 39.0,-50.2 39.6,-42.8 40.3,-41.3 41.0,-36.4 41.7,-37.6 42.4,-31.9 43.1,-34.8 43.8,-27.0 44.5,-43.2 45.2,-43.6 45.9,-46.9 46.6,-38.3 47.3,-23.3 48.0,-23.0 48.7,-29.6 49.4,-22.7 50.1,-22.7 50.8,-22.4 51.5,-22.9 52.2,-22.7 52.9,-22.5 53.6,-22.1 54.3,-22.3 55.0,-25.2 55.6,-23.2 56.3,-28.1 57.0,-21.9 57.7,-25.8 58.4,-30.7 59.1,-25.1 59.8,-36.9 60.5,-22.3 61.2,-30.4 61.9,-21.7 62.6,-21.5 63.3,-25.8 64.0,-22.0 64.7,-21.8 65.4,-21.3 66.1,-26.6 66.8,-23.9 67.5,-22.9 68.2,-23.2 68.9,-23.4 69.6,-22.0 70.3,-25.6 71.0,-36.6 71.6,-23.3 72.3,-22.5 73.0,-21.7 73.7,-22.0 74.4,-21.4 75.1,-42.1 75.8,-40.9 75.8,-5.3 71.6,-8.8 67.5,-6.9 63.3,-6.4 59.1,-7.5 55.0,-7.3 50.8,-4.5 46.6,-9.4 42.4,-3.9 38.3,-11.4 34.1,-5.9 29.9,-4.4 25.7,-6.0 21.6,-9.5 17.4,-8.1 13.2,-10.2 9.0,-9.5 4.9,-10.0 0.7,-4.1Z" fill="url(#gc)"/>
<path transform="matrix(1,0.5146,0,1,96.10,385.32)" d="M0,-9.3L0,-24.9 0.7,-23.5 1.4,-31.9 2.1,-21.3 2.8,-40.9 3.5,-36.2 4.2,-48.8 4.9,-21.3 5.6,-23.1 6.3,-26.5 7.0,-39.9 7.7,-21.3 8.3,-22.5 9.0,-24.0 9.7,-30.5 10.4,-22.1 11.1,-22.3 11.8,-21.4 12.5,-21.6 13.2,-23.8 13.9,-24.4 14.6,-30.0 15.3,-21.6 16.0,-27.5 16.7,-27.7 17.4,-22.9 18.1,-23.7 18.8,-21.9 19.5,-23.3 20.2,-21.9 20.9,-32.5 21.6,-23.0 22.3,-25.3 23.0,-38.8 23.7,-30.0 24.3,-25.9 25.0,-24.0 25.7,-25.0 26.4,-22.6 27.1,-25.0 27.8,-25.4 28.5,-26.7 29.2,-23.5 29.9,-42.8 30.6,-26.4 31.3,-28.7 32.0,-27.0 32.7,-28.8 33.4,-61.1 34.1,-37.1 34.8,-42.8 35.5,-51.0 36.2,-61.1 36.9,-47.2 37.6,-67.1 38.3,-54.7 39.0,-50.5 39.6,-54.2 40.3,-44.8 41.0,-35.6 41.7,-44.4 42.4,-32.1 43.1,-48.5 43.8,-49.4 44.5,-25.9 45.2,-42.4 45.9,-24.2 46.6,-23.6 47.3,-25.1 48.0,-23.1 48.7,-22.7 49.4,-27.6 50.1,-40.1 50.8,-30.3 51.5,-23.6 52.2,-26.5 52.9,-25.7 53.6,-22.4 54.3,-22.2 55.0,-31.1 55.6,-43.1 56.3,-22.6 57.0,-34.7 57.7,-21.8 58.4,-33.0 59.1,-41.2 59.8,-29.4 60.5,-28.0 61.2,-23.6 61.9,-38.5 62.6,-22.4 63.3,-23.4 64.0,-39.8 64.7,-40.6 65.4,-22.3 66.1,-21.3 66.8,-21.4 67.5,-28.4 68.2,-27.7 68.9,-25.1 69.6,-21.5 70.3,-21.3 71.0,-21.7 71.6,-28.3 72.3,-23.9 73.0,-21.3 73.7,-22.1 74.4,-21.4 75.1,-22.4 75.8,-21.5 75.8,-3.7 71.6,-3.5 67.5,-9.7 63.3,-3.4 59.1,-5.5 55.0,-7.2 50.8,-6.8 46.6,-6.1 42.4,-11.3 38.3,-9.9 34.1,-4.6 29.9,-4.3 25.7,-8.4 21.6,-10.3 17.4,-7.5 13.2,-4.2 9.0,-4.3 4.9,-7.2 0.7,-3.5Z" fill="url(#gc)"/>
<path transform="matrix(1,0.5146,0,1,93.51,386.06)" d="M0,-3.7L0,-21.7 0.7,-25.9 1.4,-21.6 2.1,-21.3 2.8,-21.3 3.5,-22.8 4.2,-34.8 4.9,-21.3 5.6,-38.8 6.3,-21.6 7.0,-25.5 7.7,-27.5 8.3,-21.3 9.0,-38.3 9.7,-32.8 10.4,-25.7 11.1,-21.3 11.8,-32.6 12.5,-32.3 13.2,-26.9 13.9,-41.0 14.6,-28.2 15.3,-29.0 16.0,-22.0 16.7,-31.4 17.4,-37.0 18.1,-28.0 18.8,-22.0 19.5,-46.1 20.2,-26.7 20.9,-23.9 21.6,-23.8 22.3,-39.4 23.0,-22.2 23.7,-39.1 24.3,-23.4 25.0,-32.1 25.7,-32.7 26.4,-23.8 27.1,-22.8 27.8,-23.2 28.5,-23.9 29.2,-23.7 29.9,-27.1 30.6,-29.3 31.3,-43.4 32.0,-28.1 32.7,-35.7 33.4,-29.8 34.1,-44.1 34.8,-43.4 35.5,-57.7 36.2,-44.6 36.9,-47.4 37.6,-62.8 38.3,-68.9 39.0,-58.6 39.6,-53.8 40.3,-39.9 41.0,-53.8 41.7,-37.5 42.4,-29.8 43.1,-28.3 43.8,-55.5 44.5,-48.1 45.2,-41.8 45.9,-27.5 46.6,-44.3 47.3,-36.8 48.0,-23.0 48.7,-25.4 49.4,-26.2 50.1,-24.2 50.8,-24.9 51.5,-24.2 52.2,-34.6 52.9,-27.8 53.6,-34.9 54.3,-49.8 55.0,-24.8 55.6,-23.6 56.3,-22.4 57.0,-24.9 57.7,-21.9 58.4,-21.8 59.1,-21.6 59.8,-21.6 60.5,-21.5 61.2,-29.9 61.9,-21.4 62.6,-22.4 63.3,-21.9 64.0,-22.0 64.7,-21.3 65.4,-22.8 66.1,-31.3 66.8,-23.7 67.5,-38.4 68.2,-25.2 68.9,-24.4 69.6,-25.3 70.3,-22.3 71.0,-26.7 71.6,-21.7 72.3,-24.0 73.0,-41.8 73.7,-30.8 74.4,-21.3 75.1,-21.8 75.8,-22.6 75.8,-8.1 71.6,-9.6 67.5,-9.7 63.3,-3.4 59.1,-6.2 55.0,-10.4 50.8,-5.5 46.6,-5.9 42.4,-4.0 38.3,-16.7 34.1,-12.7 29.9,-9.6 25.7,-9.8 21.6,-4.4 17.4,-4.4 13.2,-6.0 9.0,-8.7 4.9,-5.7 0.7,-3.8Z" fill="url(#gc)"/>
<path transform="matrix(1,0.5146,0,1,90.92,386.81)" d="M0,-9.6L0,-22.4 0.7,-34.4 1.4,-32.8 2.1,-26.1 2.8,-21.4 3.5,-22.6 4.2,-22.8 4.9,-29.1 5.6,-32.3 6.3,-32.1 7.0,-22.2 7.7,-29.1 8.3,-36.4 9.0,-34.7 9.7,-22.2 10.4,-27.8 11.1,-21.2 11.8,-22.1 12.5,-21.6 13.2,-21.4 13.9,-23.1 14.6,-26.5 15.3,-33.5 16.0,-22.9 16.7,-41.1 17.4,-49.5 18.1,-22.5 18.8,-29.1 19.5,-22.1 20.2,-37.7 20.9,-21.9 21.6,-37.3 22.3,-41.0 23.0,-43.6 23.7,-34.4 24.3,-22.3 25.0,-24.5 25.7,-23.8 26.4,-35.4 27.1,-26.5 27.8,-29.8 28.5,-26.6 29.2,-33.1 29.9,-23.9 30.6,-28.8 31.3,-45.3 32.0,-34.9 32.7,-28.0 33.4,-36.2 34.1,-53.4 34.8,-45.6 35.5,-54.0 36.2,-60.7 36.9,-56.7 37.6,-67.0 38.3,-54.9 39.0,-60.7 39.6,-51.5 40.3,-39.4 41.0,-35.9 41.7,-38.2 42.4,-29.8 43.1,-34.5 43.8,-35.2 44.5,-27.8 45.2,-40.9 45.9,-23.9 46.6,-44.6 47.3,-24.8 48.0,-27.1 48.7,-40.5 49.4,-24.1 50.1,-33.4 50.8,-33.7 51.5,-37.8 52.2,-22.1 52.9,-26.2 53.6,-22.0 54.3,-31.1 55.0,-22.1 55.6,-21.8 56.3,-28.6 57.0,-33.2 57.7,-23.0 58.4,-23.0 59.1,-23.1 59.8,-24.1 60.5,-21.5 61.2,-22.1 61.9,-29.7 62.6,-24.6 63.3,-21.3 64.0,-22.3 64.7,-21.2 65.4,-22.2 66.1,-22.9 66.8,-21.2 67.5,-34.9 68.2,-21.2 68.9,-30.7 69.6,-23.0 70.3,-21.2 71.0,-22.5 71.6,-21.5 72.3,-47.4 73.0,-21.6 73.7,-21.3 74.4,-23.1 75.1,-21.7 75.8,-23.3 75.8,-7.2 71.6,-6.3 67.5,-7.6 63.3,-7.6 59.1,-10.1 55.0,-8.3 50.8,-5.7 46.6,-7.7 42.4,-11.7 38.3,-11.3 34.1,-11.2 29.9,-10.5 25.7,-8.7 21.6,-9.4 17.4,-4.6 13.2,-9.3 9.0,-8.2 4.9,-5.7 0.7,-4.4Z" fill="url(#gc)"/>
<path transform="matrix(1,0.5146,0,1,88.33,387.56)" d="M0,-8.3L0,-23.0 0.7,-21.3 1.4,-21.5 2.1,-21.3 2.8,-34.8 3.5,-24.3 4.2,-31.8 4.9,-32.6 5.6,-30.4 6.3,-21.5 7.0,-21.8 7.7,-30.2 8.3,-21.2 9.0,-22.2 9.7,-21.3 10.4,-27.2 11.1,-22.3 11.8,-24.9 12.5,-21.4 13.2,-33.6 13.9,-22.2 14.6,-21.6 15.3,-21.7 16.0,-24.2 16.7,-25.5 17.4,-21.6 18.1,-21.7 18.8,-22.4 19.5,-22.5 20.2,-23.5 20.9,-34.6 21.6,-24.9 22.3,-22.0 23.0,-22.0 23.7,-22.1 24.3,-39.0 25.0,-27.4 25.7,-22.4 26.4,-33.9 27.1,-22.6 27.8,-27.3 28.5,-42.6 29.2,-23.4 29.9,-23.9 30.6,-25.8 31.3,-25.7 32.0,-26.6 32.7,-28.3 33.4,-51.3 34.1,-44.2 34.8,-62.3 35.5,-55.1 36.2,-65.8 36.9,-46.9 37.6,-55.5 38.3,-52.3 39.0,-52.6 39.6,-51.4 40.3,-39.0 41.0,-35.0 41.7,-32.5 42.4,-29.7 43.1,-28.1 43.8,-27.7 44.5,-40.4 45.2,-31.9 45.9,-25.9 46.6,-31.3 47.3,-23.3 48.0,-23.6 48.7,-28.9 49.4,-24.1 50.1,-43.0 50.8,-29.8 51.5,-22.5 52.2,-29.8 52.9,-22.7 53.6,-25.7 54.3,-31.5 55.0,-21.9 55.6,-21.8 56.3,-29.0 57.0,-22.4 57.7,-22.6 58.4,-32.9 59.1,-22.0 59.8,-23.6 60.5,-23.7 61.2,-22.4 61.9,-22.9 62.6,-23.2 63.3,-33.9 64.0,-21.4 64.7,-21.4 65.4,-31.5 66.1,-39.6 66.8,-35.6 67.5,-29.7 68.2,-28.4 68.9,-30.6 69.6,-31.5 70.3,-21.7 71.0,-23.0 71.6,-21.2 72.3,-23.6 73.0,-26.0 73.7,-36.2 74.4,-21.3 75.1,-31.1 75.8,-21.2 75.8,-8.9 71.6,-8.3 67.5,-9.9 63.3,-5.3 59.1,-7.0 55.0,-5.6 50.8,-8.7 46.6,-4.6 42.4,-6.3 38.3,-8.9 34.1,-8.1 29.9,-11.1 25.7,-6.9 21.6,-5.5 17.4,-3.6 13.2,-9.8 9.0,-9.7 4.9,-9.1 0.7,-7.8Z" fill="url(#gc)"/>
<path transform="matrix(1,0.5146,0,1,85.74,388.31)" d="M0,-9.7L0,-21.6 0.7,-29.3 1.4,-29.0 2.1,-30.7 2.8,-21.1 3.5,-21.1 4.2,-22.1 4.9,-21.3 5.6,-35.7 6.3,-36.0 7.0,-21.4 7.7,-23.0 8.3,-39.9 9.0,-21.4 9.7,-23.3 10.4,-30.8 11.1,-33.4 11.8,-21.5 12.5,-23.7 13.2,-21.3 13.9,-25.4 14.6,-42.6 15.3,-21.8 16.0,-30.1 16.7,-34.9 17.4,-21.6 18.1,-23.0 18.8,-26.7 19.5,-22.3 20.2,-21.8 20.9,-21.8 21.6,-24.3 22.3,-27.7 23.0,-22.0 23.7,-22.1 24.3,-23.3 25.0,-22.2 25.7,-26.7 26.4,-23.5 27.1,-23.7 27.8,-30.5 28.5,-24.7 29.2,-23.4 29.9,-25.0 30.6,-29.0 31.3,-26.2 32.0,-43.8 32.7,-38.1 33.4,-36.3 34.1,-44.1 34.8,-41.1 35.5,-48.4 36.2,-53.8 36.9,-49.4 37.6,-69.2 38.3,-55.3 39.0,-59.1 39.6,-48.1 40.3,-41.8 41.0,-36.6 41.7,-43.3 42.4,-49.5 43.1,-37.8 43.8,-35.4 44.5,-32.2 45.2,-24.7 45.9,-24.5 46.6,-23.9 47.3,-23.0 48.0,-22.8 48.7,-22.6 49.4,-23.7 50.1,-43.5 50.8,-44.1 51.5,-43.3 52.2,-43.1 52.9,-34.7 53.6,-21.9 54.3,-25.4 55.0,-29.7 55.6,-27.5 56.3,-40.4 57.0,-37.4 57.7,-34.6 58.4,-30.7 59.1,-23.8 59.8,-33.0 60.5,-27.1 61.2,-21.6 61.9,-23.4 62.6,-24.2 63.3,-21.2 64.0,-30.5 64.7,-23.5 65.4,-22.4 66.1,-26.2 66.8,-29.0 67.5,-21.1 68.2,-21.1 68.9,-24.4 69.6,-21.2 70.3,-27.6 71.0,-26.9 71.6,-30.0 72.3,-22.7 73.0,-21.9 73.7,-28.2 74.4,-22.6 75.1,-21.5 75.8,-28.6 75.8,-6.4 71.6,-7.5 67.5,-8.7 63.3,-9.4 59.1,-5.9 55.0,-5.8 50.8,-4.0 46.6,-3.4 42.4,-4.0 38.3,-14.2 34.1,-8.8 29.9,-3.5 25.7,-9.1 21.6,-9.2 17.4,-3.2 13.2,-6.2 9.0,-4.9 4.9,-8.9 0.7,-6.7Z" fill="url(#gc)"/>
<path transform="matrix(1,0.5146,0,1,83.15,389.06)" d="M0,-7.7L0,-24.9 0.7,-27.4 1.4,-34.6 2.1,-41.7 2.8,-30.0 3.5,-25.7 4.2,-38.8 4.9,-22.8 5.6,-27.6 6.3,-22.8 7.0,-48.0 7.7,-34.2 8.3,-21.2 9.0,-43.7 9.7,-29.3 10.4,-26.2 11.1,-23.0 11.8,-21.2 12.5,-21.3 13.2,-30.6 13.9,-23.3 14.6,-40.2 15.3,-27.1 16.0,-21.9 16.7,-23.6 17.4,-36.0 18.1,-35.1 18.8,-36.7 19.5,-21.9 20.2,-25.6 20.9,-22.2 21.6,-22.7 22.3,-23.0 23.0,-24.1 23.7,-22.6 24.3,-22.1 25.0,-22.2 25.7,-30.1 26.4,-28.3 27.1,-31.1 27.8,-22.7 28.5,-42.6 29.2,-33.6 29.9,-54.7 30.6,-40.1 31.3,-32.0 32.0,-45.4 32.7,-43.4 33.4,-31.6 34.1,-47.9 34.8,-35.3 35.5,-50.8 36.2,-47.1 36.9,-56.1 37.6,-52.0 38.3,-52.9 39.0,-49.9 39.6,-56.2 40.3,-42.2 41.0,-44.2 41.7,-35.0 42.4,-32.0 43.1,-37.2 43.8,-40.4 44.5,-26.9 45.2,-33.6 45.9,-31.3 46.6,-38.9 47.3,-42.1 48.0,-33.3 48.7,-35.7 49.4,-39.7 50.1,-23.0 50.8,-36.2 51.5,-43.7 52.2,-25.5 52.9,-35.3 53.6,-22.1 54.3,-25.5 55.0,-34.2 55.6,-29.1 56.3,-32.2 57.0,-25.9 57.7,-21.6 58.4,-24.4 59.1,-21.5 59.8,-21.8 60.5,-44.0 61.2,-33.0 61.9,-21.3 62.6,-21.7 63.3,-21.2 64.0,-21.6 64.7,-24.6 65.4,-21.3 66.1,-24.5 66.8,-21.4 67.5,-21.1 68.2,-49.4 68.9,-23.7 69.6,-21.1 70.3,-21.1 71.0,-21.1 71.6,-34.1 72.3,-48.2 73.0,-40.1 73.7,-24.4 74.4,-21.9 75.1,-24.5 75.8,-30.8 75.8,-4.0 71.6,-4.9 67.5,-8.6 63.3,-9.5 59.1,-5.8 55.0,-6.6 50.8,-6.6 46.6,-9.4 42.4,-9.4 38.3,-9.8 34.1,-4.7 29.9,-7.5 25.7,-8.6 21.6,-6.2 17.4,-9.9 13.2,-9.6 9.0,-7.7 4.9,-8.6 0.7,-8.5Z" fill="url(#gc)"/>
<path transform="matrix(1,0.5146,0,1,80.56,389.81)" d="M0,-8.3L0,-21.5 0.7,-28.6 1.4,-33.7 2.1,-21.1 2.8,-24.9 3.5,-49.6 4.2,-31.1 4.9,-21.1 5.6,-21.0 6.3,-23.8 7.0,-28.4 7.7,-38.7 8.3,-30.9 9.0,-25.0 9.7,-31.6 10.4,-22.5 11.1,-22.7 11.8,-29.0 12.5,-21.7 13.2,-21.2 13.9,-21.4 14.6,-22.6 15.3,-22.2 16.0,-34.8 16.7,-27.6 17.4,-21.7 18.1,-22.1 18.8,-24.1 19.5,-31.5 20.2,-37.0 20.9,-23.8 21.6,-30.8 22.3,-28.6 23.0,-32.3 23.7,-36.7 24.3,-22.2 25.0,-30.6 25.7,-22.3 26.4,-24.1 27.1,-41.8 27.8,-23.4 28.5,-37.9 29.2,-31.6 29.9,-24.1 30.6,-25.5 31.3,-25.4 32.0,-31.0 32.7,-50.0 33.4,-32.9 34.1,-31.9 34.8,-46.7 35.5,-40.9 36.2,-47.3 36.9,-67.6 37.6,-64.3 38.3,-60.3 39.0,-52.6 39.6,-57.9 40.3,-40.8 41.0,-48.8 41.7,-43.2 42.4,-39.0 43.1,-29.9 43.8,-49.1 44.5,-25.2 45.2,-24.8 45.9,-46.7 46.6,-29.8 47.3,-26.2 48.0,-32.2 48.7,-37.3 49.4,-22.5 50.1,-22.2 50.8,-32.0 51.5,-22.7 52.2,-22.1 52.9,-42.0 53.6,-24.9 54.3,-28.3 55.0,-21.7 55.6,-30.9 56.3,-21.8 57.0,-37.3 57.7,-22.6 58.4,-33.6 59.1,-22.4 59.8,-21.8 60.5,-21.4 61.2,-28.3 61.9,-40.3 62.6,-22.3 63.3,-32.1 64.0,-21.1 64.7,-41.5 65.4,-21.1 66.1,-21.7 66.8,-23.7 67.5,-21.2 68.2,-28.9 68.9,-23.9 69.6,-37.5 70.3,-21.1 71.0,-23.6 71.6,-30.8 72.3,-30.4 73.0,-23.3 73.7,-30.4 74.4,-39.5 75.1,-21.9 75.8,-21.4 75.8,-6.9 71.6,-5.1 67.5,-6.0 63.3,-9.6 59.1,-3.7 55.0,-4.3 50.8,-5.7 46.6,-9.7 42.4,-10.4 38.3,-14.4 34.1,-11.6 29.9,-5.5 25.7,-3.7 21.6,-8.8 17.4,-7.2 13.2,-6.8 9.0,-6.6 4.9,-4.4 0.7,-4.1Z" fill="url(#gc)"/>
<path transform="matrix(1,0.5146,0,1,77.97,390.56)" d="M0,-10.0L0,-23.1 0.7,-37.1 1.4,-39.9 2.1,-23.6 2.8,-33.9 3.5,-21.0 4.2,-21.3 4.9,-22.6 5.6,-21.0 6.3,-21.0 7.0,-23.5 7.7,-21.0 8.3,-21.0 9.0,-48.3 9.7,-35.2 10.4,-29.2 11.1,-37.2 11.8,-36.6 12.5,-30.5 13.2,-28.4 13.9,-41.2 14.6,-28.8 15.3,-41.6 16.0,-26.9 16.7,-21.4 17.4,-21.9 18.1,-25.0 18.8,-28.9 19.5,-23.3 20.2,-21.9 20.9,-30.6 21.6,-22.7 22.3,-23.3 23.0,-22.8 23.7,-22.7 24.3,-27.1 25.0,-28.9 25.7,-33.3 26.4,-22.3 27.1,-22.4 27.8,-26.4 28.5,-32.5 29.2,-25.4 29.9,-23.7 30.6,-35.3 31.3,-26.1 32.0,-27.3 32.7,-29.3 33.4,-29.8 34.1,-32.7 34.8,-40.6 35.5,-40.3 36.2,-44.2 36.9,-61.3 37.6,-54.1 38.3,-54.7 39.0,-60.6 39.6,-62.9 40.3,-41.4 41.0,-46.7 41.7,-45.1 42.4,-38.0 43.1,-29.0 43.8,-42.4 44.5,-29.7 45.2,-43.7 45.9,-24.0 46.6,-25.8 47.3,-36.1 48.0,-42.5 48.7,-29.8 49.4,-22.3 50.1,-22.4 50.8,-24.5 51.5,-22.2 52.2,-29.2 52.9,-26.7 53.6,-23.3 54.3,-26.2 55.0,-24.0 55.6,-24.2 56.3,-35.6 57.0,-22.3 57.7,-21.6 58.4,-22.7 59.1,-22.0 59.8,-36.5 60.5,-22.2 61.2,-31.7 61.9,-25.4 62.6,-21.2 63.3,-48.5 64.0,-22.1 64.7,-23.1 65.4,-28.5 66.1,-22.9 66.8,-38.0 67.5,-32.0 68.2,-21.3 68.9,-21.0 69.6,-31.8 70.3,-21.5 71.0,-23.2 71.6,-37.0 72.3,-24.7 73.0,-37.5 73.7,-26.3 74.4,-35.2 75.1,-29.1 75.8,-32.0 75.8,-5.1 71.6,-6.2 67.5,-4.1 63.3,-3.6 59.1,-9.6 55.0,-3.7 50.8,-8.2 46.6,-5.8 42.4,-6.3 38.3,-10.5 34.1,-7.2 29.9,-7.8 25.7,-8.7 21.6,-6.7 17.4,-9.3 13.2,-9.1 9.0,-6.0 4.9,-3.7 0.7,-3.2Z" fill="url(#gc)"/>
<path transform="matrix(1,0.5146,0,1,75.37,391.31)" d="M0,-7.1L0,-22.2 0.7,-26.6 1.4,-40.8 2.1,-40.5 2.8,-24.3 3.5,-38.6 4.2,-25.4 4.9,-26.6 5.6,-32.3 6.3,-23.3 7.0,-28.7 7.7,-24.3 8.3,-21.1 9.0,-32.9 9.7,-21.0 10.4,-31.4 11.1,-21.1 11.8,-36.2 12.5,-24.9 13.2,-37.4 13.9,-21.6 14.6,-21.7 15.3,-33.3 16.0,-21.3 16.7,-22.8 17.4,-22.3 18.1,-27.3 18.8,-24.4 19.5,-30.4 20.2,-22.6 20.9,-22.4 21.6,-21.7 22.3,-24.5 23.0,-21.9 23.7,-22.0 24.3,-31.9 25.0,-41.1 25.7,-29.1 26.4,-22.3 27.1,-22.6 27.8,-41.3 28.5,-31.2 29.2,-24.3 29.9,-26.0 30.6,-27.0 31.3,-25.3 32.0,-26.8 32.7,-29.5 33.4,-42.0 34.1,-37.7 34.8,-45.5 35.5,-42.0 36.2,-64.2 36.9,-48.5 37.6,-67.0 38.3,-59.2 39.0,-61.4 39.6,-58.7 40.3,-38.5 41.0,-34.9 41.7,-37.8 42.4,-45.1 43.1,-27.6 43.8,-30.9 44.5,-29.6 45.2,-26.5 45.9,-25.9 46.6,-26.3 47.3,-23.4 48.0,-23.4 48.7,-23.3 49.4,-22.2 50.1,-23.6 50.8,-30.0 51.5,-22.7 52.2,-35.6 52.9,-40.5 53.6,-21.8 54.3,-32.9 55.0,-29.1 55.6,-21.6 56.3,-21.6 57.0,-21.5 57.7,-29.1 58.4,-44.9 59.1,-21.4 59.8,-23.0 60.5,-24.6 61.2,-21.6 61.9,-23.1 62.6,-22.3 63.3,-27.7 64.0,-24.3 64.7,-29.1 65.4,-23.7 66.1,-21.0 66.8,-21.0 67.5,-28.7 68.2,-38.9 68.9,-21.4 69.6,-24.1 70.3,-22.2 71.0,-39.6 71.6,-21.0 72.3,-21.2 73.0,-32.6 73.7,-21.2 74.4,-25.0 75.1,-21.1 75.8,-23.1 75.8,-9.6 71.6,-5.3 67.5,-5.5 63.3,-3.7 59.1,-7.3 55.0,-7.7 50.8,-4.9 46.6,-5.9 42.4,-11.2 38.3,-11.1 34.1,-10.1 29.9,-10.1 25.7,-9.0 21.6,-7.0 17.4,-4.8 13.2,-8.0 9.0,-9.8 4.9,-6.3 0.7,-4.7Z" fill="url(#gc)"/>
<path transform="matrix(1,0.5146,0,1,72.78,392.06)" d="M0,-8.4L0,-21.2 0.7,-23.9 1.4,-25.5 2.1,-41.0 2.8,-24.6 3.5,-30.5 4.2,-21.8 4.9,-21.1 5.6,-21.8 6.3,-25.6 7.0,-20.9 7.7,-21.0 8.3,-38.8 9.0,-25.8 9.7,-20.9 10.4,-28.0 11.1,-21.0 11.8,-23.2 12.5,-21.2 13.2,-31.0 13.9,-25.8 14.6,-22.4 15.3,-43.4 16.0,-24.3 16.7,-23.2 17.4,-22.4 18.1,-27.9 18.8,-22.2 19.5,-30.5 20.2,-36.2 20.9,-39.2 21.6,-23.6 22.3,-22.0 23.0,-25.0 23.7,-39.2 24.3,-37.3 25.0,-22.5 25.7,-22.1 26.4,-22.6 27.1,-22.5 27.8,-23.1 28.5,-36.7 29.2,-26.7 29.9,-23.6 30.6,-24.4 31.3,-36.2 32.0,-30.1 32.7,-35.2 33.4,-46.9 34.1,-34.1 34.8,-41.9 35.5,-60.7 36.2,-47.4 36.9,-52.8 37.6,-65.2 38.3,-67.1 39.0,-47.7 39.6,-55.6 40.3,-60.2 41.0,-35.7 41.7,-45.3 42.4,-31.2 43.1,-29.5 43.8,-28.8 44.5,-31.6 45.2,-24.2 45.9,-28.0 46.6,-40.0 47.3,-23.1 48.0,-22.6 48.7,-32.6 49.4,-22.3 50.1,-22.7 50.8,-33.6 51.5,-22.7 52.2,-22.1 52.9,-21.9 53.6,-29.6 54.3,-22.7 55.0,-47.7 55.6,-29.3 56.3,-22.0 57.0,-34.9 57.7,-41.7 58.4,-25.3 59.1,-21.6 59.8,-47.2 60.5,-48.8 61.2,-21.2 61.9,-21.2 62.6,-40.8 63.3,-21.4 64.0,-21.0 64.7,-25.5 65.4,-45.2 66.1,-25.0 66.8,-26.0 67.5,-24.5 68.2,-21.0 68.9,-22.8 69.6,-21.0 70.3,-23.7 71.0,-26.7 71.6,-31.4 72.3,-27.1 73.0,-21.2 73.7,-23.0 74.4,-21.0 75.1,-38.1 75.8,-21.3 75.8,-8.3 71.6,-6.2 67.5,-10.0 63.3,-6.2 59.1,-5.7 55.0,-5.6 50.8,-4.8 46.6,-6.4 42.4,-9.0 38.3,-15.6 34.1,-10.1 29.9,-7.0 25.7,-3.6 21.6,-7.2 17.4,-6.1 13.2,-3.8 9.0,-7.0 4.9,-3.7 0.7,-8.7Z" fill="url(#gc)"/>
<path transform="matrix(1,0.5146,0,1,70.19,392.80)" d="M0,-3.3L0,-21.5 0.7,-21.2 1.4,-21.1 2.1,-28.2 2.8,-35.0 3.5,-21.1 4.2,-36.0 4.9,-21.6 5.6,-29.7 6.3,-24.3 7.0,-21.8 7.7,-20.9 8.3,-20.9 9.0,-20.9 9.7,-21.3 10.4,-47.5 11.1,-25.9 11.8,-28.0 12.5,-22.5 13.2,-25.4 13.9,-27.4 14.6,-34.0 15.3,-34.3 16.0,-29.7 16.7,-21.8 17.4,-36.1 18.1,-21.4 18.8,-38.3 19.5,-23.5 20.2,-21.5 20.9,-23.0 21.6,-25.5 22.3,-48.5 23.0,-25.0 23.7,-22.0 24.3,-24.2 25.0,-32.2 25.7,-22.1 26.4,-27.1 27.1,-32.0 27.8,-23.5 28.5,-24.1 29.2,-24.0 29.9,-29.4 30.6,-25.4 31.3,-25.2 32.0,-31.5 32.7,-35.6 33.4,-40.8 34.1,-52.7 34.8,-43.1 35.5,-38.2 36.2,-49.5 36.9,-52.8 37.6,-54.2 38.3,-56.2 39.0,-46.5 39.6,-42.2 40.3,-49.5 41.0,-35.3 41.7,-49.8 42.4,-29.4 43.1,-49.8 43.8,-28.2 44.5,-25.1 45.2,-46.5 45.9,-23.9 46.6,-23.1 47.3,-23.0 48.0,-31.5 48.7,-22.3 49.4,-22.3 50.1,-37.2 50.8,-22.6 51.5,-43.6 52.2,-36.1 52.9,-25.0 53.6,-27.6 54.3,-23.9 55.0,-29.7 55.6,-31.6 56.3,-32.9 57.0,-21.9 57.7,-30.2 58.4,-31.7 59.1,-30.8 59.8,-21.8 60.5,-41.5 61.2,-24.9 61.9,-24.7 62.6,-21.1 63.3,-21.0 64.0,-20.9 64.7,-28.3 65.4,-22.0 66.1,-22.8 66.8,-20.9 67.5,-21.1 68.2,-24.4 68.9,-21.5 69.6,-27.9 70.3,-23.8 71.0,-21.2 71.6,-21.0 72.3,-28.3 73.0,-20.9 73.7,-24.3 74.4,-22.1 75.1,-21.3 75.8,-31.6 75.8,-5.2 71.6,-8.1 67.5,-4.3 63.3,-4.4 59.1,-5.2 55.0,-8.7 50.8,-10.0 46.6,-6.5 42.4,-6.3 38.3,-9.8 34.1,-4.4 29.9,-8.5 25.7,-5.9 21.6,-7.7 17.4,-4.7 13.2,-6.2 9.0,-9.4 4.9,-7.6 0.7,-6.9Z" fill="url(#gc)"/>
<path transform="matrix(1,0.5146,0,1,67.60,393.55)" d="M0,-4.2L0,-28.8 0.7,-22.5 1.4,-24.5 2.1,-21.7 2.8,-29.0 3.5,-32.6 4.2,-35.6 4.9,-29.4 5.6,-36.0 6.3,-39.4 7.0,-37.5 7.7,-28.6 8.3,-25.1 9.0,-30.5 9.7,-20.8 10.4,-22.7 11.1,-20.8 11.8,-34.2 12.5,-21.9 13.2,-24.6 13.9,-27.0 14.6,-22.9 15.3,-32.2 16.0,-21.3 16.7,-21.7 17.4,-24.7 18.1,-21.5 18.8,-21.4 19.5,-22.2 20.2,-50.4 20.9,-38.8 21.6,-21.7 22.3,-22.1 23.0,-23.5 23.7,-24.3 24.3,-22.7 25.0,-24.1 25.7,-22.0 26.4,-32.6 27.1,-22.8 27.8,-23.5 28.5,-25.6 29.2,-31.5 29.9,-37.9 30.6,-30.2 31.3,-34.6 32.0,-38.7 32.7,-49.2 33.4,-38.4 34.1,-31.9 34.8,-41.3 35.5,-38.1 36.2,-57.3 36.9,-56.1 37.6,-53.3 38.3,-57.5 39.0,-64.4 39.6,-50.0 40.3,-54.6 41.0,-49.3 41.7,-37.1 42.4,-30.8 43.1,-28.2 43.8,-31.6 44.5,-25.2 45.2,-24.3 45.9,-42.0 46.6,-23.8 47.3,-24.2 48.0,-23.4 48.7,-22.5 49.4,-28.9 50.1,-34.4 50.8,-27.9 51.5,-27.0 52.2,-25.0 52.9,-24.6 53.6,-21.6 54.3,-21.6 55.0,-25.2 55.6,-30.0 56.3,-41.6 57.0,-22.6 57.7,-30.7 58.4,-28.2 59.1,-46.1 59.8,-24.7 60.5,-30.9 61.2,-31.4 61.9,-30.3 62.6,-22.3 63.3,-20.9 64.0,-24.1 64.7,-20.9 65.4,-34.8 66.1,-25.5 66.8,-20.9 67.5,-20.8 68.2,-20.9 68.9,-41.1 69.6,-21.8 70.3,-38.8 71.0,-23.3 71.6,-33.4 72.3,-33.3 73.0,-34.6 73.7,-26.0 74.4,-21.5 75.1,-25.7 75.8,-29.3 75.8,-3.3 71.6,-4.4 67.5,-6.7 63.3,-8.8 59.1,-5.4 55.0,-3.7 50.8,-9.2 46.6,-4.8 42.4,-5.0 38.3,-12.3 34.1,-5.2 29.9,-10.4 25.7,-9.3 21.6,-7.6 17.4,-9.1 13.2,-4.5 9.0,-8.5 4.9,-5.8 0.7,-9.8Z" fill="url(#gc)"/>
<path transform="matrix(1,0.5146,0,1,65.01,394.30)" d="M0,-3.8L0,-24.7 0.7,-20.8 1.4,-20.8 2.1,-24.6 2.8,-22.3 3.5,-24.6 4.2,-20.8 4.9,-22.2 5.6,-36.3 6.3,-26.0 7.0,-24.7 7.7,-20.8 8.3,-28.1 9.0,-24.2 9.7,-30.9 10.4,-28.0 11.1,-26.8 11.8,-24.5 12.5,-21.1 13.2,-29.0 13.9,-21.0 14.6,-27.2 15.3,-38.8 16.0,-43.3 16.7,-25.8 17.4,-21.7 18.1,-37.7 18.8,-22.1 19.5,-23.9 20.2,-38.4 20.9,-22.2 21.6,-28.6 22.3,-24.3 23.0,-24.7 23.7,-33.8 24.3,-28.4 25.0,-22.9 25.7,-22.0 26.4,-22.1 27.1,-24.6 27.8,-26.3 28.5,-51.8 29.2,-24.2 29.9,-29.1 30.6,-27.9 31.3,-24.9 32.0,-28.8 32.7,-34.1 33.4,-29.4 34.1,-37.0 34.8,-36.3 35.5,-47.2 36.2,-48.7 36.9,-48.1 37.6,-54.6 38.3,-55.7 39.0,-61.5 39.6,-42.5 40.3,-54.9 41.0,-40.7 41.7,-33.0 42.4,-51.0 43.1,-37.5 43.8,-29.6 44.5,-37.4 45.2,-34.3 45.9,-23.6 46.6,-24.3 47.3,-22.7 48.0,-41.2 48.7,-23.0 49.4,-22.1 50.1,-23.8 50.8,-39.1 51.5,-32.4 52.2,-21.7 52.9,-23.1 53.6,-47.9 54.3,-28.0 55.0,-41.5 55.6,-21.4 56.3,-21.6 57.0,-41.4 57.7,-21.7 58.4,-37.2 59.1,-21.2 59.8,-22.2 60.5,-22.7 61.2,-24.8 61.9,-21.2 62.6,-22.0 63.3,-22.1 64.0,-27.3 64.7,-21.5 65.4,-25.4 66.1,-35.0 66.8,-21.7 67.5,-36.9 68.2,-23.6 68.9,-29.2 69.6,-20.8 70.3,-29.6 71.0,-20.8 71.6,-46.3 72.3,-28.6 73.0,-30.3 73.7,-20.8 74.4,-49.8 75.1,-40.6 75.8,-20.8 75.8,-4.7 71.6,-9.7 67.5,-4.1 63.3,-8.9 59.1,-7.0 55.0,-9.8 50.8,-8.5 46.6,-5.7 42.4,-8.7 38.3,-15.6 34.1,-9.3 29.9,-4.4 25.7,-10.2 21.6,-5.1 17.4,-9.9 13.2,-8.5 9.0,-6.7 4.9,-8.4 0.7,-6.5Z" fill="url(#gc)"/>
<path transform="matrix(1,0.5146,0,1,62.42,395.05)" d="M0,-9.5L0,-21.6 0.7,-30.7 1.4,-21.1 2.1,-20.8 2.8,-20.8 3.5,-27.2 4.2,-32.6 4.9,-39.0 5.6,-28.8 6.3,-32.8 7.0,-21.0 7.7,-21.0 8.3,-32.2 9.0,-46.3 9.7,-21.1 10.4,-29.6 11.1,-22.5 11.8,-21.3 12.5,-43.1 13.2,-20.9 13.9,-39.2 14.6,-21.9 15.3,-21.0 16.0,-21.1 16.7,-40.6 17.4,-21.2 18.1,-21.7 18.8,-23.2 19.5,-31.8 20.2,-32.8 20.9,-21.4 21.6,-23.4 22.3,-22.8 23.0,-21.6 23.7,-28.6 24.3,-23.7 25.0,-33.3 25.7,-37.5 26.4,-34.1 27.1,-27.7 27.8,-43.4 28.5,-22.7 29.2,-42.7 29.9,-38.2 30.6,-24.1 31.3,-28.4 32.0,-36.0 32.7,-35.0 33.4,-39.4 34.1,-32.4 34.8,-50.7 35.5,-38.1 36.2,-46.0 36.9,-50.6 37.6,-69.9 38.3,-63.8 39.0,-63.5 39.6,-56.5 40.3,-48.8 41.0,-34.6 41.7,-31.7 42.4,-38.1 43.1,-44.7 43.8,-36.2 44.5,-39.9 45.2,-24.5 45.9,-38.2 46.6,-23.2 47.3,-41.0 48.0,-24.2 48.7,-43.5 49.4,-22.0 50.1,-34.2 50.8,-22.3 51.5,-27.7 52.2,-27.8 52.9,-23.7 53.6,-31.1 54.3,-21.5 55.0,-34.2 55.6,-31.5 56.3,-21.3 57.0,-23.7 57.7,-21.3 58.4,-24.4 59.1,-32.2 59.8,-24.2 60.5,-32.6 61.2,-22.4 61.9,-31.1 62.6,-21.2 63.3,-29.7 64.0,-29.5 64.7,-23.7 65.4,-29.1 66.1,-21.3 66.8,-26.5 67.5,-21.5 68.2,-21.1 68.9,-20.8 69.6,-24.6 70.3,-44.0 71.0,-22.3 71.6,-20.8 72.3,-21.2 73.0,-21.0 73.7,-28.9 74.4,-27.1 75.1,-43.1 75.8,-32.3 75.8,-6.7 71.6,-8.8 67.5,-5.5 63.3,-3.9 59.1,-6.9 55.0,-7.8 50.8,-9.2 46.6,-7.1 42.4,-9.3 38.3,-14.5 34.1,-9.7 29.9,-5.4 25.7,-7.8 21.6,-6.5 17.4,-6.8 13.2,-4.0 9.0,-9.5 4.9,-4.3 0.7,-3.8Z" fill="url(#gc)"/>
<path transform="matrix(1,0.5146,0,1,59.83,395.80)" d="M0,-4.0L0,-20.7 0.7,-30.4 1.4,-20.8 2.1,-26.0 2.8,-21.4 3.5,-41.0 4.2,-21.7 4.9,-21.1 5.6,-35.4 6.3,-25.3 7.0,-26.2 7.7,-20.8 8.3,-20.8 9.0,-20.7 9.7,-24.2 10.4,-22.2 11.1,-21.2 11.8,-43.1 12.5,-30.6 13.2,-31.6 13.9,-24.3 14.6,-21.0 15.3,-23.8 16.0,-25.3 16.7,-21.2 17.4,-25.9 18.1,-37.5 18.8,-24.1 19.5,-21.3 20.2,-21.4 20.9,-38.4 21.6,-21.5 22.3,-34.5 23.0,-22.1 23.7,-24.4 24.3,-46.0 25.0,-21.8 25.7,-23.9 26.4,-23.5 27.1,-22.2 27.8,-23.6 28.5,-23.2 29.2,-23.0 29.9,-42.2 30.6,-24.1 31.3,-30.0 32.0,-26.1 32.7,-29.9 33.4,-43.6 34.1,-34.5 34.8,-46.1 35.5,-52.1 36.2,-45.0 36.9,-64.2 37.6,-70.1 38.3,-69.2 39.0,-64.4 39.6,-55.7 40.3,-41.1 41.0,-50.7 41.7,-31.6 42.4,-29.2 43.1,-36.7 43.8,-31.7 44.5,-51.3 45.2,-42.9 45.9,-23.5 46.6,-23.7 47.3,-29.4 48.0,-30.9 48.7,-22.3 49.4,-24.4 50.1,-22.0 50.8,-39.3 51.5,-22.2 52.2,-36.2 52.9,-21.9 53.6,-21.6 54.3,-30.0 55.0,-22.7 55.6,-36.3 56.3,-40.2 57.0,-24.6 57.7,-33.8 58.4,-26.1 59.1,-23.7 59.8,-35.6 60.5,-22.6 61.2,-39.5 61.9,-24.3 62.6,-23.1 63.3,-20.8 64.0,-26.5 64.7,-20.7 65.4,-22.2 66.1,-21.0 66.8,-20.8 67.5,-23.1 68.2,-37.5 68.9,-23.4 69.6,-35.3 70.3,-21.5 71.0,-40.8 71.6,-20.7 72.3,-21.1 73.0,-42.2 73.7,-21.1 74.4,-28.3 75.1,-21.8 75.8,-22.8 75.8,-6.5 71.6,-6.1 67.5,-7.8 63.3,-6.6 59.1,-6.9 55.0,-4.0 50.8,-10.2 46.6,-8.5 42.4,-9.8 38.3,-10.0 34.1,-10.7 29.9,-4.3 25.7,-9.5 21.6,-5.7 17.4,-7.5 13.2,-8.4 9.0,-8.2 4.9,-9.7 0.7,-4.5Z" fill="url(#gc)"/>
<path transform="matrix(1,0.5146,0,1,57.24,396.55)" d="M0,-9.1L0,-20.7 0.7,-27.7 1.4,-21.0 2.1,-34.1 2.8,-20.7 3.5,-24.2 4.2,-24.5 4.9,-20.9 5.6,-29.1 6.3,-37.0 7.0,-20.8 7.7,-26.4 8.3,-20.9 9.0,-37.0 9.7,-21.0 10.4,-45.4 11.1,-21.0 11.8,-20.7 12.5,-25.2 13.2,-20.8 13.9,-20.9 14.6,-23.2 15.3,-22.2 16.0,-21.2 16.7,-21.1 17.4,-38.1 18.1,-22.5 18.8,-21.2 19.5,-27.8 20.2,-24.0 20.9,-32.2 21.6,-21.4 22.3,-35.6 23.0,-26.6 23.7,-21.6 24.3,-21.7 25.0,-25.9 25.7,-49.2 26.4,-31.0 27.1,-25.1 27.8,-25.1 28.5,-22.6 29.2,-30.2 29.9,-23.9 30.6,-31.9 31.3,-50.5 32.0,-28.0 32.7,-39.7 33.4,-38.6 34.1,-32.4 34.8,-39.1 35.5,-46.4 36.2,-61.1 36.9,-49.5 37.6,-65.6 38.3,-65.8 39.0,-66.8 39.6,-46.2 40.3,-41.0 41.0,-52.0 41.7,-44.3 42.4,-30.6 43.1,-32.6 43.8,-25.9 44.5,-25.6 45.2,-29.3 45.9,-28.0 46.6,-24.4 47.3,-24.1 48.0,-28.9 48.7,-37.5 49.4,-23.0 50.1,-31.6 50.8,-22.3 51.5,-21.9 52.2,-22.8 52.9,-22.1 53.6,-23.7 54.3,-38.2 55.0,-21.5 55.6,-37.5 56.3,-27.1 57.0,-27.2 57.7,-22.2 58.4,-22.4 59.1,-41.8 59.8,-39.4 60.5,-22.6 61.2,-34.2 61.9,-25.4 62.6,-21.0 63.3,-20.8 64.0,-28.8 64.7,-24.6 65.4,-21.2 66.1,-34.9 66.8,-26.1 67.5,-27.0 68.2,-20.7 68.9,-27.1 69.6,-20.7 70.3,-24.7 71.0,-26.4 71.6,-20.8 72.3,-31.7 73.0,-40.4 73.7,-21.1 74.4,-25.5 75.1,-32.1 75.8,-31.4 75.8,-5.3 71.6,-5.2 67.5,-5.5 63.3,-9.3 59.1,-3.1 55.0,-6.8 50.8,-7.2 46.6,-6.7 42.4,-6.5 38.3,-10.3 34.1,-8.8 29.9,-3.9 25.7,-4.4 21.6,-3.5 17.4,-8.7 13.2,-6.4 9.0,-7.9 4.9,-3.8 0.7,-4.3Z" fill="url(#gc)"/>
<path transform="matrix(1,0.5146,0,1,54.65,397.30)" d="M0,-8.7L0,-21.1 0.7,-22.5 1.4,-33.3 2.1,-23.7 2.8,-29.0 3.5,-41.0 4.2,-23.1 4.9,-42.4 5.6,-34.7 6.3,-20.6 7.0,-31.7 7.7,-20.6 8.3,-32.0 9.0,-29.2 9.7,-20.6 10.4,-20.6 11.1,-22.5 11.8,-27.0 12.5,-26.5 13.2,-23.2 13.9,-33.4 14.6,-36.5 15.3,-20.9 16.0,-21.0 16.7,-23.8 17.4,-23.1 18.1,-29.7 18.8,-21.6 19.5,-21.3 20.2,-22.4 20.9,-24.7 21.6,-43.7 22.3,-21.7 23.0,-29.9 23.7,-33.5 24.3,-23.9 25.0,-21.7 25.7,-39.9 26.4,-22.2 27.1,-31.5 27.8,-33.5 28.5,-33.1 29.2,-42.8 29.9,-31.0 30.6,-23.9 31.3,-27.9 32.0,-27.4 32.7,-40.1 33.4,-33.2 34.1,-37.2 34.8,-34.3 35.5,-49.5 36.2,-51.0 36.9,-47.8 37.6,-70.0 38.3,-55.6 39.0,-64.2 39.6,-42.9 40.3,-58.8 41.0,-34.6 41.7,-32.5 42.4,-29.1 43.1,-27.3 43.8,-29.8 44.5,-26.3 45.2,-26.1 45.9,-24.1 46.6,-24.3 47.3,-37.9 48.0,-22.3 48.7,-22.9 49.4,-21.9 50.1,-43.2 50.8,-38.4 51.5,-24.5 52.2,-21.5 52.9,-21.5 53.6,-29.6 54.3,-21.9 55.0,-30.3 55.6,-32.0 56.3,-22.4 57.0,-29.6 57.7,-22.2 58.4,-41.8 59.1,-21.0 59.8,-21.0 60.5,-44.0 61.2,-40.7 61.9,-28.6 62.6,-25.5 63.3,-27.2 64.0,-34.7 64.7,-20.9 65.4,-22.0 66.1,-20.7 66.8,-23.8 67.5,-29.6 68.2,-25.5 68.9,-20.6 69.6,-21.1 70.3,-48.0 71.0,-29.1 71.6,-25.4 72.3,-20.6 73.0,-29.8 73.7,-23.1 74.4,-39.6 75.1,-30.9 75.8,-33.2 75.8,-3.5 71.6,-5.4 67.5,-7.1 63.3,-9.4 59.1,-6.5 55.0,-3.8 50.8,-8.5 46.6,-4.1 42.4,-12.0 38.3,-16.1 34.1,-10.1 29.9,-9.4 25.7,-8.9 21.6,-3.1 17.4,-10.0 13.2,-6.3 9.0,-4.0 4.9,-7.2 0.7,-5.1Z" fill="url(#gc)"/>
<path transform="matrix(1,0.5146,0,1,52.05,398.05)" d="M0,-3.9L0,-20.9 0.7,-24.7 1.4,-20.9 2.1,-35.0 2.8,-21.7 3.5,-37.8 4.2,-20.6 4.9,-20.6 5.6,-23.6 6.3,-38.3 7.0,-21.2 7.7,-20.6 8.3,-33.0 9.0,-21.4 9.7,-28.1 10.4,-40.0 11.1,-21.0 11.8,-23.0 12.5,-38.0 13.2,-20.9 13.9,-20.8 14.6,-23.6 15.3,-21.1 16.0,-20.9 16.7,-21.0 17.4,-21.9 18.1,-22.7 18.8,-21.2 19.5,-36.7 20.2,-22.8 20.9,-21.6 21.6,-41.7 22.3,-21.5 23.0,-49.2 23.7,-27.6 24.3,-24.7 25.0,-21.7 25.7,-23.2 26.4,-23.0 27.1,-22.8 27.8,-22.3 28.5,-22.6 29.2,-22.8 29.9,-43.0 30.6,-34.7 31.3,-43.3 32.0,-38.9 32.7,-28.0 33.4,-29.8 34.1,-32.0 34.8,-54.9 35.5,-48.0 36.2,-64.3 36.9,-55.4 37.6,-68.1 38.3,-83.7 39.0,-51.6 39.6,-41.9 40.3,-38.2 41.0,-34.8 41.7,-39.8 42.4,-29.4 43.1,-41.4 43.8,-25.9 44.5,-25.7 45.2,-24.0 45.9,-26.7 46.6,-28.8 47.3,-23.6 48.0,-22.3 48.7,-32.2 49.4,-26.4 50.1,-27.5 50.8,-44.2 51.5,-37.8 52.2,-24.8 52.9,-32.3 53.6,-21.4 54.3,-21.3 55.0,-24.0 55.6,-33.9 56.3,-27.3 57.0,-31.3 57.7,-23.3 58.4,-21.1 59.1,-24.3 59.8,-38.2 60.5,-31.6 61.2,-21.0 61.9,-40.7 62.6,-23.0 63.3,-20.9 64.0,-25.1 64.7,-27.7 65.4,-20.7 66.1,-20.6 66.8,-23.5 67.5,-22.4 68.2,-22.6 68.9,-35.9 69.6,-23.1 70.3,-20.6 71.0,-39.5 71.6,-21.1 72.3,-20.8 73.0,-22.0 73.7,-21.3 74.4,-21.5 75.1,-20.6 75.8,-42.5 75.8,-3.3 71.6,-3.2 67.5,-6.2 63.3,-8.7 59.1,-6.1 55.0,-5.0 50.8,-4.2 46.6,-5.5 42.4,-6.6 38.3,-14.3 34.1,-8.5 29.9,-6.2 25.7,-6.5 21.6,-4.6 17.4,-5.0 13.2,-7.8 9.0,-7.3 4.9,-7.5 0.7,-7.8Z" fill="url(#gc)"/>
<path transform="matrix(1,0.5146,0,1,49.46,398.80)" d="M0,-3.5L0,-21.3 0.7,-32.2 1.4,-22.2 2.1,-29.1 2.8,-20.8 3.5,-25.2 4.2,-20.5 4.9,-21.2 5.6,-20.7 6.3,-36.1 7.0,-20.6 7.7,-21.2 8.3,-27.4 9.0,-22.9 9.7,-20.9 10.4,-22.8 11.1,-20.5 11.8,-20.6 12.5,-20.9 13.2,-38.4 13.9,-22.0 14.6,-22.2 15.3,-22.1 16.0,-20.9 16.7,-21.4 17.4,-38.1 18.1,-29.7 18.8,-21.7 19.5,-25.0 20.2,-30.5 20.9,-25.1 21.6,-21.3 22.3,-28.5 23.0,-21.7 23.7,-26.1 24.3,-51.3 25.0,-42.4 25.7,-41.7 26.4,-25.3 27.1,-33.2 27.8,-22.2 28.5,-29.9 29.2,-26.1 29.9,-29.8 30.6,-24.0 31.3,-25.4 32.0,-26.2 32.7,-28.1 33.4,-41.9 34.1,-33.1 34.8,-38.6 35.5,-38.4 36.2,-52.4 36.9,-47.6 37.6,-53.7 38.3,-50.5 39.0,-51.2 39.6,-59.8 40.3,-40.3 41.0,-44.6 41.7,-36.4 42.4,-48.1 43.1,-38.6 43.8,-32.5 44.5,-27.8 45.2,-23.9 45.9,-23.4 46.6,-27.5 47.3,-22.9 48.0,-35.9 48.7,-22.0 49.4,-22.4 50.1,-35.3 50.8,-22.6 51.5,-21.6 52.2,-32.4 52.9,-30.5 53.6,-39.3 54.3,-21.7 55.0,-25.6 55.6,-21.4 56.3,-38.0 57.0,-21.1 57.7,-21.5 58.4,-39.8 59.1,-22.2 59.8,-20.9 60.5,-25.9 61.2,-20.8 61.9,-29.9 62.6,-39.3 63.3,-23.1 64.0,-21.2 64.7,-20.6 65.4,-42.1 66.1,-21.7 66.8,-26.1 67.5,-28.4 68.2,-20.9 68.9,-36.9 69.6,-22.9 70.3,-28.5 71.0,-31.9 71.6,-20.5 72.3,-21.5 73.0,-33.7 73.7,-30.4 74.4,-20.7 75.1,-34.2 75.8,-22.7 75.8,-3.3 71.6,-3.9 67.5,-3.4 63.3,-4.8 59.1,-9.5 55.0,-6.1 50.8,-7.0 46.6,-3.5 42.4,-12.3 38.3,-14.5 34.1,-4.3 29.9,-9.6 25.7,-4.4 21.6,-8.1 17.4,-5.2 13.2,-4.7 9.0,-3.8 4.9,-6.1 0.7,-9.3Z" fill="url(#gc)"/>
<path transform="matrix(1,0.5146,0,1,46.87,399.54)" d="M0,-9.3L0,-23.4 0.7,-23.3 1.4,-20.9 2.1,-20.5 2.8,-21.7 3.5,-21.1 4.2,-24.2 4.9,-32.7 5.6,-33.2 6.3,-20.5 7.0,-34.8 7.7,-21.3 8.3,-35.3 9.0,-21.1 9.7,-39.7 10.4,-21.9 11.1,-25.0 11.8,-22.0 12.5,-20.6 13.2,-37.4 13.9,-37.0 14.6,-21.7 15.3,-47.2 16.0,-23.0 16.7,-20.9 17.4,-22.3 18.1,-25.2 18.8,-22.7 19.5,-21.8 20.2,-36.8 20.9,-30.2 21.6,-40.5 22.3,-21.4 23.0,-21.4 23.7,-24.4 24.3,-25.7 25.0,-21.6 25.7,-22.0 26.4,-26.3 27.1,-38.3 27.8,-37.7 28.5,-37.8 29.2,-26.4 29.9,-31.6 30.6,-29.6 31.3,-26.3 32.0,-25.9 32.7,-31.7 33.4,-30.2 34.1,-35.9 34.8,-45.2 35.5,-49.8 36.2,-42.1 36.9,-60.7 37.6,-69.7 38.3,-50.6 39.0,-62.4 39.6,-57.7 40.3,-52.1 41.0,-56.4 41.7,-40.8 42.4,-43.5 43.1,-40.0 43.8,-35.9 44.5,-33.6 45.2,-42.1 45.9,-24.9 46.6,-25.4 47.3,-43.2 48.0,-22.4 48.7,-22.5 49.4,-34.0 50.1,-32.3 50.8,-24.0 51.5,-28.3 52.2,-30.4 52.9,-35.9 53.6,-21.3 54.3,-27.9 55.0,-24.9 55.6,-21.2 56.3,-40.2 57.0,-32.8 57.7,-21.0 58.4,-20.9 59.1,-20.9 59.8,-24.2 60.5,-20.9 61.2,-20.7 61.9,-21.1 62.6,-36.5 63.3,-22.2 64.0,-20.6 64.7,-28.8 65.4,-33.8 66.1,-20.7 66.8,-30.4 67.5,-23.0 68.2,-22.4 68.9,-30.5 69.6,-21.4 70.3,-20.5 71.0,-29.9 71.6,-25.4 72.3,-35.5 73.0,-34.6 73.7,-31.2 74.4,-21.0 75.1,-21.0 75.8,-21.4 75.8,-3.3 71.6,-6.2 67.5,-9.1 63.3,-4.9 59.1,-8.7 55.0,-3.3 50.8,-9.8 46.6,-4.9 42.4,-11.2 38.3,-10.8 34.1,-4.9 29.9,-9.3 25.7,-9.3 21.6,-8.7 17.4,-4.9 13.2,-5.6 9.0,-9.4 4.9,-9.8 0.7,-3.5Z" fill="url(#gc)"/>
<path transform="matrix(1,0.5146,0,1,44.28,400.29)" d="M0,-6.0L0,-20.5 0.7,-26.9 1.4,-20.5 2.1,-42.3 2.8,-34.7 3.5,-35.3 4.2,-31.1 4.9,-35.5 5.6,-27.1 6.3,-40.7 7.0,-20.5 7.7,-35.2 8.3,-33.4 9.0,-34.0 9.7,-22.1 10.4,-22.7 11.1,-37.4 11.8,-20.9 12.5,-20.7 13.2,-21.4 13.9,-29.9 14.6,-20.8 15.3,-41.1 16.0,-26.8 16.7,-31.8 17.4,-20.9 18.1,-39.0 18.8,-33.3 19.5,-21.4 20.2,-25.7 20.9,-21.3 21.6,-21.2 22.3,-21.4 23.0,-21.3 23.7,-22.6 24.3,-41.7 25.0,-25.6 25.7,-24.2 26.4,-24.1 27.1,-26.9 27.8,-43.0 28.5,-22.7 29.2,-23.3 29.9,-23.2 30.6,-25.1 31.3,-29.2 32.0,-25.9 32.7,-28.0 33.4,-29.4 34.1,-61.0 34.8,-43.4 35.5,-37.6 36.2,-58.1 36.9,-52.2 37.6,-50.4 38.3,-57.7 39.0,-51.0 39.6,-50.7 40.3,-48.6 41.0,-34.1 41.7,-32.0 42.4,-29.0 43.1,-27.1 43.8,-30.5 44.5,-28.7 45.2,-24.6 45.9,-50.6 46.6,-24.3 47.3,-24.2 48.0,-32.1 48.7,-23.7 49.4,-36.5 50.1,-22.2 50.8,-21.5 51.5,-42.6 52.2,-23.6 52.9,-32.0 53.6,-21.7 54.3,-21.6 55.0,-22.6 55.6,-21.2 56.3,-21.3 57.0,-31.3 57.7,-21.0 58.4,-20.9 59.1,-23.5 59.8,-33.7 60.5,-23.1 61.2,-32.5 61.9,-20.7 62.6,-22.0 63.3,-27.5 64.0,-36.5 64.7,-20.5 65.4,-20.5 66.1,-20.5 66.8,-20.6 67.5,-20.5 68.2,-37.1 68.9,-20.5 69.6,-20.6 70.3,-29.2 71.0,-20.8 71.6,-27.3 72.3,-22.8 73.0,-23.0 73.7,-26.9 74.4,-30.1 75.1,-28.1 75.8,-20.5 75.8,-5.4 71.6,-8.5 67.5,-9.0 63.3,-9.1 59.1,-7.2 55.0,-4.4 50.8,-8.1 46.6,-3.6 42.4,-7.7 38.3,-12.0 34.1,-6.8 29.9,-7.2 25.7,-4.0 21.6,-6.8 17.4,-8.8 13.2,-8.9 9.0,-5.1 4.9,-3.1 0.7,-8.8Z" fill="url(#gc)"/>
<path transform="matrix(1,0.5146,0,1,41.69,401.04)" d="M0,-2.5L0,-35.5 0.7,-29.1 1.4,-20.4 2.1,-20.4 2.8,-20.6 3.5,-20.5 4.2,-20.9 4.9,-29.9 5.6,-23.6 6.3,-33.4 7.0,-30.7 7.7,-22.4 8.3,-43.6 9.0,-27.3 9.7,-20.4 10.4,-20.5 11.1,-23.3 11.8,-20.5 12.5,-37.7 13.2,-20.7 13.9,-42.5 14.6,-25.3 15.3,-30.6 16.0,-27.7 16.7,-34.6 17.4,-20.9 18.1,-27.8 18.8,-21.6 19.5,-27.8 20.2,-21.1 20.9,-21.2 21.6,-21.4 22.3,-21.2 23.0,-28.4 23.7,-36.4 24.3,-21.7 25.0,-40.6 25.7,-36.2 26.4,-31.3 27.1,-23.3 27.8,-22.1 28.5,-34.4 29.2,-39.7 29.9,-23.7 30.6,-25.8 31.3,-30.3 32.0,-53.3 32.7,-29.9 33.4,-33.0 34.1,-48.8 34.8,-34.2 35.5,-57.6 36.2,-55.1 36.9,-61.4 37.6,-58.8 38.3,-68.5 39.0,-65.2 39.6,-43.5 40.3,-39.7 41.0,-52.3 41.7,-37.1 42.4,-33.7 43.1,-36.3 43.8,-31.3 44.5,-33.8 45.2,-40.8 45.9,-33.8 46.6,-22.8 47.3,-23.1 48.0,-23.7 48.7,-26.6 49.4,-21.8 50.1,-39.7 50.8,-21.5 51.5,-30.9 52.2,-21.4 52.9,-21.4 53.6,-31.2 54.3,-27.3 55.0,-31.6 55.6,-21.3 56.3,-22.4 57.0,-34.8 57.7,-26.6 58.4,-38.0 59.1,-20.8 59.8,-34.9 60.5,-37.0 61.2,-38.2 61.9,-26.8 62.6,-20.7 63.3,-20.9 64.0,-36.8 64.7,-22.5 65.4,-22.3 66.1,-21.9 66.8,-48.2 67.5,-20.4 68.2,-23.7 68.9,-20.4 69.6,-33.3 70.3,-35.1 71.0,-20.4 71.6,-26.6 72.3,-20.7 73.0,-21.3 73.7,-20.5 74.4,-20.6 75.1,-37.7 75.8,-20.7 75.8,-6.0 74.4,-5.4 73.0,-1.8 71.6,-1.1 70.3,-2.3 68.9,-1.2 67.5,-1.0 66.1,-2.0 64.7,-0.9 63.3,-1.9 61.9,-1.1 60.5,-1.9 59.1,-1.8 57.7,-1.0 56.3,-2.6 55.0,-1.9 53.6,-1.8 52.2,-2.5 50.8,-1.1 49.4,-0.9 48.0,-3.0 46.6,-3.0 45.2,-1.5 43.8,-3.3 42.4,-1.1 41.0,-2.9 39.6,-3.8 38.3,-3.7 36.9,-3.9 35.5,-3.8 34.1,-2.6 32.7,-1.2 31.3,-1.2 29.9,-1.8 28.5,-2.6 27.1,-1.3 25.7,-1.3 24.3,-1.8 23.0,-2.5 21.6,-1.4 20.2,-1.4 18.8,-2.2 17.4,-1.5 16.0,-2.6 14.6,-1.5 13.2,-2.0 11.8,-1.2 10.4,-1.1 9.0,-2.6 7.7,-2.8 6.3,-1.8 4.9,-1.8 3.5,-0.9 2.1,-1.3 0.7,-2.7Z" fill="url(#gc)"/>
<path d="M134.3,384.2v30.2M172.7,402.3v9.3M168.1,378.3v21.8M190.3,372.5v12.2M128.7,396.5v10.6M206.6,356.5v26.0M149.8,366.1v16.3M212.4,375.6v11.5M164.4,369.9v20.0M118.9,412.7v14.1M144.9,407.0v15.0M151.8,387.0v10.7M169.5,367.2v16.4M134.5,381.4v24.6M206.4,387.8v9.0M224.3,390.5v13.6M102.7,383.8v20.8M121.1,401.8v9.6M174.3,365.6v14.4M181.6,374.9v15.3M125.3,359.6v19.2M66.4,390.1v12.6M89.7,381.2v12.9M178.3,327.4v38.8M146.3,359.3v17.4M98.7,356.8v22.7M160.1,393.3v18.6M153.0,411.8v12.4M182.9,364.3v12.1M125.7,410.5v8.0M150.3,368.5v18.1M128.2,389.8v16.4M149.6,409.4v10.8M209.1,393.9v12.9M165.1,386.6v20.6M184.9,361.4v11.1M164.8,401.9v11.5M170.3,369.4v14.8M168.9,350.9v33.7M148.5,391.6v15.6M233.7,386.2v14.5M128.1,361.8v14.0M191.2,390.4v15.5M104.1,402.1v13.4M148.8,365.4v22.6M224.0,370.1v23.4M185.6,396.0v14.2M129.4,413.2v9.4M122.2,383.6v24.3M156.0,396.1v16.8M103.6,407.6v18.5M193.7,386.9v11.9M122.4,405.3v21.7M216.8,379.6v13.2M143.4,350.5v22.9M177.1,365.9v22.6M93.6,364.6v15.4M135.9,366.8v11.5M103.3,379.9v18.6M133.3,406.6v13.3M161.6,368.7v21.4M181.3,405.2v8.8M139.4,407.3v10.1M120.3,414.5v15.6M91.5,357.8v28.3M159.2,388.4v9.3M141.6,355.6v11.8M186.9,399.9v6.0M151.3,393.9v16.6M102.1,352.6v23.2M205.8,379.6v13.8M92.7,397.6v9.0M188.3,385.5v25.3M162.2,401.8v10.5M214.9,371.9v18.9M126.2,373.0v6.2M140.6,406.7v19.4M210.2,394.9v8.5M108.5,371.9v8.6M147.2,364.9v24.1M194.8,395.3v8.7M117.7,361.9v38.1M200.1,375.8v11.7M177.9,348.5v11.1M101.8,389.6v21.4M192.2,404.3v8.9M123.6,388.8v8.7M108.4,371.5v8.9M226.5,384.1v14.8M160.4,396.3v12.7M132.5,409.5v10.1M148.4,386.6v16.0M68.4,379.0v9.4M129.2,369.0v21.9M188.8,387.5v6.4M193.3,384.9v20.2M169.8,365.5v18.1M176.4,387.7v13.0M131.7,406.4v8.7M155.8,349.1v25.4M228.5,386.8v15.3M102.8,394.4v18.8M160.7,344.3v29.0M161.9,332.1v33.3M115.4,366.2v17.5M107.2,379.6v10.0M75.0,387.2v13.6M63.5,389.5v11.4M103.4,407.8v17.9M120.5,375.1v18.1M130.1,382.7v14.4M161.8,397.2v9.2M118.2,409.3v9.6M164.9,361.1v16.7M162.4,401.3v16.9M92.6,379.1v17.9M143.7,369.3v14.5M129.5,384.2v18.2M114.7,371.2v18.2M96.3,381.7v13.0M143.6,399.3v9.0M133.7,415.0v14.2M206.9,385.2v12.4M145.0,379.8v17.1M205.9,394.3v9.2M229.4,383.3v15.5M164.7,346.2v11.1M109.4,368.9v22.3M65.7,391.0v15.0M116.9,364.1v16.2M130.0,412.2v10.7M176.4,376.2v19.6M168.6,352.8v18.5M196.9,374.4v17.6M105.0,372.6v25.7M107.2,386.0v9.9M117.7,385.0v14.9M125.4,407.9v9.7M68.2,367.5v19.0M223.8,378.8v18.7M156.6,372.6v13.3M170.3,406.7v11.8M73.5,388.2v20.1M188.7,393.6v15.6M75.3,384.9v12.0M192.3,373.2v13.6M158.5,412.1v6.6M115.0,407.4v17.9M120.7,358.2v23.9M206.2,376.3v10.1M60.3,390.4v6.6M69.6,373.6v16.0M149.1,368.5v15.4M94.9,391.4v18.7M183.6,403.8v11.0M158.4,398.1v8.0M166.3,390.2v15.8M88.8,371.8v10.7M178.6,361.4v11.2M164.4,358.7v16.6M170.8,358.0v25.8M193.3,399.9v7.0M171.3,402.4v10.3M82.5,390.8v17.5M133.0,396.7v10.5M143.2,381.7v8.8M173.6,369.5v27.5M182.3,408.4v7.8M66.6,395.1v13.7M199.4,372.2v10.4M143.0,373.2v12.1M202.9,390.3v15.4M87.3,384.6v11.7M86.0,396.9v10.9M98.1,378.6v4.9M102.6,382.2v13.8M113.1,373.6v13.3M176.4,368.9v19.6M197.2,368.3v17.7M129.4,409.2v6.7M152.1,345.7v44.6M133.1,396.5v8.8M108.8,390.6v10.3M135.4,420.1v9.7M125.3,357.6v17.4M123.7,401.2v22.2M108.7,401.1v10.2M177.9,386.7v20.3M146.9,360.3v14.9M94.2,402.1v16.3M173.5,393.1v8.0M154.1,372.2v15.9M145.7,360.3v5.8M116.6,367.3v15.2M117.2,404.6v19.9M162.3,410.4v10.4M190.0,394.0v19.9M91.3,368.3v13.4M187.0,383.5v11.8M122.9,377.4v10.4M105.5,399.4v20.7M173.4,386.1v12.5M159.3,389.6v22.2M144.6,361.2v31.9M134.8,358.0v13.0M89.1,408.7v11.4M112.7,406.4v15.6M119.5,382.3v16.9M113.7,382.1v17.1M126.1,365.7v18.5M208.5,389.8v18.8M218.5,388.8v12.8M163.3,391.3v19.1M173.6,380.1v18.7M118.9,362.0v17.3M193.7,381.8v23.7M171.7,384.5v16.2M116.2,381.6v8.5M98.2,389.1v15.7M187.6,388.9v19.5M119.6,392.4v15.3M123.9,391.5v14.4M189.1,401.2v8.4M165.9,358.7v19.4M142.0,376.8v12.0M127.7,419.3v8.8M175.3,396.6v16.0M145.9,350.1v39.3M121.9,383.6v20.4M133.6,379.2v9.9M160.9,383.4v17.6M164.6,367.4v9.6M204.7,370.3v25.2M116.0,403.1v21.0M199.4,393.1v14.2M87.4,368.8v30.6M96.0,380.2v15.0M174.8,359.0v12.8M108.2,413.1v13.0M114.6,407.5v12.9M66.4,379.6v10.5M194.0,393.6v13.7M87.8,385.7v22.6M105.5,400.8v24.5M147.3,377.1v9.9M166.1,372.1v19.0M159.1,366.2v14.5M120.7,421.6v6.5M103.0,379.1v19.1M66.8,387.5v15.2M204.6,379.5v22.9M85.2,387.6v13.7M169.8,388.9v9.0M185.8,350.1v31.9M128.4,404.8v17.2M157.6,406.4v14.1M89.9,380.3v17.1" stroke="#4441d8" stroke-width="0.9" fill="none" opacity="0.85"/>
<path d="M108.6,408.4v7.2M200.1,373.1v14.5M159.9,355.0v16.4M179.1,375.7v17.4M130.9,394.2v9.5M128.1,364.8v8.8M122.5,418.3v11.3M126.5,407.3v15.7M111.8,415.7v14.4M164.9,352.5v13.1M122.7,417.8v14.0M56.8,385.1v12.4M109.7,374.9v29.8M119.0,403.1v11.1M165.4,360.7v5.2M96.7,380.5v18.8M79.2,390.1v6.4M115.6,382.1v7.9M161.8,361.1v17.1M150.1,356.8v15.8M201.3,387.8v10.9M55.0,382.7v14.0M133.1,387.9v17.2M183.7,356.5v18.2M117.1,378.4v21.6M164.4,373.0v8.7M117.9,397.4v12.3M112.8,412.4v12.2M85.1,388.7v8.7M178.5,406.5v5.7M87.9,390.9v9.7M177.1,396.9v12.8M138.5,377.4v8.0M167.0,398.2v10.0M153.7,380.0v15.3M151.1,394.7v9.1M144.4,363.2v16.4M221.6,384.0v9.5M73.4,390.5v17.3M135.9,373.7v12.2M223.0,391.0v6.1M161.4,396.1v13.1M196.7,385.8v15.3M93.3,410.8v6.9M100.9,381.7v5.0M148.6,367.1v6.7M126.9,416.5v8.7M138.1,409.8v19.3M106.7,375.3v16.7M184.7,395.3v7.6M96.1,367.2v9.3M145.1,366.4v25.5M182.1,393.5v22.3M173.6,390.5v11.7M100.5,401.2v14.3M102.4,412.2v15.4M159.6,396.6v7.6M158.3,363.2v9.3M119.0,376.6v16.4M113.7,373.2v7.6M145.5,354.6v13.4M183.0,390.5v9.1M81.7,375.1v12.2M123.8,366.4v33.0M101.8,373.9v7.3M101.8,373.5v20.0M180.8,404.4v11.1M120.7,428.5v5.9M144.1,372.2v7.4M127.9,395.5v20.0M83.0,389.5v8.6M217.0,394.9v5.9M121.1,367.8v6.6M161.2,391.8v15.7M172.8,352.6v24.7M73.8,379.4v10.2M164.9,367.4v18.5M112.9,423.4v9.6M205.4,392.8v9.9M89.4,376.5v8.5M152.5,357.8v15.5M166.4,385.9v13.7M63.1,378.1v18.9M127.9,376.7v9.6M106.4,416.8v8.5M195.4,384.4v13.6M162.0,374.1v10.4M119.2,418.6v13.3M173.2,346.7v19.8M167.6,389.5v5.7M98.5,383.4v12.3M169.2,393.3v9.5M141.3,411.7v10.8M170.9,352.5v21.2M155.5,386.3v10.9M84.1,390.0v15.3M123.3,401.3v9.4M200.1,391.7v6.7M72.2,386.9v12.2M123.0,410.2v8.7M197.6,390.2v15.2M198.2,383.4v7.1M201.6,395.6v9.5M155.9,351.0v15.8M105.2,412.2v8.2M166.2,386.4v14.7M172.6,393.4v21.8M193.0,396.2v15.1M202.8,392.0v5.6M155.8,355.8v22.2M148.9,353.1v12.3M132.1,400.0v6.8M142.4,410.2v8.6M99.2,378.2v12.2M119.1,383.3v15.8M123.9,370.8v7.3M146.1,365.0v7.3M112.1,390.9v5.7M107.2,379.1v10.3M91.2,383.9v26.9M109.2,377.9v12.2M61.8,400.7v5.7M105.3,407.3v19.6M222.0,382.8v9.2M225.9,391.5v9.2M99.1,388.0v14.4M64.7,375.6v12.1M158.5,411.6v8.9M176.4,359.4v12.1M101.7,378.0v7.3M134.1,418.4v4.5M76.1,376.3v14.7M222.5,386.7v12.6M63.2,378.4v14.3M88.6,407.3v12.4M182.5,397.5v10.3M209.6,383.0v7.2M179.0,362.8v10.7M59.7,381.8v11.2M79.8,374.0v14.8M172.3,364.3v19.6M167.9,390.5v12.5M130.0,396.1v13.7M166.9,369.0v5.6M160.6,393.3v9.3M68.4,397.4v10.7M124.2,367.6v12.3M181.4,386.2v17.6M162.7,371.4v22.9M60.0,396.4v7.2M147.4,380.3v5.3M132.6,375.0v6.9M74.7,381.5v14.6M102.8,409.9v7.2M129.7,379.5v28.1M111.2,413.1v5.9M134.6,416.6v6.3M143.7,409.5v16.3M176.3,354.1v17.1M198.7,400.8v9.0M117.8,422.2v10.8M204.3,378.1v17.7M116.5,416.5v12.1M137.2,416.9v9.6M162.2,400.0v12.4M187.6,399.7v6.5M105.4,416.3v8.6M179.8,383.0v21.1M160.5,364.5v5.1M187.7,386.8v15.4M91.5,386.7v9.9M91.0,379.8v15.3M115.2,377.3v19.6M133.7,359.2v10.2M152.0,398.9v18.4M182.9,389.8v9.8M126.3,401.5v11.1M206.7,381.9v9.0M54.2,394.5v6.2M132.1,381.8v12.2M149.4,413.3v8.8M169.5,402.9v10.9M151.7,399.0v13.8M134.4,418.1v4.8M162.3,370.6v11.9M143.2,361.4v5.5M126.6,405.2v9.6M195.2,371.3v13.3M182.3,387.8v15.5M204.0,396.1v6.0M156.2,407.4v14.2M105.8,374.9v8.5M109.3,417.5v13.7M156.8,402.9v12.2M127.4,408.3v6.5M54.5,387.8v6.8M97.5,383.6v7.5M133.9,369.9v12.7M140.0,413.1v8.3M117.3,407.5v21.1M130.4,367.7v9.2M133.9,367.2v5.3M91.4,378.9v13.4M171.4,390.2v9.3M147.1,415.0v5.9M130.4,423.4v6.2M149.8,357.6v10.3M175.7,380.9v17.2M170.9,395.0v12.9M147.9,405.7v9.8M118.2,414.2v13.9M170.1,365.4v16.8M149.2,361.3v10.7M189.1,365.7v16.7M196.7,392.5v14.3M122.0,366.8v14.5M131.8,420.8v6.9M115.5,384.9v5.2M159.2,370.9v6.3M183.3,368.9v5.7M201.1,398.3v6.3M116.0,407.3v16.6M65.2,391.9v9.7M131.0,411.8v19.5M113.9,372.1v13.0M107.8,389.5v6.8M115.5,402.5v20.9M188.0,385.7v8.9M152.5,403.4v16.8" stroke="#4238c8" stroke-width="0.9" fill="none" opacity="0.85"/>
<path d="M79.3,377.4v9.7M105.6,410.1v10.3M127.6,380.1v11.6M57.2,384.8v6.8M79.7,395.9v10.8M117.6,404.5v11.4M195.2,376.3v12.7M168.0,406.5v6.6M123.1,364.0v9.3M208.7,388.2v12.3M164.2,395.5v7.2M114.8,375.2v16.4M164.9,393.2v12.0M98.2,389.0v10.6M123.0,400.6v9.6M184.3,395.8v9.0M135.0,357.6v13.0M95.5,380.9v7.4M150.5,409.9v8.8M110.9,393.4v7.9M67.3,394.7v8.4M114.7,369.2v12.2M63.1,375.6v14.8M122.3,419.0v12.0M206.1,385.3v9.3M192.8,378.1v9.2M191.4,379.1v12.2M73.1,399.0v10.7M140.5,377.1v7.2M73.7,395.4v6.5M113.4,380.4v8.7M82.0,375.5v12.1M97.8,379.4v8.1M191.4,382.1v7.3M160.0,406.9v8.4M80.2,375.2v15.8M171.6,408.6v10.7M99.9,374.6v9.6M82.2,394.3v15.3M123.4,383.7v8.0M169.7,395.7v11.8M202.7,376.4v10.4M98.5,408.8v7.9M107.4,376.1v15.9M105.7,368.4v12.4M116.6,387.4v5.2M88.4,374.5v12.4M136.1,364.4v9.1M107.1,384.0v9.8M147.2,394.5v11.9M126.4,413.2v14.1M147.4,396.4v10.3M212.7,394.0v10.9M176.2,405.0v12.0M213.0,383.7v8.7M170.6,410.4v8.2M203.7,379.6v12.0M114.9,374.4v9.3M50.1,387.3v8.7M110.2,391.4v8.2M145.4,357.9v9.7M166.8,364.1v14.4M142.1,369.8v13.0M165.9,396.2v11.3M156.6,367.6v8.2M191.2,400.3v5.6M145.6,354.9v15.3M161.8,397.4v8.3M89.4,371.3v11.9M149.0,397.6v11.2M91.0,387.8v12.7M130.2,365.0v11.9M141.7,409.2v9.2M154.3,374.1v14.0M93.8,383.7v14.2M124.2,402.6v14.8M62.5,380.0v14.5M145.7,410.1v10.1M95.1,377.6v6.3M199.0,368.8v13.9M124.3,371.0v11.4M172.9,399.9v5.0M167.3,394.1v14.5M139.0,358.6v12.3M118.3,384.7v11.0M107.9,406.0v6.8M117.9,367.5v11.4M74.6,376.0v11.8M98.5,407.3v8.9M109.3,387.9v14.3M73.4,391.2v14.6M113.4,388.8v8.4M207.4,381.2v11.9M70.0,389.5v14.6M75.9,387.7v9.2M101.7,400.4v10.4M163.5,362.9v10.3M156.2,388.6v14.0M112.4,415.1v13.5M143.1,386.9v14.8M95.6,390.2v12.3M93.6,409.4v8.7M143.6,382.0v10.1M112.0,367.6v12.5M153.3,407.5v10.4M104.0,387.0v5.5M66.9,375.2v15.2M114.8,408.8v12.0M148.4,378.9v11.7M146.4,402.1v14.7M135.8,373.2v10.5M162.3,412.2v8.6M160.3,394.8v9.8M136.9,380.4v11.9M121.0,408.9v7.0M120.4,421.0v13.4M144.5,415.6v6.5M132.6,395.0v12.2M93.3,379.5v7.7M209.0,374.4v13.5M158.6,383.9v12.5M77.6,392.4v10.8M110.3,390.5v10.6M108.3,377.3v7.2M49.4,389.1v10.9M196.8,400.6v10.7M114.6,385.1v10.4M179.0,390.1v9.9M151.8,399.3v7.5M190.1,375.6v12.9M152.1,377.3v11.7M148.1,398.8v10.3M115.8,406.6v12.7M92.0,388.7v10.0M178.7,405.5v9.4M129.2,418.3v12.7M44.8,384.5v10.5M106.3,350.1v23.3M156.3,394.7v12.1M122.9,373.6v10.0M221.8,390.1v11.0M146.3,361.3v11.1M104.1,371.2v10.8M131.6,407.0v5.9M177.5,365.3v12.7M206.0,400.7v8.6M107.7,361.8v41.8M73.4,375.7v16.1M125.6,373.1v16.1M77.5,388.3v11.3M167.6,366.9v5.9M142.9,361.2v13.8M93.3,375.0v12.2M138.8,398.3v10.0M187.1,403.5v11.2M181.7,380.8v11.6M108.3,407.1v10.7M69.1,394.0v10.8M120.8,371.6v10.9M104.3,375.7v12.8M106.1,410.1v8.5M120.6,372.0v10.5M69.1,396.7v13.4M120.0,404.6v14.7M185.6,367.8v12.2M93.8,370.4v10.6M159.4,350.6v9.8M149.9,406.9v13.7M166.9,402.7v11.8M117.5,420.5v6.2M113.6,364.3v9.6M69.9,384.1v12.1M173.8,387.5v11.8M46.3,389.7v8.6M147.5,401.3v13.7M212.8,386.7v11.6M201.9,386.4v12.8M130.8,408.5v14.8M128.0,410.8v10.7M139.6,354.5v12.8M117.6,412.8v11.7M71.8,386.2v9.5M195.6,379.1v14.5M76.7,402.2v7.0M113.8,379.0v12.5M120.0,409.3v12.2M70.8,380.6v7.2M124.8,400.5v6.5M161.6,360.9v10.7M85.1,391.9v5.8M125.9,366.4v10.2M181.1,401.0v10.1M57.8,388.8v13.3M110.9,401.1v13.3M165.0,401.7v9.9M143.2,361.9v11.2M161.3,355.2v8.6M161.4,374.3v9.6M60.4,388.7v6.8M143.5,356.0v9.2M153.0,388.5v9.5M110.4,406.8v11.8M130.9,386.6v8.4M152.6,399.2v13.9M77.8,388.8v13.3M122.9,413.9v9.5M137.5,410.5v12.0M162.4,383.4v13.8M201.0,385.3v6.7M79.0,380.3v11.8M176.4,370.3v12.3M195.8,381.6v12.0M154.9,377.1v8.0M150.7,380.1v6.8M78.3,392.2v12.1M182.7,395.8v8.2M162.0,408.6v10.0M73.5,381.3v12.3M67.1,387.2v11.6M132.0,366.5v9.0M180.7,366.3v13.3" stroke="#4254e8" stroke-width="0.9" fill="none" opacity="0.85"/>
<path d="M166.2,359.8v14.8M159.6,361.1v17.8M139.6,376.0v14.0M167.8,353.0v17.3M127.7,354.6v18.7M86.5,364.3v17.5M167.9,348.8v10.7M140.5,354.5v15.0M154.9,372.8v12.4M174.0,359.4v16.8M190.0,384.4v14.7M135.4,344.1v23.2M190.5,364.5v10.2M56.2,373.8v24.8M161.4,363.6v23.4M146.1,348.2v13.5M105.6,364.4v14.6M113.7,364.8v18.7M111.7,366.7v25.5M208.8,369.1v17.7M185.1,363.7v17.3M185.8,375.9v21.2M148.3,399.3v15.2M176.7,365.3v16.0M51.5,379.0v15.6M133.9,355.2v15.5M145.6,373.6v26.7M158.5,358.3v29.7M140.4,388.7v18.1M204.4,388.0v20.7M122.1,409.8v13.2M152.4,366.5v15.1M119.1,416.4v15.1M68.9,375.0v24.0M176.2,348.5v19.5M129.6,404.6v22.0M107.0,386.0v18.3M97.9,402.9v15.7M150.2,367.8v16.9M165.8,360.7v17.4M118.2,381.9v15.5M112.7,380.2v19.0M90.8,394.5v18.6M111.9,404.2v13.3M217.0,380.2v10.2M147.9,383.8v13.0M146.4,367.5v13.5M191.8,351.8v17.2M155.1,344.6v23.8M154.6,355.6v18.8M157.7,364.8v14.0M142.2,380.1v17.7M112.5,414.8v13.5M81.1,385.3v11.5M146.1,406.9v15.6M140.1,388.5v18.0M196.4,366.5v17.0M197.1,375.6v16.8M130.4,371.2v25.0M166.1,359.9v25.7M164.4,345.1v19.4M127.5,370.0v13.7M109.6,373.9v15.2M58.2,370.5v10.9M154.6,398.9v15.4M110.2,372.8v16.7M120.9,390.5v17.2M113.1,390.3v21.4M174.2,354.3v14.0M159.1,348.0v17.4M101.1,399.8v13.4M143.1,404.5v14.3M120.1,383.8v14.1M137.4,373.8v11.4M208.0,373.4v17.7M226.0,386.6v14.5M134.8,359.9v27.4M98.1,371.7v30.0M168.3,362.3v24.8M119.8,383.0v13.5M89.2,373.6v13.5M74.8,371.0v29.7M141.8,346.6v22.1M133.2,394.1v12.1M148.3,365.1v14.1M108.2,367.7v22.5M154.5,393.1v22.3M191.4,356.7v27.7M116.6,376.4v16.2M72.1,369.9v21.2M89.4,400.0v18.1M93.7,364.2v21.2M89.3,371.7v17.7M80.0,369.9v9.3M165.3,392.4v21.0M107.5,388.4v18.6M164.4,355.5v13.5M210.5,387.3v16.5M170.5,352.3v15.8M170.5,369.0v25.8M154.5,351.9v13.2M138.1,370.4v26.0M109.8,362.2v12.6M188.4,369.0v20.2M173.9,375.4v9.1M70.3,377.4v16.9M120.1,354.5v26.1M208.5,371.0v16.3M160.2,353.1v20.1M130.8,372.1v23.2M138.3,385.8v17.8M146.4,394.7v17.8M176.2,385.7v14.3M128.7,401.8v26.5M72.7,386.4v19.4" stroke="#3e77f2" stroke-width="0.9" fill="none" opacity="0.85"/>
<path d="M105.6,353.6v11.9M102.0,404.6v10.0M113.6,361.6v20.7M99.4,383.2v17.2M115.0,362.4v31.5M108.6,384.3v20.4M171.1,361.2v16.3M105.4,380.4v26.5M170.0,351.7v14.4M201.3,368.0v24.4M107.3,366.9v15.5M124.8,365.2v19.6M132.6,382.2v22.5M93.1,372.3v18.4M75.5,371.0v30.8M197.4,364.4v12.3M82.0,371.9v38.5M143.4,362.6v20.2M182.4,376.2v29.4M106.4,360.3v22.0M128.0,378.7v18.9M109.4,371.6v18.3M105.5,397.7v22.4M74.0,380.5v27.8M86.4,382.0v22.6M56.5,366.0v14.8M79.2,388.5v22.3M145.0,367.0v25.6M121.6,382.6v21.8M100.5,369.3v19.1M151.7,344.7v26.3M124.9,395.3v13.3M167.5,352.2v23.9M212.1,366.2v29.5M63.3,357.4v30.9M177.6,343.4v42.2M178.9,344.1v38.6M115.5,381.6v28.9M163.8,349.6v16.6M93.0,398.7v19.0M190.7,361.3v23.2M149.7,368.9v17.4M196.5,356.7v10.3M138.3,361.7v19.8" stroke="#3a8ef0" stroke-width="0.9" fill="none" opacity="0.85"/>
<path d="M98.7,371.4v8.0M194.2,384.7v6.2M124.0,384.4v8.0M143.7,396.0v8.6M160.3,372.9v8.6M111.4,419.6v8.0M205.2,392.6v6.1M149.9,402.5v7.3M92.5,378.5v24.9M156.1,375.2v8.4M78.7,393.2v7.1M94.4,385.1v28.4M108.8,369.0v33.2M66.4,395.5v9.0M105.5,379.4v31.8M144.6,374.5v5.4M121.4,384.8v5.9M174.5,388.2v6.8M107.9,418.9v7.2M137.9,362.8v31.6M194.7,373.7v26.5M183.7,402.3v6.2M150.9,365.6v7.5M164.4,375.6v7.8M147.7,363.9v27.9M122.8,353.4v26.4M106.7,375.4v5.8M173.5,329.2v49.3M87.8,353.4v18.1M182.2,389.3v8.1M123.9,411.7v8.0M127.3,415.5v7.9M108.1,403.3v13.0M83.7,389.0v20.8M156.9,361.1v6.7M186.7,386.9v8.1M100.8,421.1v5.3M103.8,376.0v6.0M176.8,404.4v4.9M98.0,386.5v8.9M134.8,378.9v6.3M159.6,398.3v6.3M154.8,359.4v27.3M181.6,397.7v5.6M198.4,388.8v6.3M147.6,410.4v6.9M135.7,421.3v6.3M226.5,391.9v7.0M144.7,402.2v6.9M134.2,403.8v8.4M98.5,414.1v4.9M121.0,372.5v6.0M85.4,373.9v9.3M121.9,411.1v7.0M97.1,389.9v7.6M82.5,390.1v10.2M119.2,397.7v13.4M122.4,369.9v7.1M114.2,398.7v25.8M89.1,374.8v8.1M127.2,370.7v26.3M122.8,409.2v7.5M55.6,386.6v6.2M152.4,379.3v6.5M193.6,393.5v5.6M184.4,387.1v8.7M191.1,394.5v7.3M108.9,406.8v8.8M106.9,414.6v6.3M65.9,394.2v6.0M157.4,359.8v8.0M128.6,422.5v6.0M211.3,362.8v21.0M137.8,346.7v15.5M172.7,404.0v5.3M89.1,375.5v26.6M109.8,379.3v7.6M136.4,420.5v5.4M104.8,381.5v7.3M74.3,404.0v7.9M91.9,389.9v6.7M114.4,385.3v6.3M120.9,381.9v4.9M65.3,388.5v7.1M155.0,367.5v30.1M144.4,398.7v6.2M127.0,405.4v9.4M61.7,390.0v8.2M161.7,409.2v8.7M168.9,335.3v18.9M125.4,378.4v6.1M160.4,359.0v15.7M86.3,399.2v8.6M221.6,388.8v5.7M57.5,395.3v6.9M89.6,412.8v7.7M145.5,365.3v7.1M92.4,384.0v23.4M83.1,388.7v5.6M127.5,399.7v8.6M70.9,392.0v6.3M87.3,392.5v10.2M145.7,372.2v8.0M111.3,370.7v8.9M91.7,394.2v6.7M220.7,388.9v9.3M166.3,399.6v6.0M85.0,385.6v7.5M152.8,371.0v19.3M93.1,378.8v8.0M93.1,413.3v6.9M153.5,371.3v9.2M94.9,381.8v8.3M142.8,390.1v24.4M115.7,340.2v25.2" stroke="#434be1" stroke-width="0.9" fill="none" opacity="0.85"/>
<path d="M142.1,368.3v22.4M192.4,390.4v13.4M122.8,370.5v10.9M109.1,396.5v11.9M121.4,362.7v13.9M175.8,363.8v23.1M109.0,398.8v21.7M157.1,379.6v18.9M170.2,367.2v13.6M182.3,368.7v18.8M106.5,413.4v11.6M156.7,348.5v16.9M153.7,356.6v26.0M151.1,349.3v16.8M115.4,371.8v10.2M118.4,363.1v16.1M191.8,372.6v20.5M62.1,374.9v11.8M117.5,366.2v14.9M131.9,365.2v16.4M118.0,379.1v14.1M153.5,356.8v14.4M117.3,362.0v16.5M147.4,368.1v17.5M76.2,390.0v15.4M141.8,400.1v18.0M101.6,412.2v12.4M66.8,385.8v10.8M53.6,386.1v13.9M149.6,359.2v10.9M71.9,377.0v10.4M193.9,363.3v11.6M93.4,374.9v22.7M174.0,402.2v16.2M176.6,372.3v21.5M65.8,382.0v14.2M106.2,377.5v16.0M87.9,389.2v18.9M194.9,382.5v17.4M159.4,357.0v15.9M60.0,382.9v9.2M133.5,403.2v14.9M159.0,357.5v11.4M88.0,390.6v17.6M147.8,364.8v18.7M165.2,359.5v18.5M158.1,349.9v13.9M118.9,384.9v11.1M144.6,350.4v19.4M217.2,381.4v12.7M75.1,396.4v9.5M105.8,396.4v14.0M48.7,384.3v15.5M110.2,356.9v16.3M208.2,378.2v11.1M92.2,382.8v21.9M100.6,386.6v20.9M143.2,390.6v15.9M107.6,399.4v15.3M71.2,377.6v15.8M84.0,366.0v17.4M152.0,388.6v11.6M147.1,364.0v10.9M179.9,385.2v12.9M152.5,392.6v14.2M172.1,369.4v17.4M92.3,378.7v12.7M169.0,384.0v12.3M135.6,363.2v22.6M178.1,395.0v12.8M187.7,363.6v18.7M216.4,392.6v13.8M53.8,388.4v13.8M107.4,372.0v26.4M137.1,398.3v14.2M144.0,387.2v14.9M160.9,396.2v8.7M82.8,385.1v13.1M87.1,382.6v11.6M138.3,382.9v10.0M118.5,393.4v9.7M125.9,369.3v10.7M129.2,379.1v13.6M164.0,365.2v14.1M127.9,378.7v16.7M70.4,371.8v18.2M117.9,377.0v18.4M203.0,385.2v16.5M114.8,376.7v22.7M199.7,356.3v13.2M145.7,411.9v10.8M111.6,368.1v12.0M176.5,360.1v17.5M82.6,384.3v22.4M172.4,392.6v14.5M167.4,398.0v14.7M144.7,367.5v11.4M90.2,380.9v26.4M141.8,357.7v15.0M127.3,372.2v13.7M128.0,390.8v15.8M87.0,396.5v22.3M220.4,384.6v18.0M102.0,408.3v9.9M58.5,385.7v15.0M119.3,370.3v11.5M187.2,376.7v19.1M136.9,359.3v16.8M116.0,365.2v14.8M196.7,389.4v19.3M108.5,395.7v17.5M193.6,371.4v12.1M146.4,396.3v16.1M170.2,385.7v15.0M169.3,351.9v25.8M168.4,377.1v18.7M125.7,404.3v14.2M148.2,354.9v10.5M138.6,367.1v15.8M98.9,396.8v17.2M123.6,413.0v18.8M95.2,404.8v12.2M162.1,385.2v13.6M162.4,379.9v14.5M109.7,361.6v17.4M134.2,378.7v12.9M87.1,366.5v15.6M131.9,342.7v18.8M204.6,374.1v15.6M164.1,374.9v23.2M139.2,386.3v11.7M129.5,409.5v9.8M158.1,394.2v17.8M173.3,355.8v17.9M67.4,374.1v14.4M174.2,369.0v11.1M182.5,378.5v14.2M88.3,397.2v11.8M141.4,367.3v12.5M149.2,405.3v14.2M158.6,339.4v22.6M155.1,344.9v15.6M184.8,375.2v16.8M57.5,383.7v20.2M164.4,387.5v10.9M165.0,360.6v25.3M122.0,356.6v24.5M184.2,369.3v20.2M85.3,385.0v16.6M149.4,365.8v17.0M103.8,363.8v16.0M130.1,378.1v15.1M123.3,376.5v13.1M149.9,406.7v12.1M104.9,383.4v20.5M182.3,373.6v15.2M72.8,384.3v17.3M143.7,355.3v12.0M110.9,379.6v11.7M183.9,380.5v11.1M124.2,372.8v11.4M93.5,408.1v14.3M101.6,409.0v17.9M98.8,403.9v13.2M122.7,400.1v21.1M117.1,375.3v11.2M198.5,379.4v15.6M117.4,380.6v12.6M110.7,372.5v15.2M69.8,387.6v10.3M125.6,417.5v11.4M82.2,385.1v12.7M111.1,367.7v12.9M67.6,388.2v11.2M165.6,346.6v24.4M153.8,349.9v13.9" stroke="#3f6bf0" stroke-width="0.9" fill="none" opacity="0.85"/>
<path d="M164.4,353.4v33.0M117.5,369.8v22.2M108.7,389.9v20.6M115.9,367.1v21.7M210.5,357.9v23.4M99.2,403.4v12.8M58.2,360.0v12.7M163.3,370.4v17.7M153.2,359.6v16.6M128.4,366.7v20.6M175.4,384.7v14.4M55.1,365.7v19.9M166.4,359.7v22.9M89.6,390.5v17.8M82.6,388.8v19.6M104.9,374.2v32.9M180.7,378.3v12.2M180.6,371.4v22.5M207.7,383.8v16.0M128.8,364.2v29.9M141.3,379.3v16.3M128.6,384.9v19.5M54.4,375.7v8.7M196.6,360.8v13.3M82.1,385.5v11.2M198.7,362.7v23.1M67.7,380.3v16.7M151.8,360.2v29.8M175.0,377.3v26.5M105.0,383.2v27.5M99.0,365.8v18.0M201.5,378.6v24.6M118.0,382.2v15.2M145.5,378.8v17.9M153.3,367.3v18.8M140.2,373.8v18.5M173.9,387.3v18.3M151.0,369.7v20.2M151.1,363.9v15.3M151.7,354.7v16.1M202.1,364.9v19.2M137.9,373.7v22.7M74.4,362.6v19.1M157.5,359.6v23.9M99.3,403.9v17.7M102.9,371.5v15.7M61.2,372.5v23.5M110.5,368.2v23.8M182.7,347.0v16.9M110.2,354.7v15.1M160.6,332.5v22.9M137.0,368.5v11.6M113.3,382.4v19.2M86.5,369.6v18.3M190.0,358.8v21.4M102.1,403.1v17.4M88.7,369.1v13.0M100.2,405.1v16.5M201.7,355.1v18.9M136.3,390.2v16.7M190.4,353.1v25.4M88.8,382.9v27.3M127.9,382.0v22.6M122.0,361.6v17.6M145.4,360.5v26.8M132.3,356.5v12.8M93.2,373.8v23.5M144.8,396.3v17.3M127.9,406.7v12.2M91.3,385.4v24.7M135.2,363.2v32.1M146.2,380.6v17.8M172.0,353.4v15.5M79.1,389.1v21.3" stroke="#3c82f1" stroke-width="0.9" fill="none" opacity="0.85"/>
<path d="M54.2,383.2v17.2M136.3,384.7v17.4M167.0,373.4v9.6M165.3,388.6v20.8M135.7,364.1v10.5M207.1,366.0v21.2M174.4,382.6v16.1M145.0,372.2v15.7M161.1,379.7v6.0M172.5,394.2v10.7M209.7,393.8v9.3M162.7,371.3v13.1M109.5,405.9v10.0M184.8,365.5v13.8M171.9,374.5v17.6M197.7,397.9v9.7M100.1,375.2v15.2M122.7,398.4v13.8M121.5,371.4v11.6M71.3,372.5v16.0M67.4,379.1v13.1M176.2,362.6v12.5M115.9,369.8v10.2M53.0,377.3v16.2M122.0,402.1v14.6M188.2,378.1v15.8M74.9,371.7v14.6M215.9,377.5v13.3M209.2,378.0v16.6M77.4,393.5v17.6M199.7,377.7v13.9M94.4,373.5v12.8M167.5,383.7v12.0M163.8,365.8v17.6M89.3,388.2v11.7M146.4,388.5v15.3M182.4,380.9v9.3M159.3,385.5v9.0M169.8,360.1v9.8M203.6,380.8v8.2M187.4,386.3v15.9M113.1,360.7v15.6M171.8,376.9v10.1M89.7,384.4v9.3M98.0,411.8v11.0M155.3,360.2v20.9M138.1,377.5v13.2M141.0,381.8v11.1M118.1,394.6v15.0M59.0,385.4v17.8M163.4,368.1v16.6M75.3,398.2v12.4M162.4,373.9v8.6M124.3,410.9v9.1M169.0,376.7v6.7M147.1,395.6v16.8M82.7,379.1v8.6M190.0,391.5v15.9M213.6,391.5v11.5M165.1,388.9v9.9M153.6,356.7v15.2M110.7,397.4v15.1M71.2,371.4v10.2M145.9,387.5v13.9M103.4,371.8v7.9M59.9,383.2v12.6M155.9,358.1v11.2M45.5,381.3v9.3M205.6,377.4v15.3M133.9,396.5v13.4M104.9,378.1v10.4M65.3,394.5v9.3M131.6,372.0v9.9M134.8,394.9v13.1M105.9,368.2v13.0M172.4,396.7v10.0M143.3,401.4v7.3M175.0,393.1v10.9M169.8,366.1v16.1M192.5,381.0v12.1M69.8,377.1v14.7M131.2,395.0v9.8M147.8,381.2v14.8M102.2,382.0v9.3M142.3,409.0v15.6M154.6,349.7v14.5M73.9,372.5v14.9M163.2,353.0v10.4M65.6,400.3v8.1M119.0,358.8v16.8M145.6,347.8v15.5M184.8,385.3v6.7M50.6,381.0v10.4M129.4,381.0v9.5M104.5,375.0v9.5M92.7,379.1v15.6M126.6,374.7v8.4M107.8,395.6v17.6M110.2,367.5v15.8M156.5,369.2v8.4M199.8,381.1v16.5M88.0,369.3v13.1M177.4,388.4v12.7M165.7,358.4v17.9M100.3,399.8v15.3M158.9,362.4v12.3M88.1,375.5v15.1M86.0,376.2v13.6M129.8,407.1v11.4M88.1,395.9v12.4M208.7,381.3v12.9M216.5,389.2v13.5M95.8,367.0v15.0M191.0,388.9v11.0M130.7,375.8v7.6M96.0,411.1v12.4M120.1,410.8v13.0M182.0,399.1v16.7M85.5,391.4v13.6M151.6,353.3v11.3M181.4,389.2v13.9M212.3,379.0v10.9M156.2,366.7v10.9M114.5,381.5v16.3M182.6,393.3v12.3M150.1,394.7v11.9M96.6,410.1v10.0M147.4,362.7v14.4M199.8,389.8v10.0M216.9,380.9v11.1M151.2,353.2v13.6M215.0,383.9v15.5M226.9,384.2v17.2M172.9,392.6v12.3M145.5,359.3v10.5M229.1,381.6v16.5M61.7,387.4v12.9M154.9,377.2v11.0M184.6,392.4v16.8M168.3,411.1v8.5M73.4,389.1v18.8M86.9,385.5v10.8M142.5,362.2v14.6M155.3,383.7v15.0M100.8,399.7v16.2M172.9,351.5v19.7M92.3,402.2v17.5M89.9,373.0v12.4M74.5,389.0v19.3M82.0,375.2v14.3M125.8,412.4v14.3M185.6,384.2v12.7M101.8,374.5v18.7M142.1,363.1v15.8M182.7,376.2v12.3M134.1,356.2v20.3M92.5,379.8v19.2M52.7,377.8v19.7M165.7,353.3v17.9M161.3,357.5v10.3M226.0,380.3v16.8M143.6,383.7v18.4M142.6,395.7v12.7M132.7,403.1v14.2M135.6,406.3v13.3M109.5,369.1v15.7M230.3,391.5v9.6M168.9,358.1v12.7M132.0,360.4v13.2M170.0,384.9v18.5M81.4,378.3v21.6M78.1,376.6v17.3M109.6,385.4v16.9M158.4,399.7v8.2M129.2,376.7v11.7M220.6,389.1v11.3M55.5,388.0v12.5M179.2,382.0v15.5M69.4,390.0v11.9M108.9,367.0v13.4M144.6,391.0v15.7M109.7,406.3v16.4M216.7,382.7v22.1M89.5,408.0v12.5M44.7,381.6v14.2M170.1,392.3v11.4M106.5,379.4v20.4M76.1,398.5v10.7M131.0,381.3v13.8M157.3,372.1v9.8M119.3,385.3v14.7M164.1,391.3v12.4M139.5,375.6v11.9M151.2,360.5v8.2M149.1,359.0v8.8M170.8,391.0v19.1M159.1,402.1v10.6M182.5,387.5v12.0M111.8,409.4v14.4" stroke="#415fed" stroke-width="0.9" fill="none" opacity="0.85"/>
<path d="M84.5,365.0v39.7M98.6,353.7v35.3M166.8,345.1v12.6M145.5,354.7v36.9M168.0,334.9v34.2" stroke="#33b9c9" stroke-width="0.9" fill="none" opacity="0.85"/>
<path d="M136.8,395.1v12.7M141.1,367.7v30.3M174.7,344.1v35.4M138.8,366.7v27.0M158.5,346.5v14.4M157.5,367.6v20.4M141.1,338.9v33.9M136.8,384.0v23.4M90.0,379.7v26.1M86.1,386.7v24.8M153.2,352.5v38.7M120.3,340.8v23.3M79.9,385.2v26.2M128.8,391.8v20.6M105.1,380.2v30.4M82.3,379.0v32.3M170.1,370.7v9.7M81.8,380.6v29.9" stroke="#32a2e4" stroke-width="0.9" fill="none" opacity="0.85"/>
<path d="M142.0,348.6v27.6M142.1,384.4v25.0M196.4,375.0v17.8M192.9,376.5v21.0M153.1,352.3v30.0M138.1,352.5v31.6M194.1,358.5v30.1M171.4,339.7v44.3M184.8,361.1v31.4M126.8,393.2v23.5M170.5,356.0v17.6M179.9,364.9v13.4M135.1,375.7v21.4M184.9,348.5v24.9M142.3,360.1v21.7M157.1,383.8v19.9M190.0,365.3v19.6M163.8,355.6v12.8M157.7,367.6v17.0M143.5,351.3v33.2M111.4,355.6v17.7M97.2,357.5v15.6M143.1,360.2v32.1M157.2,395.3v24.8M74.7,371.3v10.4M130.3,362.4v16.0" stroke="#3698ea" stroke-width="0.9" fill="none" opacity="0.85"/>
<path d="M99.0,354.8v32.7M107.9,360.6v37.2M171.1,343.8v42.1M160.5,349.5v32.2" stroke="#51c3ae" stroke-width="0.9" fill="none" opacity="0.85"/>
<path d="M161.8,339.5v43.2" stroke="#60c8a0" stroke-width="0.9" fill="none" opacity="0.85"/>
<path d="M178.9,335.0v49.3M173.6,328.3v31.6M194.9,367.7v28.1M99.7,348.3v16.5M145.6,363.1v28.4M141.2,365.7v19.5M156.8,323.2v52.6M135.8,360.6v34.7" stroke="#30b2d3" stroke-width="0.9" fill="none" opacity="0.85"/>
<path d="M91.7,370.0v25.8M105.5,369.9v19.4M148.3,351.5v23.5" stroke="#42bebc" stroke-width="0.9" fill="none" opacity="0.85"/>
<path d="M123.6,353.1v13.8M123.0,361.9v22.4M166.2,353.8v32.0M186.0,340.4v33.4M134.8,364.8v28.5" stroke="#30aadc" stroke-width="0.9" fill="none" opacity="0.85"/>
<line x1="35.00" y1="398.10" x2="35.00" y2="282.00" stroke="#111" stroke-width="1.4"/>
<polygon points="35.00,278.00 36.60,284.00 33.40,284.00" fill="#000"/>
<line x1="124.65" y1="443.72" x2="21.78" y2="392.19" stroke="#111" stroke-width="1.4"/>
<polygon points="18.20,390.40 24.28,391.66 22.85,394.52" fill="#000"/>
<line x1="123.72" y1="443.64" x2="253.77" y2="405.04" stroke="#111" stroke-width="1.4"/>
<polygon points="257.60,403.90 252.30,407.14 251.39,404.07" fill="#000"/>
<text x="29.4" y="398.7" font-size="8.8" text-anchor="end" font-weight="bold" fill="#1a1a1a">0</text>
<line x1="32.00" y1="376.80" x2="35.00" y2="377.70" stroke="#111" stroke-width="0.9"/>
<text x="29.4" y="379.8" font-size="8.8" text-anchor="end" font-weight="bold" fill="#1a1a1a">2</text>
<line x1="32.00" y1="356.90" x2="35.00" y2="357.80" stroke="#111" stroke-width="0.9"/>
<text x="29.4" y="359.9" font-size="8.8" text-anchor="end" font-weight="bold" fill="#1a1a1a">4</text>
<line x1="32.00" y1="337.00" x2="35.00" y2="337.90" stroke="#111" stroke-width="0.9"/>
<text x="29.4" y="340.0" font-size="8.8" text-anchor="end" font-weight="bold" fill="#1a1a1a">6</text>
<line x1="32.00" y1="317.10" x2="35.00" y2="318.00" stroke="#111" stroke-width="0.9"/>
<text x="29.4" y="320.1" font-size="8.8" text-anchor="end" font-weight="bold" fill="#1a1a1a">8</text>
<line x1="32.00" y1="297.20" x2="35.00" y2="298.10" stroke="#111" stroke-width="0.9"/>
<text x="29.4" y="300.2" font-size="8.8" text-anchor="end" font-weight="bold" fill="#1a1a1a">10</text>
<line x1="35.00" y1="397.60" x2="37.91" y2="396.76" stroke="#111" stroke-width="0.9"/>
<text x="26.7" y="408.7" font-size="8.8" text-anchor="middle" font-weight="bold" fill="#1a1a1a">2</text>
<line x1="79.60" y1="420.55" x2="82.52" y2="419.71" stroke="#111" stroke-width="0.9"/>
<text x="71.3" y="431.7" font-size="8.8" text-anchor="middle" font-weight="bold" fill="#1a1a1a">0</text>
<line x1="124.20" y1="443.50" x2="127.12" y2="442.66" stroke="#111" stroke-width="0.9"/>
<text x="115.9" y="454.6" font-size="8.8" text-anchor="middle" font-weight="bold" fill="#1a1a1a">-2</text>
<line x1="124.20" y1="443.50" x2="121.30" y2="442.01" stroke="#111" stroke-width="0.9"/>
<text x="129.0" y="455.0" font-size="8.8" text-anchor="start" font-weight="bold" fill="#1a1a1a">0</text>
<line x1="153.35" y1="435.07" x2="150.45" y2="433.58" stroke="#111" stroke-width="0.9"/>
<text x="158.2" y="446.6" font-size="8.8" text-anchor="start" font-weight="bold" fill="#1a1a1a">0.5</text>
<line x1="182.50" y1="426.65" x2="179.60" y2="425.16" stroke="#111" stroke-width="0.9"/>
<text x="187.3" y="438.2" font-size="8.8" text-anchor="start" font-weight="bold" fill="#1a1a1a">1</text>
<line x1="211.65" y1="418.23" x2="208.75" y2="416.73" stroke="#111" stroke-width="0.9"/>
<text x="216.5" y="429.7" font-size="8.8" text-anchor="start" font-weight="bold" fill="#1a1a1a">1.5</text>
<line x1="240.80" y1="409.80" x2="237.90" y2="408.31" stroke="#111" stroke-width="0.9"/>
<text x="245.6" y="421.3" font-size="8.8" text-anchor="start" font-weight="bold" fill="#1a1a1a">2</text>
<text x="46.5" y="452.0" font-size="8.9" text-anchor="middle" font-weight="bold" fill="#1a1a1a">Frequency vector(Hz)</text>
<text x="207.0" y="455.6" font-size="8.9" text-anchor="middle" font-weight="bold" fill="#1a1a1a">Search interval</text>
<text x="22.4" y="338.0" font-size="10.3" text-anchor="middle" font-weight="bold" transform="rotate(-90 22.4 338.0)" fill="#1a1a1a">Amplitude (dB)</text>
<text x="17.5" y="435.8" font-size="10" fill="#1a1a1a">×<tspan font-weight="bold" dx="0.6">10</tspan><tspan dy="-4.5" font-size="6.8" font-weight="bold">6</tspan></text>
<text x="132.5" y="485.6" font-size="15.5" text-anchor="middle" fill="#111">(<tspan font-weight="bold">c</tspan>)</text>
<line x1="35.00" y1="640.40" x2="35.00" y2="540.80" stroke="#d6d6d6" stroke-width="0.7"/>
<line x1="64.15" y1="631.98" x2="64.15" y2="532.38" stroke="#d6d6d6" stroke-width="0.7"/>
<line x1="93.30" y1="623.55" x2="93.30" y2="523.95" stroke="#d6d6d6" stroke-width="0.7"/>
<line x1="122.45" y1="615.12" x2="122.45" y2="515.52" stroke="#d6d6d6" stroke-width="0.7"/>
<line x1="151.60" y1="606.70" x2="151.60" y2="507.10" stroke="#d6d6d6" stroke-width="0.7"/>
<line x1="151.60" y1="606.70" x2="151.60" y2="507.10" stroke="#d6d6d6" stroke-width="0.7"/>
<line x1="196.20" y1="629.65" x2="196.20" y2="530.05" stroke="#d6d6d6" stroke-width="0.7"/>
<line x1="240.80" y1="652.60" x2="240.80" y2="553.00" stroke="#d6d6d6" stroke-width="0.7"/>
<line x1="35.00" y1="640.40" x2="151.60" y2="606.70" stroke="#c4c4c4" stroke-width="0.7"/>
<line x1="151.60" y1="606.70" x2="240.80" y2="652.60" stroke="#c4c4c4" stroke-width="0.7"/>
<line x1="35.00" y1="620.48" x2="151.60" y2="586.78" stroke="#d6d6d6" stroke-width="0.7"/>
<line x1="151.60" y1="586.78" x2="240.80" y2="632.68" stroke="#d6d6d6" stroke-width="0.7"/>
<line x1="35.00" y1="600.56" x2="151.60" y2="566.86" stroke="#d6d6d6" stroke-width="0.7"/>
<line x1="151.60" y1="566.86" x2="240.80" y2="612.76" stroke="#d6d6d6" stroke-width="0.7"/>
<line x1="35.00" y1="580.64" x2="151.60" y2="546.94" stroke="#d6d6d6" stroke-width="0.7"/>
<line x1="151.60" y1="546.94" x2="240.80" y2="592.84" stroke="#d6d6d6" stroke-width="0.7"/>
<line x1="35.00" y1="560.72" x2="151.60" y2="527.02" stroke="#d6d6d6" stroke-width="0.7"/>
<line x1="151.60" y1="527.02" x2="240.80" y2="572.92" stroke="#d6d6d6" stroke-width="0.7"/>
<line x1="35.00" y1="540.80" x2="151.60" y2="507.10" stroke="#d6d6d6" stroke-width="0.7"/>
<line x1="151.60" y1="507.10" x2="240.80" y2="553.00" stroke="#d6d6d6" stroke-width="0.7"/>
<line x1="35.00" y1="640.40" x2="124.20" y2="686.30" stroke="#d6d6d6" stroke-width="0.7"/>
<line x1="64.15" y1="631.98" x2="153.35" y2="677.88" stroke="#d6d6d6" stroke-width="0.7"/>
<line x1="93.30" y1="623.55" x2="182.50" y2="669.45" stroke="#d6d6d6" stroke-width="0.7"/>
<line x1="122.45" y1="615.12" x2="211.65" y2="661.02" stroke="#d6d6d6" stroke-width="0.7"/>
<line x1="151.60" y1="606.70" x2="240.80" y2="652.60" stroke="#d6d6d6" stroke-width="0.7"/>
<line x1="35.00" y1="640.40" x2="151.60" y2="606.70" stroke="#d6d6d6" stroke-width="0.7"/>
<line x1="79.60" y1="663.35" x2="196.20" y2="629.65" stroke="#d6d6d6" stroke-width="0.7"/>
<line x1="124.20" y1="686.30" x2="240.80" y2="652.60" stroke="#d6d6d6" stroke-width="0.7"/>
<path transform="matrix(1,0.5146,0,1,158.29,610.14)" d="M0,-6.3L0,-14.0 0.7,-20.4 1.4,-13.8 2.1,-13.9 2.8,-15.3 3.5,-14.3 4.2,-21.7 4.9,-15.2 5.6,-23.9 6.3,-14.8 7.0,-20.6 7.7,-27.7 8.3,-16.0 9.0,-22.2 9.7,-29.2 10.4,-34.6 11.1,-16.5 11.8,-27.8 12.5,-18.7 13.2,-18.2 13.9,-17.2 14.6,-17.4 15.3,-17.7 16.0,-26.7 16.7,-18.6 17.4,-18.4 18.1,-19.3 18.8,-18.6 19.5,-25.5 20.2,-19.7 20.9,-19.1 21.6,-27.0 22.3,-18.8 23.0,-19.4 23.7,-22.9 24.3,-26.5 25.0,-19.2 25.7,-20.2 26.4,-26.0 27.1,-34.9 27.8,-28.6 28.5,-19.8 29.2,-21.4 29.9,-20.1 30.6,-43.0 31.3,-23.1 32.0,-19.8 32.7,-20.5 33.4,-20.9 34.1,-31.7 34.8,-30.8 35.5,-32.2 36.2,-28.4 36.9,-29.0 37.6,-32.5 38.3,-37.4 39.0,-32.3 39.6,-25.0 40.3,-23.7 41.0,-24.0 41.7,-21.7 42.4,-24.5 43.1,-23.0 43.8,-21.4 44.5,-32.4 45.2,-27.0 45.9,-20.7 46.6,-25.2 47.3,-19.0 48.0,-28.9 48.7,-20.0 49.4,-19.4 50.1,-20.0 50.8,-24.0 51.5,-28.5 52.2,-19.3 52.9,-27.7 53.6,-27.1 54.3,-26.0 55.0,-18.9 55.6,-18.8 56.3,-24.4 57.0,-20.8 57.7,-30.6 58.4,-19.8 59.1,-21.6 59.8,-40.0 60.5,-18.9 61.2,-19.8 61.9,-29.7 62.6,-27.8 63.3,-31.4 64.0,-19.1 64.7,-32.3 65.4,-26.4 66.1,-19.4 66.8,-22.8 67.5,-19.4 68.2,-35.8 68.9,-21.0 69.6,-35.3 70.3,-18.7 71.0,-18.7 71.6,-18.8 72.3,-18.8 73.0,-21.2 73.7,-42.3 74.4,-19.8 75.1,-26.1 75.8,-36.3 75.8,-5.5 71.6,-3.1 67.5,-6.0 63.3,-7.5 59.1,-5.8 55.0,-6.2 50.8,-3.5 46.6,-7.0 42.4,-5.0 38.3,-6.2 34.1,-4.7 29.9,-5.2 25.7,-5.8 21.6,-4.1 17.4,-8.6 13.2,-6.5 9.0,-2.9 4.9,-6.1 0.7,-6.0Z" fill="url(#ge)"/>
<path transform="matrix(1,0.5146,0,1,155.70,610.89)" d="M0,-3.6L0,-19.2 0.7,-16.5 1.4,-21.2 2.1,-15.7 2.8,-14.6 3.5,-14.1 4.2,-19.0 4.9,-28.4 5.6,-14.5 6.3,-26.0 7.0,-18.9 7.7,-18.2 8.3,-15.3 9.0,-15.5 9.7,-17.0 10.4,-30.7 11.1,-25.8 11.8,-35.5 12.5,-23.3 13.2,-31.4 13.9,-18.9 14.6,-17.3 15.3,-18.4 16.0,-19.7 16.7,-30.8 17.4,-18.7 18.1,-19.5 18.8,-29.8 19.5,-23.3 20.2,-19.0 20.9,-21.5 21.6,-18.7 22.3,-20.1 23.0,-23.1 23.7,-18.8 24.3,-20.4 25.0,-22.4 25.7,-40.8 26.4,-18.9 27.1,-19.1 27.8,-19.9 28.5,-19.0 29.2,-30.2 29.9,-42.1 30.6,-29.8 31.3,-43.2 32.0,-31.8 32.7,-32.3 33.4,-23.2 34.1,-24.2 34.8,-25.5 35.5,-27.6 36.2,-28.8 36.9,-42.7 37.6,-45.0 38.3,-35.3 39.0,-40.2 39.6,-40.5 40.3,-34.4 41.0,-43.1 41.7,-24.3 42.4,-26.6 43.1,-40.7 43.8,-23.1 44.5,-20.0 45.2,-39.1 45.9,-19.3 46.6,-27.2 47.3,-19.1 48.0,-36.1 48.7,-21.9 49.4,-18.8 50.1,-20.7 50.8,-19.7 51.5,-32.8 52.2,-32.0 52.9,-19.5 53.6,-18.9 54.3,-19.1 55.0,-18.7 55.6,-31.6 56.3,-22.4 57.0,-29.3 57.7,-19.0 58.4,-18.9 59.1,-41.3 59.8,-19.7 60.5,-19.3 61.2,-35.6 61.9,-36.8 62.6,-28.7 63.3,-19.7 64.0,-18.9 64.7,-19.0 65.4,-21.9 66.1,-20.8 66.8,-18.7 67.5,-28.5 68.2,-20.1 68.9,-18.8 69.6,-20.3 70.3,-19.7 71.0,-19.3 71.6,-28.1 72.3,-19.3 73.0,-18.8 73.7,-19.7 74.4,-18.8 75.1,-18.8 75.8,-34.0 75.8,-4.4 71.6,-6.5 67.5,-3.3 63.3,-5.5 59.1,-7.8 55.0,-7.6 50.8,-8.5 46.6,-5.7 42.4,-9.4 38.3,-4.9 34.1,-7.9 29.9,-3.0 25.7,-4.2 21.6,-7.1 17.4,-3.4 13.2,-4.7 9.0,-6.2 4.9,-5.4 0.7,-3.5Z" fill="url(#ge)"/>
<path transform="matrix(1,0.5146,0,1,153.11,611.64)" d="M0,-5.5L0,-24.6 0.7,-19.9 1.4,-14.4 2.1,-13.9 2.8,-14.2 3.5,-14.7 4.2,-18.4 4.9,-27.1 5.6,-28.9 6.3,-23.3 7.0,-15.0 7.7,-24.9 8.3,-17.8 9.0,-15.6 9.7,-15.8 10.4,-32.0 11.1,-17.8 11.8,-16.6 12.5,-25.5 13.2,-34.9 13.9,-17.1 14.6,-17.5 15.3,-17.6 16.0,-30.8 16.7,-34.8 17.4,-18.5 18.1,-22.1 18.8,-19.3 19.5,-20.4 20.2,-19.3 20.9,-18.7 21.6,-30.8 22.3,-27.1 23.0,-19.1 23.7,-32.4 24.3,-19.2 25.0,-18.7 25.7,-20.5 26.4,-19.3 27.1,-19.0 27.8,-30.6 28.5,-36.3 29.2,-19.3 29.9,-21.4 30.6,-20.0 31.3,-36.8 32.0,-21.9 32.7,-22.7 33.4,-24.5 34.1,-26.1 34.8,-31.5 35.5,-49.6 36.2,-38.1 36.9,-52.2 37.6,-51.2 38.3,-49.5 39.0,-55.1 39.6,-34.3 40.3,-33.4 41.0,-44.3 41.7,-27.8 42.4,-24.1 43.1,-39.2 43.8,-34.5 44.5,-24.2 45.2,-21.3 45.9,-19.6 46.6,-20.7 47.3,-19.7 48.0,-19.0 48.7,-18.9 49.4,-35.4 50.1,-19.0 50.8,-22.6 51.5,-31.8 52.2,-26.7 52.9,-18.7 53.6,-20.9 54.3,-19.5 55.0,-18.9 55.6,-18.8 56.3,-24.6 57.0,-18.7 57.7,-19.3 58.4,-19.1 59.1,-24.5 59.8,-19.0 60.5,-21.6 61.2,-18.9 61.9,-37.9 62.6,-27.6 63.3,-27.6 64.0,-38.7 64.7,-31.5 65.4,-32.4 66.1,-19.0 66.8,-20.0 67.5,-22.0 68.2,-21.6 68.9,-18.9 69.6,-19.0 70.3,-24.7 71.0,-20.9 71.6,-21.0 72.3,-20.1 73.0,-21.4 73.7,-23.9 74.4,-19.0 75.1,-18.9 75.8,-19.5 75.8,-5.9 71.6,-3.7 67.5,-7.5 63.3,-8.3 59.1,-5.4 55.0,-6.9 50.8,-3.1 46.6,-5.1 42.4,-5.4 38.3,-5.9 34.1,-5.9 29.9,-7.2 25.7,-5.2 21.6,-4.1 17.4,-5.0 13.2,-6.5 9.0,-3.7 4.9,-2.2 0.7,-5.4Z" fill="url(#ge)"/>
<path transform="matrix(1,0.5146,0,1,150.52,612.39)" d="M0,-5.2L0,-16.0 0.7,-13.7 1.4,-15.0 2.1,-27.0 2.8,-13.9 3.5,-24.7 4.2,-14.1 4.9,-16.5 5.6,-15.0 6.3,-14.8 7.0,-30.6 7.7,-17.3 8.3,-31.0 9.0,-15.5 9.7,-16.2 10.4,-28.0 11.1,-17.1 11.8,-26.9 12.5,-18.7 13.2,-27.2 13.9,-18.7 14.6,-18.7 15.3,-18.0 16.0,-18.3 16.7,-25.5 17.4,-35.9 18.1,-18.8 18.8,-28.3 19.5,-25.0 20.2,-22.5 20.9,-18.6 21.6,-26.1 22.3,-18.7 23.0,-19.5 23.7,-25.7 24.3,-23.1 25.0,-23.0 25.7,-21.9 26.4,-18.8 27.1,-18.9 27.8,-19.3 28.5,-20.6 29.2,-23.2 29.9,-36.5 30.6,-22.3 31.3,-27.2 32.0,-23.6 32.7,-39.8 33.4,-29.3 34.1,-26.8 34.8,-32.6 35.5,-48.4 36.2,-52.5 36.9,-51.3 37.6,-57.0 38.3,-47.3 39.0,-49.6 39.6,-53.4 40.3,-50.5 41.0,-37.8 41.7,-33.4 42.4,-26.3 43.1,-29.6 43.8,-36.2 44.5,-28.7 45.2,-33.4 45.9,-19.9 46.6,-24.5 47.3,-19.9 48.0,-26.3 48.7,-29.6 49.4,-27.0 50.1,-19.7 50.8,-20.3 51.5,-18.7 52.2,-22.3 52.9,-19.2 53.6,-37.2 54.3,-21.7 55.0,-18.8 55.6,-18.8 56.3,-18.9 57.0,-18.7 57.7,-18.7 58.4,-25.4 59.1,-18.7 59.8,-25.9 60.5,-32.1 61.2,-25.5 61.9,-19.0 62.6,-18.8 63.3,-24.2 64.0,-20.6 64.7,-20.5 65.4,-18.9 66.1,-35.2 66.8,-32.6 67.5,-34.3 68.2,-24.9 68.9,-19.8 69.6,-18.7 70.3,-35.5 71.0,-23.3 71.6,-19.4 72.3,-19.9 73.0,-18.7 73.7,-22.4 74.4,-36.6 75.1,-19.3 75.8,-35.9 75.8,-6.4 71.6,-4.5 67.5,-8.6 63.3,-5.4 59.1,-4.3 55.0,-4.0 50.8,-4.3 46.6,-3.8 42.4,-7.3 38.3,-13.4 34.1,-5.4 29.9,-7.6 25.7,-7.5 21.6,-4.7 17.4,-3.8 13.2,-6.2 9.0,-7.1 4.9,-4.1 0.7,-5.9Z" fill="url(#ge)"/>
<path transform="matrix(1,0.5146,0,1,147.93,613.14)" d="M0,-5.4L0,-31.0 0.7,-16.2 1.4,-21.0 2.1,-27.5 2.8,-25.9 3.5,-14.0 4.2,-24.9 4.9,-23.0 5.6,-15.4 6.3,-14.7 7.0,-20.5 7.7,-16.9 8.3,-15.2 9.0,-28.0 9.7,-21.2 10.4,-27.7 11.1,-17.0 11.8,-27.1 12.5,-25.9 13.2,-17.6 13.9,-21.5 14.6,-19.7 15.3,-25.2 16.0,-28.9 16.7,-34.7 17.4,-21.9 18.1,-18.2 18.8,-21.6 19.5,-18.5 20.2,-19.0 20.9,-18.7 21.6,-33.2 22.3,-20.9 23.0,-23.2 23.7,-24.5 24.3,-24.9 25.0,-21.2 25.7,-20.8 26.4,-19.5 27.1,-34.9 27.8,-19.0 28.5,-20.5 29.2,-31.3 29.9,-23.7 30.6,-25.2 31.3,-26.7 32.0,-29.8 32.7,-24.0 33.4,-24.7 34.1,-41.4 34.8,-31.0 35.5,-32.8 36.2,-46.5 36.9,-51.5 37.6,-61.4 38.3,-47.5 39.0,-45.8 39.6,-53.3 40.3,-51.1 41.0,-37.1 41.7,-28.5 42.4,-29.6 43.1,-34.8 43.8,-24.4 44.5,-22.3 45.2,-20.3 45.9,-20.1 46.6,-19.8 47.3,-22.9 48.0,-20.2 48.7,-19.0 49.4,-30.9 50.1,-39.0 50.8,-21.6 51.5,-30.0 52.2,-22.7 52.9,-19.8 53.6,-40.4 54.3,-26.5 55.0,-18.7 55.6,-26.9 56.3,-25.3 57.0,-19.1 57.7,-30.0 58.4,-20.8 59.1,-40.0 59.8,-28.8 60.5,-34.9 61.2,-18.8 61.9,-37.0 62.6,-34.3 63.3,-18.7 64.0,-18.7 64.7,-30.5 65.4,-20.9 66.1,-18.9 66.8,-27.7 67.5,-22.9 68.2,-18.8 68.9,-18.9 69.6,-18.7 70.3,-18.7 71.0,-24.4 71.6,-18.9 72.3,-37.1 73.0,-23.9 73.7,-18.9 74.4,-20.9 75.1,-36.6 75.8,-24.0 75.8,-5.5 71.6,-4.1 67.5,-3.3 63.3,-3.0 59.1,-3.3 55.0,-4.2 50.8,-2.9 46.6,-7.6 42.4,-8.2 38.3,-9.2 34.1,-5.4 29.9,-8.3 25.7,-5.4 21.6,-7.3 17.4,-7.6 13.2,-6.1 9.0,-3.4 4.9,-3.3 0.7,-4.8Z" fill="url(#ge)"/>
<path transform="matrix(1,0.5146,0,1,145.33,613.89)" d="M0,-5.9L0,-20.6 0.7,-14.6 1.4,-14.5 2.1,-13.9 2.8,-14.8 3.5,-14.0 4.2,-25.7 4.9,-30.4 5.6,-15.6 6.3,-14.8 7.0,-15.0 7.7,-15.0 8.3,-24.8 9.0,-32.9 9.7,-15.7 10.4,-35.1 11.1,-18.0 11.8,-17.8 12.5,-19.4 13.2,-17.6 13.9,-27.8 14.6,-17.5 15.3,-18.8 16.0,-17.8 16.7,-17.9 17.4,-18.0 18.1,-18.7 18.8,-20.2 19.5,-18.9 20.2,-19.0 20.9,-18.6 21.6,-18.7 22.3,-24.7 23.0,-31.9 23.7,-19.0 24.3,-19.0 25.0,-27.4 25.7,-30.0 26.4,-32.0 27.1,-18.9 27.8,-22.5 28.5,-33.1 29.2,-19.4 29.9,-19.7 30.6,-26.4 31.3,-33.8 32.0,-21.9 32.7,-26.7 33.4,-35.5 34.1,-35.4 34.8,-34.6 35.5,-36.4 36.2,-48.1 36.9,-49.2 37.6,-62.4 38.3,-59.6 39.0,-51.5 39.6,-49.0 40.3,-43.5 41.0,-30.1 41.7,-26.6 42.4,-24.6 43.1,-24.3 43.8,-22.3 44.5,-34.1 45.2,-20.1 45.9,-21.9 46.6,-35.2 47.3,-28.1 48.0,-20.7 48.7,-21.8 49.4,-32.3 50.1,-18.8 50.8,-19.7 51.5,-18.8 52.2,-24.0 52.9,-18.7 53.6,-30.4 54.3,-36.3 55.0,-34.2 55.6,-18.8 56.3,-18.7 57.0,-39.7 57.7,-18.7 58.4,-19.3 59.1,-21.3 59.8,-21.2 60.5,-22.4 61.2,-23.5 61.9,-21.2 62.6,-31.0 63.3,-18.6 64.0,-23.0 64.7,-18.6 65.4,-19.4 66.1,-20.9 66.8,-26.3 67.5,-18.8 68.2,-19.6 68.9,-29.1 69.6,-28.6 70.3,-18.7 71.0,-20.1 71.6,-19.2 72.3,-19.1 73.0,-18.7 73.7,-18.7 74.4,-21.0 75.1,-27.3 75.8,-18.6 75.8,-6.0 71.6,-6.5 67.5,-8.5 63.3,-8.9 59.1,-3.9 55.0,-4.6 50.8,-8.5 46.6,-9.0 42.4,-10.6 38.3,-8.8 34.1,-6.9 29.9,-7.7 25.7,-7.7 21.6,-4.3 17.4,-4.9 13.2,-7.7 9.0,-3.2 4.9,-3.8 0.7,-4.4Z" fill="url(#ge)"/>
<path transform="matrix(1,0.5146,0,1,142.74,614.64)" d="M0,-5.4L0,-23.7 0.7,-27.1 1.4,-13.7 2.1,-19.9 2.8,-17.4 3.5,-14.2 4.2,-14.1 4.9,-15.0 5.6,-18.9 6.3,-15.3 7.0,-15.6 7.7,-21.4 8.3,-15.2 9.0,-20.6 9.7,-18.9 10.4,-16.7 11.1,-16.1 11.8,-32.1 12.5,-16.6 13.2,-16.8 13.9,-34.6 14.6,-27.6 15.3,-18.8 16.0,-17.8 16.7,-20.7 17.4,-22.8 18.1,-29.1 18.8,-18.3 19.5,-19.8 20.2,-24.7 20.9,-42.5 21.6,-18.8 22.3,-18.6 23.0,-18.7 23.7,-20.8 24.3,-19.1 25.0,-26.1 25.7,-31.1 26.4,-19.2 27.1,-18.9 27.8,-20.7 28.5,-20.5 29.2,-24.2 29.9,-20.8 30.6,-20.1 31.3,-21.1 32.0,-25.3 32.7,-23.1 33.4,-27.9 34.1,-39.3 34.8,-38.3 35.5,-43.2 36.2,-38.3 36.9,-45.5 37.6,-48.8 38.3,-52.4 39.0,-51.7 39.6,-51.6 40.3,-32.8 41.0,-36.8 41.7,-39.0 42.4,-37.5 43.1,-33.0 43.8,-25.1 44.5,-36.2 45.2,-21.4 45.9,-21.1 46.6,-22.0 47.3,-19.3 48.0,-18.9 48.7,-20.0 49.4,-18.8 50.1,-44.2 50.8,-19.5 51.5,-18.9 52.2,-20.0 52.9,-23.3 53.6,-18.9 54.3,-29.5 55.0,-28.0 55.6,-34.4 56.3,-18.7 57.0,-21.5 57.7,-32.2 58.4,-18.6 59.1,-19.1 59.8,-22.0 60.5,-23.0 61.2,-19.4 61.9,-18.9 62.6,-32.2 63.3,-19.0 64.0,-18.9 64.7,-18.8 65.4,-18.9 66.1,-19.7 66.8,-18.6 67.5,-29.1 68.2,-18.6 68.9,-34.1 69.6,-18.6 70.3,-18.9 71.0,-18.6 71.6,-24.9 72.3,-20.0 73.0,-18.6 73.7,-20.7 74.4,-18.6 75.1,-18.7 75.8,-18.7 75.8,-7.4 71.6,-6.3 67.5,-4.4 63.3,-3.0 59.1,-5.9 55.0,-2.9 50.8,-4.3 46.6,-4.7 42.4,-4.0 38.3,-12.5 34.1,-6.3 29.9,-7.4 25.7,-5.6 21.6,-7.4 17.4,-3.2 13.2,-5.5 9.0,-4.3 4.9,-4.4 0.7,-3.1Z" fill="url(#ge)"/>
<path transform="matrix(1,0.5146,0,1,140.15,615.38)" d="M0,-3.6L0,-27.4 0.7,-13.9 1.4,-14.0 2.1,-27.7 2.8,-33.1 3.5,-14.2 4.2,-21.9 4.9,-15.4 5.6,-15.5 6.3,-25.6 7.0,-14.9 7.7,-20.7 8.3,-21.7 9.0,-28.3 9.7,-15.9 10.4,-19.2 11.1,-16.2 11.8,-16.4 12.5,-22.5 13.2,-16.9 13.9,-20.1 14.6,-17.3 15.3,-17.7 16.0,-23.5 16.7,-26.3 17.4,-25.0 18.1,-30.0 18.8,-18.6 19.5,-18.4 20.2,-18.9 20.9,-19.5 21.6,-18.6 22.3,-18.6 23.0,-19.1 23.7,-32.6 24.3,-27.8 25.0,-19.2 25.7,-18.7 26.4,-24.7 27.1,-20.5 27.8,-20.6 28.5,-19.1 29.2,-19.4 29.9,-26.5 30.6,-36.2 31.3,-22.4 32.0,-34.7 32.7,-27.0 33.4,-42.6 34.1,-34.1 34.8,-48.3 35.5,-44.0 36.2,-53.2 36.9,-56.8 37.6,-59.7 38.3,-47.5 39.0,-47.3 39.6,-41.8 40.3,-50.4 41.0,-46.6 41.7,-43.5 42.4,-35.4 43.1,-29.2 43.8,-43.7 44.5,-22.4 45.2,-24.3 45.9,-19.6 46.6,-25.0 47.3,-27.3 48.0,-23.3 48.7,-19.2 49.4,-18.7 50.1,-27.1 50.8,-19.5 51.5,-23.5 52.2,-19.1 52.9,-25.6 53.6,-27.1 54.3,-18.6 55.0,-18.9 55.6,-30.6 56.3,-33.1 57.0,-21.6 57.7,-21.2 58.4,-19.6 59.1,-21.0 59.8,-25.1 60.5,-31.9 61.2,-20.9 61.9,-33.9 62.6,-42.4 63.3,-21.3 64.0,-22.3 64.7,-19.3 65.4,-44.2 66.1,-31.0 66.8,-24.8 67.5,-35.2 68.2,-18.7 68.9,-18.8 69.6,-26.3 70.3,-34.8 71.0,-22.2 71.6,-30.2 72.3,-18.6 73.0,-27.4 73.7,-20.5 74.4,-20.2 75.1,-27.0 75.8,-19.1 75.8,-2.9 71.6,-5.2 67.5,-4.8 63.3,-8.5 59.1,-3.9 55.0,-4.4 50.8,-4.1 46.6,-4.8 42.4,-4.9 38.3,-8.2 34.1,-4.1 29.9,-8.6 25.7,-7.7 21.6,-5.4 17.4,-5.4 13.2,-3.7 9.0,-4.7 4.9,-5.9 0.7,-3.5Z" fill="url(#ge)"/>
<path transform="matrix(1,0.5146,0,1,137.56,616.13)" d="M0,-6.1L0,-14.1 0.7,-14.2 1.4,-28.4 2.1,-15.6 2.8,-20.4 3.5,-15.0 4.2,-14.5 4.9,-15.8 5.6,-15.6 6.3,-16.0 7.0,-17.4 7.7,-15.5 8.3,-15.7 9.0,-15.7 9.7,-18.9 10.4,-16.3 11.1,-24.1 11.8,-25.7 12.5,-16.7 13.2,-17.0 13.9,-28.3 14.6,-17.6 15.3,-18.3 16.0,-18.0 16.7,-40.4 17.4,-34.2 18.1,-35.4 18.8,-18.3 19.5,-18.4 20.2,-23.6 20.9,-34.1 21.6,-33.1 22.3,-21.6 23.0,-20.3 23.7,-18.7 24.3,-35.1 25.0,-30.3 25.7,-18.7 26.4,-18.7 27.1,-18.9 27.8,-19.6 28.5,-19.0 29.2,-22.0 29.9,-34.9 30.6,-28.7 31.3,-20.7 32.0,-28.7 32.7,-22.8 33.4,-33.1 34.1,-28.7 34.8,-42.1 35.5,-35.9 36.2,-66.4 36.9,-71.8 37.6,-56.3 38.3,-61.1 39.0,-46.9 39.6,-37.0 40.3,-47.8 41.0,-34.0 41.7,-35.1 42.4,-26.1 43.1,-23.3 43.8,-21.6 44.5,-25.8 45.2,-21.4 45.9,-19.6 46.6,-26.3 47.3,-19.5 48.0,-33.5 48.7,-18.8 49.4,-21.8 50.1,-19.1 50.8,-18.7 51.5,-18.6 52.2,-35.0 52.9,-21.9 53.6,-21.7 54.3,-23.4 55.0,-25.9 55.6,-19.0 56.3,-33.0 57.0,-22.0 57.7,-21.0 58.4,-30.2 59.1,-21.4 59.8,-32.6 60.5,-18.9 61.2,-26.7 61.9,-20.6 62.6,-33.2 63.3,-18.8 64.0,-18.9 64.7,-21.5 65.4,-33.1 66.1,-18.7 66.8,-34.1 67.5,-26.6 68.2,-18.6 68.9,-25.7 69.6,-21.5 70.3,-18.6 71.0,-18.9 71.6,-24.3 72.3,-18.6 73.0,-21.6 73.7,-18.6 74.4,-20.5 75.1,-19.0 75.8,-24.3 75.8,-8.8 71.6,-8.1 67.5,-6.1 63.3,-3.2 59.1,-4.5 55.0,-3.0 50.8,-5.8 46.6,-6.8 42.4,-7.2 38.3,-10.8 34.1,-11.0 29.9,-3.6 25.7,-6.8 21.6,-8.6 17.4,-6.5 13.2,-2.5 9.0,-4.9 4.9,-6.8 0.7,-6.7Z" fill="url(#ge)"/>
<path transform="matrix(1,0.5146,0,1,134.97,616.88)" d="M0,-2.2L0,-23.1 0.7,-25.7 1.4,-15.5 2.1,-15.7 2.8,-18.7 3.5,-14.8 4.2,-14.9 4.9,-16.4 5.6,-22.5 6.3,-24.1 7.0,-24.0 7.7,-17.9 8.3,-18.8 9.0,-16.1 9.7,-21.4 10.4,-19.1 11.1,-16.7 11.8,-16.7 12.5,-18.4 13.2,-17.3 13.9,-18.0 14.6,-17.4 15.3,-25.2 16.0,-18.1 16.7,-20.5 17.4,-19.5 18.1,-32.4 18.8,-32.4 19.5,-19.8 20.2,-22.5 20.9,-25.4 21.6,-22.2 22.3,-35.9 23.0,-20.5 23.7,-18.7 24.3,-23.0 25.0,-22.1 25.7,-31.6 26.4,-18.9 27.1,-18.8 27.8,-20.6 28.5,-25.2 29.2,-24.3 29.9,-20.0 30.6,-32.1 31.3,-22.8 32.0,-22.5 32.7,-25.7 33.4,-24.5 34.1,-34.9 34.8,-29.9 35.5,-34.5 36.2,-52.8 36.9,-42.1 37.6,-47.2 38.3,-50.9 39.0,-49.9 39.6,-53.4 40.3,-32.9 41.0,-29.5 41.7,-26.6 42.4,-27.2 43.1,-23.2 43.8,-43.9 44.5,-21.2 45.2,-21.8 45.9,-19.6 46.6,-21.5 47.3,-34.3 48.0,-18.9 48.7,-29.0 49.4,-18.8 50.1,-18.7 50.8,-25.0 51.5,-18.7 52.2,-19.3 52.9,-18.6 53.6,-18.6 54.3,-20.0 55.0,-18.6 55.6,-23.0 56.3,-19.9 57.0,-27.0 57.7,-26.6 58.4,-19.6 59.1,-21.4 59.8,-18.6 60.5,-21.4 61.2,-34.6 61.9,-21.0 62.6,-22.2 63.3,-19.1 64.0,-18.9 64.7,-32.5 65.4,-20.4 66.1,-20.8 66.8,-18.6 67.5,-19.2 68.2,-27.0 68.9,-27.1 69.6,-42.6 70.3,-22.5 71.0,-19.0 71.6,-18.6 72.3,-23.4 73.0,-26.3 73.7,-19.5 74.4,-29.3 75.1,-19.2 75.8,-26.6 75.8,-2.8 71.6,-4.4 67.5,-5.1 63.3,-7.9 59.1,-6.3 55.0,-3.3 50.8,-8.2 46.6,-8.5 42.4,-4.4 38.3,-8.4 34.1,-7.6 29.9,-6.0 25.7,-3.7 21.6,-5.3 17.4,-8.4 13.2,-3.6 9.0,-6.4 4.9,-6.7 0.7,-5.3Z" fill="url(#ge)"/>
<path transform="matrix(1,0.5146,0,1,132.38,617.63)" d="M0,-6.9L0,-24.0 0.7,-15.1 1.4,-18.5 2.1,-20.4 2.8,-15.8 3.5,-17.2 4.2,-28.3 4.9,-15.4 5.6,-27.5 6.3,-15.9 7.0,-15.8 7.7,-15.9 8.3,-16.5 9.0,-16.3 9.7,-26.5 10.4,-34.1 11.1,-20.2 11.8,-17.8 12.5,-18.6 13.2,-18.1 13.9,-18.6 14.6,-28.8 15.3,-27.6 16.0,-18.5 16.7,-27.8 17.4,-18.1 18.1,-22.7 18.8,-19.8 19.5,-18.5 20.2,-18.6 20.9,-28.5 21.6,-19.4 22.3,-22.1 23.0,-27.9 23.7,-18.8 24.3,-18.6 25.0,-23.8 25.7,-23.7 26.4,-28.3 27.1,-22.3 27.8,-40.9 28.5,-19.1 29.2,-20.3 29.9,-41.1 30.6,-32.0 31.3,-22.4 32.0,-32.7 32.7,-26.5 33.4,-31.6 34.1,-32.6 34.8,-29.9 35.5,-32.7 36.2,-50.1 36.9,-59.9 37.6,-46.5 38.3,-70.7 39.0,-44.6 39.6,-42.2 40.3,-50.0 41.0,-30.3 41.7,-26.8 42.4,-32.1 43.1,-41.0 43.8,-26.1 44.5,-21.0 45.2,-20.6 45.9,-24.7 46.6,-22.5 47.3,-32.9 48.0,-28.4 48.7,-22.0 49.4,-18.8 50.1,-18.7 50.8,-18.6 51.5,-18.6 52.2,-32.1 52.9,-24.2 53.6,-18.8 54.3,-31.6 55.0,-25.4 55.6,-24.0 56.3,-20.3 57.0,-23.1 57.7,-24.1 58.4,-25.0 59.1,-18.8 59.8,-31.6 60.5,-19.3 61.2,-25.8 61.9,-18.9 62.6,-23.3 63.3,-31.5 64.0,-34.3 64.7,-19.2 65.4,-31.6 66.1,-20.6 66.8,-22.8 67.5,-19.8 68.2,-18.7 68.9,-18.6 69.6,-22.8 70.3,-25.9 71.0,-18.5 71.6,-18.6 72.3,-19.0 73.0,-24.8 73.7,-26.3 74.4,-19.3 75.1,-18.5 75.8,-19.1 75.8,-5.0 71.6,-8.5 67.5,-4.9 63.3,-2.7 59.1,-5.2 55.0,-8.9 50.8,-7.8 46.6,-7.1 42.4,-7.6 38.3,-7.3 34.1,-7.4 29.9,-8.1 25.7,-4.6 21.6,-4.4 17.4,-4.7 13.2,-8.2 9.0,-2.8 4.9,-3.8 0.7,-5.2Z" fill="url(#ge)"/>
<path transform="matrix(1,0.5146,0,1,129.79,618.38)" d="M0,-6.3L0,-25.9 0.7,-15.5 1.4,-16.6 2.1,-21.7 2.8,-16.2 3.5,-15.9 4.2,-19.4 4.9,-19.1 5.6,-18.6 6.3,-22.7 7.0,-17.2 7.7,-21.5 8.3,-18.0 9.0,-18.9 9.7,-17.2 10.4,-19.7 11.1,-25.0 11.8,-19.8 12.5,-37.6 13.2,-17.4 13.9,-17.6 14.6,-19.0 15.3,-17.8 16.0,-20.4 16.7,-18.1 17.4,-20.3 18.1,-27.8 18.8,-36.1 19.5,-25.4 20.2,-22.0 20.9,-19.0 21.6,-18.9 22.3,-21.7 23.0,-22.8 23.7,-32.8 24.3,-19.0 25.0,-21.6 25.7,-18.6 26.4,-42.6 27.1,-18.9 27.8,-20.3 28.5,-23.1 29.2,-33.3 29.9,-33.2 30.6,-26.8 31.3,-20.7 32.0,-25.6 32.7,-22.7 33.4,-27.9 34.1,-26.6 34.8,-31.0 35.5,-39.5 36.2,-51.8 36.9,-45.6 37.6,-53.4 38.3,-55.5 39.0,-44.5 39.6,-44.6 40.3,-49.2 41.0,-31.1 41.7,-36.6 42.4,-24.4 43.1,-38.3 43.8,-22.0 44.5,-23.2 45.2,-20.0 45.9,-30.7 46.6,-27.7 47.3,-19.0 48.0,-18.9 48.7,-33.9 49.4,-21.5 50.1,-23.2 50.8,-28.9 51.5,-19.8 52.2,-34.8 52.9,-19.5 53.6,-19.3 54.3,-30.1 55.0,-29.9 55.6,-26.2 56.3,-22.1 57.0,-24.6 57.7,-34.8 58.4,-20.4 59.1,-18.7 59.8,-18.5 60.5,-29.2 61.2,-34.4 61.9,-25.7 62.6,-27.5 63.3,-18.8 64.0,-30.5 64.7,-18.7 65.4,-19.3 66.1,-18.6 66.8,-25.1 67.5,-18.7 68.2,-18.6 68.9,-18.6 69.6,-18.5 70.3,-24.1 71.0,-31.0 71.6,-18.8 72.3,-23.0 73.0,-18.6 73.7,-23.0 74.4,-29.7 75.1,-18.9 75.8,-31.3 75.8,-6.1 71.6,-7.0 67.5,-4.7 63.3,-5.7 59.1,-7.3 55.0,-4.3 50.8,-5.9 46.6,-4.9 42.4,-4.8 38.3,-12.6 34.1,-3.9 29.9,-8.9 25.7,-2.8 21.6,-3.8 17.4,-5.9 13.2,-8.2 9.0,-6.0 4.9,-5.5 0.7,-6.4Z" fill="url(#ge)"/>
<path transform="matrix(1,0.5146,0,1,127.20,619.13)" d="M0,-6.7L0,-30.3 0.7,-17.9 1.4,-18.5 2.1,-19.4 2.8,-16.8 3.5,-29.2 4.2,-17.1 4.9,-16.4 5.6,-16.7 6.3,-23.1 7.0,-24.4 7.7,-32.0 8.3,-32.9 9.0,-22.8 9.7,-17.3 10.4,-17.3 11.1,-24.9 11.8,-27.5 12.5,-20.2 13.2,-17.8 13.9,-17.8 14.6,-17.8 15.3,-21.6 16.0,-26.9 16.7,-21.5 17.4,-32.1 18.1,-20.7 18.8,-18.3 19.5,-18.4 20.2,-18.9 20.9,-20.1 21.6,-21.6 22.3,-34.7 23.0,-24.0 23.7,-20.6 24.3,-18.8 25.0,-22.3 25.7,-25.0 26.4,-18.6 27.1,-18.9 27.8,-21.1 28.5,-36.6 29.2,-22.9 29.9,-20.3 30.6,-20.1 31.3,-43.3 32.0,-38.1 32.7,-30.9 33.4,-24.6 34.1,-26.6 34.8,-29.3 35.5,-32.7 36.2,-37.2 36.9,-58.6 37.6,-60.2 38.3,-56.0 39.0,-48.6 39.6,-40.3 40.3,-32.7 41.0,-38.4 41.7,-26.6 42.4,-28.9 43.1,-24.5 43.8,-29.3 44.5,-20.6 45.2,-31.5 45.9,-19.6 46.6,-19.8 47.3,-33.3 48.0,-28.9 48.7,-21.3 49.4,-19.0 50.1,-29.0 50.8,-32.9 51.5,-20.6 52.2,-19.2 52.9,-43.1 53.6,-28.2 54.3,-29.7 55.0,-19.4 55.6,-21.9 56.3,-23.7 57.0,-35.2 57.7,-28.7 58.4,-21.8 59.1,-20.1 59.8,-21.6 60.5,-28.3 61.2,-35.9 61.9,-43.9 62.6,-18.8 63.3,-36.6 64.0,-18.5 64.7,-31.0 65.4,-27.0 66.1,-18.6 66.8,-25.4 67.5,-25.5 68.2,-22.0 68.9,-20.4 69.6,-20.1 70.3,-18.5 71.0,-20.9 71.6,-19.3 72.3,-24.2 73.0,-18.7 73.7,-28.4 74.4,-25.7 75.1,-20.8 75.8,-25.7 75.8,-5.0 71.6,-8.0 67.5,-5.6 63.3,-6.2 59.1,-6.3 55.0,-7.0 50.8,-3.2 46.6,-3.8 42.4,-7.1 38.3,-7.0 34.1,-7.4 29.9,-3.0 25.7,-8.5 21.6,-3.9 17.4,-3.3 13.2,-2.6 9.0,-3.7 4.9,-5.2 0.7,-4.6Z" fill="url(#ge)"/>
<path transform="matrix(1,0.5146,0,1,124.61,619.88)" d="M0,-6.8L0,-16.7 0.7,-19.2 1.4,-16.7 2.1,-22.9 2.8,-28.1 3.5,-17.1 4.2,-19.9 4.9,-17.1 5.6,-20.8 6.3,-17.3 7.0,-17.2 7.7,-19.1 8.3,-25.7 9.0,-22.7 9.7,-30.6 10.4,-18.0 11.1,-33.3 11.8,-17.7 12.5,-33.6 13.2,-17.8 13.9,-41.0 14.6,-23.6 15.3,-23.5 16.0,-22.2 16.7,-18.2 17.4,-27.5 18.1,-18.3 18.8,-35.0 19.5,-18.9 20.2,-19.2 20.9,-25.7 21.6,-21.6 22.3,-26.2 23.0,-19.6 23.7,-28.5 24.3,-21.6 25.0,-19.2 25.7,-26.6 26.4,-19.1 27.1,-23.6 27.8,-22.9 28.5,-18.9 29.2,-19.3 29.9,-19.8 30.6,-20.0 31.3,-39.1 32.0,-22.6 32.7,-36.1 33.4,-36.7 34.1,-27.0 34.8,-35.1 35.5,-43.6 36.2,-51.1 36.9,-58.2 37.6,-59.2 38.3,-76.7 39.0,-55.5 39.6,-42.7 40.3,-50.6 41.0,-46.4 41.7,-26.5 42.4,-24.4 43.1,-26.1 43.8,-28.0 44.5,-28.0 45.2,-23.9 45.9,-19.8 46.6,-19.3 47.3,-22.3 48.0,-28.9 48.7,-31.5 49.4,-21.8 50.1,-27.4 50.8,-23.3 51.5,-19.4 52.2,-18.6 52.9,-19.0 53.6,-18.5 54.3,-18.5 55.0,-28.8 55.6,-19.6 56.3,-18.5 57.0,-20.0 57.7,-31.5 58.4,-19.1 59.1,-18.7 59.8,-18.5 60.5,-25.8 61.2,-36.4 61.9,-18.7 62.6,-24.5 63.3,-18.9 64.0,-20.5 64.7,-36.4 65.4,-37.7 66.1,-26.3 66.8,-18.5 67.5,-31.6 68.2,-18.7 68.9,-35.8 69.6,-20.7 70.3,-18.6 71.0,-19.4 71.6,-29.0 72.3,-20.5 73.0,-40.5 73.7,-26.7 74.4,-30.7 75.1,-18.7 75.8,-18.7 75.8,-8.0 71.6,-4.4 67.5,-3.1 63.3,-3.5 59.1,-5.0 55.0,-7.7 50.8,-3.0 46.6,-6.2 42.4,-5.0 38.3,-14.7 34.1,-4.6 29.9,-8.1 25.7,-8.5 21.6,-8.6 17.4,-8.6 13.2,-3.8 9.0,-6.1 4.9,-6.4 0.7,-3.4Z" fill="url(#ge)"/>
<path transform="matrix(1,0.5146,0,1,122.01,620.63)" d="M0,-7.9L0,-17.2 0.7,-20.5 1.4,-30.6 2.1,-26.2 2.8,-24.6 3.5,-21.8 4.2,-20.9 4.9,-17.4 5.6,-17.4 6.3,-19.6 7.0,-27.7 7.7,-25.6 8.3,-17.7 9.0,-18.1 9.7,-26.1 10.4,-26.1 11.1,-17.9 11.8,-19.5 12.5,-31.3 13.2,-18.5 13.9,-18.1 14.6,-33.0 15.3,-43.4 16.0,-35.1 16.7,-23.1 17.4,-22.4 18.1,-26.9 18.8,-25.9 19.5,-18.7 20.2,-21.1 20.9,-22.6 21.6,-21.0 22.3,-18.7 23.0,-19.0 23.7,-28.8 24.3,-24.7 25.0,-23.8 25.7,-20.1 26.4,-18.9 27.1,-18.7 27.8,-20.1 28.5,-31.6 29.2,-28.6 29.9,-22.4 30.6,-21.8 31.3,-24.2 32.0,-21.8 32.7,-23.0 33.4,-33.1 34.1,-52.6 34.8,-43.8 35.5,-45.9 36.2,-41.4 36.9,-51.5 37.6,-62.4 38.3,-65.5 39.0,-43.3 39.6,-38.3 40.3,-43.6 41.0,-29.2 41.7,-31.8 42.4,-43.5 43.1,-26.9 43.8,-25.1 44.5,-37.7 45.2,-31.9 45.9,-36.0 46.6,-21.2 47.3,-19.3 48.0,-36.4 48.7,-29.4 49.4,-33.6 50.1,-25.8 50.8,-29.3 51.5,-20.6 52.2,-18.8 52.9,-18.5 53.6,-18.5 54.3,-42.2 55.0,-31.5 55.6,-19.0 56.3,-18.5 57.0,-34.3 57.7,-31.0 58.4,-34.7 59.1,-23.3 59.8,-18.5 60.5,-23.2 61.2,-18.5 61.9,-25.8 62.6,-23.6 63.3,-19.1 64.0,-19.5 64.7,-22.9 65.4,-18.8 66.1,-35.4 66.8,-18.6 67.5,-19.4 68.2,-23.4 68.9,-20.2 69.6,-30.7 70.3,-18.8 71.0,-27.1 71.6,-18.9 72.3,-19.1 73.0,-20.6 73.7,-18.5 74.4,-36.3 75.1,-18.8 75.8,-19.5 75.8,-6.0 71.6,-5.4 67.5,-2.7 63.3,-8.8 59.1,-3.8 55.0,-8.8 50.8,-7.4 46.6,-4.9 42.4,-10.4 38.3,-14.0 34.1,-6.2 29.9,-6.1 25.7,-5.0 21.6,-7.5 17.4,-5.1 13.2,-5.5 9.0,-8.3 4.9,-6.6 0.7,-5.8Z" fill="url(#ge)"/>
<path transform="matrix(1,0.5146,0,1,119.42,621.38)" d="M0,-7.2L0,-32.9 0.7,-19.6 1.4,-18.3 2.1,-23.4 2.8,-27.9 3.5,-17.8 4.2,-38.6 4.9,-26.9 5.6,-35.7 6.3,-28.4 7.0,-18.7 7.7,-23.2 8.3,-32.7 9.0,-26.0 9.7,-30.7 10.4,-21.0 11.1,-18.1 11.8,-23.9 12.5,-32.9 13.2,-19.2 13.9,-35.2 14.6,-25.9 15.3,-32.4 16.0,-33.9 16.7,-22.3 17.4,-30.5 18.1,-20.9 18.8,-25.2 19.5,-23.7 20.2,-21.6 20.9,-30.9 21.6,-32.5 22.3,-19.1 23.0,-39.2 23.7,-25.2 24.3,-33.0 25.0,-31.0 25.7,-18.5 26.4,-18.6 27.1,-30.3 27.8,-20.8 28.5,-32.0 29.2,-19.1 29.9,-21.9 30.6,-36.0 31.3,-27.1 32.0,-22.3 32.7,-29.1 33.4,-26.2 34.1,-48.9 34.8,-30.7 35.5,-43.7 36.2,-41.4 36.9,-47.8 37.6,-46.4 38.3,-51.1 39.0,-55.8 39.6,-43.8 40.3,-32.6 41.0,-31.1 41.7,-31.7 42.4,-24.8 43.1,-30.3 43.8,-21.5 44.5,-25.1 45.2,-22.9 45.9,-22.3 46.6,-19.4 47.3,-19.0 48.0,-24.9 48.7,-19.8 49.4,-19.6 50.1,-30.0 50.8,-28.7 51.5,-24.9 52.2,-32.3 52.9,-19.1 53.6,-19.4 54.3,-30.4 55.0,-18.5 55.6,-35.7 56.3,-27.3 57.0,-26.1 57.7,-27.3 58.4,-31.0 59.1,-18.6 59.8,-19.2 60.5,-19.3 61.2,-24.7 61.9,-37.2 62.6,-18.5 63.3,-21.1 64.0,-29.4 64.7,-35.8 65.4,-18.5 66.1,-19.2 66.8,-29.6 67.5,-21.7 68.2,-18.4 68.9,-19.4 69.6,-34.4 70.3,-23.6 71.0,-31.4 71.6,-40.4 72.3,-25.6 73.0,-19.7 73.7,-22.6 74.4,-43.1 75.1,-23.1 75.8,-18.4 75.8,-7.1 71.6,-4.1 67.5,-3.0 63.3,-6.9 59.1,-5.1 55.0,-7.3 50.8,-6.6 46.6,-8.9 42.4,-4.8 38.3,-12.2 34.1,-8.0 29.9,-7.7 25.7,-4.2 21.6,-6.6 17.4,-4.3 13.2,-2.7 9.0,-7.1 4.9,-7.5 0.7,-7.8Z" fill="url(#ge)"/>
<path transform="matrix(1,0.5146,0,1,116.83,622.12)" d="M0,-3.8L0,-18.1 0.7,-28.9 1.4,-23.4 2.1,-21.9 2.8,-34.7 3.5,-23.2 4.2,-21.1 4.9,-23.3 5.6,-19.0 6.3,-20.3 7.0,-23.8 7.7,-27.2 8.3,-28.8 9.0,-18.2 9.7,-21.2 10.4,-31.5 11.1,-43.2 11.8,-25.7 12.5,-18.9 13.2,-20.2 13.9,-18.6 14.6,-19.2 15.3,-21.9 16.0,-22.0 16.7,-18.7 17.4,-18.5 18.1,-32.1 18.8,-18.4 19.5,-29.4 20.2,-31.7 20.9,-34.9 21.6,-20.2 22.3,-21.0 23.0,-19.6 23.7,-36.0 24.3,-22.8 25.0,-35.8 25.7,-34.2 26.4,-35.3 27.1,-21.7 27.8,-19.0 28.5,-32.0 29.2,-19.4 29.9,-19.8 30.6,-29.3 31.3,-24.4 32.0,-24.4 32.7,-35.9 33.4,-33.3 34.1,-45.9 34.8,-40.5 35.5,-35.2 36.2,-55.3 36.9,-51.6 37.6,-63.3 38.3,-55.3 39.0,-56.8 39.6,-48.4 40.3,-38.9 41.0,-44.0 41.7,-45.7 42.4,-51.1 43.1,-22.7 43.8,-21.4 44.5,-25.1 45.2,-20.4 45.9,-20.1 46.6,-19.6 47.3,-21.9 48.0,-25.8 48.7,-20.6 49.4,-28.1 50.1,-18.5 50.8,-26.4 51.5,-21.1 52.2,-18.9 52.9,-23.2 53.6,-19.0 54.3,-42.2 55.0,-20.5 55.6,-28.7 56.3,-18.5 57.0,-37.4 57.7,-31.0 58.4,-19.0 59.1,-23.3 59.8,-36.3 60.5,-18.4 61.2,-42.9 61.9,-25.2 62.6,-32.7 63.3,-18.4 64.0,-34.1 64.7,-19.3 65.4,-20.5 66.1,-21.7 66.8,-23.2 67.5,-30.5 68.2,-27.2 68.9,-22.5 69.6,-20.0 70.3,-18.8 71.0,-22.8 71.6,-19.2 72.3,-21.4 73.0,-41.9 73.7,-21.3 74.4,-18.5 75.1,-18.4 75.8,-22.1 75.8,-5.9 71.6,-5.2 67.5,-5.7 63.3,-8.8 59.1,-7.0 55.0,-5.4 50.8,-3.4 46.6,-4.6 42.4,-4.0 38.3,-11.4 34.1,-10.5 29.9,-3.8 25.7,-4.3 21.6,-2.8 17.4,-6.2 13.2,-8.0 9.0,-4.9 4.9,-4.4 0.7,-7.8Z" fill="url(#ge)"/>
<path transform="matrix(1,0.5146,0,1,114.24,622.87)" d="M0,-6.9L0,-21.3 0.7,-20.2 1.4,-18.4 2.1,-18.8 2.8,-20.4 3.5,-19.6 4.2,-18.4 4.9,-30.8 5.6,-18.3 6.3,-23.1 7.0,-27.9 7.7,-18.3 8.3,-18.8 9.0,-18.3 9.7,-35.1 10.4,-18.4 11.1,-20.0 11.8,-18.8 12.5,-23.0 13.2,-18.4 13.9,-18.5 14.6,-27.2 15.3,-18.5 16.0,-24.7 16.7,-28.2 17.4,-19.1 18.1,-19.9 18.8,-19.6 19.5,-18.4 20.2,-30.0 20.9,-24.5 21.6,-18.6 22.3,-36.8 23.0,-19.2 23.7,-29.7 24.3,-27.1 25.0,-25.3 25.7,-19.9 26.4,-20.1 27.1,-26.0 27.8,-19.3 28.5,-19.0 29.2,-36.3 29.9,-19.4 30.6,-23.5 31.3,-24.4 32.0,-28.9 32.7,-26.8 33.4,-25.4 34.1,-30.5 34.8,-36.7 35.5,-38.9 36.2,-44.1 36.9,-52.5 37.6,-54.8 38.3,-63.7 39.0,-46.4 39.6,-44.3 40.3,-43.4 41.0,-29.2 41.7,-27.2 42.4,-24.4 43.1,-27.9 43.8,-22.9 44.5,-28.4 45.2,-22.0 45.9,-41.7 46.6,-19.1 47.3,-18.9 48.0,-19.0 48.7,-28.8 49.4,-19.0 50.1,-20.4 50.8,-19.8 51.5,-18.8 52.2,-27.7 52.9,-27.7 53.6,-19.3 54.3,-19.3 55.0,-20.2 55.6,-23.2 56.3,-43.7 57.0,-19.9 57.7,-20.5 58.4,-18.5 59.1,-21.3 59.8,-18.5 60.5,-18.9 61.2,-23.7 61.9,-18.5 62.6,-21.6 63.3,-19.9 64.0,-26.6 64.7,-36.2 65.4,-18.4 66.1,-24.6 66.8,-31.4 67.5,-21.6 68.2,-34.4 68.9,-18.9 69.6,-21.3 70.3,-36.5 71.0,-26.1 71.6,-20.5 72.3,-21.1 73.0,-31.0 73.7,-27.4 74.4,-23.4 75.1,-43.6 75.8,-20.4 75.8,-7.2 71.6,-5.7 67.5,-8.2 63.3,-5.4 59.1,-3.1 55.0,-3.0 50.8,-8.1 46.6,-3.7 42.4,-8.0 38.3,-8.6 34.1,-3.5 29.9,-5.5 25.7,-3.5 21.6,-3.7 17.4,-4.0 13.2,-5.5 9.0,-6.9 4.9,-8.1 0.7,-8.1Z" fill="url(#ge)"/>
<path transform="matrix(1,0.5146,0,1,111.65,623.62)" d="M0,-6.6L0,-36.2 0.7,-18.4 1.4,-40.0 2.1,-19.3 2.8,-18.8 3.5,-20.7 4.2,-18.6 4.9,-34.0 5.6,-19.9 6.3,-19.9 7.0,-31.6 7.7,-35.5 8.3,-26.2 9.0,-18.5 9.7,-20.0 10.4,-31.8 11.1,-18.4 11.8,-19.5 12.5,-18.5 13.2,-22.1 13.9,-20.4 14.6,-44.1 15.3,-33.0 16.0,-31.7 16.7,-36.8 17.4,-18.5 18.1,-19.8 18.8,-24.1 19.5,-21.0 20.2,-33.2 20.9,-28.2 21.6,-39.7 22.3,-18.4 23.0,-23.4 23.7,-41.7 24.3,-19.9 25.0,-18.7 25.7,-26.0 26.4,-27.6 27.1,-35.0 27.8,-18.8 28.5,-32.7 29.2,-24.5 29.9,-29.1 30.6,-42.3 31.3,-21.5 32.0,-21.8 32.7,-24.6 33.4,-38.4 34.1,-35.4 34.8,-31.9 35.5,-37.6 36.2,-49.7 36.9,-44.2 37.6,-60.3 38.3,-73.7 39.0,-46.5 39.6,-39.7 40.3,-32.6 41.0,-29.4 41.7,-29.5 42.4,-35.6 43.1,-47.1 43.8,-28.6 44.5,-35.8 45.2,-19.9 45.9,-31.7 46.6,-28.4 47.3,-22.7 48.0,-36.4 48.7,-20.9 49.4,-19.1 50.1,-20.8 50.8,-18.6 51.5,-20.0 52.2,-18.7 52.9,-20.8 53.6,-18.6 54.3,-20.8 55.0,-18.5 55.6,-19.2 56.3,-18.4 57.0,-28.6 57.7,-19.2 58.4,-28.1 59.1,-18.8 59.8,-26.0 60.5,-28.2 61.2,-20.5 61.9,-18.4 62.6,-22.4 63.3,-20.8 64.0,-28.4 64.7,-26.2 65.4,-30.5 66.1,-23.4 66.8,-18.9 67.5,-36.4 68.2,-23.4 68.9,-18.5 69.6,-19.0 70.3,-18.9 71.0,-21.5 71.6,-19.0 72.3,-18.4 73.0,-21.1 73.7,-19.9 74.4,-29.4 75.1,-19.3 75.8,-19.7 75.8,-7.7 71.6,-5.5 67.5,-6.6 63.3,-8.8 59.1,-6.1 55.0,-8.8 50.8,-3.2 46.6,-4.5 42.4,-7.1 38.3,-5.1 34.1,-3.8 29.9,-7.9 25.7,-6.0 21.6,-7.1 17.4,-6.8 13.2,-7.3 9.0,-7.2 4.9,-3.7 0.7,-8.5Z" fill="url(#ge)"/>
<path transform="matrix(1,0.5146,0,1,109.06,624.37)" d="M0,-3.2L0,-20.6 0.7,-36.2 1.4,-18.5 2.1,-18.4 2.8,-18.6 3.5,-28.3 4.2,-24.8 4.9,-20.5 5.6,-23.5 6.3,-27.2 7.0,-18.9 7.7,-29.6 8.3,-21.6 9.0,-19.1 9.7,-30.1 10.4,-26.7 11.1,-18.4 11.8,-18.4 12.5,-30.2 13.2,-20.6 13.9,-18.9 14.6,-20.2 15.3,-18.7 16.0,-29.2 16.7,-18.5 17.4,-18.9 18.1,-27.5 18.8,-24.6 19.5,-18.6 20.2,-26.2 20.9,-34.8 21.6,-18.6 22.3,-27.3 23.0,-26.9 23.7,-18.4 24.3,-20.7 25.0,-30.1 25.7,-18.4 26.4,-18.5 27.1,-41.4 27.8,-19.8 28.5,-19.4 29.2,-22.5 29.9,-19.3 30.6,-19.7 31.3,-25.8 32.0,-22.0 32.7,-26.2 33.4,-32.1 34.1,-25.5 34.8,-28.5 35.5,-38.9 36.2,-34.9 36.9,-43.6 37.6,-57.0 38.3,-43.2 39.0,-47.7 39.6,-34.5 40.3,-38.6 41.0,-38.7 41.7,-27.9 42.4,-33.4 43.1,-22.2 43.8,-21.2 44.5,-24.4 45.2,-34.3 45.9,-29.2 46.6,-36.5 47.3,-19.7 48.0,-35.5 48.7,-18.6 49.4,-27.9 50.1,-33.7 50.8,-31.4 51.5,-18.5 52.2,-31.5 52.9,-19.3 53.6,-20.0 54.3,-27.6 55.0,-19.6 55.6,-33.3 56.3,-18.6 57.0,-18.4 57.7,-30.6 58.4,-18.4 59.1,-18.4 59.8,-18.4 60.5,-30.2 61.2,-37.5 61.9,-18.7 62.6,-31.8 63.3,-18.4 64.0,-26.9 64.7,-19.6 65.4,-28.8 66.1,-24.5 66.8,-32.5 67.5,-21.4 68.2,-19.0 68.9,-18.7 69.6,-20.1 70.3,-18.7 71.0,-18.4 71.6,-20.8 72.3,-19.6 73.0,-18.5 73.7,-26.1 74.4,-21.9 75.1,-23.3 75.8,-19.6 75.8,-2.7 71.6,-6.5 67.5,-7.6 63.3,-8.4 59.1,-7.7 55.0,-7.3 50.8,-7.1 46.6,-3.6 42.4,-7.4 38.3,-9.6 34.1,-4.5 29.9,-3.3 25.7,-5.0 21.6,-2.8 17.4,-3.7 13.2,-5.5 9.0,-8.1 4.9,-4.3 0.7,-3.2Z" fill="url(#ge)"/>
<path transform="matrix(1,0.5146,0,1,106.47,625.12)" d="M0,-7.2L0,-31.5 0.7,-23.7 1.4,-33.0 2.1,-18.8 2.8,-18.8 3.5,-20.6 4.2,-18.8 4.9,-18.3 5.6,-23.5 6.3,-19.1 7.0,-28.5 7.7,-28.2 8.3,-19.6 9.0,-20.9 9.7,-25.6 10.4,-21.9 11.1,-20.2 11.8,-22.1 12.5,-30.4 13.2,-18.5 13.9,-19.2 14.6,-18.7 15.3,-21.4 16.0,-31.5 16.7,-36.2 17.4,-18.4 18.1,-21.9 18.8,-30.5 19.5,-32.0 20.2,-32.8 20.9,-18.6 21.6,-18.3 22.3,-19.0 23.0,-23.8 23.7,-19.9 24.3,-18.6 25.0,-18.9 25.7,-20.6 26.4,-34.1 27.1,-25.2 27.8,-18.8 28.5,-41.6 29.2,-34.4 29.9,-19.4 30.6,-33.5 31.3,-33.2 32.0,-27.8 32.7,-34.6 33.4,-23.0 34.1,-26.6 34.8,-40.8 35.5,-40.5 36.2,-56.6 36.9,-47.6 37.6,-39.9 38.3,-53.2 39.0,-50.1 39.6,-38.0 40.3,-32.8 41.0,-31.5 41.7,-24.5 42.4,-38.6 43.1,-36.0 43.8,-36.6 44.5,-20.2 45.2,-19.9 45.9,-20.5 46.6,-19.7 47.3,-23.8 48.0,-30.4 48.7,-30.1 49.4,-18.4 50.1,-27.9 50.8,-21.5 51.5,-33.6 52.2,-18.4 52.9,-18.4 53.6,-27.1 54.3,-20.7 55.0,-21.2 55.6,-26.2 56.3,-25.6 57.0,-18.6 57.7,-24.2 58.4,-24.1 59.1,-18.4 59.8,-20.3 60.5,-26.2 61.2,-33.7 61.9,-26.3 62.6,-30.6 63.3,-32.2 64.0,-20.0 64.7,-18.5 65.4,-20.8 66.1,-22.1 66.8,-18.6 67.5,-19.9 68.2,-18.4 68.9,-19.0 69.6,-20.5 70.3,-19.7 71.0,-22.5 71.6,-31.7 72.3,-18.3 73.0,-25.5 73.7,-20.7 74.4,-18.4 75.1,-18.3 75.8,-24.5 75.8,-3.0 71.6,-5.8 67.5,-7.3 63.3,-6.9 59.1,-4.1 55.0,-5.0 50.8,-7.0 46.6,-6.8 42.4,-4.3 38.3,-12.4 34.1,-6.9 29.9,-7.2 25.7,-4.3 21.6,-6.3 17.4,-5.0 13.2,-2.8 9.0,-5.9 4.9,-4.7 0.7,-5.6Z" fill="url(#ge)"/>
<path transform="matrix(1,0.5146,0,1,103.88,625.87)" d="M0,-3.7L0,-20.8 0.7,-21.9 1.4,-34.9 2.1,-23.8 2.8,-28.9 3.5,-18.4 4.2,-18.6 4.9,-18.5 5.6,-19.7 6.3,-26.6 7.0,-18.6 7.7,-18.5 8.3,-42.6 9.0,-20.1 9.7,-18.8 10.4,-18.3 11.1,-43.4 11.8,-18.4 12.5,-26.9 13.2,-38.5 13.9,-18.3 14.6,-18.3 15.3,-20.0 16.0,-27.1 16.7,-20.4 17.4,-21.3 18.1,-19.4 18.8,-36.8 19.5,-18.4 20.2,-31.9 20.9,-18.6 21.6,-26.6 22.3,-21.9 23.0,-21.0 23.7,-22.6 24.3,-22.7 25.0,-26.8 25.7,-22.5 26.4,-19.8 27.1,-31.3 27.8,-19.6 28.5,-20.1 29.2,-18.9 29.9,-19.3 30.6,-21.5 31.3,-34.1 32.0,-22.9 32.7,-23.5 33.4,-32.5 34.1,-37.6 34.8,-33.5 35.5,-30.7 36.2,-43.7 36.9,-41.3 37.6,-42.3 38.3,-48.3 39.0,-44.4 39.6,-47.9 40.3,-40.7 41.0,-26.5 41.7,-30.9 42.4,-22.8 43.1,-25.6 43.8,-20.6 44.5,-36.4 45.2,-21.3 45.9,-23.7 46.6,-21.6 47.3,-19.5 48.0,-19.9 48.7,-25.7 49.4,-18.8 50.1,-20.4 50.8,-22.8 51.5,-18.4 52.2,-20.0 52.9,-20.2 53.6,-18.3 54.3,-27.2 55.0,-23.4 55.6,-18.8 56.3,-30.7 57.0,-18.5 57.7,-20.2 58.4,-30.6 59.1,-32.8 59.8,-22.3 60.5,-31.5 61.2,-18.6 61.9,-35.0 62.6,-20.7 63.3,-24.5 64.0,-18.3 64.7,-19.0 65.4,-18.5 66.1,-22.0 66.8,-21.2 67.5,-18.3 68.2,-20.1 68.9,-18.6 69.6,-25.9 70.3,-18.3 71.0,-30.2 71.6,-29.3 72.3,-18.3 73.0,-24.9 73.7,-23.4 74.4,-18.6 75.1,-18.6 75.8,-43.3 75.8,-4.8 71.6,-7.3 67.5,-7.7 63.3,-5.2 59.1,-7.9 55.0,-3.0 50.8,-4.8 46.6,-5.4 42.4,-5.0 38.3,-7.5 34.1,-5.0 29.9,-7.6 25.7,-4.8 21.6,-6.5 17.4,-5.9 13.2,-3.5 9.0,-4.7 4.9,-8.1 0.7,-3.1Z" fill="url(#ge)"/>
<path transform="matrix(1,0.5146,0,1,101.29,626.62)" d="M0,-4.7L0,-28.7 0.7,-24.1 1.4,-19.4 2.1,-18.4 2.8,-22.5 3.5,-24.4 4.2,-18.6 4.9,-18.4 5.6,-20.4 6.3,-19.6 7.0,-21.5 7.7,-21.1 8.3,-18.3 9.0,-19.0 9.7,-31.3 10.4,-35.5 11.1,-32.0 11.8,-29.9 12.5,-26.4 13.2,-28.6 13.9,-20.4 14.6,-18.6 15.3,-19.0 16.0,-18.3 16.7,-18.4 17.4,-19.0 18.1,-33.7 18.8,-34.3 19.5,-34.6 20.2,-18.7 20.9,-21.6 21.6,-21.4 22.3,-20.2 23.0,-18.3 23.7,-22.9 24.3,-18.3 25.0,-24.4 25.7,-22.8 26.4,-23.0 27.1,-18.6 27.8,-20.6 28.5,-20.2 29.2,-27.0 29.9,-19.1 30.6,-20.8 31.3,-23.1 32.0,-21.3 32.7,-29.1 33.4,-22.8 34.1,-36.1 34.8,-40.4 35.5,-34.5 36.2,-33.5 36.9,-35.9 37.6,-46.2 38.3,-52.0 39.0,-39.3 39.6,-31.7 40.3,-32.7 41.0,-26.9 41.7,-24.6 42.4,-23.0 43.1,-38.4 43.8,-20.7 44.5,-20.0 45.2,-19.4 45.9,-26.2 46.6,-35.0 47.3,-37.6 48.0,-18.5 48.7,-23.8 49.4,-18.5 50.1,-30.0 50.8,-41.4 51.5,-22.7 52.2,-18.3 52.9,-19.5 53.6,-24.3 54.3,-20.5 55.0,-24.9 55.6,-28.4 56.3,-18.3 57.0,-28.9 57.7,-25.8 58.4,-18.9 59.1,-18.9 59.8,-30.7 60.5,-18.5 61.2,-24.5 61.9,-18.7 62.6,-27.4 63.3,-21.5 64.0,-18.5 64.7,-19.1 65.4,-18.3 66.1,-19.2 66.8,-19.2 67.5,-19.7 68.2,-18.3 68.9,-24.3 69.6,-36.2 70.3,-25.5 71.0,-19.8 71.6,-36.6 72.3,-29.8 73.0,-23.6 73.7,-18.3 74.4,-34.1 75.1,-18.3 75.8,-18.3 75.8,-4.9 71.6,-5.9 67.5,-3.8 63.3,-8.0 59.1,-3.3 55.0,-4.8 50.8,-4.5 46.6,-4.4 42.4,-3.6 38.3,-4.0 34.1,-9.6 29.9,-7.1 25.7,-3.3 21.6,-5.7 17.4,-8.3 13.2,-4.2 9.0,-2.6 4.9,-6.8 0.7,-5.0Z" fill="url(#ge)"/>
<path transform="matrix(1,0.5146,0,1,98.69,627.37)" d="M0,-3.4L0,-18.6 0.7,-24.4 1.4,-27.9 2.1,-24.5 2.8,-18.4 3.5,-26.9 4.2,-32.1 4.9,-33.9 5.6,-18.5 6.3,-26.8 7.0,-24.8 7.7,-28.9 8.3,-29.1 9.0,-18.3 9.7,-29.7 10.4,-18.3 11.1,-33.7 11.8,-18.3 12.5,-18.3 13.2,-26.6 13.9,-18.3 14.6,-18.3 15.3,-18.3 16.0,-19.6 16.7,-20.2 17.4,-18.3 18.1,-18.4 18.8,-43.6 19.5,-24.4 20.2,-18.6 20.9,-22.4 21.6,-18.3 22.3,-22.0 23.0,-18.7 23.7,-18.4 24.3,-18.3 25.0,-19.1 25.7,-32.1 26.4,-36.6 27.1,-18.5 27.8,-19.4 28.5,-18.6 29.2,-35.3 29.9,-19.1 30.6,-21.5 31.3,-20.5 32.0,-20.8 32.7,-23.7 33.4,-41.3 34.1,-24.3 34.8,-28.8 35.5,-43.8 36.2,-31.7 36.9,-39.3 37.6,-44.8 38.3,-40.0 39.0,-44.1 39.6,-39.1 40.3,-36.6 41.0,-39.0 41.7,-35.9 42.4,-24.0 43.1,-36.0 43.8,-35.6 44.5,-20.3 45.2,-19.5 45.9,-19.4 46.6,-19.4 47.3,-26.8 48.0,-21.1 48.7,-23.8 49.4,-19.1 50.1,-24.4 50.8,-18.3 51.5,-23.9 52.2,-18.3 52.9,-19.0 53.6,-21.2 54.3,-33.3 55.0,-18.3 55.6,-30.8 56.3,-18.6 57.0,-27.1 57.7,-22.6 58.4,-20.2 59.1,-20.2 59.8,-18.3 60.5,-23.9 61.2,-19.8 61.9,-18.3 62.6,-36.4 63.3,-20.0 64.0,-23.2 64.7,-23.6 65.4,-43.5 66.1,-20.2 66.8,-28.7 67.5,-18.6 68.2,-19.3 68.9,-25.8 69.6,-25.2 70.3,-21.0 71.0,-28.8 71.6,-18.3 72.3,-36.6 73.0,-21.1 73.7,-18.5 74.4,-18.3 75.1,-22.1 75.8,-33.7 75.8,-7.1 71.6,-8.4 67.5,-4.6 63.3,-7.3 59.1,-4.3 55.0,-7.5 50.8,-8.3 46.6,-4.6 42.4,-3.6 38.3,-6.7 34.1,-5.3 29.9,-8.8 25.7,-3.8 21.6,-3.7 17.4,-2.9 13.2,-8.3 9.0,-4.2 4.9,-3.9 0.7,-5.3Z" fill="url(#ge)"/>
<path transform="matrix(1,0.5146,0,1,96.10,628.12)" d="M0,-3.4L0,-36.2 0.7,-18.9 1.4,-18.8 2.1,-19.4 2.8,-39.7 3.5,-19.2 4.2,-18.3 4.9,-20.4 5.6,-39.9 6.3,-18.3 7.0,-35.8 7.7,-20.9 8.3,-21.3 9.0,-21.6 9.7,-25.4 10.4,-20.7 11.1,-26.0 11.8,-23.0 12.5,-18.6 13.2,-30.9 13.9,-20.8 14.6,-23.1 15.3,-25.8 16.0,-37.1 16.7,-20.5 17.4,-18.3 18.1,-19.7 18.8,-18.8 19.5,-18.3 20.2,-19.7 20.9,-19.0 21.6,-25.7 22.3,-40.6 23.0,-24.5 23.7,-18.4 24.3,-18.4 25.0,-18.9 25.7,-39.6 26.4,-18.7 27.1,-40.0 27.8,-18.7 28.5,-18.6 29.2,-31.2 29.9,-19.0 30.6,-19.4 31.3,-23.1 32.0,-22.4 32.7,-27.7 33.4,-22.8 34.1,-25.7 34.8,-33.0 35.5,-29.6 36.2,-40.1 36.9,-49.7 37.6,-43.4 38.3,-39.1 39.0,-37.4 39.6,-31.6 40.3,-34.5 41.0,-31.7 41.7,-24.3 42.4,-25.1 43.1,-28.2 43.8,-21.3 44.5,-21.0 45.2,-34.4 45.9,-21.7 46.6,-26.2 47.3,-38.5 48.0,-24.5 48.7,-18.4 49.4,-18.4 50.1,-18.6 50.8,-18.6 51.5,-18.4 52.2,-33.3 52.9,-22.8 53.6,-19.1 54.3,-20.1 55.0,-28.4 55.6,-28.8 56.3,-43.5 57.0,-18.5 57.7,-18.3 58.4,-19.7 59.1,-23.2 59.8,-18.4 60.5,-21.6 61.2,-18.3 61.9,-22.3 62.6,-28.4 63.3,-33.2 64.0,-22.3 64.7,-18.5 65.4,-31.0 66.1,-18.8 66.8,-19.2 67.5,-18.3 68.2,-30.4 68.9,-24.7 69.6,-20.0 70.3,-19.0 71.0,-28.6 71.6,-24.0 72.3,-31.3 73.0,-18.7 73.7,-18.5 74.4,-21.2 75.1,-23.5 75.8,-20.3 75.8,-4.3 71.6,-3.6 67.5,-4.2 63.3,-8.6 59.1,-6.9 55.0,-8.0 50.8,-3.6 46.6,-8.9 42.4,-4.6 38.3,-12.1 34.1,-6.9 29.9,-4.6 25.7,-4.7 21.6,-7.4 17.4,-5.0 13.2,-4.1 9.0,-5.8 4.9,-8.0 0.7,-3.6Z" fill="url(#ge)"/>
<path transform="matrix(1,0.5146,0,1,93.51,628.86)" d="M0,-7.9L0,-29.5 0.7,-29.4 1.4,-22.5 2.1,-40.4 2.8,-19.9 3.5,-18.3 4.2,-18.4 4.9,-22.7 5.6,-33.2 6.3,-18.3 7.0,-23.2 7.7,-22.7 8.3,-18.3 9.0,-18.4 9.7,-33.1 10.4,-18.3 11.1,-18.3 11.8,-22.5 12.5,-32.7 13.2,-18.3 13.9,-31.3 14.6,-21.9 15.3,-28.5 16.0,-27.9 16.7,-18.3 17.4,-33.6 18.1,-18.3 18.8,-18.4 19.5,-21.2 20.2,-18.8 20.9,-18.3 21.6,-29.2 22.3,-18.3 23.0,-18.3 23.7,-38.8 24.3,-20.3 25.0,-21.7 25.7,-21.5 26.4,-25.7 27.1,-19.4 27.8,-18.5 28.5,-18.6 29.2,-21.3 29.9,-19.1 30.6,-19.3 31.3,-30.8 32.0,-23.9 32.7,-22.2 33.4,-31.4 34.1,-37.8 34.8,-39.9 35.5,-34.0 36.2,-38.2 36.9,-45.5 37.6,-42.8 38.3,-49.9 39.0,-49.3 39.6,-40.5 40.3,-30.9 41.0,-49.5 41.7,-27.5 42.4,-30.3 43.1,-23.5 43.8,-20.5 44.5,-31.5 45.2,-25.0 45.9,-22.4 46.6,-34.3 47.3,-18.9 48.0,-20.0 48.7,-20.2 49.4,-18.5 50.1,-20.0 50.8,-34.3 51.5,-35.9 52.2,-19.9 52.9,-18.8 53.6,-18.3 54.3,-18.3 55.0,-30.0 55.6,-34.2 56.3,-22.0 57.0,-18.3 57.7,-19.1 58.4,-18.4 59.1,-18.3 59.8,-18.2 60.5,-18.5 61.2,-18.3 61.9,-18.2 62.6,-22.5 63.3,-34.6 64.0,-21.5 64.7,-18.2 65.4,-19.0 66.1,-21.2 66.8,-21.6 67.5,-21.4 68.2,-20.6 68.9,-18.3 69.6,-21.8 70.3,-25.1 71.0,-29.3 71.6,-30.5 72.3,-22.8 73.0,-20.7 73.7,-23.9 74.4,-22.4 75.1,-19.6 75.8,-22.4 75.8,-8.7 71.6,-5.2 67.5,-7.4 63.3,-4.9 59.1,-7.3 55.0,-4.4 50.8,-4.6 46.6,-7.3 42.4,-7.9 38.3,-11.5 34.1,-6.5 29.9,-3.8 25.7,-8.6 21.6,-3.4 17.4,-3.7 13.2,-6.6 9.0,-8.7 4.9,-3.7 0.7,-7.8Z" fill="url(#ge)"/>
<path transform="matrix(1,0.5146,0,1,90.92,629.61)" d="M0,-8.6L0,-20.0 0.7,-24.2 1.4,-18.5 2.1,-18.2 2.8,-21.7 3.5,-25.1 4.2,-29.4 4.9,-28.5 5.6,-18.2 6.3,-38.8 7.0,-21.1 7.7,-22.0 8.3,-18.4 9.0,-19.3 9.7,-23.6 10.4,-18.4 11.1,-28.1 11.8,-18.2 12.5,-35.9 13.2,-29.9 13.9,-19.0 14.6,-20.1 15.3,-18.6 16.0,-18.2 16.7,-18.3 17.4,-34.8 18.1,-19.0 18.8,-18.8 19.5,-18.5 20.2,-26.6 20.9,-18.5 21.6,-18.7 22.3,-32.5 23.0,-18.9 23.7,-18.3 24.3,-18.5 25.0,-21.0 25.7,-19.4 26.4,-25.6 27.1,-18.4 27.8,-18.5 28.5,-18.7 29.2,-21.5 29.9,-28.4 30.6,-20.0 31.3,-28.6 32.0,-20.5 32.7,-30.1 33.4,-28.2 34.1,-24.2 34.8,-32.4 35.5,-28.7 36.2,-41.8 36.9,-37.6 37.6,-51.1 38.3,-49.2 39.0,-41.4 39.6,-33.0 40.3,-30.0 41.0,-31.8 41.7,-38.7 42.4,-24.7 43.1,-21.4 43.8,-36.6 44.5,-20.9 45.2,-20.1 45.9,-28.0 46.6,-18.9 47.3,-18.7 48.0,-20.7 48.7,-18.4 49.4,-18.8 50.1,-34.9 50.8,-21.4 51.5,-30.3 52.2,-40.6 52.9,-26.8 53.6,-18.7 54.3,-20.1 55.0,-22.3 55.6,-18.3 56.3,-27.6 57.0,-21.3 57.7,-20.7 58.4,-31.5 59.1,-24.0 59.8,-31.2 60.5,-25.5 61.2,-18.7 61.9,-21.5 62.6,-25.5 63.3,-21.1 64.0,-18.3 64.7,-19.3 65.4,-26.3 66.1,-19.0 66.8,-30.9 67.5,-18.2 68.2,-18.2 68.9,-30.3 69.6,-18.3 70.3,-26.9 71.0,-21.3 71.6,-18.2 72.3,-18.3 73.0,-18.9 73.7,-18.2 74.4,-18.3 75.1,-25.0 75.8,-18.6 75.8,-6.2 71.6,-5.3 67.5,-3.6 63.3,-6.3 59.1,-2.8 55.0,-5.4 50.8,-6.7 46.6,-7.1 42.4,-6.6 38.3,-11.7 34.1,-5.6 29.9,-3.9 25.7,-4.0 21.6,-5.8 17.4,-2.8 13.2,-4.8 9.0,-8.6 4.9,-8.6 0.7,-5.4Z" fill="url(#ge)"/>
<path transform="matrix(1,0.5146,0,1,88.33,630.36)" d="M0,-7.1L0,-18.2 0.7,-18.9 1.4,-20.0 2.1,-24.8 2.8,-21.8 3.5,-18.5 4.2,-20.2 4.9,-18.3 5.6,-18.2 6.3,-29.8 7.0,-18.3 7.7,-25.0 8.3,-36.4 9.0,-22.5 9.7,-31.7 10.4,-18.2 11.1,-22.0 11.8,-18.2 12.5,-35.7 13.2,-20.0 13.9,-18.4 14.6,-19.0 15.3,-24.0 16.0,-18.5 16.7,-28.0 17.4,-29.7 18.1,-25.7 18.8,-31.7 19.5,-33.4 20.2,-26.8 20.9,-23.1 21.6,-35.2 22.3,-27.8 23.0,-19.7 23.7,-35.4 24.3,-19.6 25.0,-33.8 25.7,-23.1 26.4,-18.6 27.1,-33.8 27.8,-34.1 28.5,-30.9 29.2,-35.7 29.9,-22.0 30.6,-20.7 31.3,-32.6 32.0,-20.5 32.7,-21.5 33.4,-23.6 34.1,-35.2 34.8,-27.2 35.5,-45.4 36.2,-45.2 36.9,-37.1 37.6,-39.1 38.3,-47.3 39.0,-36.0 39.6,-37.9 40.3,-30.2 41.0,-26.1 41.7,-37.7 42.4,-25.9 43.1,-21.3 43.8,-35.1 44.5,-19.8 45.2,-20.1 45.9,-19.0 46.6,-19.0 47.3,-20.5 48.0,-18.4 48.7,-20.7 49.4,-23.4 50.1,-29.2 50.8,-18.9 51.5,-34.1 52.2,-29.4 52.9,-18.5 53.6,-21.0 54.3,-18.5 55.0,-18.9 55.6,-29.9 56.3,-34.7 57.0,-20.1 57.7,-20.0 58.4,-26.1 59.1,-28.4 59.8,-36.0 60.5,-33.4 61.2,-35.5 61.9,-19.3 62.6,-22.7 63.3,-18.3 64.0,-21.4 64.7,-29.3 65.4,-23.1 66.1,-34.2 66.8,-32.3 67.5,-20.4 68.2,-18.2 68.9,-19.2 69.6,-31.7 70.3,-25.8 71.0,-18.4 71.6,-22.4 72.3,-18.6 73.0,-25.6 73.7,-20.5 74.4,-19.2 75.1,-29.7 75.8,-33.9 75.8,-5.4 71.6,-8.4 67.5,-6.0 63.3,-6.1 59.1,-6.2 55.0,-8.5 50.8,-7.9 46.6,-7.2 42.4,-6.8 38.3,-6.0 34.1,-3.8 29.9,-6.2 25.7,-8.6 21.6,-2.7 17.4,-8.0 13.2,-7.1 9.0,-6.0 4.9,-3.5 0.7,-4.8Z" fill="url(#ge)"/>
<path transform="matrix(1,0.5146,0,1,85.74,631.11)" d="M0,-4.2L0,-20.0 0.7,-20.1 1.4,-31.3 2.1,-20.3 2.8,-27.0 3.5,-21.1 4.2,-19.7 4.9,-18.8 5.6,-18.2 6.3,-33.6 7.0,-18.2 7.7,-18.5 8.3,-22.9 9.0,-33.0 9.7,-23.4 10.4,-32.7 11.1,-21.8 11.8,-21.3 12.5,-19.0 13.2,-18.2 13.9,-23.6 14.6,-42.8 15.3,-33.5 16.0,-18.3 16.7,-18.2 17.4,-18.3 18.1,-18.7 18.8,-18.2 19.5,-19.4 20.2,-22.1 20.9,-18.4 21.6,-18.3 22.3,-35.3 23.0,-18.7 23.7,-32.3 24.3,-19.0 25.0,-28.9 25.7,-19.9 26.4,-33.2 27.1,-22.6 27.8,-19.2 28.5,-23.6 29.2,-19.3 29.9,-23.2 30.6,-31.3 31.3,-22.9 32.0,-20.4 32.7,-25.9 33.4,-23.2 34.1,-25.9 34.8,-26.5 35.5,-36.3 36.2,-43.1 36.9,-38.0 37.6,-52.3 38.3,-44.3 39.0,-39.8 39.6,-32.0 40.3,-29.4 41.0,-31.9 41.7,-26.7 42.4,-32.6 43.1,-36.2 43.8,-21.0 44.5,-20.1 45.2,-19.4 45.9,-24.9 46.6,-19.2 47.3,-30.5 48.0,-18.6 48.7,-18.3 49.4,-29.1 50.1,-27.5 50.8,-22.7 51.5,-25.7 52.2,-32.2 52.9,-18.3 53.6,-18.2 54.3,-25.4 55.0,-29.9 55.6,-20.3 56.3,-20.1 57.0,-30.6 57.7,-18.2 58.4,-18.3 59.1,-19.6 59.8,-30.0 60.5,-24.4 61.2,-18.2 61.9,-35.2 62.6,-19.3 63.3,-19.8 64.0,-23.8 64.7,-29.9 65.4,-35.1 66.1,-20.1 66.8,-18.8 67.5,-20.4 68.2,-18.4 68.9,-25.0 69.6,-18.2 70.3,-18.2 71.0,-40.8 71.6,-23.9 72.3,-20.0 73.0,-18.2 73.7,-19.6 74.4,-21.2 75.1,-18.3 75.8,-18.2 75.8,-5.1 71.6,-8.1 67.5,-6.2 63.3,-6.5 59.1,-5.8 55.0,-7.0 50.8,-2.8 46.6,-3.5 42.4,-9.2 38.3,-12.2 34.1,-8.2 29.9,-4.0 25.7,-2.7 21.6,-8.6 17.4,-3.0 13.2,-6.7 9.0,-6.7 4.9,-3.8 0.7,-4.7Z" fill="url(#ge)"/>
<path transform="matrix(1,0.5146,0,1,83.15,631.86)" d="M0,-5.9L0,-24.3 0.7,-18.7 1.4,-27.9 2.1,-25.6 2.8,-18.3 3.5,-35.0 4.2,-33.0 4.9,-18.2 5.6,-18.5 6.3,-22.4 7.0,-18.2 7.7,-18.8 8.3,-20.2 9.0,-21.9 9.7,-34.3 10.4,-25.0 11.1,-19.2 11.8,-24.4 12.5,-19.1 13.2,-33.5 13.9,-18.3 14.6,-18.5 15.3,-22.7 16.0,-19.4 16.7,-29.1 17.4,-18.2 18.1,-21.3 18.8,-18.3 19.5,-18.7 20.2,-19.5 20.9,-18.2 21.6,-23.1 22.3,-22.9 23.0,-30.0 23.7,-19.4 24.3,-18.2 25.0,-30.3 25.7,-21.1 26.4,-19.2 27.1,-24.8 27.8,-23.5 28.5,-31.4 29.2,-32.0 29.9,-18.9 30.6,-19.3 31.3,-21.5 32.0,-25.8 32.7,-34.9 33.4,-47.5 34.1,-27.3 34.8,-26.7 35.5,-41.2 36.2,-33.2 36.9,-46.1 37.6,-49.9 38.3,-48.4 39.0,-36.0 39.6,-37.7 40.3,-29.0 41.0,-30.1 41.7,-35.7 42.4,-29.0 43.1,-32.0 43.8,-23.3 44.5,-26.6 45.2,-32.9 45.9,-19.0 46.6,-33.2 47.3,-23.1 48.0,-23.8 48.7,-18.4 49.4,-18.6 50.1,-35.9 50.8,-29.3 51.5,-20.9 52.2,-19.2 52.9,-18.3 53.6,-18.5 54.3,-34.7 55.0,-19.3 55.6,-25.5 56.3,-18.3 57.0,-18.2 57.7,-18.2 58.4,-27.3 59.1,-22.7 59.8,-19.9 60.5,-23.4 61.2,-19.2 61.9,-27.5 62.6,-21.5 63.3,-42.4 64.0,-19.0 64.7,-24.5 65.4,-43.3 66.1,-20.4 66.8,-22.3 67.5,-33.6 68.2,-30.8 68.9,-19.6 69.6,-18.9 70.3,-18.2 71.0,-22.8 71.6,-19.0 72.3,-31.8 73.0,-28.2 73.7,-32.9 74.4,-26.2 75.1,-26.7 75.8,-21.3 75.8,-5.9 71.6,-7.2 67.5,-8.2 63.3,-4.6 59.1,-7.7 55.0,-6.1 50.8,-6.4 46.6,-2.9 42.4,-5.4 38.3,-12.3 34.1,-7.3 29.9,-7.6 25.7,-4.6 21.6,-8.7 17.4,-5.5 13.2,-5.6 9.0,-3.7 4.9,-6.7 0.7,-4.2Z" fill="url(#ge)"/>
<path transform="matrix(1,0.5146,0,1,80.56,632.61)" d="M0,-5.2L0,-18.4 0.7,-18.2 1.4,-18.5 2.1,-26.7 2.8,-18.2 3.5,-18.2 4.2,-26.6 4.9,-18.2 5.6,-23.5 6.3,-29.0 7.0,-18.2 7.7,-18.6 8.3,-18.5 9.0,-18.2 9.7,-18.5 10.4,-18.2 11.1,-18.2 11.8,-20.0 12.5,-18.2 13.2,-21.7 13.9,-28.1 14.6,-21.8 15.3,-19.1 16.0,-18.9 16.7,-23.6 17.4,-18.7 18.1,-18.2 18.8,-19.1 19.5,-18.5 20.2,-36.3 20.9,-26.8 21.6,-33.5 22.3,-18.2 23.0,-29.1 23.7,-20.2 24.3,-19.2 25.0,-21.1 25.7,-18.8 26.4,-33.2 27.1,-21.9 27.8,-23.0 28.5,-43.1 29.2,-21.0 29.9,-19.8 30.6,-20.8 31.3,-28.6 32.0,-20.4 32.7,-28.3 33.4,-25.9 34.1,-24.0 34.8,-41.6 35.5,-30.6 36.2,-42.0 36.9,-40.0 37.6,-37.9 38.3,-43.1 39.0,-40.6 39.6,-41.6 40.3,-35.4 41.0,-25.9 41.7,-24.3 42.4,-23.4 43.1,-36.0 43.8,-26.0 44.5,-21.1 45.2,-35.1 45.9,-20.0 46.6,-19.0 47.3,-18.5 48.0,-18.5 48.7,-21.2 49.4,-28.1 50.1,-20.5 50.8,-18.4 51.5,-18.2 52.2,-30.5 52.9,-28.5 53.6,-18.2 54.3,-29.4 55.0,-18.2 55.6,-18.1 56.3,-18.6 57.0,-22.8 57.7,-21.7 58.4,-22.5 59.1,-19.9 59.8,-18.9 60.5,-32.3 61.2,-24.1 61.9,-31.5 62.6,-18.9 63.3,-30.0 64.0,-22.4 64.7,-26.9 65.4,-18.1 66.1,-19.0 66.8,-27.1 67.5,-29.8 68.2,-19.6 68.9,-21.2 69.6,-18.3 70.3,-37.6 71.0,-18.1 71.6,-29.4 72.3,-24.5 73.0,-35.9 73.7,-21.4 74.4,-18.8 75.1,-18.8 75.8,-18.9 75.8,-4.7 71.6,-8.7 67.5,-4.0 63.3,-8.2 59.1,-8.2 55.0,-3.0 50.8,-6.2 46.6,-3.6 42.4,-3.6 38.3,-5.7 34.1,-6.3 29.9,-5.6 25.7,-7.2 21.6,-8.2 17.4,-7.5 13.2,-7.3 9.0,-7.4 4.9,-8.3 0.7,-3.9Z" fill="url(#ge)"/>
<path transform="matrix(1,0.5146,0,1,77.97,633.36)" d="M0,-7.4L0,-18.2 0.7,-25.2 1.4,-32.2 2.1,-37.8 2.8,-19.2 3.5,-39.4 4.2,-19.6 4.9,-18.2 5.6,-20.7 6.3,-18.1 7.0,-18.2 7.7,-28.0 8.3,-19.1 9.0,-18.1 9.7,-18.1 10.4,-38.0 11.1,-18.9 11.8,-18.2 12.5,-26.5 13.2,-31.3 13.9,-22.9 14.6,-19.2 15.3,-30.2 16.0,-18.1 16.7,-18.2 17.4,-18.2 18.1,-30.2 18.8,-19.8 19.5,-19.5 20.2,-18.1 20.9,-20.2 21.6,-37.1 22.3,-22.0 23.0,-26.1 23.7,-18.1 24.3,-21.2 25.0,-35.9 25.7,-23.8 26.4,-26.7 27.1,-23.6 27.8,-18.5 28.5,-19.9 29.2,-21.3 29.9,-19.1 30.6,-19.2 31.3,-36.2 32.0,-20.5 32.7,-21.4 33.4,-30.4 34.1,-39.8 34.8,-33.3 35.5,-40.9 36.2,-34.5 36.9,-34.4 37.6,-47.5 38.3,-48.9 39.0,-56.8 39.6,-37.4 40.3,-29.7 41.0,-34.1 41.7,-30.3 42.4,-23.9 43.1,-21.2 43.8,-34.5 44.5,-21.0 45.2,-20.4 45.9,-21.2 46.6,-20.3 47.3,-19.9 48.0,-27.8 48.7,-19.0 49.4,-26.4 50.1,-26.9 50.8,-18.2 51.5,-18.9 52.2,-24.2 52.9,-23.5 53.6,-22.8 54.3,-29.0 55.0,-18.1 55.6,-23.5 56.3,-18.4 57.0,-24.5 57.7,-18.3 58.4,-25.0 59.1,-31.7 59.8,-21.3 60.5,-18.4 61.2,-23.4 61.9,-20.3 62.6,-19.6 63.3,-23.6 64.0,-31.4 64.7,-37.8 65.4,-18.1 66.1,-18.3 66.8,-18.1 67.5,-18.1 68.2,-18.8 68.9,-18.4 69.6,-22.4 70.3,-27.0 71.0,-19.8 71.6,-35.5 72.3,-18.3 73.0,-18.2 73.7,-24.4 74.4,-18.1 75.1,-19.4 75.8,-31.7 75.8,-5.8 71.6,-7.6 67.5,-8.0 63.3,-4.2 59.1,-6.0 55.0,-3.2 50.8,-4.1 46.6,-6.6 42.4,-7.2 38.3,-9.2 34.1,-7.2 29.9,-3.9 25.7,-6.8 21.6,-3.6 17.4,-8.6 13.2,-4.0 9.0,-5.8 4.9,-6.4 0.7,-6.4Z" fill="url(#ge)"/>
<path transform="matrix(1,0.5146,0,1,75.37,634.11)" d="M0,-4.7L0,-18.3 0.7,-30.1 1.4,-37.9 2.1,-18.3 2.8,-18.1 3.5,-20.0 4.2,-18.1 4.9,-19.2 5.6,-18.7 6.3,-21.7 7.0,-33.5 7.7,-43.0 8.3,-23.4 9.0,-18.3 9.7,-23.8 10.4,-19.4 11.1,-21.9 11.8,-19.8 12.5,-18.1 13.2,-23.2 13.9,-18.3 14.6,-21.2 15.3,-31.0 16.0,-33.7 16.7,-21.1 17.4,-23.2 18.1,-18.2 18.8,-35.3 19.5,-18.8 20.2,-21.3 20.9,-18.1 21.6,-18.8 22.3,-25.6 23.0,-18.3 23.7,-18.1 24.3,-30.1 25.0,-21.4 25.7,-18.3 26.4,-18.2 27.1,-18.6 27.8,-18.3 28.5,-38.8 29.2,-19.1 29.9,-31.2 30.6,-20.1 31.3,-23.0 32.0,-38.7 32.7,-40.5 33.4,-22.6 34.1,-27.8 34.8,-25.9 35.5,-32.0 36.2,-34.2 36.9,-36.3 37.6,-44.4 38.3,-47.5 39.0,-38.4 39.6,-45.9 40.3,-33.7 41.0,-38.0 41.7,-40.9 42.4,-22.8 43.1,-22.9 43.8,-20.8 44.5,-20.4 45.2,-43.9 45.9,-19.2 46.6,-18.6 47.3,-25.5 48.0,-29.4 48.7,-19.6 49.4,-24.8 50.1,-26.7 50.8,-18.2 51.5,-18.3 52.2,-26.4 52.9,-18.8 53.6,-18.1 54.3,-18.5 55.0,-35.5 55.6,-18.1 56.3,-27.8 57.0,-18.6 57.7,-27.0 58.4,-20.9 59.1,-21.2 59.8,-18.4 60.5,-22.1 61.2,-18.1 61.9,-19.8 62.6,-18.2 63.3,-18.6 64.0,-23.4 64.7,-18.2 65.4,-18.1 66.1,-18.1 66.8,-18.2 67.5,-19.4 68.2,-25.8 68.9,-18.4 69.6,-25.9 70.3,-35.6 71.0,-19.1 71.6,-29.0 72.3,-22.5 73.0,-18.1 73.7,-18.1 74.4,-18.1 75.1,-32.6 75.8,-26.6 75.8,-6.1 71.6,-2.6 67.5,-7.2 63.3,-4.3 59.1,-8.2 55.0,-6.6 50.8,-6.8 46.6,-3.2 42.4,-9.5 38.3,-8.4 34.1,-9.3 29.9,-5.4 25.7,-3.6 21.6,-3.1 17.4,-6.7 13.2,-3.3 9.0,-4.3 4.9,-4.3 0.7,-3.6Z" fill="url(#ge)"/>
<path transform="matrix(1,0.5146,0,1,72.78,634.86)" d="M0,-4.1L0,-35.1 0.7,-18.2 1.4,-20.4 2.1,-23.9 2.8,-23.0 3.5,-18.2 4.2,-37.3 4.9,-18.1 5.6,-18.1 6.3,-23.9 7.0,-18.2 7.7,-23.5 8.3,-30.3 9.0,-29.4 9.7,-18.2 10.4,-23.5 11.1,-40.1 11.8,-23.0 12.5,-34.9 13.2,-18.4 13.9,-41.6 14.6,-18.8 15.3,-21.8 16.0,-18.1 16.7,-29.7 17.4,-33.5 18.1,-22.2 18.8,-20.0 19.5,-30.4 20.2,-36.3 20.9,-18.1 21.6,-30.7 22.3,-19.5 23.0,-22.8 23.7,-18.1 24.3,-19.0 25.0,-18.4 25.7,-32.1 26.4,-23.4 27.1,-25.7 27.8,-21.1 28.5,-25.0 29.2,-18.7 29.9,-25.0 30.6,-29.4 31.3,-27.2 32.0,-20.3 32.7,-23.2 33.4,-39.0 34.1,-34.9 34.8,-33.6 35.5,-36.3 36.2,-45.6 36.9,-35.2 37.6,-37.4 38.3,-38.1 39.0,-46.7 39.6,-35.6 40.3,-42.0 41.0,-26.6 41.7,-26.5 42.4,-32.3 43.1,-28.2 43.8,-26.9 44.5,-26.7 45.2,-19.2 45.9,-19.1 46.6,-22.6 47.3,-40.3 48.0,-24.7 48.7,-18.4 49.4,-18.8 50.1,-19.6 50.8,-24.9 51.5,-18.1 52.2,-18.2 52.9,-18.1 53.6,-18.1 54.3,-18.3 55.0,-18.1 55.6,-20.2 56.3,-18.2 57.0,-23.3 57.7,-28.0 58.4,-25.6 59.1,-21.4 59.8,-19.0 60.5,-26.2 61.2,-22.5 61.9,-22.7 62.6,-26.8 63.3,-19.3 64.0,-21.7 64.7,-19.9 65.4,-20.4 66.1,-27.0 66.8,-20.5 67.5,-30.7 68.2,-25.1 68.9,-18.6 69.6,-30.4 70.3,-22.2 71.0,-18.1 71.6,-18.9 72.3,-26.4 73.0,-19.4 73.7,-18.1 74.4,-30.7 75.1,-28.4 75.8,-19.3 75.8,-7.2 71.6,-4.6 67.5,-4.1 63.3,-4.5 59.1,-6.7 55.0,-6.3 50.8,-5.9 46.6,-5.4 42.4,-4.9 38.3,-8.8 34.1,-9.7 29.9,-3.4 25.7,-5.4 21.6,-5.8 17.4,-4.8 13.2,-4.0 9.0,-2.7 4.9,-5.2 0.7,-5.8Z" fill="url(#ge)"/>
<path transform="matrix(1,0.5146,0,1,70.19,635.60)" d="M0,-2.7L0,-31.0 0.7,-21.6 1.4,-37.8 2.1,-23.6 2.8,-28.6 3.5,-18.8 4.2,-21.4 4.9,-26.4 5.6,-42.4 6.3,-18.3 7.0,-39.3 7.7,-18.1 8.3,-18.1 9.0,-22.4 9.7,-37.7 10.4,-18.4 11.1,-41.3 11.8,-19.5 12.5,-18.1 13.2,-18.1 13.9,-19.8 14.6,-18.3 15.3,-24.0 16.0,-18.1 16.7,-20.1 17.4,-28.4 18.1,-21.6 18.8,-19.8 19.5,-21.8 20.2,-18.1 20.9,-35.1 21.6,-18.1 22.3,-20.0 23.0,-24.6 23.7,-19.4 24.3,-18.1 25.0,-18.5 25.7,-24.0 26.4,-18.3 27.1,-18.2 27.8,-23.9 28.5,-18.9 29.2,-26.9 29.9,-18.8 30.6,-31.0 31.3,-19.6 32.0,-43.6 32.7,-23.1 33.4,-32.6 34.1,-24.0 34.8,-25.9 35.5,-36.6 36.2,-45.1 36.9,-57.5 37.6,-46.6 38.3,-47.5 39.0,-34.4 39.6,-34.9 40.3,-28.3 41.0,-28.2 41.7,-28.2 42.4,-22.6 43.1,-21.3 43.8,-20.5 44.5,-21.3 45.2,-33.8 45.9,-20.1 46.6,-20.6 47.3,-31.8 48.0,-22.5 48.7,-24.1 49.4,-18.5 50.1,-18.2 50.8,-18.1 51.5,-31.2 52.2,-18.5 52.9,-18.1 53.6,-18.1 54.3,-20.5 55.0,-18.1 55.6,-19.3 56.3,-20.6 57.0,-18.1 57.7,-27.9 58.4,-18.2 59.1,-22.8 59.8,-18.6 60.5,-23.1 61.2,-25.7 61.9,-18.4 62.6,-20.9 63.3,-43.0 64.0,-21.1 64.7,-26.9 65.4,-23.0 66.1,-30.7 66.8,-19.8 67.5,-18.8 68.2,-18.1 68.9,-28.4 69.6,-24.3 70.3,-22.0 71.0,-32.3 71.6,-18.2 72.3,-18.1 73.0,-18.9 73.7,-18.1 74.4,-18.2 75.1,-18.1 75.8,-18.9 75.8,-5.1 71.6,-5.0 67.5,-7.1 63.3,-7.8 59.1,-6.9 55.0,-6.9 50.8,-3.4 46.6,-5.8 42.4,-8.9 38.3,-11.8 34.1,-8.8 29.9,-5.9 25.7,-8.1 21.6,-8.3 17.4,-3.5 13.2,-2.9 9.0,-5.5 4.9,-3.8 0.7,-8.3Z" fill="url(#ge)"/>
<path transform="matrix(1,0.5146,0,1,67.60,636.35)" d="M0,-2.9L0,-18.5 0.7,-22.0 1.4,-41.8 2.1,-19.1 2.8,-19.7 3.5,-19.5 4.2,-18.4 4.9,-25.4 5.6,-18.1 6.3,-20.2 7.0,-18.2 7.7,-29.7 8.3,-21.4 9.0,-28.5 9.7,-26.5 10.4,-30.1 11.1,-18.7 11.8,-21.4 12.5,-31.9 13.2,-21.3 13.9,-28.5 14.6,-18.8 15.3,-28.0 16.0,-20.0 16.7,-41.9 17.4,-27.5 18.1,-21.4 18.8,-25.9 19.5,-18.3 20.2,-21.2 20.9,-18.0 21.6,-18.1 22.3,-21.7 23.0,-21.4 23.7,-23.7 24.3,-35.8 25.0,-23.8 25.7,-19.6 26.4,-20.7 27.1,-34.7 27.8,-22.9 28.5,-25.8 29.2,-21.9 29.9,-19.7 30.6,-19.8 31.3,-31.1 32.0,-27.7 32.7,-27.0 33.4,-25.3 34.1,-46.4 34.8,-37.9 35.5,-43.1 36.2,-35.2 36.9,-43.7 37.6,-44.7 38.3,-37.7 39.0,-44.2 39.6,-32.6 40.3,-29.5 41.0,-32.6 41.7,-39.4 42.4,-24.5 43.1,-30.4 43.8,-24.5 44.5,-26.9 45.2,-25.5 45.9,-19.7 46.6,-19.8 47.3,-26.6 48.0,-20.7 48.7,-18.7 49.4,-18.3 50.1,-23.4 50.8,-18.4 51.5,-19.0 52.2,-24.9 52.9,-26.6 53.6,-20.4 54.3,-20.7 55.0,-18.2 55.6,-18.4 56.3,-21.2 57.0,-19.1 57.7,-23.5 58.4,-27.4 59.1,-33.4 59.8,-23.5 60.5,-35.7 61.2,-18.5 61.9,-18.1 62.6,-23.1 63.3,-22.1 64.0,-31.4 64.7,-30.8 65.4,-19.7 66.1,-37.4 66.8,-28.4 67.5,-32.3 68.2,-24.4 68.9,-18.1 69.6,-35.0 70.3,-18.3 71.0,-26.8 71.6,-26.0 72.3,-20.5 73.0,-18.1 73.7,-31.8 74.4,-27.6 75.1,-35.2 75.8,-18.1 75.8,-3.6 71.6,-6.4 67.5,-4.1 63.3,-3.8 59.1,-3.9 55.0,-5.3 50.8,-8.5 46.6,-4.5 42.4,-3.2 38.3,-4.8 34.1,-8.1 29.9,-8.4 25.7,-7.8 21.6,-3.7 17.4,-5.1 13.2,-7.1 9.0,-5.0 4.9,-4.7 0.7,-6.0Z" fill="url(#ge)"/>
<path transform="matrix(1,0.5146,0,1,65.01,637.10)" d="M0,-2.7L0,-32.2 0.7,-22.9 1.4,-18.0 2.1,-25.9 2.8,-20.0 3.5,-20.0 4.2,-34.9 4.9,-22.7 5.6,-18.1 6.3,-18.8 7.0,-19.8 7.7,-25.0 8.3,-23.2 9.0,-35.7 9.7,-18.6 10.4,-18.0 11.1,-23.0 11.8,-18.0 12.5,-35.7 13.2,-29.0 13.9,-19.0 14.6,-28.7 15.3,-18.1 16.0,-24.6 16.7,-21.0 17.4,-25.6 18.1,-18.2 18.8,-24.3 19.5,-27.4 20.2,-18.2 20.9,-26.2 21.6,-22.7 22.3,-27.0 23.0,-31.4 23.7,-18.0 24.3,-20.9 25.0,-20.5 25.7,-35.9 26.4,-27.3 27.1,-29.9 27.8,-18.3 28.5,-26.1 29.2,-21.5 29.9,-18.8 30.6,-20.0 31.3,-19.6 32.0,-23.0 32.7,-27.2 33.4,-22.3 34.1,-23.8 34.8,-25.8 35.5,-28.3 36.2,-42.1 36.9,-38.8 37.6,-41.7 38.3,-42.2 39.0,-42.2 39.6,-31.0 40.3,-28.4 41.0,-27.5 41.7,-24.4 42.4,-34.6 43.1,-21.9 43.8,-20.3 44.5,-38.3 45.2,-28.4 45.9,-33.3 46.6,-19.6 47.3,-36.9 48.0,-18.3 48.7,-18.9 49.4,-18.3 50.1,-26.3 50.8,-24.9 51.5,-18.4 52.2,-18.0 52.9,-18.7 53.6,-19.6 54.3,-35.0 55.0,-23.2 55.6,-32.6 56.3,-23.6 57.0,-18.5 57.7,-19.0 58.4,-27.3 59.1,-27.0 59.8,-34.3 60.5,-20.4 61.2,-18.2 61.9,-18.2 62.6,-19.0 63.3,-31.5 64.0,-26.6 64.7,-18.0 65.4,-18.2 66.1,-30.6 66.8,-19.8 67.5,-18.8 68.2,-26.9 68.9,-24.9 69.6,-18.2 70.3,-29.8 71.0,-18.3 71.6,-31.9 72.3,-18.0 73.0,-18.2 73.7,-23.7 74.4,-18.0 75.1,-23.4 75.8,-24.6 75.8,-4.3 71.6,-5.0 67.5,-8.0 63.3,-3.9 59.1,-3.4 55.0,-5.3 50.8,-7.9 46.6,-5.7 42.4,-8.6 38.3,-10.9 34.1,-9.5 29.9,-3.3 25.7,-2.8 21.6,-3.5 17.4,-6.4 13.2,-3.7 9.0,-4.3 4.9,-4.9 0.7,-4.2Z" fill="url(#ge)"/>
<path transform="matrix(1,0.5146,0,1,62.42,637.85)" d="M0,-6.1L0,-20.4 0.7,-32.9 1.4,-18.0 2.1,-31.8 2.8,-18.0 3.5,-20.4 4.2,-18.5 4.9,-30.1 5.6,-18.0 6.3,-27.6 7.0,-24.8 7.7,-18.8 8.3,-27.7 9.0,-20.0 9.7,-18.9 10.4,-18.5 11.1,-29.4 11.8,-18.6 12.5,-18.2 13.2,-37.3 13.9,-33.2 14.6,-18.7 15.3,-18.1 16.0,-18.8 16.7,-18.2 17.4,-32.2 18.1,-18.9 18.8,-33.7 19.5,-33.8 20.2,-21.2 20.9,-18.2 21.6,-22.2 22.3,-25.5 23.0,-18.6 23.7,-25.1 24.3,-34.1 25.0,-37.8 25.7,-23.4 26.4,-31.7 27.1,-33.5 27.8,-18.2 28.5,-18.5 29.2,-21.8 29.9,-31.3 30.6,-20.5 31.3,-23.1 32.0,-24.7 32.7,-30.0 33.4,-24.1 34.1,-29.2 34.8,-25.9 35.5,-42.0 36.2,-37.3 36.9,-41.9 37.6,-48.1 38.3,-56.7 39.0,-41.7 39.6,-31.5 40.3,-28.2 41.0,-28.3 41.7,-28.0 42.4,-25.4 43.1,-21.4 43.8,-20.3 44.5,-19.6 45.2,-21.0 45.9,-18.7 46.6,-19.7 47.3,-28.4 48.0,-42.6 48.7,-18.8 49.4,-21.7 50.1,-36.8 50.8,-41.2 51.5,-18.1 52.2,-25.8 52.9,-18.2 53.6,-18.0 54.3,-18.2 55.0,-24.3 55.6,-18.9 56.3,-22.6 57.0,-22.1 57.7,-18.2 58.4,-19.0 59.1,-26.3 59.8,-18.1 60.5,-20.6 61.2,-20.9 61.9,-21.3 62.6,-20.0 63.3,-20.2 64.0,-21.4 64.7,-31.0 65.4,-18.4 66.1,-23.0 66.8,-18.3 67.5,-20.3 68.2,-18.0 68.9,-18.2 69.6,-22.2 70.3,-18.3 71.0,-19.7 71.6,-18.0 72.3,-33.4 73.0,-18.0 73.7,-19.1 74.4,-18.6 75.1,-21.2 75.8,-20.8 75.8,-5.1 71.6,-3.0 67.5,-7.8 63.3,-5.4 59.1,-6.1 55.0,-6.0 50.8,-7.2 46.6,-4.0 42.4,-9.4 38.3,-10.7 34.1,-8.1 29.9,-6.2 25.7,-5.5 21.6,-3.1 17.4,-8.6 13.2,-6.8 9.0,-6.0 4.9,-4.2 0.7,-6.0Z" fill="url(#ge)"/>
<path transform="matrix(1,0.5146,0,1,59.83,638.60)" d="M0,-5.5L0,-18.0 0.7,-18.4 1.4,-28.1 2.1,-27.0 2.8,-18.0 3.5,-23.9 4.2,-18.0 4.9,-21.3 5.6,-26.3 6.3,-18.0 7.0,-18.1 7.7,-20.7 8.3,-18.5 9.0,-18.0 9.7,-18.6 10.4,-27.3 11.1,-18.0 11.8,-20.4 12.5,-18.0 13.2,-18.7 13.9,-18.0 14.6,-25.4 15.3,-19.3 16.0,-19.8 16.7,-18.0 17.4,-26.7 18.1,-28.8 18.8,-18.0 19.5,-42.9 20.2,-21.0 20.9,-18.0 21.6,-29.0 22.3,-18.7 23.0,-18.0 23.7,-18.0 24.3,-38.0 25.0,-19.3 25.7,-18.6 26.4,-28.0 27.1,-20.8 27.8,-18.4 28.5,-21.7 29.2,-31.2 29.9,-25.3 30.6,-26.9 31.3,-31.0 32.0,-25.7 32.7,-21.1 33.4,-26.4 34.1,-24.6 34.8,-35.4 35.5,-28.1 36.2,-55.8 36.9,-42.2 37.6,-36.8 38.3,-49.9 39.0,-47.3 39.6,-40.7 40.3,-39.2 41.0,-28.9 41.7,-30.4 42.4,-41.0 43.1,-27.9 43.8,-20.2 44.5,-23.3 45.2,-26.1 45.9,-18.7 46.6,-20.1 47.3,-22.9 48.0,-28.4 48.7,-25.6 49.4,-24.2 50.1,-18.8 50.8,-28.7 51.5,-18.7 52.2,-33.1 52.9,-21.9 53.6,-31.8 54.3,-18.2 55.0,-32.9 55.6,-18.1 56.3,-29.3 57.0,-28.3 57.7,-19.3 58.4,-23.3 59.1,-23.1 59.8,-18.7 60.5,-18.0 61.2,-20.2 61.9,-18.0 62.6,-24.0 63.3,-21.5 64.0,-18.0 64.7,-18.1 65.4,-21.7 66.1,-18.3 66.8,-20.0 67.5,-20.5 68.2,-19.4 68.9,-27.3 69.6,-19.6 70.3,-19.1 71.0,-19.6 71.6,-18.4 72.3,-18.1 73.0,-18.2 73.7,-18.0 74.4,-21.4 75.1,-33.4 75.8,-35.4 75.8,-3.5 71.6,-5.2 67.5,-7.5 63.3,-4.2 59.1,-3.6 55.0,-7.6 50.8,-4.4 46.6,-5.1 42.4,-7.0 38.3,-6.5 34.1,-4.9 29.9,-5.7 25.7,-6.6 21.6,-4.4 17.4,-5.6 13.2,-7.2 9.0,-4.2 4.9,-7.4 0.7,-8.4Z" fill="url(#ge)"/>
<path transform="matrix(1,0.5146,0,1,57.24,639.35)" d="M0,-3.4L0,-18.3 0.7,-18.8 1.4,-18.2 2.1,-21.3 2.8,-41.7 3.5,-34.2 4.2,-19.6 4.9,-32.1 5.6,-25.3 6.3,-22.8 7.0,-18.0 7.7,-22.0 8.3,-20.3 9.0,-18.0 9.7,-18.0 10.4,-23.0 11.1,-18.0 11.8,-20.4 12.5,-32.8 13.2,-30.4 13.9,-24.4 14.6,-22.6 15.3,-30.5 16.0,-27.5 16.7,-19.2 17.4,-18.0 18.1,-19.6 18.8,-24.6 19.5,-18.0 20.2,-29.0 20.9,-19.0 21.6,-23.5 22.3,-18.0 23.0,-18.6 23.7,-25.7 24.3,-19.4 25.0,-23.9 25.7,-32.0 26.4,-22.1 27.1,-19.0 27.8,-31.9 28.5,-18.3 29.2,-26.2 29.9,-24.0 30.6,-19.7 31.3,-22.3 32.0,-22.2 32.7,-21.7 33.4,-41.8 34.1,-25.9 34.8,-29.5 35.5,-28.0 36.2,-37.4 36.9,-35.7 37.6,-47.3 38.3,-36.8 39.0,-34.9 39.6,-44.3 40.3,-33.2 41.0,-25.6 41.7,-31.9 42.4,-23.2 43.1,-28.3 43.8,-20.6 44.5,-20.3 45.2,-20.5 45.9,-24.3 46.6,-40.9 47.3,-18.4 48.0,-31.1 48.7,-32.1 49.4,-18.4 50.1,-18.0 50.8,-25.7 51.5,-27.5 52.2,-35.5 52.9,-18.0 53.6,-39.1 54.3,-18.0 55.0,-18.6 55.6,-18.3 56.3,-24.6 57.0,-18.0 57.7,-19.8 58.4,-18.7 59.1,-20.9 59.8,-18.1 60.5,-21.5 61.2,-18.5 61.9,-18.0 62.6,-27.2 63.3,-43.1 64.0,-34.5 64.7,-21.6 65.4,-18.9 66.1,-23.5 66.8,-18.0 67.5,-20.3 68.2,-18.3 68.9,-25.3 69.6,-33.3 70.3,-20.6 71.0,-18.0 71.6,-19.6 72.3,-22.5 73.0,-19.8 73.7,-21.4 74.4,-23.0 75.1,-20.2 75.8,-22.9 75.8,-3.0 71.6,-6.1 67.5,-4.5 63.3,-7.4 59.1,-5.7 55.0,-3.5 50.8,-6.8 46.6,-7.5 42.4,-7.3 38.3,-11.8 34.1,-9.5 29.9,-6.1 25.7,-7.9 21.6,-4.6 17.4,-4.3 13.2,-4.6 9.0,-8.4 4.9,-4.7 0.7,-6.8Z" fill="url(#ge)"/>
<path transform="matrix(1,0.5146,0,1,54.65,640.10)" d="M0,-5.7L0,-18.5 0.7,-18.3 1.4,-23.3 2.1,-24.8 2.8,-18.9 3.5,-32.4 4.2,-17.9 4.9,-18.0 5.6,-19.1 6.3,-18.6 7.0,-20.2 7.7,-24.6 8.3,-20.4 9.0,-18.2 9.7,-20.4 10.4,-20.4 11.1,-20.8 11.8,-31.9 12.5,-23.7 13.2,-18.5 13.9,-34.5 14.6,-19.1 15.3,-18.0 16.0,-28.9 16.7,-20.4 17.4,-24.4 18.1,-17.9 18.8,-23.9 19.5,-20.8 20.2,-23.6 20.9,-27.5 21.6,-19.2 22.3,-18.0 23.0,-32.2 23.7,-19.9 24.3,-23.3 25.0,-23.6 25.7,-19.3 26.4,-18.3 27.1,-18.2 27.8,-18.2 28.5,-19.0 29.2,-33.9 29.9,-33.3 30.6,-21.3 31.3,-22.8 32.0,-23.5 32.7,-26.3 33.4,-34.8 34.1,-25.8 34.8,-26.5 35.5,-32.6 36.2,-44.3 36.9,-43.2 37.6,-45.0 38.3,-43.4 39.0,-46.6 39.6,-30.8 40.3,-37.0 41.0,-35.9 41.7,-23.8 42.4,-25.8 43.1,-29.2 43.8,-41.2 44.5,-19.8 45.2,-27.9 45.9,-31.6 46.6,-18.4 47.3,-19.0 48.0,-18.2 48.7,-22.7 49.4,-26.0 50.1,-18.4 50.8,-18.0 51.5,-24.7 52.2,-37.9 52.9,-18.0 53.6,-19.6 54.3,-25.6 55.0,-22.9 55.6,-18.0 56.3,-22.0 57.0,-24.1 57.7,-18.7 58.4,-19.0 59.1,-18.2 59.8,-18.7 60.5,-18.1 61.2,-22.2 61.9,-18.0 62.6,-18.6 63.3,-27.2 64.0,-29.7 64.7,-19.9 65.4,-28.0 66.1,-23.4 66.8,-28.9 67.5,-18.0 68.2,-22.8 68.9,-28.1 69.6,-27.0 70.3,-22.2 71.0,-18.0 71.6,-22.5 72.3,-30.6 73.0,-18.0 73.7,-17.9 74.4,-21.4 75.1,-27.6 75.8,-40.4 75.8,-6.7 71.6,-8.5 67.5,-6.7 63.3,-5.9 59.1,-8.4 55.0,-5.6 50.8,-3.3 46.6,-3.6 42.4,-5.4 38.3,-10.6 34.1,-8.3 29.9,-6.6 25.7,-3.5 21.6,-4.6 17.4,-4.5 13.2,-4.8 9.0,-2.7 4.9,-7.3 0.7,-8.0Z" fill="url(#ge)"/>
<path transform="matrix(1,0.5146,0,1,52.05,640.85)" d="M0,-3.6L0,-17.9 0.7,-18.4 1.4,-18.1 2.1,-22.4 2.8,-17.9 3.5,-18.0 4.2,-29.1 4.9,-26.5 5.6,-18.5 6.3,-17.9 7.0,-28.4 7.7,-18.1 8.3,-18.0 9.0,-28.6 9.7,-20.7 10.4,-42.9 11.1,-17.9 11.8,-23.8 12.5,-17.9 13.2,-25.1 13.9,-20.1 14.6,-23.1 15.3,-22.3 16.0,-18.0 16.7,-22.2 17.4,-26.3 18.1,-18.3 18.8,-18.3 19.5,-18.1 20.2,-18.6 20.9,-33.0 21.6,-30.0 22.3,-22.6 23.0,-20.8 23.7,-18.7 24.3,-31.4 25.0,-25.7 25.7,-24.9 26.4,-18.0 27.1,-18.7 27.8,-21.6 28.5,-18.3 29.2,-19.3 29.9,-18.7 30.6,-19.1 31.3,-19.5 32.0,-33.6 32.7,-24.9 33.4,-24.2 34.1,-36.1 34.8,-28.9 35.5,-28.0 36.2,-33.3 36.9,-44.8 37.6,-40.1 38.3,-40.5 39.0,-43.4 39.6,-38.3 40.3,-33.6 41.0,-37.3 41.7,-32.2 42.4,-39.8 43.1,-21.8 43.8,-23.7 44.5,-24.1 45.2,-27.0 45.9,-18.7 46.6,-19.6 47.3,-19.5 48.0,-20.9 48.7,-18.3 49.4,-19.4 50.1,-18.4 50.8,-18.0 51.5,-18.3 52.2,-18.5 52.9,-17.9 53.6,-18.0 54.3,-29.2 55.0,-22.3 55.6,-17.9 56.3,-18.6 57.0,-28.8 57.7,-18.3 58.4,-20.4 59.1,-21.4 59.8,-19.4 60.5,-20.8 61.2,-21.4 61.9,-21.2 62.6,-24.6 63.3,-22.8 64.0,-18.0 64.7,-20.5 65.4,-21.1 66.1,-22.0 66.8,-17.9 67.5,-26.3 68.2,-18.1 68.9,-18.9 69.6,-19.3 70.3,-18.2 71.0,-17.9 71.6,-25.5 72.3,-18.2 73.0,-26.9 73.7,-38.9 74.4,-18.0 75.1,-19.0 75.8,-19.9 75.8,-5.7 71.6,-5.4 67.5,-5.5 63.3,-8.2 59.1,-5.4 55.0,-3.2 50.8,-7.0 46.6,-6.7 42.4,-3.6 38.3,-9.0 34.1,-7.9 29.9,-4.9 25.7,-6.6 21.6,-5.0 17.4,-6.4 13.2,-6.7 9.0,-6.5 4.9,-3.2 0.7,-5.7Z" fill="url(#ge)"/>
<path transform="matrix(1,0.5146,0,1,49.46,641.60)" d="M0,-4.0L0,-27.1 0.7,-29.7 1.4,-34.5 2.1,-17.9 2.8,-17.9 3.5,-23.4 4.2,-18.5 4.9,-18.8 5.6,-25.1 6.3,-17.9 7.0,-19.0 7.7,-29.5 8.3,-22.7 9.0,-22.4 9.7,-17.9 10.4,-21.4 11.1,-23.6 11.8,-30.4 12.5,-17.9 13.2,-28.6 13.9,-31.3 14.6,-19.2 15.3,-31.3 16.0,-19.9 16.7,-31.6 17.4,-17.9 18.1,-23.1 18.8,-24.8 19.5,-19.7 20.2,-18.0 20.9,-18.6 21.6,-23.0 22.3,-17.9 23.0,-19.9 23.7,-29.2 24.3,-31.2 25.0,-18.5 25.7,-38.5 26.4,-19.4 27.1,-34.2 27.8,-18.2 28.5,-20.2 29.2,-18.8 29.9,-18.6 30.6,-19.3 31.3,-19.6 32.0,-21.4 32.7,-36.3 33.4,-22.1 34.1,-33.8 34.8,-41.8 35.5,-34.8 36.2,-33.3 36.9,-40.4 37.6,-39.4 38.3,-39.5 39.0,-35.5 39.6,-31.9 40.3,-28.9 41.0,-35.5 41.7,-32.8 42.4,-28.0 43.1,-21.4 43.8,-21.6 44.5,-24.8 45.2,-19.0 45.9,-33.6 46.6,-18.9 47.3,-18.3 48.0,-18.1 48.7,-22.7 49.4,-35.8 50.1,-24.1 50.8,-20.0 51.5,-19.7 52.2,-18.2 52.9,-19.0 53.6,-20.0 54.3,-18.3 55.0,-17.9 55.6,-18.2 56.3,-30.8 57.0,-19.3 57.7,-17.9 58.4,-22.5 59.1,-31.7 59.8,-18.0 60.5,-22.5 61.2,-18.4 61.9,-17.9 62.6,-19.6 63.3,-17.9 64.0,-20.6 64.7,-26.2 65.4,-20.0 66.1,-35.0 66.8,-17.9 67.5,-19.8 68.2,-17.9 68.9,-18.2 69.6,-18.2 70.3,-17.9 71.0,-24.9 71.6,-18.1 72.3,-24.1 73.0,-26.5 73.7,-33.6 74.4,-18.6 75.1,-18.0 75.8,-29.5 75.8,-7.0 71.6,-5.9 67.5,-5.0 63.3,-4.1 59.1,-5.5 55.0,-6.9 50.8,-4.5 46.6,-5.1 42.4,-5.5 38.3,-11.6 34.1,-9.0 29.9,-5.2 25.7,-8.0 21.6,-8.0 17.4,-3.7 13.2,-2.9 9.0,-6.6 4.9,-7.9 0.7,-6.0Z" fill="url(#ge)"/>
<path transform="matrix(1,0.5146,0,1,46.87,642.34)" d="M0,-7.4L0,-27.5 0.7,-18.3 1.4,-32.9 2.1,-17.9 2.8,-33.9 3.5,-33.3 4.2,-17.9 4.9,-28.0 5.6,-18.3 6.3,-19.7 7.0,-30.0 7.7,-31.1 8.3,-18.2 9.0,-23.9 9.7,-30.0 10.4,-17.9 11.1,-23.1 11.8,-19.2 12.5,-32.2 13.2,-17.9 13.9,-19.8 14.6,-19.2 15.3,-18.9 16.0,-20.6 16.7,-23.8 17.4,-17.9 18.1,-23.9 18.8,-18.1 19.5,-17.9 20.2,-22.5 20.9,-26.2 21.6,-19.7 22.3,-17.9 23.0,-20.9 23.7,-21.6 24.3,-18.2 25.0,-22.4 25.7,-30.2 26.4,-18.0 27.1,-35.9 27.8,-18.6 28.5,-21.5 29.2,-30.1 29.9,-28.6 30.6,-19.0 31.3,-20.7 32.0,-23.2 32.7,-23.7 33.4,-23.4 34.1,-24.0 34.8,-29.6 35.5,-28.1 36.2,-31.1 36.9,-34.7 37.6,-48.8 38.3,-42.6 39.0,-38.9 39.6,-42.5 40.3,-30.7 41.0,-26.5 41.7,-23.9 42.4,-38.2 43.1,-30.8 43.8,-27.2 44.5,-20.0 45.2,-27.0 45.9,-18.7 46.6,-19.5 47.3,-31.1 48.0,-23.5 48.7,-20.3 49.4,-18.0 50.1,-19.2 50.8,-20.0 51.5,-32.7 52.2,-17.9 52.9,-17.9 53.6,-26.0 54.3,-19.5 55.0,-19.0 55.6,-20.3 56.3,-17.9 57.0,-23.9 57.7,-17.9 58.4,-29.3 59.1,-21.0 59.8,-24.7 60.5,-20.4 61.2,-18.6 61.9,-29.6 62.6,-25.3 63.3,-25.1 64.0,-18.1 64.7,-18.1 65.4,-18.0 66.1,-19.4 66.8,-20.4 67.5,-18.0 68.2,-24.2 68.9,-20.1 69.6,-35.7 70.3,-18.2 71.0,-18.1 71.6,-18.0 72.3,-20.4 73.0,-21.2 73.7,-20.0 74.4,-18.9 75.1,-20.7 75.8,-20.1 75.8,-2.8 71.6,-7.7 67.5,-8.1 63.3,-7.3 59.1,-7.1 55.0,-6.7 50.8,-8.3 46.6,-8.6 42.4,-7.3 38.3,-4.5 34.1,-4.2 29.9,-8.6 25.7,-7.5 21.6,-5.2 17.4,-8.2 13.2,-5.8 9.0,-4.7 4.9,-7.1 0.7,-4.3Z" fill="url(#ge)"/>
<path transform="matrix(1,0.5146,0,1,44.28,643.09)" d="M0,-6.0L0,-40.0 0.7,-19.4 1.4,-17.9 2.1,-19.9 2.8,-18.9 3.5,-37.1 4.2,-18.1 4.9,-20.6 5.6,-22.5 6.3,-17.9 7.0,-28.0 7.7,-17.9 8.3,-35.4 9.0,-21.6 9.7,-25.2 10.4,-18.4 11.1,-27.1 11.8,-18.3 12.5,-17.9 13.2,-18.2 13.9,-30.8 14.6,-33.0 15.3,-27.4 16.0,-37.5 16.7,-22.0 17.4,-25.0 18.1,-20.6 18.8,-18.5 19.5,-27.5 20.2,-27.7 20.9,-39.8 21.6,-23.5 22.3,-18.6 23.0,-18.0 23.7,-19.2 24.3,-18.2 25.0,-17.9 25.7,-18.0 26.4,-27.7 27.1,-41.5 27.8,-18.9 28.5,-20.2 29.2,-22.7 29.9,-22.5 30.6,-19.1 31.3,-30.9 32.0,-38.0 32.7,-22.1 33.4,-24.1 34.1,-36.3 34.8,-31.9 35.5,-29.8 36.2,-31.1 36.9,-42.2 37.6,-51.2 38.3,-50.2 39.0,-38.7 39.6,-39.6 40.3,-45.1 41.0,-29.9 41.7,-30.0 42.4,-27.8 43.1,-20.9 43.8,-34.8 44.5,-27.4 45.2,-43.7 45.9,-18.6 46.6,-18.4 47.3,-41.9 48.0,-18.1 48.7,-18.4 49.4,-20.7 50.1,-32.2 50.8,-18.4 51.5,-17.9 52.2,-18.2 52.9,-19.2 53.6,-17.9 54.3,-20.1 55.0,-18.3 55.6,-26.2 56.3,-31.3 57.0,-25.4 57.7,-18.0 58.4,-17.9 59.1,-18.2 59.8,-25.2 60.5,-17.9 61.2,-34.6 61.9,-19.1 62.6,-21.4 63.3,-40.9 64.0,-40.4 64.7,-33.3 65.4,-18.6 66.1,-22.5 66.8,-18.2 67.5,-20.6 68.2,-18.0 68.9,-19.7 69.6,-30.6 70.3,-19.8 71.0,-18.7 71.6,-18.4 72.3,-18.4 73.0,-26.0 73.7,-24.2 74.4,-33.7 75.1,-24.2 75.8,-18.3 75.8,-3.6 71.6,-5.0 67.5,-5.9 63.3,-5.6 59.1,-5.3 55.0,-3.4 50.8,-7.2 46.6,-6.0 42.4,-6.1 38.3,-12.0 34.1,-7.0 29.9,-4.8 25.7,-7.5 21.6,-6.3 17.4,-5.2 13.2,-8.1 9.0,-6.4 4.9,-4.1 0.7,-4.2Z" fill="url(#ge)"/>
<path transform="matrix(1,0.5146,0,1,41.69,643.84)" d="M0,-1.0L0,-20.4 0.7,-22.7 1.4,-34.8 2.1,-21.3 2.8,-19.0 3.5,-26.6 4.2,-18.0 4.9,-18.9 5.6,-25.4 6.3,-18.8 7.0,-19.6 7.7,-20.6 8.3,-19.8 9.0,-25.8 9.7,-18.3 10.4,-28.3 11.1,-23.6 11.8,-19.5 12.5,-25.0 13.2,-24.8 13.9,-26.4 14.6,-18.8 15.3,-31.6 16.0,-20.2 16.7,-20.2 17.4,-27.3 18.1,-35.1 18.8,-19.0 19.5,-18.6 20.2,-20.9 20.9,-17.9 21.6,-28.1 22.3,-27.9 23.0,-18.7 23.7,-17.9 24.3,-18.4 25.0,-19.6 25.7,-19.3 26.4,-23.3 27.1,-18.6 27.8,-18.1 28.5,-27.1 29.2,-18.5 29.9,-22.6 30.6,-32.4 31.3,-33.8 32.0,-20.0 32.7,-37.0 33.4,-23.8 34.1,-25.8 34.8,-25.4 35.5,-31.4 36.2,-37.0 36.9,-35.0 37.6,-45.8 38.3,-43.9 39.0,-36.3 39.6,-33.9 40.3,-40.9 41.0,-40.8 41.7,-38.3 42.4,-26.0 43.1,-29.0 43.8,-28.0 44.5,-23.7 45.2,-18.9 45.9,-20.7 46.6,-25.5 47.3,-19.9 48.0,-23.3 48.7,-33.7 49.4,-17.9 50.1,-18.5 50.8,-38.4 51.5,-17.9 52.2,-20.8 52.9,-20.9 53.6,-24.6 54.3,-20.8 55.0,-18.0 55.6,-17.9 56.3,-34.0 57.0,-21.7 57.7,-17.8 58.4,-35.3 59.1,-25.0 59.8,-20.6 60.5,-34.6 61.2,-26.2 61.9,-18.1 62.6,-20.1 63.3,-27.5 64.0,-17.9 64.7,-20.3 65.4,-19.1 66.1,-27.6 66.8,-19.4 67.5,-17.9 68.2,-27.5 68.9,-18.3 69.6,-34.9 70.3,-31.3 71.0,-17.8 71.6,-22.0 72.3,-33.0 73.0,-17.9 73.7,-18.2 74.4,-27.4 75.1,-29.0 75.8,-29.4 75.8,-3.9 74.4,-3.1 73.0,-2.1 71.6,-1.9 70.3,-1.6 68.9,-1.5 67.5,-1.9 66.1,-2.3 64.7,-1.4 63.3,-1.9 61.9,-2.0 60.5,-2.2 59.1,-2.2 57.7,-1.3 56.3,-1.4 55.0,-0.8 53.6,-0.8 52.2,-1.4 50.8,-1.1 49.4,-2.3 48.0,-1.0 46.6,-1.6 45.2,-2.3 43.8,-2.4 42.4,-1.0 41.0,-1.0 39.6,-1.1 38.3,-1.8 36.9,-1.1 35.5,-1.4 34.1,-1.8 32.7,-0.9 31.3,-2.1 29.9,-1.6 28.5,-1.3 27.1,-1.7 25.7,-1.8 24.3,-1.7 23.0,-0.8 21.6,-0.8 20.2,-1.7 18.8,-1.7 17.4,-1.1 16.0,-2.2 14.6,-2.4 13.2,-1.1 11.8,-2.1 10.4,-1.3 9.0,-2.3 7.7,-1.7 6.3,-1.7 4.9,-2.2 3.5,-2.1 2.1,-1.2 0.7,-2.1Z" fill="url(#ge)"/>
<path d="M96.5,648.9v12.7M158.0,596.1v16.9M175.5,623.8v13.2M189.4,608.9v15.1M198.8,601.4v27.0M149.9,616.1v18.7M152.7,611.9v12.0M121.5,632.3v18.4M155.4,589.0v14.7M188.7,625.4v7.6M159.0,595.0v14.2M109.8,613.1v17.3M110.4,643.6v18.4M120.0,633.5v14.7M157.6,634.5v14.9M172.1,611.7v16.9M156.5,603.4v20.8M116.9,639.4v13.4M197.1,619.0v17.1M156.8,603.0v28.7M107.2,629.9v16.0M73.9,631.2v12.4M171.7,605.7v21.3M197.1,615.2v17.6M168.1,646.8v13.8M90.6,628.2v13.2M144.8,608.2v23.7M116.7,622.6v11.5M131.2,606.7v16.4M59.8,606.0v13.0M150.5,628.7v9.9M96.0,653.9v7.6M171.5,632.7v8.4M130.2,614.1v25.1M100.2,635.6v14.3M143.8,635.2v13.2M91.0,628.3v13.9M133.8,637.7v16.0M165.9,618.4v17.4M162.3,608.6v13.4M199.8,619.0v10.4M138.5,645.0v13.0M164.1,613.3v17.1M118.6,617.2v14.0M159.7,625.5v8.4M193.3,604.6v14.8M189.9,606.9v15.2M212.0,627.1v18.5M171.6,603.4v13.5M191.6,621.5v21.7M108.9,619.0v8.3M118.3,630.7v13.8M97.1,649.0v13.0M129.5,632.6v8.8M192.6,625.9v14.4M111.2,601.2v25.9M145.8,639.1v21.6M89.5,634.7v9.9M164.8,601.7v11.8M180.3,643.3v15.4M125.3,598.7v17.8M135.4,607.2v9.4M128.9,620.3v13.5M102.6,642.2v10.2M90.6,615.8v17.3M201.9,612.9v11.4M172.2,606.9v18.2M96.6,650.2v13.3M212.0,634.7v15.3M201.7,615.1v10.7M153.4,607.2v8.6M187.7,603.4v19.3M111.5,610.0v11.4M70.4,623.0v12.9M126.3,630.3v12.0M101.0,635.1v9.7M113.8,622.2v24.0M129.1,608.0v18.0M137.8,605.3v9.7M125.3,660.0v14.1M158.4,605.2v25.3M102.4,650.3v8.4M186.4,600.7v23.5M72.1,636.9v17.9M203.0,634.2v13.3M183.7,608.4v24.1M113.9,637.9v11.0M134.5,599.1v6.9M146.2,616.9v18.8M79.7,624.1v11.8M86.3,602.9v23.9M105.0,651.2v9.8M136.3,612.7v9.0M147.0,626.3v17.0M175.5,599.0v8.9M155.3,611.3v14.0M148.0,621.0v12.5M177.3,620.5v12.3M101.9,627.8v15.9M115.5,619.8v18.3M175.6,610.0v24.7M217.9,626.4v8.2M112.0,605.3v16.4M71.2,643.5v11.4" stroke="#3f6bf0" stroke-width="0.9" fill="none" opacity="0.85"/>
<path d="M124.9,601.9v20.2M176.6,649.5v11.7M199.2,617.3v11.2M101.0,635.0v8.0M114.5,657.9v10.8M102.3,646.7v13.4M106.9,626.9v17.1M128.6,653.1v10.5M133.3,607.2v18.3M194.4,611.4v9.8M168.1,596.1v14.5M188.2,605.4v12.5M170.9,618.4v14.8M108.0,621.1v12.8M72.4,631.2v7.7M175.6,598.9v17.6M167.5,591.5v7.7M108.8,657.9v10.2M208.7,638.0v8.0M128.5,647.1v22.7M111.6,663.9v5.3M97.8,633.6v14.2M195.4,605.4v20.6M206.8,626.0v12.3M147.1,651.1v15.9M60.1,622.7v24.3M219.5,630.7v8.2M82.7,633.1v14.0M163.7,644.8v11.2M150.5,604.8v12.1M219.7,631.2v9.9M169.1,644.9v9.9M99.6,641.4v8.0M196.6,640.2v6.3M122.6,632.2v10.8M181.6,613.9v6.1M145.5,653.2v8.2M115.5,614.7v10.7M112.7,625.5v24.0M129.7,627.1v9.2M203.5,637.6v12.4M96.2,640.5v9.7M173.6,648.0v9.6M165.5,654.2v9.4M145.9,642.1v9.6M99.8,627.2v4.9M101.6,614.6v7.4M65.1,621.6v7.5M138.0,624.4v8.5M204.8,629.0v11.2M123.6,641.5v13.3M195.7,610.7v13.5M163.9,599.5v13.6M163.4,606.7v12.1M142.9,613.5v15.3M207.7,622.4v10.8M80.6,640.1v9.3M138.0,628.2v19.0M205.4,620.9v9.3M87.9,632.5v5.5M157.9,627.6v15.1M182.6,627.6v14.0M104.0,651.6v15.8M158.3,608.9v15.5M113.2,624.5v21.6M150.6,600.7v35.8M143.0,631.6v23.8M120.4,639.9v19.3M72.4,630.8v16.5M80.8,623.3v5.3M69.6,624.6v10.5M112.7,665.7v8.2M109.8,636.0v19.9M158.7,643.2v9.9M222.5,632.9v5.7M198.2,615.7v15.2M130.1,623.3v18.4M149.7,653.4v10.7M73.2,633.2v7.8M141.9,658.6v5.5M199.7,629.9v13.7M168.2,627.9v9.9M146.3,601.1v10.2M188.1,618.6v10.8M179.1,636.9v8.0M135.0,622.2v7.6M63.3,626.7v15.9M189.6,608.1v23.9M163.8,652.8v9.7M86.4,627.1v18.0M84.6,608.9v17.9M140.3,614.1v5.6M124.7,655.6v3.9M173.3,618.9v16.6M132.8,608.6v15.6M185.4,639.6v13.5M186.5,624.4v7.9M125.7,655.6v8.3M121.1,606.2v19.6M146.3,653.1v8.8M81.3,631.1v9.0M67.9,626.2v11.0M163.6,607.5v7.8M138.9,649.3v15.2M99.0,628.4v15.3M196.6,625.3v16.9M139.5,626.3v16.3M161.4,632.0v17.0M108.3,642.2v16.8M146.9,620.6v14.1M170.5,626.3v9.9M161.7,629.3v11.0M171.7,638.6v19.8M115.7,658.1v15.4M191.1,597.2v13.0M184.6,626.5v24.4M207.9,630.9v12.9M176.8,624.2v11.6M112.2,600.8v14.6M161.0,653.8v7.2M184.4,630.2v5.7M165.9,629.5v11.4M168.7,649.5v9.6M121.1,633.5v8.9M92.0,629.7v4.3M196.4,639.8v12.9M140.3,650.9v12.1M186.7,624.1v8.2M131.1,649.1v7.5M193.6,636.5v6.4M159.4,616.5v8.4M155.5,633.3v15.0M99.7,647.7v11.2M142.2,627.1v6.0M143.6,606.9v19.8M154.3,639.4v11.7M164.3,646.2v12.6M179.8,630.0v5.1M98.3,633.9v22.3M156.7,647.8v14.9M192.3,618.2v21.1M163.2,620.7v15.9M170.9,612.0v12.8M112.8,627.2v22.6M125.3,611.0v21.4M77.6,619.1v9.9M63.5,629.0v17.7M166.3,610.3v12.0M160.1,603.2v14.4M174.9,608.0v14.6M115.6,662.5v11.0M161.2,643.0v8.5M73.3,628.8v12.2M152.3,636.4v8.1M116.2,650.1v11.4M75.2,622.1v10.7M128.4,621.0v20.6M183.7,646.1v10.0M138.6,641.2v10.5M89.1,619.4v11.3M152.2,647.8v10.3M190.2,648.7v8.7M197.9,640.4v10.8M85.6,610.1v18.2M94.0,625.6v15.6M164.3,613.3v17.1M162.5,629.0v15.3M150.4,646.7v11.2M119.6,618.6v10.6M205.6,622.0v12.0M150.0,627.0v12.2M212.3,633.8v10.3M192.3,622.1v16.8M130.3,610.8v15.9M147.4,613.6v8.6M166.1,598.1v11.6M122.1,647.5v18.9M96.5,654.2v13.2M203.9,623.1v12.1M160.3,637.8v19.6M179.8,622.7v12.4M202.0,641.8v11.5M117.4,628.3v19.7M213.0,640.1v8.4M163.4,629.4v20.2M130.3,657.8v13.0M209.9,633.0v9.7M101.6,640.5v5.0M166.5,636.6v13.0M71.6,629.3v4.8M111.3,634.1v19.8M177.1,614.4v19.0M119.8,639.3v13.1M149.5,614.9v12.3M67.9,646.2v4.7M95.5,629.9v25.6M101.2,651.9v14.1M157.7,620.8v8.0M96.0,618.4v15.9M120.2,638.5v20.7M173.6,637.6v13.8M170.7,620.5v15.8M164.5,636.4v20.2M90.6,636.5v17.9M175.4,638.6v12.6M151.0,616.5v16.5M111.4,657.8v13.2M176.7,640.7v9.5M140.2,655.0v14.3M174.1,645.1v16.6M67.3,632.0v10.2M185.6,604.9v10.1M125.5,596.6v11.4M80.9,629.6v11.0M150.1,653.4v4.5M145.7,657.6v10.5M96.3,642.9v5.8M74.3,633.3v14.7M147.6,647.3v21.9M101.7,621.0v10.7M138.2,604.8v8.3M227.5,614.2v13.4M92.7,617.5v8.9M148.5,627.0v19.2M157.3,608.7v16.1M151.4,615.3v5.8M161.7,648.0v13.8M108.1,659.7v13.7M208.3,634.9v13.3M52.4,628.3v10.8M107.0,612.7v8.4M164.5,630.7v15.7M155.9,639.9v7.4M182.7,637.9v8.6M105.6,615.5v19.1M68.3,637.7v13.6M128.6,643.8v11.0M81.2,621.2v21.7M183.0,634.4v4.6" stroke="#4441d8" stroke-width="0.9" fill="none" opacity="0.85"/>
<path d="M108.1,652.3v15.0M201.5,633.3v11.3M192.5,639.5v9.2M168.8,648.3v14.8M133.2,664.9v9.2M180.9,651.5v5.3M133.6,626.2v4.5M87.2,637.6v11.0M97.1,655.3v10.7M131.5,646.7v8.0M126.9,661.5v11.9M183.1,637.0v8.5M96.9,661.9v6.3M120.5,644.9v5.9M149.5,610.1v24.8M121.5,616.5v11.7M202.2,619.6v12.6M131.4,614.6v14.6M218.4,632.5v6.4M128.3,646.0v15.0M105.3,640.3v15.1M114.9,657.9v6.8M128.0,665.0v6.1M60.7,635.1v14.1M67.4,625.8v10.6M109.4,654.5v17.6M150.0,647.3v6.2M143.4,644.2v14.1M153.6,648.4v13.0M202.3,636.7v12.3M216.3,642.8v7.2M215.8,638.1v11.8M138.5,642.9v15.4M184.5,632.0v10.5M155.5,658.2v4.4M128.2,669.7v4.0M198.5,622.9v7.3M155.1,655.3v7.2M145.6,631.0v15.0M205.6,632.2v10.6M95.9,622.8v5.3M186.4,603.6v8.8M165.4,658.8v4.8M124.5,667.2v8.4M199.1,634.3v8.8M65.4,630.6v8.4M96.7,629.9v24.1M143.5,626.2v8.8M180.1,613.4v9.4M171.3,641.1v8.5M157.2,636.3v5.9M133.0,660.2v7.3M111.5,649.0v9.6M155.6,643.6v4.4M99.7,654.7v8.3M129.4,659.9v6.2M68.6,627.2v11.3M223.3,628.6v14.7M93.8,651.3v10.6M113.7,654.6v15.6M199.7,625.2v10.3M191.3,634.7v11.3M181.1,645.5v5.5M161.9,654.2v9.3M131.4,622.3v13.5M135.1,664.8v6.3M112.0,660.6v9.0M163.6,617.8v7.5M111.4,630.6v5.4M122.5,609.1v7.4M212.9,637.6v6.5M211.7,643.4v6.5M128.4,622.3v20.4M95.0,638.0v10.4M200.7,643.8v4.4M127.5,612.5v5.1M160.6,609.8v21.2M89.6,637.4v15.5M133.2,631.6v4.8M178.8,614.4v11.4M116.0,622.8v4.8M151.6,655.9v7.1M141.8,656.5v9.3M145.9,646.9v4.8M90.1,612.4v14.7M119.8,613.4v11.1M133.7,615.5v13.0M116.0,649.0v7.7M68.3,644.2v6.8M162.0,642.3v4.8M143.3,606.4v7.4M57.5,626.0v9.4M118.8,662.7v6.4M104.0,605.4v13.6M117.5,656.7v9.9M112.8,662.5v9.6M220.5,639.2v8.8M130.2,624.1v15.1M128.3,647.7v10.9M85.0,634.1v9.2M164.6,643.7v10.9M148.8,625.9v6.3M137.7,659.9v6.1M138.5,646.3v7.6M128.2,645.8v9.3M92.9,639.3v11.4M206.9,646.2v5.3M151.4,651.4v7.1M167.8,630.0v11.6M134.3,641.9v5.2M105.3,625.6v9.3M176.1,635.5v6.4M212.4,634.0v12.0M95.7,634.2v10.3M150.6,651.6v6.6M178.4,636.8v10.1M135.4,614.4v6.6M197.6,645.1v6.1M211.2,636.6v11.2M154.5,616.8v19.3M175.3,642.9v11.1M151.9,635.0v9.2M180.5,650.4v6.5M83.0,629.4v6.2M141.8,614.7v8.4M212.7,621.8v14.0M196.6,619.6v15.3M194.2,632.0v9.0M166.8,652.5v9.6M138.7,609.7v5.8M131.7,658.7v12.4M96.6,652.6v9.0M114.0,628.4v4.6M218.9,635.2v12.2M121.3,605.9v12.3M118.9,632.6v27.0M124.8,654.5v15.2M211.9,627.9v11.5M98.9,661.5v5.6M182.4,644.3v13.6M133.4,652.0v9.7M161.9,653.5v4.2M84.0,623.8v17.6M111.8,661.1v4.4M144.3,643.0v13.8M221.5,636.1v11.6M132.3,616.6v13.3M198.5,638.9v8.3M183.6,616.4v6.4M171.9,643.6v9.0M176.0,610.1v7.0M115.0,661.0v8.2M104.3,633.4v17.4M154.0,603.0v11.1M118.0,664.6v7.8M135.7,598.0v9.4M135.0,647.4v6.6M159.1,651.2v9.1M137.5,623.5v6.7M161.4,617.0v5.0M54.5,635.5v8.3M108.5,632.5v8.0M123.5,650.9v7.9M151.1,609.8v7.2M101.1,663.9v6.5M129.2,661.3v6.6M123.5,648.2v12.4M154.4,650.9v9.3M118.0,623.0v6.0M119.3,646.5v6.0M139.0,615.4v3.9M163.4,635.3v8.6M126.6,602.6v14.3M151.8,612.2v17.5M113.6,621.6v8.9M157.2,616.2v5.5M196.4,641.7v8.8M135.4,653.0v7.9M161.4,654.3v7.5M142.5,660.0v4.1M164.2,604.1v15.0M139.5,651.7v11.3M125.6,665.1v5.0M156.5,658.2v9.0M163.7,637.0v17.5M123.4,620.1v5.2M103.3,628.8v7.4M221.1,627.6v14.3M95.9,632.0v6.0M99.6,659.1v7.9M104.8,646.7v12.6M156.5,645.6v8.9M196.0,629.4v9.2M82.3,640.9v12.9M160.6,612.2v19.6M123.1,654.5v10.2M100.3,634.7v10.0M149.3,662.7v5.0M118.4,652.3v12.1M121.9,660.3v8.7M82.5,646.8v5.1M95.9,628.2v22.5M121.2,625.1v9.7M184.0,611.7v9.7M148.1,604.2v11.5M211.5,639.1v8.3M178.2,627.9v6.2M161.6,650.7v7.0M70.5,642.2v9.8M112.7,629.4v4.7M154.6,618.0v25.1M126.3,650.5v18.4M77.4,639.8v11.3M110.7,657.7v6.8M195.3,641.3v9.6M194.1,629.4v9.1M159.6,613.1v22.8M184.8,627.2v8.7M130.8,651.1v7.6M124.0,619.2v12.7M154.3,646.7v6.8M209.7,646.8v4.3M198.8,626.7v10.5M68.7,635.0v3.9M138.1,609.4v5.7M161.4,616.8v16.7M165.3,646.0v5.2M165.4,635.0v9.2M215.3,638.9v6.7M71.4,631.2v8.8M220.6,628.4v15.7M131.3,604.4v11.4M183.1,636.9v10.8M154.8,642.5v18.6M139.0,610.2v9.2M171.0,628.7v12.9M140.9,654.1v9.6M128.0,610.7v10.6M229.4,633.0v9.2M175.1,655.2v5.0M164.2,645.4v9.1M137.2,654.2v9.6M119.6,623.7v11.9M181.9,642.6v6.5M167.3,647.5v10.7M129.1,623.2v5.0M148.5,628.2v15.2M132.3,645.0v10.1M149.5,592.7v18.2M147.4,630.6v10.3M160.3,632.3v10.6M154.5,620.6v11.8M84.3,619.2v10.9M155.9,643.0v8.3M120.7,656.7v8.8M63.8,636.0v10.6M136.8,652.6v4.6M56.6,623.5v21.6M136.9,614.3v5.7M142.3,610.2v16.4M160.6,606.3v7.3M205.0,624.8v11.4M82.4,638.6v11.5M187.0,638.7v8.9M94.3,650.9v11.4M136.8,658.6v8.9M148.7,653.9v7.6M103.0,628.4v5.1M173.2,606.6v6.9M181.0,632.5v5.7M221.7,644.2v4.3M175.6,653.7v5.0M143.6,656.8v5.8M100.5,623.0v15.6M135.1,623.4v7.6M151.0,604.3v18.3M158.0,636.3v8.7M182.4,627.4v7.4M148.5,619.6v9.5M162.1,640.6v4.7M161.8,647.6v9.7M146.5,638.3v13.7M145.1,629.2v12.0M96.5,655.4v12.1M70.7,643.0v9.4M129.2,609.2v8.8M95.8,617.2v9.4M160.5,608.9v4.7" stroke="#4238c8" stroke-width="0.9" fill="none" opacity="0.85"/>
<path d="M128.0,665.0v6.2M115.7,650.5v6.6M212.7,627.0v8.8M169.6,638.6v8.5M156.3,604.7v7.1M165.3,611.6v6.2M116.3,664.8v10.9M174.1,634.0v8.0M142.3,626.9v5.9M100.9,636.2v7.6M180.3,642.5v7.5M162.0,638.0v5.1M107.4,631.5v6.4M154.1,608.3v4.6M71.9,624.3v8.1M100.8,634.3v8.4M123.0,641.5v10.6M157.7,600.5v8.7M211.0,626.5v8.6M96.6,655.2v8.2M79.8,640.6v6.2M79.8,635.3v5.4M200.5,620.4v11.0M106.3,617.3v7.4M54.1,634.9v4.5M78.8,647.9v6.4M172.0,636.5v9.5M69.9,626.9v10.6M155.1,659.3v7.3M98.9,651.2v7.3M114.2,660.6v5.6M125.0,620.1v12.1M130.8,612.3v8.4M135.5,627.1v4.6M66.9,633.1v7.0M78.6,629.5v6.1M115.2,633.8v4.0M122.3,616.7v6.1M146.2,656.1v5.8M181.1,629.7v6.2M98.9,617.0v10.0M208.0,620.8v10.1M224.0,639.9v7.8M174.0,653.0v6.8M179.4,631.2v8.5M65.0,636.7v6.2M199.7,645.5v6.8M173.8,611.1v11.2M205.5,642.0v4.8M79.1,645.8v10.1M78.2,632.5v5.2M121.4,609.1v7.4M73.4,638.1v7.4M169.9,604.0v9.9M74.7,636.1v7.9M65.0,641.0v10.4M66.0,646.2v5.9M124.9,610.0v8.3M90.5,643.0v4.9M114.0,655.1v4.9M48.0,633.5v7.5M181.3,650.6v6.3M146.0,617.5v5.2M129.8,609.7v8.6M141.4,623.5v4.9M96.7,634.8v12.2M150.6,597.1v7.9M144.5,618.6v6.9M99.5,623.0v4.7M68.1,622.2v10.1M106.1,649.8v6.0M98.1,618.9v5.9M105.8,640.9v6.0M178.5,631.0v10.2M188.3,639.8v8.2M122.3,612.4v10.3M83.3,633.9v8.1M141.1,645.9v5.5M121.4,607.9v8.6M91.8,617.2v8.7M161.6,617.3v6.6M142.0,601.6v11.6M68.7,644.3v4.8M156.1,604.3v5.4M124.3,661.5v6.1M155.3,619.3v7.5M109.3,624.1v9.3M144.3,615.0v10.5M187.8,611.0v10.0M140.4,654.8v8.6M145.3,609.5v6.9M144.6,638.6v7.7M70.5,645.8v8.7M197.3,642.9v7.9M164.0,615.9v5.4M158.2,601.9v7.1M164.1,658.4v4.8M61.1,639.7v5.8M172.6,628.1v6.9M176.4,610.5v6.6M153.7,601.3v7.4M61.0,640.1v7.3M54.9,631.0v5.2M131.4,649.3v7.3M157.5,594.9v13.2M140.7,608.5v20.9M89.7,618.1v8.6M169.1,616.4v5.5M114.3,629.1v8.3M189.0,629.6v10.4M75.6,637.8v6.9M151.7,606.0v5.6M74.0,635.6v9.9M124.0,648.4v6.4M126.4,615.1v9.4M71.5,631.7v8.7M118.4,632.3v9.0M74.1,645.8v4.4M171.7,598.1v32.3M133.9,649.1v8.9M124.4,624.0v5.7M90.4,616.3v10.7M89.3,655.0v8.8M121.9,627.2v7.9M141.0,649.5v7.7M129.2,620.5v5.8M211.3,636.3v5.0M167.6,643.6v6.4M110.3,640.1v5.4M71.3,642.2v6.2M180.3,637.2v10.9M126.6,615.1v7.6M118.5,645.4v6.2M221.3,617.1v17.7M162.5,608.0v4.6M216.5,633.0v11.1M97.8,636.3v8.9M159.1,589.7v20.6M162.1,639.5v5.8M131.8,604.7v13.3M161.8,612.7v5.2M135.9,616.2v7.2M117.9,624.7v8.3M74.7,633.5v6.1M154.8,636.6v10.7M96.6,661.5v6.3M97.0,636.2v6.9M102.1,621.1v5.8M100.2,635.6v8.4M156.3,605.1v6.7M186.1,638.9v5.9M165.3,647.8v9.5M151.8,614.7v4.8M129.1,643.6v5.4M191.4,615.5v7.0M180.3,612.9v10.0M135.8,607.4v16.5M127.9,666.4v7.3M181.7,644.4v7.0M115.3,617.3v4.1M163.5,630.4v8.6M128.9,650.7v4.8M96.9,659.3v6.4M140.7,627.5v6.6M189.7,598.0v21.0M192.7,649.7v4.8M231.4,634.0v11.5M208.8,643.1v5.1M150.6,645.2v6.4M219.0,641.4v7.7M199.7,642.4v7.4M217.1,638.1v6.4M82.8,646.6v7.4M169.0,606.1v7.9M145.2,664.4v5.5M61.8,634.9v6.7M60.8,644.5v4.7M73.2,646.3v7.5M60.7,643.7v5.5M125.2,652.5v9.2M141.2,657.7v5.7M99.1,622.6v6.9M134.8,621.2v5.5M72.4,635.4v11.5M72.7,646.8v4.9M143.5,649.2v9.1M135.1,642.8v7.5M101.5,631.7v9.5M104.9,627.9v8.9M86.2,651.8v10.5M132.6,617.3v4.8M179.7,622.0v22.2M77.3,634.7v10.3M104.5,623.0v6.9M95.2,640.8v9.2M81.4,642.0v5.6M98.3,654.9v5.6M127.8,608.0v8.5M189.2,634.5v9.7M97.6,621.0v9.7M125.7,607.6v9.0M155.1,648.9v4.9M143.2,601.7v11.1M156.4,646.3v8.2M179.0,628.6v6.4M79.1,636.6v7.4M198.0,619.2v7.2M176.3,608.8v8.0M151.0,636.2v9.5M70.5,630.4v9.3M47.9,630.3v8.1M54.4,636.4v7.4M163.5,602.4v10.8M154.3,625.4v5.3M188.6,629.6v10.4M146.4,639.6v5.8M222.5,638.7v6.4M94.8,638.0v5.8M112.3,662.5v11.4M144.0,638.7v11.5M158.5,632.0v8.5M191.0,642.4v7.4M59.3,634.6v5.9M62.8,633.6v12.3M178.8,638.6v4.8M147.7,612.7v8.5M49.9,612.6v19.4M170.0,607.6v6.3M137.4,608.0v6.5" stroke="#434be1" stroke-width="0.9" fill="none" opacity="0.85"/>
<path d="M128.8,625.6v17.3M129.0,619.3v14.7M141.2,608.8v9.5M92.2,612.6v10.6M107.9,616.2v8.6M125.3,635.3v17.3M93.2,630.9v20.1M155.5,622.9v14.7M107.4,624.5v17.7M210.9,623.2v9.3M76.3,629.5v23.7M55.2,629.1v11.1M159.5,627.6v13.9M195.8,645.2v10.8M152.6,610.2v15.7M66.0,632.4v13.2M93.4,639.9v12.1M110.5,635.1v18.3M158.6,607.2v13.4M182.3,628.5v10.1M119.1,627.2v15.1M165.6,604.4v13.7M114.8,624.6v12.8M164.5,623.5v14.4M79.3,637.6v12.9M163.2,604.7v10.5M156.0,618.2v17.0M114.1,622.4v16.8M75.2,642.1v10.3M217.3,624.4v11.2M115.4,621.6v12.2M93.2,617.8v8.1M100.4,608.9v14.8M196.4,625.9v20.2M122.7,661.7v8.8M180.7,630.9v8.0M189.2,608.1v16.4M220.3,625.5v13.8M76.9,631.0v13.6M107.3,607.3v10.8M66.8,623.3v19.0M114.1,627.1v14.1M218.8,630.0v8.9M107.1,616.3v8.9M170.2,633.9v8.7M147.8,654.3v10.5M123.5,615.7v11.8M188.4,611.4v12.6M68.7,617.2v19.5M204.7,620.0v11.4M119.5,659.3v15.9M88.1,610.2v17.9M172.7,623.9v16.6M103.7,614.8v11.0M175.8,635.8v12.0M131.4,623.7v18.5M161.4,612.8v15.4M71.5,634.7v9.7M169.6,609.1v9.8M119.4,616.0v17.1M92.1,645.3v15.9M198.1,637.1v16.2M164.7,621.7v16.6M170.3,601.5v10.4M226.9,620.7v13.6M128.8,611.8v16.0M168.8,649.8v8.0M140.0,624.5v13.0M90.1,618.6v10.3M94.8,631.5v14.5M128.8,627.5v8.6M123.9,644.7v10.1M76.9,647.3v9.4M128.1,654.7v12.5M201.6,618.4v17.8M121.7,620.5v14.3M120.9,624.3v19.5M99.4,628.8v11.3M68.4,618.6v13.1M207.4,617.5v13.4M165.1,608.5v11.3M175.7,623.7v11.6M139.5,631.1v14.9M179.9,626.8v15.1M93.8,620.0v21.6M147.2,621.3v8.9M152.0,631.0v15.2M79.3,637.8v12.7M82.4,641.9v8.2M157.1,609.6v12.1M183.6,640.6v13.5M110.3,625.3v11.8M66.8,622.3v19.6M185.5,627.3v13.4M211.9,625.5v9.8M171.6,616.8v10.4M98.7,623.3v9.9M45.2,621.9v18.9M89.9,620.0v18.5M112.5,612.5v17.3M151.7,613.8v11.9M157.9,615.3v18.1M100.6,615.9v12.2M79.9,630.5v12.3M157.0,620.4v11.2M94.3,637.8v14.6M215.9,639.7v10.2M53.3,625.8v11.2M98.6,636.4v19.5M114.7,662.8v12.1M134.5,649.1v12.9M128.1,628.5v11.4M195.5,623.0v16.5M160.3,641.9v11.1M150.3,610.7v11.5M156.2,595.2v20.9M107.8,626.0v8.0M99.5,606.7v15.5M118.4,619.6v11.2M164.3,637.3v13.5M49.3,629.2v12.1M147.4,609.0v17.9M120.2,640.1v12.9M70.8,620.4v14.9M66.0,624.5v9.0M92.3,637.1v17.4M95.6,627.6v20.1M118.7,649.4v10.9M95.1,635.0v13.1M127.5,615.9v7.5M205.0,626.6v17.9M225.9,634.3v10.4M158.9,606.4v12.2M188.7,632.7v13.8M182.8,611.2v12.7M172.2,608.2v13.0M165.8,604.5v13.6M227.2,630.9v10.2M65.9,640.5v11.2M188.8,619.1v11.9M163.8,636.0v18.5M88.9,627.6v21.7M54.0,623.0v7.7M190.7,622.9v10.6M134.5,623.6v16.6M78.0,617.5v13.3M99.8,624.4v11.7M162.6,638.5v13.0M110.0,650.4v19.7M111.9,636.2v10.8M127.3,605.4v15.6M101.1,627.3v19.6M99.1,632.9v16.7M178.1,626.2v14.9M79.1,640.0v17.0M180.0,613.3v7.4M121.4,626.3v18.9M189.3,601.9v10.9M188.2,613.8v10.1M179.8,633.4v12.5M153.0,621.5v11.8M107.2,605.5v17.4M202.8,630.3v10.7M144.4,631.9v9.8M126.9,608.4v8.6M107.3,613.5v9.7M167.0,609.1v15.7M163.0,647.9v8.0M133.1,621.9v10.6M139.1,632.4v12.6M140.6,617.9v20.9M124.7,619.1v13.1M108.5,617.4v11.5M166.1,608.5v20.3M105.2,652.1v13.8M141.1,636.8v12.0M197.8,632.8v12.9M105.0,603.9v18.3M143.6,603.2v8.6M70.5,629.4v10.6M73.9,625.3v11.8M68.5,624.8v12.0M64.5,626.2v10.2M162.7,612.4v14.7M181.0,628.4v14.9M136.2,620.4v13.5M102.4,626.1v13.7M100.2,646.9v10.0M163.5,637.7v16.4M167.1,630.4v10.8M97.0,612.3v18.0M55.9,633.2v11.2M99.2,626.1v20.1M91.6,637.1v15.0M186.0,637.2v8.2M87.4,611.5v11.5M109.8,656.3v8.1M142.3,594.2v12.6M88.0,647.7v15.4" stroke="#415fed" stroke-width="0.9" fill="none" opacity="0.85"/>
<path d="M108.9,604.6v15.3M158.5,619.5v13.0M106.1,649.0v6.3M105.1,642.2v10.3M166.9,648.1v8.2M76.1,621.1v8.1M184.4,611.2v8.1M153.0,648.0v7.2M91.8,620.6v9.3M193.8,631.6v13.6M182.1,635.9v7.1M99.4,617.0v12.6M156.1,607.1v15.5M117.8,607.9v10.6M222.9,636.0v6.9M102.1,626.1v6.7M152.2,608.9v9.4M92.9,639.9v12.3M140.4,617.5v9.5M195.3,632.2v11.0M199.8,636.8v12.9M127.2,601.2v14.1M84.5,639.5v14.9M233.2,627.8v15.6M53.0,627.2v11.4M61.3,638.3v11.6M127.3,618.4v6.9M182.5,602.1v12.7M201.8,612.1v10.2M171.1,602.9v8.9M157.0,636.8v10.0M174.3,600.9v14.9M173.3,638.0v9.4M227.7,628.3v9.5M113.8,649.9v6.1M147.5,628.4v6.5M154.8,616.6v15.9M170.1,649.9v5.9M142.0,647.0v10.9M94.5,638.5v12.6M180.9,613.2v11.7M202.1,620.8v14.0M112.0,641.6v15.5M167.0,608.6v14.7M112.5,630.9v5.5M187.6,625.8v17.8M184.8,633.4v15.0M96.9,638.0v7.2M102.3,631.0v10.6M82.3,619.0v12.1M164.4,634.1v9.7M113.0,617.9v14.4M215.7,626.9v16.5M218.8,623.5v11.3M76.3,619.6v15.7M140.2,634.9v10.6M129.9,652.7v9.4M205.7,622.8v9.3M198.0,622.5v14.2M182.2,637.7v13.6M158.4,635.1v12.5M178.4,607.0v8.7M195.1,629.1v12.3M91.2,636.8v14.9M113.8,650.0v14.0M92.7,625.6v9.0M155.7,639.6v12.7M107.7,621.0v13.2M172.0,630.2v9.9M230.1,629.6v13.2M165.1,600.3v9.8M73.8,630.7v12.9M90.4,639.5v10.2M94.1,646.9v8.8M197.5,628.6v9.4M126.9,614.2v9.9M143.6,594.4v17.3M71.0,625.2v10.5M178.7,635.6v9.6M83.0,620.4v11.1M160.0,625.5v13.8M76.6,645.8v10.8M186.6,629.9v13.0M58.2,622.3v12.6M159.1,618.9v13.0M190.4,643.0v8.6M132.2,623.0v13.1M131.8,644.2v8.3M84.9,622.6v12.2M189.7,629.2v7.1M165.3,627.1v14.8M100.9,615.6v12.4M125.1,628.9v16.9M190.7,609.1v13.3M147.8,627.6v13.9M142.7,626.1v6.9M79.0,642.1v11.4M121.7,646.5v6.8M96.0,636.0v6.3M190.3,632.2v12.8M118.2,654.5v11.7M119.0,624.4v9.3M133.7,627.5v11.2M111.4,616.5v7.8M156.4,614.8v8.7M224.1,637.6v8.3M144.6,603.9v8.1M210.1,636.7v12.2M79.2,625.9v9.2M103.6,614.3v9.8M131.6,647.2v5.3M144.8,609.6v12.4M201.5,640.7v9.9M80.0,646.3v8.4M190.4,613.2v8.9M164.1,625.5v14.1M185.6,638.3v10.4M174.0,641.4v12.2M187.2,605.2v15.1M104.3,638.8v8.7M198.8,619.6v11.1M158.9,652.2v10.3M109.3,644.3v13.2M140.3,642.7v12.4M121.8,611.3v10.0M128.9,645.4v11.9M139.2,609.8v7.3M99.3,624.6v11.5M77.9,628.7v9.4M159.0,602.2v6.8M168.9,599.5v12.5M127.3,664.9v10.3M194.5,624.6v8.0M90.6,624.6v4.6M108.0,654.6v10.9M104.5,609.8v9.9M168.8,649.5v7.4M188.1,628.7v13.1M62.6,629.3v10.7M90.8,625.0v12.6M139.1,613.2v10.3M96.2,616.2v9.7M191.3,642.3v5.4M95.7,635.1v9.1M144.3,619.1v9.3M178.6,651.0v9.2M101.2,630.3v14.5M186.2,617.5v11.6M118.9,626.9v8.6M120.5,666.5v9.5M152.3,613.0v12.4M98.9,644.8v7.8M194.4,615.8v11.9M189.8,636.2v10.9M104.8,623.5v8.9M183.6,639.0v12.7M158.5,613.4v10.0M137.2,623.3v9.2M140.0,640.4v9.9M157.5,617.9v10.3M221.3,628.9v8.9M123.8,619.0v6.3M178.6,607.3v13.1M146.6,636.2v13.3M134.7,619.7v7.0M80.9,642.2v12.7M131.9,605.7v12.0M169.9,638.9v10.0M152.4,653.6v9.3M133.9,611.2v7.2M106.0,632.9v8.5M179.2,611.4v7.2M168.3,641.9v10.2M119.9,659.7v8.7M142.8,599.4v13.4M167.6,613.6v16.0M168.9,642.1v10.5M124.9,634.6v13.8M126.5,608.1v12.6M110.7,624.5v13.0M92.1,620.6v7.2M194.1,633.9v11.1M164.8,615.5v8.3M186.2,616.4v7.3M160.1,608.6v8.6M113.8,609.1v11.6M83.6,637.9v12.5M132.1,657.2v7.7M159.3,631.0v8.1M168.0,611.8v7.3M207.5,638.2v10.0M122.7,644.0v10.0M149.7,610.8v11.5M76.6,632.9v6.0M229.1,633.1v12.8M153.0,619.6v10.4M89.0,633.8v7.1M109.2,610.1v10.2M134.8,639.7v14.7M117.8,619.5v13.1M181.2,628.9v11.5M195.1,630.3v15.5M73.7,631.5v11.7M162.7,615.2v7.1M152.5,633.1v9.0M77.2,642.1v11.5M156.2,654.7v10.3M132.7,620.9v17.3M93.0,654.2v7.3M124.1,657.1v12.7M168.3,606.6v16.4M132.3,622.5v11.4M208.3,622.0v11.6M127.0,599.4v17.9M89.5,618.8v7.5M62.7,630.8v11.5M112.7,610.7v8.8M148.6,620.8v14.1M128.2,612.5v7.2M225.5,629.4v13.2M74.7,637.1v11.2M69.6,629.1v10.2M90.9,611.4v12.1M103.8,623.5v9.2M103.3,614.7v13.0M204.1,618.2v13.2M106.7,647.7v10.9M126.1,663.7v8.6M115.1,608.4v14.8M58.0,622.2v13.6M124.7,636.8v14.2M131.3,651.2v7.2M113.9,626.4v15.0M62.7,626.3v13.4M88.7,618.6v9.9M185.7,621.8v9.2M193.7,630.5v12.0M134.6,611.5v9.4M118.8,613.7v11.2M156.3,614.9v14.7M152.6,615.7v12.2M118.6,628.8v6.8M123.8,626.5v7.2M193.8,638.7v9.9M138.1,646.2v13.9M67.1,638.0v14.4M151.8,608.7v8.8M187.9,605.9v14.8M93.2,623.5v11.2M160.9,613.6v12.4M152.1,610.7v10.5M171.1,607.2v11.5M127.3,653.8v6.8M145.6,634.6v12.6M178.3,628.5v10.1M167.1,646.5v8.2M112.6,612.0v7.5M142.8,604.0v8.3M138.5,634.7v17.0M160.6,593.3v17.7M147.0,619.0v7.9M120.2,624.6v9.0M152.1,644.4v10.5M102.1,633.2v10.1M176.5,650.3v6.6M68.4,628.7v13.8M82.3,626.4v9.2M197.3,627.0v13.2M216.6,623.2v8.3M224.0,631.4v7.9M152.2,610.8v12.8M199.6,633.1v12.6M114.1,633.5v10.0M124.9,646.5v6.8M162.3,609.5v9.0M174.0,606.9v11.8M216.3,632.8v10.9M181.6,619.8v14.0M86.4,628.5v7.7M126.5,605.4v10.6M53.3,625.7v11.6M125.5,637.6v9.2M155.7,639.8v12.6M102.0,643.6v14.6M128.9,624.8v11.4M190.0,633.5v11.5M111.2,632.7v14.2M207.7,628.3v9.3M140.5,637.7v8.7M201.3,632.3v6.1M161.2,609.4v12.3M144.4,641.2v5.3M178.7,608.7v7.4M203.6,627.3v6.0M126.9,628.4v10.9M171.3,612.2v10.8M132.8,626.6v13.3M218.4,628.9v7.9M181.1,604.0v13.1M76.6,641.8v13.4M120.6,643.2v7.2M204.7,617.8v8.1M153.1,620.6v12.7M125.4,605.0v11.6M146.8,642.1v11.7M175.2,609.6v15.0M117.1,637.2v15.6M191.0,619.1v10.6M105.5,630.7v8.5M214.1,622.3v11.8M94.7,643.4v8.1" stroke="#4254e8" stroke-width="0.9" fill="none" opacity="0.85"/>
<path d="M90.0,634.4v19.0M123.0,618.8v25.2M124.6,623.8v21.3M80.0,598.8v7.3M166.6,592.5v28.7M81.8,632.6v15.5M182.9,599.6v21.7M153.9,618.2v10.9M112.6,630.1v24.6M165.0,591.6v39.5M88.8,606.5v7.6M112.5,626.0v25.4M76.2,608.3v18.6M145.9,606.1v25.4M129.0,613.4v16.4M144.1,618.0v19.9M171.2,597.7v32.8M217.9,614.7v23.1M181.4,599.8v13.5" stroke="#3a8ef0" stroke-width="0.9" fill="none" opacity="0.85"/>
<path d="M189.6,604.3v19.3M121.6,643.4v18.4M121.0,635.5v22.5M139.6,629.0v16.6M136.7,605.1v15.5M139.4,607.8v15.6M130.3,615.8v23.7M149.0,616.4v18.9M158.5,600.4v17.0M186.6,614.4v14.7M185.7,633.8v17.5M142.2,602.4v8.1M84.0,605.1v21.4M176.0,627.0v19.3M174.0,630.9v8.8M81.9,600.7v8.1M161.0,640.0v10.6M98.6,643.5v20.3M99.0,631.8v13.7M101.2,602.8v13.6M195.5,627.0v10.2M131.3,600.8v9.4M88.0,642.6v16.3M107.3,631.4v8.8M92.9,623.4v28.9M117.4,615.6v11.2M138.0,613.3v15.2M165.1,596.3v17.8M95.3,592.0v27.4M211.1,618.1v26.4M190.8,623.1v14.4M85.0,632.7v10.3M126.6,606.2v20.9M184.9,621.4v17.0M70.7,621.8v20.0M48.0,617.1v12.2M153.6,620.8v15.7M138.7,610.3v14.6M75.2,617.2v16.6M122.7,620.7v15.5M188.5,593.7v22.8M79.8,623.2v19.2M146.4,601.7v13.7M150.4,610.0v12.6M159.8,618.0v23.9M187.3,594.7v19.0M146.1,610.8v25.8M170.9,614.1v17.4M167.3,602.3v18.6M138.8,626.4v16.2M105.9,614.1v16.7M120.0,651.2v11.1M182.4,598.3v22.8M85.6,635.4v12.0M181.1,631.0v16.3M128.6,626.8v18.8M192.2,627.2v10.5" stroke="#3e77f2" stroke-width="0.9" fill="none" opacity="0.85"/>
<path d="M164.9,596.5v15.2M158.2,595.1v15.1M103.8,628.5v17.9M192.9,609.6v12.5M120.3,623.3v12.3M140.8,604.9v10.6M146.3,615.2v14.8M175.4,614.4v16.3M139.5,605.4v12.9M82.9,634.1v21.1M127.2,620.7v19.4M99.1,625.8v22.2M171.3,598.8v11.1M116.9,623.6v12.1M133.2,616.4v19.1M146.5,629.5v11.7M86.2,620.2v12.3M145.6,605.4v16.2M115.3,637.1v11.0M115.1,634.5v24.0M171.5,593.6v24.3M186.1,591.8v22.0M81.4,605.6v24.0M188.9,605.1v19.3M154.1,605.1v23.0M109.6,594.3v26.0M125.7,612.5v16.8M161.7,622.8v17.1M183.4,588.7v36.4M190.9,589.2v34.2M99.7,623.6v7.5M105.1,626.4v18.1M119.0,615.0v29.7" stroke="#3c82f1" stroke-width="0.9" fill="none" opacity="0.85"/>
<path d="M188.2,587.8v24.3M82.5,616.8v36.4" stroke="#30b2d3" stroke-width="0.9" fill="none" opacity="0.85"/>
<path d="M171.2,574.4v22.7M129.6,603.4v32.8M82.7,630.4v29.5M123.7,600.0v12.1M193.3,600.7v15.7M118.6,601.8v25.3M152.8,587.7v21.4M112.0,633.8v22.9M182.0,601.7v18.4M195.9,599.6v27.6M191.5,584.1v28.9M86.3,609.0v13.0M168.6,600.7v12.2M76.8,602.4v20.5" stroke="#3698ea" stroke-width="0.9" fill="none" opacity="0.85"/>
<path d="M149.7,577.0v44.7" stroke="#51c3ae" stroke-width="0.9" fill="none" opacity="0.85"/>
<path d="M141.9,607.5v13.6" stroke="#30aadd" stroke-width="0.9" fill="none" opacity="0.85"/>
<path d="M171.3,590.8v37.9" stroke="#33b9c9" stroke-width="0.9" fill="none" opacity="0.85"/>
<path d="M217.2,610.0v14.3M156.1,597.2v38.6" stroke="#32a2e4" stroke-width="0.9" fill="none" opacity="0.85"/>
<line x1="35.00" y1="640.90" x2="35.00" y2="526.70" stroke="#111" stroke-width="1.4"/>
<polygon points="35.00,522.70 36.60,528.70 33.40,528.70" fill="#000"/>
<line x1="124.65" y1="686.52" x2="15.78" y2="631.99" stroke="#111" stroke-width="1.4"/>
<polygon points="12.20,630.20 18.28,631.46 16.85,634.32" fill="#000"/>
<line x1="123.72" y1="686.44" x2="253.76" y2="647.94" stroke="#111" stroke-width="1.4"/>
<polygon points="257.60,646.80 252.30,650.04 251.39,646.97" fill="#000"/>
<text x="29.4" y="641.5" font-size="8.8" text-anchor="end" font-weight="bold" fill="#1a1a1a">0</text>
<line x1="32.00" y1="619.58" x2="35.00" y2="620.48" stroke="#111" stroke-width="0.9"/>
<text x="29.4" y="622.6" font-size="8.8" text-anchor="end" font-weight="bold" fill="#1a1a1a">1</text>
<line x1="32.00" y1="599.66" x2="35.00" y2="600.56" stroke="#111" stroke-width="0.9"/>
<text x="29.4" y="602.7" font-size="8.8" text-anchor="end" font-weight="bold" fill="#1a1a1a">2</text>
<line x1="32.00" y1="579.74" x2="35.00" y2="580.64" stroke="#111" stroke-width="0.9"/>
<text x="29.4" y="582.7" font-size="8.8" text-anchor="end" font-weight="bold" fill="#1a1a1a">3</text>
<line x1="32.00" y1="559.82" x2="35.00" y2="560.72" stroke="#111" stroke-width="0.9"/>
<text x="29.4" y="562.8" font-size="8.8" text-anchor="end" font-weight="bold" fill="#1a1a1a">4</text>
<line x1="32.00" y1="539.90" x2="35.00" y2="540.80" stroke="#111" stroke-width="0.9"/>
<text x="29.4" y="542.9" font-size="8.8" text-anchor="end" font-weight="bold" fill="#1a1a1a">5</text>
<line x1="35.00" y1="640.40" x2="37.91" y2="639.56" stroke="#111" stroke-width="0.9"/>
<text x="26.7" y="651.5" font-size="8.8" text-anchor="middle" font-weight="bold" fill="#1a1a1a">2</text>
<line x1="79.60" y1="663.35" x2="82.52" y2="662.51" stroke="#111" stroke-width="0.9"/>
<text x="71.3" y="674.5" font-size="8.8" text-anchor="middle" font-weight="bold" fill="#1a1a1a">0</text>
<line x1="124.20" y1="686.30" x2="127.12" y2="685.46" stroke="#111" stroke-width="0.9"/>
<text x="115.9" y="697.4" font-size="8.8" text-anchor="middle" font-weight="bold" fill="#1a1a1a">-2</text>
<line x1="124.20" y1="686.30" x2="121.30" y2="684.81" stroke="#111" stroke-width="0.9"/>
<text x="129.0" y="697.8" font-size="8.8" text-anchor="start" font-weight="bold" fill="#1a1a1a">0</text>
<line x1="153.35" y1="677.88" x2="150.45" y2="676.38" stroke="#111" stroke-width="0.9"/>
<text x="158.2" y="689.4" font-size="8.8" text-anchor="start" font-weight="bold" fill="#1a1a1a">0.5</text>
<line x1="182.50" y1="669.45" x2="179.60" y2="667.96" stroke="#111" stroke-width="0.9"/>
<text x="187.3" y="681.0" font-size="8.8" text-anchor="start" font-weight="bold" fill="#1a1a1a">1</text>
<line x1="211.65" y1="661.02" x2="208.75" y2="659.53" stroke="#111" stroke-width="0.9"/>
<text x="216.5" y="672.5" font-size="8.8" text-anchor="start" font-weight="bold" fill="#1a1a1a">1.5</text>
<line x1="240.80" y1="652.60" x2="237.90" y2="651.11" stroke="#111" stroke-width="0.9"/>
<text x="245.6" y="664.1" font-size="8.8" text-anchor="start" font-weight="bold" fill="#1a1a1a">2</text>
<text x="46.5" y="694.2" font-size="8.9" text-anchor="middle" font-weight="bold" fill="#1a1a1a">Frequency vector(Hz)</text>
<text x="206.5" y="697.6" font-size="8.9" text-anchor="middle" font-weight="bold" fill="#1a1a1a">Search interval</text>
<text x="22.4" y="580.5" font-size="10.3" text-anchor="middle" font-weight="bold" transform="rotate(-90 22.4 580.5)" fill="#1a1a1a">Amplitude (dB)</text>
<text x="17.5" y="679.6" font-size="10" fill="#1a1a1a">×<tspan font-weight="bold" dx="0.6">10</tspan><tspan dy="-4.5" font-size="6.8" font-weight="bold">6</tspan></text>
<text x="132.5" y="728.5" font-size="15.5" text-anchor="middle" fill="#111">(<tspan font-weight="bold">e</tspan>)</text>
</svg>
</body></html>
